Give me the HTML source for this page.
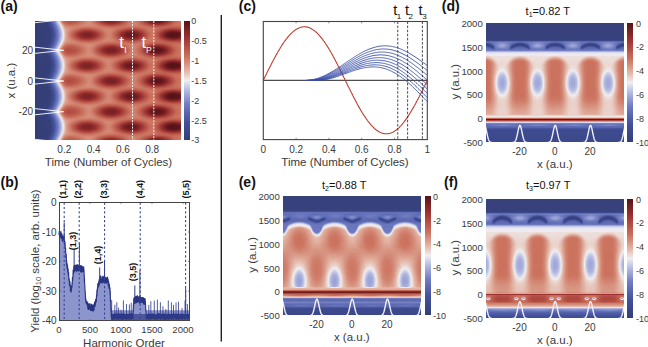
<!DOCTYPE html><html><head><meta charset="utf-8"><style>html,body{margin:0;padding:0;background:#fff}body{width:648px;height:347px;position:relative;overflow:hidden;font-family:"Liberation Sans",sans-serif}</style></head><body><div style="position:absolute;left:35px;top:21px;width:146px;height:119px;overflow:hidden"><div style="height:1px;background:linear-gradient(90deg,#343e76 0.5px,#36407b 11.5px,#45539e 15.5px,#7a85c7 19.5px,#c9cce7 22.5px,#eceaef 23.5px,#e0ab9a 25.5px,#cb7460 27.5px,#ba594c 30.5px,#b44f45 35.5px,#c06051 43.5px,#cf7d6a 49.5px,#d58d7a 54.5px,#cd7865 58.5px,#a03331 67.5px,#822527 72.5px,#7d2425 78.5px,#942e2d 83.5px,#ae453e 87.5px,#ce7a67 95.5px,#d1826f 99.5px,#c26454 105.5px,#9f3331 111.5px,#721f22 116.5px,#62171c 121.5px,#6a1b1f 126.5px,#8f2c2c 131.5px,#a93f39 134.5px,#c56857 140.5px,#cc7662 145.5px)"></div><div style="height:1px;background:linear-gradient(90deg,#343e76 0.5px,#354079 11.5px,#424f9a 15.5px,#707cc2 19.5px,#bac0e3 22.5px,#dcddeb 23.5px,#eddedb 24.5px,#e5baab 25.5px,#d0806d 27.5px,#c96e5a 28.5px,#b9564a 32.5px,#ba584c 39.5px,#cc7763 47.5px,#d58e7c 53.5px,#d18370 57.5px,#b04941 65.5px,#9c3130 69.5px,#872829 74.5px,#8a292a 79.5px,#a43835 84.5px,#cd7864 94.5px,#d18471 98.5px,#cd7965 102.5px,#ab423c 110.5px,#8d2a2b 114.5px,#701e21 119.5px,#6f1d21 124.5px,#892929 129.5px,#a83e39 133.5px,#c76b58 140.5px,#cd7763 145.5px)"></div><div style="height:1px;background:linear-gradient(90deg,#343e76 0.5px,#353f78 11.5px,#404d95 15.5px,#5e6bb3 18.5px,#7b86c7 20.5px,#c9cce7 23.5px,#ebeaef 24.5px,#ead0c9 25.5px,#e1ae9e 26.5px,#ce7c68 28.5px,#c86e5a 29.5px,#bd5c4e 33.5px,#c36554 41.5px,#cf7d6a 47.5px,#d6907d 53.5px,#d28774 57.5px,#b85449 65.5px,#a13432 71.5px,#962f2e 76.5px,#a63a36 82.5px,#ce7c68 94.5px,#d18471 99.5px,#c86d5a 105.5px,#972f2e 115.5px,#812527 120.5px,#852728 125.5px,#a73b37 131.5px,#c66b58 139.5px,#cd7864 145.5px)"></div><div style="height:1px;background:linear-gradient(90deg,#343e76 0.5px,#353f79 12.5px,#414f99 16.5px,#6f7bc2 20.5px,#b7bde2 23.5px,#d7d8ea 24.5px,#eee6e5 25.5px,#e7c4b8 26.5px,#dea695 27.5px,#ce7c68 29.5px,#c76c59 31.5px,#c36555 36.5px,#cc7561 43.5px,#d58d7b 51.5px,#d48a77 57.5px,#bc5b4e 66.5px,#a93f3a 73.5px,#aa403a 79.5px,#cf7e6b 94.5px,#d0816e 101.5px,#bf6050 109.5px,#a23532 117.5px,#972f2e 122.5px,#a63b37 128.5px,#c96e5b 139.5px,#cd7764 145.5px)"></div><div style="height:1px;background:linear-gradient(90deg,#343e76 0.5px,#353f77 12.5px,#404d95 16.5px,#5e6bb3 19.5px,#7b86c7 21.5px,#c6cae6 24.5px,#e6e5ee 25.5px,#ebd8d3 26.5px,#e4b8a8 27.5px,#d48b79 29.5px,#cd7966 31.5px,#ca705c 35.5px,#d48a77 51.5px,#d28673 59.5px,#bd5d4f 69.5px,#b44f45 76.5px,#c06152 84.5px,#ce7b68 93.5px,#ce7b68 104.5px,#ac433d 119.5px,#ae463f 126.5px,#c76c59 138.5px,#cb735f 145.5px)"></div><div style="height:1px;background:linear-gradient(90deg,#343e76 0.5px,#354079 13.5px,#42509a 17.5px,#717dc2 21.5px,#b7bde2 24.5px,#d6d7ea 25.5px,#efe9ea 26.5px,#e1ae9e 28.5px,#da9a88 29.5px,#d28673 31.5px,#cf7e6b 36.5px,#d0816e 48.5px,#d07f6c 63.5px,#c46755 71.5px,#c16353 79.5px,#cb7360 91.5px,#cc7662 102.5px,#cc7461 108.5px,#b85549 120.5px,#bf5f50 130.5px,#c76c59 145.5px)"></div><div style="height:1px;background:linear-gradient(90deg,#343e76 0.5px,#353f78 13.5px,#404e96 17.5px,#6c78bf 21.5px,#adb4de 24.5px,#e6e6ee 26.5px,#ecdad6 27.5px,#e6bdaf 28.5px,#dea696 29.5px,#d99886 30.5px,#d48b79 33.5px,#ce7c69 44.5px,#c96e5b 52.5px,#d0806d 65.5px,#ca705c 77.5px,#c96f5b 87.5px,#c26554 98.5px,#cc7561 110.5px,#c16353 124.5px,#bc5b4e 141.5px,#c06252 145.5px)"></div><div style="height:1px;background:linear-gradient(90deg,#343e76 0.5px,#36407a 14.5px,#44529d 18.5px,#7783c5 22.5px,#bdc2e4 25.5px,#dadbeb 26.5px,#eee6e6 27.5px,#e2b1a0 29.5px,#dca08f 30.5px,#d79482 32.5px,#ce7a67 41.5px,#c26454 47.5px,#bf5f50 54.5px,#cc7461 62.5px,#d18370 68.5px,#cc7662 82.5px,#b75348 94.5px,#bb5a4c 101.5px,#cd7764 112.5px,#c06151 127.5px,#af473f 137.5px,#b75448 145.5px)"></div><div style="height:1px;background:linear-gradient(90deg,#343e76 0.5px,#353f79 14.5px,#424f9a 18.5px,#707cc2 22.5px,#b5bbe1 25.5px,#eeecf0 27.5px,#e5b9aa 29.5px,#dea695 30.5px,#d89785 32.5px,#cd7864 39.5px,#b75348 47.5px,#b34d44 54.5px,#ca715d 64.5px,#d28774 70.5px,#d0806d 78.5px,#ae473f 91.5px,#a93f3a 97.5px,#ba594c 105.5px,#ce7a66 114.5px,#cc7662 119.5px,#b65147 128.5px,#a33533 135.5px,#a33633 141.5px,#ac433c 145.5px)"></div><div style="height:1px;background:linear-gradient(90deg,#343e76 0.5px,#353f78 14.5px,#414e98 18.5px,#6d79c0 22.5px,#cacde7 26.5px,#e7e6ee 27.5px,#ecdbd7 28.5px,#e6c0b3 29.5px,#e0aa9a 30.5px,#d89684 32.5px,#bf6051 41.5px,#a93e39 48.5px,#a63b37 54.5px,#b9564a 61.5px,#d28572 70.5px,#d38875 75.5px,#c46756 82.5px,#a23432 91.5px,#962f2e 96.5px,#a63a36 102.5px,#cd7864 114.5px,#cd7965 118.5px,#b45045 126.5px,#9d3230 131.5px,#862828 136.5px,#8a292a 141.5px,#9d3230 145.5px)"></div><div style="height:1px;background:linear-gradient(90deg,#343e76 0.5px,#353f78 14.5px,#404d96 18.5px,#6b77be 22.5px,#abb2dd 25.5px,#e1e1ec 27.5px,#ede0de 28.5px,#e7c4b9 29.5px,#e1ad9c 30.5px,#d89482 32.5px,#c56957 38.5px,#a33633 46.5px,#942e2d 52.5px,#a53835 58.5px,#ce7c69 69.5px,#d38977 73.5px,#cf7e6b 77.5px,#aa403a 86.5px,#922d2c 90.5px,#812527 95.5px,#8a292a 100.5px,#a73c38 105.5px,#c96e5b 113.5px,#cd7965 117.5px,#b75348 124.5px,#972f2e 129.5px,#752023 134.5px,#6f1d20 139.5px,#882829 145.5px)"></div><div style="height:1px;background:linear-gradient(90deg,#343e76 0.5px,#36407b 15.5px,#46539e 19.5px,#7a85c6 23.5px,#c0c5e4 26.5px,#dddeeb 27.5px,#eee4e3 28.5px,#e1ae9e 30.5px,#d79280 32.5px,#c56957 37.5px,#a23432 44.5px,#892929 49.5px,#8a292a 55.5px,#a43734 60.5px,#cf7d69 70.5px,#d38774 74.5px,#c36554 80.5px,#98302f 87.5px,#782124 92.5px,#721e21 97.5px,#852728 102.5px,#a53835 106.5px,#c66a58 113.5px,#cc7662 117.5px,#b65347 123.5px,#9c3130 127.5px,#6e1d20 132.5px,#5d151b 137.5px,#66191e 142.5px,#762123 145.5px)"></div><div style="height:1px;background:linear-gradient(90deg,#343e76 0.5px,#36407a 15.5px,#44529d 19.5px,#7883c5 23.5px,#bdc2e4 26.5px,#dadbeb 27.5px,#eee7e6 28.5px,#e1af9f 30.5px,#d6917e 32.5px,#c26453 37.5px,#a03331 43.5px,#822627 48.5px,#7e2426 54.5px,#942e2d 59.5px,#ae463e 63.5px,#cd7966 70.5px,#d28673 73.5px,#cf7d69 76.5px,#ae463f 83.5px,#972f2e 86.5px,#711e21 91.5px,#681a1e 97.5px,#7a2224 102.5px,#a53835 107.5px,#c86d5a 114.5px,#cb7460 117.5px,#b85649 122.5px,#9d3230 126.5px,#6a1b1f 131.5px,#571218 135.5px,#5b141a 142.5px,#6b1b1f 145.5px)"></div><div style="height:1px;background:linear-gradient(90deg,#343e76 0.5px,#35407a 15.5px,#44529d 19.5px,#7782c5 23.5px,#bcc1e3 26.5px,#d9daea 27.5px,#efe8e8 28.5px,#e2af9f 30.5px,#d6907e 32.5px,#c66a58 36.5px,#9b3130 43.5px,#7e2426 48.5px,#7c2325 55.5px,#972f2e 60.5px,#ca705c 69.5px,#d28572 73.5px,#ce7b68 76.5px,#ac433c 83.5px,#882829 87.5px,#6d1c20 91.5px,#65181d 97.5px,#742022 102.5px,#a23532 107.5px,#c76b59 114.5px,#cb725e 117.5px,#b75348 122.5px,#98302f 126.5px,#64181d 131.5px,#561218 134.5px,#5b141a 143.5px,#65191d 145.5px)"></div><div style="height:1px;background:linear-gradient(90deg,#343e76 0.5px,#35407a 15.5px,#44529d 19.5px,#7782c5 23.5px,#bcc1e4 26.5px,#d9daea 27.5px,#efe8e8 28.5px,#e2af9f 30.5px,#d6907e 32.5px,#c66a58 36.5px,#9b3130 43.5px,#7e2426 48.5px,#7d2325 55.5px,#972f2e 60.5px,#ca705c 69.5px,#d28572 73.5px,#ce7b68 76.5px,#ac433c 83.5px,#882829 87.5px,#6d1c20 91.5px,#65191d 97.5px,#752022 102.5px,#a33533 107.5px,#c76b59 114.5px,#cb725e 117.5px,#b75348 122.5px,#98302f 126.5px,#64181d 131.5px,#561218 134.5px,#5b141a 143.5px,#65191d 145.5px)"></div><div style="height:1px;background:linear-gradient(90deg,#343e76 0.5px,#36407a 15.5px,#45529d 19.5px,#7883c6 23.5px,#bec3e4 26.5px,#dbdbeb 27.5px,#eee6e6 28.5px,#e1af9f 30.5px,#d6917f 32.5px,#c26454 37.5px,#a13432 43.5px,#832627 48.5px,#7f2426 54.5px,#952e2d 59.5px,#ae463f 63.5px,#ce7a66 70.5px,#d28673 73.5px,#cf7d6a 76.5px,#ae473f 83.5px,#98302f 86.5px,#721f22 91.5px,#691b1f 97.5px,#7a2224 102.5px,#a53935 107.5px,#c86d5a 114.5px,#cb7460 117.5px,#b9564a 122.5px,#9e3231 126.5px,#6b1b1f 131.5px,#561218 136.5px,#5c151a 142.5px,#6c1c1f 145.5px)"></div><div style="height:1px;background:linear-gradient(90deg,#343e76 0.5px,#36407b 15.5px,#46549e 19.5px,#7a85c7 23.5px,#c1c5e5 26.5px,#dddeeb 27.5px,#eee4e3 28.5px,#e1ae9e 30.5px,#d79280 32.5px,#c66957 37.5px,#9c3130 45.5px,#882829 50.5px,#8b2a2a 55.5px,#a53835 60.5px,#cf7d6a 70.5px,#d38775 74.5px,#c36555 80.5px,#9a302f 87.5px,#792224 92.5px,#731f22 97.5px,#862728 102.5px,#a53935 106.5px,#c76b58 113.5px,#cc7663 117.5px,#b75348 123.5px,#9d3230 127.5px,#701e21 132.5px,#5f161b 137.5px,#681a1e 142.5px,#782124 145.5px)"></div><div style="height:1px;background:linear-gradient(90deg,#343e76 0.5px,#353f78 14.5px,#404e96 18.5px,#6b77be 22.5px,#abb2dd 25.5px,#e1e1ec 27.5px,#ede0dd 28.5px,#e7c4b9 29.5px,#e0ac9c 30.5px,#d89583 32.5px,#c66a58 38.5px,#a43734 46.5px,#962f2e 52.5px,#a63936 58.5px,#cc7763 68.5px,#d48a77 73.5px,#cf7e6b 77.5px,#ab413b 86.5px,#942e2d 90.5px,#832627 95.5px,#8c2a2a 100.5px,#a83d39 105.5px,#c96f5b 113.5px,#cd7966 117.5px,#b75448 124.5px,#99302f 129.5px,#772123 134.5px,#711e21 139.5px,#8a292a 145.5px)"></div><div style="height:1px;background:linear-gradient(90deg,#343e76 0.5px,#353f78 14.5px,#414e98 18.5px,#6e7ac0 22.5px,#cbcee7 26.5px,#e7e6ee 27.5px,#ecdbd6 28.5px,#e6bfb2 29.5px,#e0aa99 30.5px,#d89685 32.5px,#c06152 41.5px,#aa403a 48.5px,#a83c38 54.5px,#ba584b 61.5px,#d28573 70.5px,#d38875 75.5px,#c56856 82.5px,#a33533 91.5px,#99302f 96.5px,#a73c37 102.5px,#cd7864 114.5px,#cd7965 118.5px,#b55146 126.5px,#99302f 132.5px,#872829 137.5px,#912c2c 142.5px,#a03331 145.5px)"></div><div style="height:1px;background:linear-gradient(90deg,#343e76 0.5px,#353f79 14.5px,#42509a 18.5px,#717dc3 22.5px,#b5bbe2 25.5px,#efedf0 27.5px,#e4b8a9 29.5px,#dea695 30.5px,#d89785 32.5px,#cd7966 39.5px,#ba584b 46.5px,#b34e44 53.5px,#c36554 61.5px,#d28572 69.5px,#d18370 77.5px,#be5e4f 86.5px,#ab423c 94.5px,#ae473f 100.5px,#cd7865 113.5px,#cc7662 119.5px,#b75348 128.5px,#a33533 136.5px,#a63b37 142.5px,#ad443d 145.5px)"></div><div style="height:1px;background:linear-gradient(90deg,#343e76 0.5px,#36407a 14.5px,#45529d 18.5px,#7883c6 22.5px,#bec3e4 25.5px,#dcdceb 26.5px,#eee5e4 27.5px,#e2b09f 29.5px,#dc9f8e 30.5px,#d79482 32.5px,#ce7b68 41.5px,#c36655 47.5px,#c06152 54.5px,#cc7662 62.5px,#d18370 68.5px,#cb735f 83.5px,#b85549 94.5px,#be5e4f 102.5px,#cd7763 112.5px,#c06152 127.5px,#b04941 137.5px,#b85549 145.5px)"></div><div style="height:1px;background:linear-gradient(90deg,#343e76 0.5px,#353f78 13.5px,#404e97 17.5px,#6c78bf 21.5px,#aeb5de 24.5px,#e8e7ee 26.5px,#ebd9d4 27.5px,#e5bcad 28.5px,#dea594 29.5px,#d6907d 31.5px,#cd7865 46.5px,#ca715d 54.5px,#d0806d 65.5px,#c96e5b 76.5px,#ca705c 87.5px,#c36655 98.5px,#cc7561 110.5px,#c16252 123.5px,#bd5d4f 141.5px,#c16353 145.5px)"></div><div style="height:1px;background:linear-gradient(90deg,#343e76 0.5px,#354079 13.5px,#42509b 17.5px,#727ec3 21.5px,#b8bee3 24.5px,#d7d8ea 25.5px,#efe8e8 26.5px,#e1ad9c 28.5px,#d99887 29.5px,#d28572 31.5px,#cf7d69 36.5px,#d1826f 48.5px,#d0816e 62.5px,#c36554 71.5px,#c06252 79.5px,#cc7461 91.5px,#cc7663 107.5px,#b75348 120.5px,#bd5c4e 129.5px,#c86d5a 145.5px)"></div><div style="height:1px;background:linear-gradient(90deg,#343e76 0.5px,#353f78 12.5px,#404d95 16.5px,#6a76bd 20.5px,#abb2dd 23.5px,#e7e7ee 25.5px,#ebd6d1 26.5px,#e4b6a6 27.5px,#d48a77 29.5px,#cd7864 31.5px,#c96e5b 35.5px,#d48b78 51.5px,#d28673 59.5px,#bf5f50 68.5px,#b34e44 75.5px,#ba594c 82.5px,#ce7c68 93.5px,#ce7b68 104.5px,#ab413b 119.5px,#ab423c 125.5px,#c96e5b 139.5px,#cb7460 145.5px)"></div><div style="height:1px;background:linear-gradient(90deg,#343e76 0.5px,#354079 12.5px,#424f9a 16.5px,#707cc2 20.5px,#b8bee3 23.5px,#d9daea 24.5px,#eee3e2 25.5px,#e6c2b5 26.5px,#dda493 27.5px,#ce7a67 29.5px,#c76b58 31.5px,#c26454 36.5px,#cb7460 43.5px,#d58d7b 51.5px,#d58c7a 56.5px,#c66b58 63.5px,#aa403a 72.5px,#a73c38 78.5px,#bc5b4e 86.5px,#d0806d 95.5px,#d0816e 101.5px,#be5e50 109.5px,#a03331 117.5px,#952e2e 122.5px,#a53935 128.5px,#c86e5a 139.5px,#cd7764 145.5px)"></div><div style="height:1px;background:linear-gradient(90deg,#343e76 0.5px,#353f78 11.5px,#404d95 15.5px,#6a77bd 19.5px,#949dd2 21.5px,#cbcee7 23.5px,#edecef 24.5px,#e0ac9c 26.5px,#ce7a67 28.5px,#c86d5a 29.5px,#bc5b4d 33.5px,#c26454 41.5px,#cf7c69 47.5px,#d68f7d 53.5px,#d28674 57.5px,#b75348 65.5px,#9f3331 71.5px,#942e2d 76.5px,#a53835 82.5px,#ce7b68 94.5px,#d18471 99.5px,#c86d5a 105.5px,#9d3230 114.5px,#812527 119.5px,#802526 124.5px,#99302f 129.5px,#c36655 138.5px,#cd7864 145.5px)"></div><div style="height:1px;background:linear-gradient(90deg,#343e76 0.5px,#35407a 11.5px,#42509b 15.5px,#737ec3 19.5px,#bec3e4 22.5px,#e0e0ec 23.5px,#ecdad6 24.5px,#e4b6a6 25.5px,#cf7e6b 27.5px,#c86c59 28.5px,#b85549 32.5px,#ba584b 39.5px,#cc7662 47.5px,#d58e7b 53.5px,#d1826f 57.5px,#aa413b 66.5px,#932d2d 70.5px,#842728 75.5px,#8c2a2a 80.5px,#a83d38 85.5px,#cd7764 94.5px,#d18471 98.5px,#cd7865 102.5px,#b04941 109.5px,#932d2d 113.5px,#721e21 118.5px,#6b1c1f 123.5px,#7f2426 128.5px,#a73c38 133.5px,#c66a58 140.5px,#cc7763 145.5px)"></div><div style="height:1px;background:linear-gradient(90deg,#343e76 0.5px,#353f79 10.5px,#414e97 14.5px,#6d79bf 18.5px,#b3b9e1 21.5px,#d4d6e9 22.5px,#eee7e6 23.5px,#e7c2b6 24.5px,#d28472 26.5px,#c96f5b 27.5px,#b9564a 30.5px,#b34e44 35.5px,#bf5f50 43.5px,#cc7663 48.5px,#d48c79 53.5px,#d28472 56.5px,#b55046 63.5px,#9d3230 67.5px,#7f2426 72.5px,#7b2325 78.5px,#912c2c 83.5px,#ac433c 87.5px,#cd7966 95.5px,#d1826f 99.5px,#c16353 105.5px,#9b3130 111.5px,#6f1d20 116.5px,#5f161b 121.5px,#671a1e 126.5px,#8c2a2a 131.5px,#a73c38 134.5px,#c46856 140.5px,#cc7662 145.5px)"></div><div style="height:1px;background:linear-gradient(90deg,#343e76 0.5px,#36407b 10.5px,#44529d 14.5px,#7783c5 18.5px,#c5c9e6 21.5px,#e8e7ee 22.5px,#ead2cb 23.5px,#e1ae9e 24.5px,#cc7662 26.5px,#be5e4f 28.5px,#b24c43 32.5px,#b65247 40.5px,#cb7460 48.5px,#d48b78 53.5px,#d18370 56.5px,#b24b42 63.5px,#962f2e 67.5px,#792224 72.5px,#772123 79.5px,#922d2c 84.5px,#ae463f 88.5px,#cd7764 95.5px,#d0816e 99.5px,#bf6051 105.5px,#a03331 110.5px,#6e1d20 115.5px,#5b141a 120.5px,#60171b 126.5px,#7a2224 130.5px,#aa403b 135.5px,#c66a58 141.5px,#cc7561 145.5px)"></div><div style="height:1px;background:linear-gradient(90deg,#343e76 0.5px,#353f78 9.5px,#404d95 13.5px,#5e6bb3 16.5px,#7b86c7 18.5px,#acb3dd 20.5px,#eeecf0 22.5px,#dfa898 24.5px,#ca715d 26.5px,#b9564a 29.5px,#b14b42 34.5px,#b9574b 42.5px,#cd7966 49.5px,#d48a78 53.5px,#d1826f 56.5px,#b14a42 63.5px,#942e2d 67.5px,#782124 72.5px,#762023 79.5px,#902c2c 84.5px,#a83d38 87.5px,#cd7763 95.5px,#d0816e 99.5px,#bf5f50 105.5px,#9f3231 110.5px,#6c1c20 115.5px,#591419 120.5px,#5f161b 126.5px,#792124 130.5px,#aa3f3a 135.5px,#c66a58 141.5px,#cc7561 145.5px)"></div><div style="height:1px;background:linear-gradient(90deg,#343e76 0.5px,#35407a 10.5px,#42509b 14.5px,#737fc3 18.5px,#bfc3e4 21.5px,#e1e1ec 22.5px,#ebd9d4 23.5px,#e3b4a4 24.5px,#ce7a67 26.5px,#c66957 27.5px,#b45045 31.5px,#b55046 39.5px,#cc7461 48.5px,#d48b79 53.5px,#d18370 56.5px,#b34d43 63.5px,#98302f 67.5px,#7b2225 72.5px,#772123 78.5px,#8c2a2b 83.5px,#aa403a 87.5px,#cd7864 95.5px,#d0816e 99.5px,#c06151 105.5px,#a23432 110.5px,#701e21 115.5px,#5c151a 120.5px,#62171c 126.5px,#862829 131.5px,#ab423c 135.5px,#c76b58 141.5px,#cc7561 145.5px)"></div><div style="height:1px;background:linear-gradient(90deg,#343e76 0.5px,#353f78 10.5px,#404d95 14.5px,#5e6bb3 17.5px,#7c87c7 19.5px,#acb3de 21.5px,#eeedf0 23.5px,#dfa998 25.5px,#cb7460 27.5px,#bb594c 30.5px,#b44f45 35.5px,#c06151 43.5px,#cf7e6a 49.5px,#d58d7a 54.5px,#cd7865 58.5px,#99302f 68.5px,#802526 73.5px,#812527 79.5px,#a43734 85.5px,#cc7561 94.5px,#d18370 98.5px,#cc7663 102.5px,#ad443d 109.5px,#8b2a2a 113.5px,#691b1f 118.5px,#64181d 123.5px,#772123 128.5px,#a43634 133.5px,#c56957 140.5px,#cc7662 145.5px)"></div><div style="height:1px;background:linear-gradient(90deg,#343e76 0.5px,#353f79 11.5px,#414f98 15.5px,#6f7bc1 19.5px,#b6bce2 22.5px,#d7d9ea 23.5px,#eee3e2 24.5px,#e6c0b3 25.5px,#d28572 27.5px,#ca705d 28.5px,#ba584b 32.5px,#bc5a4d 39.5px,#cb735f 46.5px,#d58e7c 53.5px,#d18471 57.5px,#bc5b4d 63.5px,#a03331 69.5px,#8b2a2a 74.5px,#8f2b2b 79.5px,#a73b37 84.5px,#cd7965 94.5px,#d18471 99.5px,#c66957 105.5px,#9a302f 113.5px,#792124 118.5px,#721f22 123.5px,#862828 128.5px,#a53935 132.5px,#c46856 139.5px,#cd7763 145.5px)"></div><div style="height:1px;background:linear-gradient(90deg,#343e76 0.5px,#36407a 12.5px,#44529d 16.5px,#7783c5 20.5px,#c3c7e5 23.5px,#e5e4ed 24.5px,#ebd7d1 25.5px,#e3b4a4 26.5px,#d0816e 28.5px,#ca715d 29.5px,#bf5f50 33.5px,#c56856 41.5px,#d58f7c 52.5px,#d48c79 56.5px,#be5e50 64.5px,#a33533 72.5px,#9d3230 77.5px,#ac433d 83.5px,#cd7965 93.5px,#d18471 99.5px,#c96f5b 105.5px,#9e3231 115.5px,#882829 120.5px,#8c2a2a 125.5px,#a53936 130.5px,#c76c59 139.5px,#cd7864 145.5px)"></div><div style="height:1px;background:linear-gradient(90deg,#343e76 0.5px,#353f78 12.5px,#414e98 16.5px,#6e7ac0 20.5px,#b3b9e0 23.5px,#efebed 25.5px,#e0ab9a 27.5px,#d0806d 29.5px,#c96f5b 31.5px,#c56857 36.5px,#cd7864 43.5px,#d58e7c 52.5px,#d38875 58.5px,#bc5b4d 67.5px,#ac433d 74.5px,#af4840 80.5px,#cf7c69 93.5px,#d0806d 101.5px,#c46856 108.5px,#a43734 118.5px,#a23432 124.5px,#b75448 132.5px,#ca705c 140.5px,#cc7663 145.5px)"></div><div style="height:1px;background:linear-gradient(90deg,#343e76 0.5px,#36407a 13.5px,#44529d 17.5px,#7883c6 21.5px,#c1c6e5 24.5px,#e1e1ec 25.5px,#ecdeda 26.5px,#e6beb0 27.5px,#dda392 28.5px,#d6907d 29.5px,#cf7d6a 31.5px,#cc7461 36.5px,#d38775 50.5px,#d28471 60.5px,#c06152 69.5px,#b85549 76.5px,#c56856 85.5px,#ce7966 93.5px,#cd7966 105.5px,#af4840 120.5px,#b44f45 127.5px,#c76b59 138.5px,#ca715d 145.5px)"></div><div style="height:1px;background:linear-gradient(90deg,#343e76 0.5px,#353f79 13.5px,#414f99 17.5px,#6f7bc1 21.5px,#b4bae1 24.5px,#f0eef0 26.5px,#e3b3a3 28.5px,#d6907e 30.5px,#d1826f 34.5px,#d07f6c 47.5px,#cf7d6a 56.5px,#d0816e 63.5px,#c56957 72.5px,#c66a58 81.5px,#ca715d 90.5px,#ca715d 101.5px,#cc7662 108.5px,#bb5a4c 121.5px,#c56957 145.5px)"></div><div style="height:1px;background:linear-gradient(90deg,#343e76 0.5px,#353f78 13.5px,#404d95 17.5px,#6b77bd 21.5px,#aab1dd 24.5px,#e2e2ed 26.5px,#eddedb 27.5px,#e6c1b5 28.5px,#dfaa99 29.5px,#da9a89 30.5px,#d58e7c 33.5px,#ce7b68 43.5px,#c66b58 50.5px,#ca715d 58.5px,#d0816e 66.5px,#cc7561 78.5px,#c96f5b 86.5px,#bf5f50 96.5px,#cc7562 111.5px,#b85549 139.5px,#be5e4f 145.5px)"></div><div style="height:1px;background:linear-gradient(90deg,#343e76 0.5px,#35407a 14.5px,#43519c 18.5px,#7581c4 22.5px,#bac0e3 25.5px,#d7d9ea 26.5px,#efe9ea 27.5px,#e3b3a3 29.5px,#dda291 30.5px,#d89583 32.5px,#ce7b68 40.5px,#c36555 45.5px,#ba594c 52.5px,#c66957 60.5px,#d18471 68.5px,#ce7b68 80.5px,#b44f45 93.5px,#b65247 100.5px,#cd7865 113.5px,#c56857 124.5px,#ab423c 136.5px,#b04941 143.5px,#b44f45 145.5px)"></div><div style="height:1px;background:linear-gradient(90deg,#343e76 0.5px,#353f79 14.5px,#414f99 18.5px,#6f7bc1 22.5px,#cfd1e8 26.5px,#eceaef 27.5px,#e5bbad 29.5px,#dfa897 30.5px,#d89785 32.5px,#cc7460 39.5px,#b14b42 48.5px,#af4740 54.5px,#c66957 63.5px,#d28774 70.5px,#d28673 76.5px,#c16353 84.5px,#a83e39 92.5px,#a63a36 98.5px,#bb594c 106.5px,#ce7966 114.5px,#cc7662 119.5px,#b34d43 128.5px,#9e3231 134.5px,#982f2f 139.5px,#a83d38 145.5px)"></div><div style="height:1px;background:linear-gradient(90deg,#343e76 0.5px,#353f78 14.5px,#404e97 18.5px,#6d79bf 22.5px,#c8cce6 26.5px,#e5e4ed 27.5px,#ecddd9 28.5px,#e6c1b5 29.5px,#e0ab9a 30.5px,#d89684 32.5px,#c16353 40.5px,#a53936 48.5px,#a33633 54.5px,#b65247 61.5px,#d18471 70.5px,#d48a77 74.5px,#cc7662 79.5px,#a03331 90.5px,#8f2c2c 95.5px,#98302f 100.5px,#ae463e 105.5px,#cc7663 114.5px,#ce7b67 117.5px,#bb5a4c 124.5px,#9d3230 130.5px,#812527 135.5px,#802526 140.5px,#972f2e 145.5px)"></div><div style="height:1px;background:linear-gradient(90deg,#343e76 0.5px,#353f77 14.5px,#404d95 18.5px,#6a77bd 22.5px,#a9b1dc 25.5px,#e0e0ec 27.5px,#ede2e0 28.5px,#e1ad9d 30.5px,#d79482 32.5px,#c46655 38.5px,#9f3331 46.5px,#8f2c2c 51.5px,#982f2e 56.5px,#a93f3a 60.5px,#d0806d 70.5px,#d38876 74.5px,#c56957 80.5px,#9a312f 88.5px,#7f2426 93.5px,#7e2426 98.5px,#972f2e 103.5px,#c56857 112.5px,#cd7965 116.5px,#c36554 121.5px,#9c3130 128.5px,#741f22 133.5px,#681a1e 138.5px,#772123 143.5px,#822627 145.5px)"></div><div style="height:1px;background:linear-gradient(90deg,#343e76 0.5px,#36407a 15.5px,#45539e 19.5px,#7984c6 23.5px,#bfc4e4 26.5px,#dcddeb 27.5px,#eee5e4 28.5px,#e1ae9e 30.5px,#d79280 32.5px,#c46756 37.5px,#9e3231 44.5px,#852728 49.5px,#862829 55.5px,#a73b37 61.5px,#ce7c68 70.5px,#d38774 73.5px,#cd7865 77.5px,#a63936 85.5px,#782124 91.5px,#6e1d20 96.5px,#7b2225 101.5px,#a33533 106.5px,#c66957 113.5px,#cc7561 117.5px,#b55146 123.5px,#98302f 127.5px,#6a1b1f 132.5px,#5a1419 137.5px,#62181c 142.5px,#721f22 145.5px)"></div><div style="height:1px;background:linear-gradient(90deg,#343e76 0.5px,#35407a 15.5px,#44529d 19.5px,#7783c5 23.5px,#bdc2e4 26.5px,#dadbeb 27.5px,#efe7e7 28.5px,#e1af9f 30.5px,#d6907e 32.5px,#c16353 37.5px,#9e3231 43.5px,#812527 48.5px,#7d2325 54.5px,#922d2c 59.5px,#a73c38 62.5px,#cd7965 70.5px,#d28673 73.5px,#ce7c69 76.5px,#ad453e 83.5px,#952e2e 86.5px,#701d21 91.5px,#67191e 97.5px,#772123 102.5px,#a43734 107.5px,#c76c59 114.5px,#cb735f 117.5px,#b85449 122.5px,#9b3130 126.5px,#671a1e 131.5px,#561218 135.5px,#591319 142.5px,#681a1e 145.5px)"></div><div style="height:1px;background:linear-gradient(90deg,#343e76 0.5px,#35407a 15.5px,#44529d 19.5px,#7682c5 23.5px,#bcc1e3 26.5px,#d9daea 27.5px,#efe8e8 28.5px,#e2af9f 30.5px,#d6907d 32.5px,#c66a57 36.5px,#9b312f 43.5px,#7e2426 48.5px,#7c2325 55.5px,#962f2e 60.5px,#bc5b4d 66.5px,#d18370 72.5px,#d0816e 75.5px,#b85549 81.5px,#9c3130 85.5px,#711e21 90.5px,#64181d 95.5px,#6a1b1f 100.5px,#832627 104.5px,#a83d38 108.5px,#c76b59 114.5px,#cb725e 117.5px,#b65347 122.5px,#972f2e 126.5px,#64181d 131.5px,#561218 134.5px,#5a1419 143.5px,#64181d 145.5px)"></div><div style="height:1px;background:linear-gradient(90deg,#343e76 0.5px,#35407a 15.5px,#44529d 19.5px,#7782c5 23.5px,#bdc2e4 26.5px,#d9dbeb 27.5px,#efe7e7 28.5px,#e2af9f 30.5px,#d6907e 32.5px,#c16252 37.5px,#9c3130 43.5px,#7f2426 48.5px,#7d2425 55.5px,#98302f 60.5px,#ca715d 69.5px,#d28573 73.5px,#ce7c68 76.5px,#ac443d 83.5px,#89292a 87.5px,#6a1b1f 92.5px,#67191e 98.5px,#7d2325 103.5px,#a93f39 108.5px,#c76c59 114.5px,#cb735f 117.5px,#b75448 122.5px,#99302f 126.5px,#66191d 131.5px,#561218 135.5px,#581319 142.5px,#67191e 145.5px)"></div><div style="height:1px;background:linear-gradient(90deg,#343e76 0.5px,#36407a 15.5px,#45539d 19.5px,#7884c6 23.5px,#bec3e4 26.5px,#dbdceb 27.5px,#eee6e5 28.5px,#e1af9e 30.5px,#d6917f 32.5px,#c36655 37.5px,#9b3130 44.5px,#832627 49.5px,#842628 55.5px,#a53935 61.5px,#ce7b67 70.5px,#d28774 73.5px,#cf7e6a 76.5px,#b04940 83.5px,#912c2c 87.5px,#711e21 92.5px,#6d1c20 98.5px,#842728 103.5px,#a73b37 107.5px,#c86d5a 114.5px,#cc7461 117.5px,#b9574b 122.5px,#a13332 126.5px,#6e1d20 131.5px,#581319 136.5px,#5b141a 141.5px,#6f1d20 145.5px)"></div><div style="height:1px;background:linear-gradient(90deg,#343e76 0.5px,#343f77 14.5px,#404d95 18.5px,#6a76bd 22.5px,#a8b0dc 25.5px,#dedfec 27.5px,#eee3e1 28.5px,#e1ae9d 30.5px,#d79381 32.5px,#c26454 38.5px,#a03331 45.5px,#8c2a2a 50.5px,#8f2c2c 55.5px,#a73b37 60.5px,#cf7e6b 70.5px,#d38875 74.5px,#c46756 80.5px,#9e3231 87.5px,#7d2425 92.5px,#772123 97.5px,#8a292a 102.5px,#a73c38 106.5px,#c76c59 113.5px,#cd7763 117.5px,#b85549 123.5px,#972f2e 128.5px,#6f1d20 133.5px,#63181c 138.5px,#721e22 143.5px,#7d2325 145.5px)"></div><div style="height:1px;background:linear-gradient(90deg,#343e76 0.5px,#353f78 14.5px,#404e96 18.5px,#6c78bf 22.5px,#c6cae6 26.5px,#e3e3ed 27.5px,#eddfdc 28.5px,#e7c3b7 29.5px,#e0ac9b 30.5px,#d89583 32.5px,#bf5f50 40.5px,#a43834 47.5px,#9c3130 53.5px,#a83e39 58.5px,#cf7e6b 69.5px,#d48a77 74.5px,#cb7460 79.5px,#a03331 89.5px,#8a292a 94.5px,#8e2b2b 99.5px,#a73b37 104.5px,#ca705c 113.5px,#ce7a66 117.5px,#b9574a 124.5px,#972f2e 130.5px,#7a2224 135.5px,#792224 140.5px,#902c2c 145.5px)"></div><div style="height:1px;background:linear-gradient(90deg,#343e76 0.5px,#353f78 14.5px,#414f99 18.5px,#6e7bc1 22.5px,#cdcfe7 26.5px,#e9e8ee 27.5px,#ebd9d4 28.5px,#e6bdb0 29.5px,#dfa998 30.5px,#d89785 32.5px,#c36554 41.5px,#ac433c 49.5px,#ad443d 55.5px,#cc7662 66.5px,#d38875 71.5px,#d28673 76.5px,#bf5f50 84.5px,#a53835 92.5px,#a23432 98.5px,#b85549 106.5px,#cd7965 114.5px,#cd7966 118.5px,#b85549 126.5px,#9b312f 133.5px,#8f2c2c 138.5px,#9d3230 143.5px,#a43834 145.5px)"></div><div style="height:1px;background:linear-gradient(90deg,#343e76 0.5px,#354079 14.5px,#42509b 18.5px,#737fc3 22.5px,#b8bee2 25.5px,#f0ecee 27.5px,#e4b6a6 29.5px,#dda493 30.5px,#d89684 32.5px,#cf7d6a 39.5px,#c26554 44.5px,#b75348 51.5px,#be5e50 58.5px,#d28572 69.5px,#cf7e6a 79.5px,#b04941 93.5px,#b24c43 100.5px,#cd7865 113.5px,#cb725f 120.5px,#b04a41 131.5px,#a63b37 138.5px,#b04a41 145.5px)"></div><div style="height:1px;background:linear-gradient(90deg,#343e76 0.5px,#343f77 13.5px,#404d94 17.5px,#5d6ab2 20.5px,#7a85c7 22.5px,#c1c6e5 25.5px,#dfdfec 26.5px,#ede2e0 27.5px,#e7c5ba 28.5px,#e1ad9c 29.5px,#db9d8c 30.5px,#d6907e 33.5px,#ce7b68 42.5px,#c56957 48.5px,#c56957 56.5px,#d1826f 67.5px,#cb725e 84.5px,#bb5a4d 95.5px,#c46856 104.5px,#cc7662 112.5px,#bb594c 131.5px,#b44f45 139.5px,#bb5a4c 145.5px)"></div><div style="height:1px;background:linear-gradient(90deg,#343e76 0.5px,#353f78 13.5px,#414e98 17.5px,#6e7ac0 21.5px,#b1b7e0 24.5px,#eceaef 26.5px,#e4b7a7 28.5px,#d79482 30.5px,#d28673 34.5px,#cf7d69 46.5px,#cc7663 54.5px,#d0806d 64.5px,#c76b59 74.5px,#ca6f5c 89.5px,#c76c59 100.5px,#cc7561 109.5px,#be5e4f 122.5px,#c36554 144.5px,#c46655 145.5px)"></div><div style="height:1px;background:linear-gradient(90deg,#343e76 0.5px,#35407a 13.5px,#43519c 17.5px,#7580c4 21.5px,#bdc2e4 24.5px,#dcdceb 25.5px,#eee3e1 26.5px,#e7c4b8 27.5px,#dfa897 28.5px,#d79482 29.5px,#d0816e 31.5px,#cd7965 36.5px,#d28572 49.5px,#d18370 61.5px,#c16353 70.5px,#bc5b4d 77.5px,#cd7763 92.5px,#cd7864 106.5px,#b34e44 120.5px,#b9564a 128.5px,#c66a58 139.5px,#c96f5b 145.5px)"></div><div style="height:1px;background:linear-gradient(90deg,#343e76 0.5px,#353f78 12.5px,#404e96 16.5px,#6c78bf 20.5px,#afb5df 23.5px,#edebef 25.5px,#e2b1a0 27.5px,#d28572 29.5px,#cb735f 31.5px,#c76c59 36.5px,#ce7b68 43.5px,#d58d7a 52.5px,#d28573 59.5px,#bc5a4d 68.5px,#af4840 75.5px,#b75448 82.5px,#cf7c69 93.5px,#cf7d6a 103.5px,#b9574a 112.5px,#a73b37 119.5px,#a73c38 125.5px,#c96e5b 139.5px,#cc7561 145.5px)"></div><div style="height:1px;background:linear-gradient(90deg,#343e76 0.5px,#35407a 12.5px,#42509b 16.5px,#747fc4 20.5px,#bec3e4 23.5px,#dfdfec 24.5px,#ecddda 25.5px,#e5bbac 26.5px,#d28673 28.5px,#cc7662 29.5px,#c26454 32.5px,#c26453 38.5px,#cc7561 44.5px,#d58f7c 52.5px,#d38976 57.5px,#b9564a 66.5px,#a53835 73.5px,#a53935 79.5px,#cf7e6b 94.5px,#d18370 100.5px,#c46756 107.5px,#9e3231 116.5px,#8e2b2b 121.5px,#972f2e 126.5px,#ad443d 131.5px,#c86d5a 139.5px,#cd7864 145.5px)"></div><div style="height:1px;background:linear-gradient(90deg,#343e76 0.5px,#353f78 11.5px,#404e97 15.5px,#6c79bf 19.5px,#b1b8e0 22.5px,#efeaeb 24.5px,#dea695 26.5px,#cc7561 28.5px,#be5e50 31.5px,#ba584b 36.5px,#ca705c 45.5px,#d58d7b 52.5px,#d38a77 56.5px,#be5e4f 63.5px,#9f3331 70.5px,#8f2c2c 75.5px,#972f2e 80.5px,#a93f39 84.5px,#ce7a67 94.5px,#d18471 99.5px,#c76b58 105.5px,#972f2e 114.5px,#7b2225 119.5px,#7a2224 124.5px,#932d2d 129.5px,#b24b42 134.5px,#c86d5a 140.5px,#cd7764 145.5px)"></div><div style="height:1px;background:linear-gradient(90deg,#343e76 0.5px,#36407b 11.5px,#44529d 15.5px,#7782c5 19.5px,#c4c8e5 22.5px,#e7e6ee 23.5px,#ead3cc 24.5px,#e2b09f 25.5px,#cd7865 27.5px,#c06152 29.5px,#b65146 33.5px,#bc5b4d 41.5px,#cb7460 47.5px,#d58d7b 53.5px,#d0816e 57.5px,#a83d39 66.5px,#8a292a 71.5px,#802526 76.5px,#8c2a2b 81.5px,#a63a36 85.5px,#cc7662 94.5px,#d18370 98.5px,#cd7764 102.5px,#ae473f 109.5px,#99302f 112.5px,#721e21 117.5px,#67191e 122.5px,#742022 127.5px,#a53936 133.5px,#c66957 140.5px,#cc7663 145.5px)"></div><div style="height:1px;background:linear-gradient(90deg,#343e76 0.5px,#354079 10.5px,#414f99 14.5px,#6f7bc1 18.5px,#b8bee3 21.5px,#dadbeb 22.5px,#ede0dd 23.5px,#e5bbad 24.5px,#d07f6c 26.5px,#c76c59 27.5px,#b55146 31.5px,#b44f45 38.5px,#ca6f5c 47.5px,#d48b79 53.5px,#d18471 56.5px,#b44e44 63.5px,#9a312f 67.5px,#7d2325 72.5px,#792224 78.5px,#8e2b2b 83.5px,#ab413b 87.5px,#cd7865 95.5px,#d0816e 99.5px,#c06252 105.5px,#99302f 111.5px,#6c1c1f 116.5px,#5d151a 121.5px,#64181d 126.5px,#892929 131.5px,#a63a36 134.5px,#c46756 140.5px,#cc7562 145.5px)"></div><div style="height:2px;background:linear-gradient(90deg,#343e76 0.5px,#36407b 10.5px,#45539e 14.5px,#7984c6 18.5px,#c7cbe6 21.5px,#eae9ef 22.5px,#e9cfc7 23.5px,#e0ac9b 24.5px,#cb7460 26.5px,#b9574a 29.5px,#b14b42 34.5px,#ba574b 42.5px,#cd7966 49.5px,#d48b78 53.5px,#d1826f 56.5px,#b14b42 63.5px,#952e2e 67.5px,#782124 72.5px,#762023 79.5px,#912c2c 84.5px,#ae463e 88.5px,#cd7763 95.5px,#d0816e 99.5px,#bf6050 105.5px,#9f3331 110.5px,#6d1c20 115.5px,#5a1419 120.5px,#5f161b 126.5px,#792224 130.5px,#aa403a 135.5px,#c66a58 141.5px,#cc7561 145.5px)"></div><div style="height:1px;background:linear-gradient(90deg,#343e76 0.5px,#354079 10.5px,#414f99 14.5px,#6f7bc1 18.5px,#b8bee3 21.5px,#dadbeb 22.5px,#ede0dd 23.5px,#e5bbad 24.5px,#d07f6c 26.5px,#c76c59 27.5px,#b55146 31.5px,#b44f45 38.5px,#ca6f5c 47.5px,#d48b79 53.5px,#d18471 56.5px,#b44e44 63.5px,#9a312f 67.5px,#7d2325 72.5px,#792224 78.5px,#8e2b2b 83.5px,#ab413b 87.5px,#cd7865 95.5px,#d0816e 99.5px,#c06252 105.5px,#99302f 111.5px,#6c1c1f 116.5px,#5d151a 121.5px,#64181d 126.5px,#892929 131.5px,#a63a36 134.5px,#c46756 140.5px,#cc7562 145.5px)"></div><div style="height:1px;background:linear-gradient(90deg,#343e76 0.5px,#36407b 11.5px,#44529d 15.5px,#7782c5 19.5px,#c4c8e5 22.5px,#e7e6ee 23.5px,#ead3cc 24.5px,#e2b09f 25.5px,#cd7865 27.5px,#c06152 29.5px,#b65146 33.5px,#bc5b4d 41.5px,#cb7460 47.5px,#d58d7b 53.5px,#d0816e 57.5px,#a83d39 66.5px,#8a292a 71.5px,#802526 76.5px,#8c2a2b 81.5px,#a63a36 85.5px,#cc7662 94.5px,#d18370 98.5px,#cd7764 102.5px,#ae473f 109.5px,#99302f 112.5px,#721e21 117.5px,#67191e 122.5px,#742022 127.5px,#a53936 133.5px,#c66957 140.5px,#cc7663 145.5px)"></div><div style="height:1px;background:linear-gradient(90deg,#343e76 0.5px,#353f78 11.5px,#404e97 15.5px,#6c79bf 19.5px,#b1b8e0 22.5px,#efeaeb 24.5px,#dea695 26.5px,#cc7561 28.5px,#be5e50 31.5px,#ba584b 36.5px,#ca705c 45.5px,#d58d7b 52.5px,#d38a77 56.5px,#be5e4f 63.5px,#9f3331 70.5px,#8f2c2c 75.5px,#972f2e 80.5px,#a93f39 84.5px,#ce7a67 94.5px,#d18471 99.5px,#c76b58 105.5px,#972f2e 114.5px,#7b2225 119.5px,#7a2224 124.5px,#932d2d 129.5px,#b24b42 134.5px,#c86d5a 140.5px,#cd7764 145.5px)"></div><div style="height:1px;background:linear-gradient(90deg,#343e76 0.5px,#35407a 12.5px,#42509b 16.5px,#747fc4 20.5px,#bec3e4 23.5px,#dfdfec 24.5px,#ecddda 25.5px,#e5bbac 26.5px,#d28673 28.5px,#cc7662 29.5px,#c26454 32.5px,#c26453 38.5px,#cc7561 44.5px,#d58f7c 52.5px,#d38976 57.5px,#b9564a 66.5px,#a53835 73.5px,#a53935 79.5px,#cf7e6b 94.5px,#d18370 100.5px,#c46756 107.5px,#9e3231 116.5px,#8e2b2b 121.5px,#972f2e 126.5px,#ad443d 131.5px,#c86d5a 139.5px,#cd7864 145.5px)"></div><div style="height:1px;background:linear-gradient(90deg,#343e76 0.5px,#353f78 12.5px,#404e96 16.5px,#6c78bf 20.5px,#afb5df 23.5px,#edebef 25.5px,#e2b1a0 27.5px,#d28572 29.5px,#cb735f 31.5px,#c76c59 36.5px,#ce7b68 43.5px,#d58d7a 52.5px,#d28573 59.5px,#bc5a4d 68.5px,#af4840 75.5px,#b75448 82.5px,#cf7c69 93.5px,#cf7d6a 103.5px,#b9574a 112.5px,#a73b37 119.5px,#a73c38 125.5px,#c96e5b 139.5px,#cc7561 145.5px)"></div><div style="height:1px;background:linear-gradient(90deg,#343e76 0.5px,#35407a 13.5px,#43519c 17.5px,#7580c4 21.5px,#bdc2e4 24.5px,#dcdceb 25.5px,#eee3e1 26.5px,#e7c4b8 27.5px,#dfa897 28.5px,#d79482 29.5px,#d0816e 31.5px,#cd7965 36.5px,#d28572 49.5px,#d18370 61.5px,#c16353 70.5px,#bc5b4d 77.5px,#cd7763 92.5px,#cd7864 106.5px,#b34e44 120.5px,#b9564a 128.5px,#c66a58 139.5px,#c96f5b 145.5px)"></div><div style="height:1px;background:linear-gradient(90deg,#343e76 0.5px,#353f78 13.5px,#414e98 17.5px,#6e7ac0 21.5px,#b1b7e0 24.5px,#eceaef 26.5px,#e4b7a7 28.5px,#d79482 30.5px,#d28673 34.5px,#cf7d69 46.5px,#cc7663 54.5px,#d0806d 64.5px,#c76b59 74.5px,#ca6f5c 89.5px,#c76c59 100.5px,#cc7561 109.5px,#be5e4f 122.5px,#c36554 144.5px,#c46655 145.5px)"></div><div style="height:1px;background:linear-gradient(90deg,#343e76 0.5px,#343f77 13.5px,#404d94 17.5px,#5d6ab2 20.5px,#7a85c7 22.5px,#c1c6e5 25.5px,#dfdfec 26.5px,#ede2e0 27.5px,#e7c5ba 28.5px,#e1ad9c 29.5px,#db9d8c 30.5px,#d6907e 33.5px,#ce7b68 42.5px,#c56957 48.5px,#c56957 56.5px,#d1826f 67.5px,#cb725e 84.5px,#bb5a4d 95.5px,#c46856 104.5px,#cc7662 112.5px,#bb594c 131.5px,#b44f45 139.5px,#bb5a4c 145.5px)"></div><div style="height:1px;background:linear-gradient(90deg,#343e76 0.5px,#354079 14.5px,#42509b 18.5px,#737fc3 22.5px,#b8bee2 25.5px,#f0ecee 27.5px,#e4b6a6 29.5px,#dda493 30.5px,#d89684 32.5px,#cf7d6a 39.5px,#c26554 44.5px,#b75348 51.5px,#be5e50 58.5px,#d28572 69.5px,#cf7e6a 79.5px,#b04941 93.5px,#b24c43 100.5px,#cd7865 113.5px,#cb725f 120.5px,#b04a41 131.5px,#a63b37 138.5px,#b04a41 145.5px)"></div><div style="height:1px;background:linear-gradient(90deg,#343e76 0.5px,#353f78 14.5px,#414f99 18.5px,#6e7bc1 22.5px,#cdcfe7 26.5px,#e9e8ee 27.5px,#ebd9d4 28.5px,#e6bdb0 29.5px,#dfa998 30.5px,#d89785 32.5px,#c36554 41.5px,#ac433c 49.5px,#ad443d 55.5px,#cc7662 66.5px,#d38875 71.5px,#d28673 76.5px,#bf5f50 84.5px,#a53835 92.5px,#a23432 98.5px,#b85549 106.5px,#cd7965 114.5px,#cd7966 118.5px,#b85549 126.5px,#9b312f 133.5px,#8f2c2c 138.5px,#9d3230 143.5px,#a43834 145.5px)"></div><div style="height:1px;background:linear-gradient(90deg,#343e76 0.5px,#353f78 14.5px,#404e96 18.5px,#6c78bf 22.5px,#c6cae6 26.5px,#e3e3ed 27.5px,#eddfdc 28.5px,#e7c3b7 29.5px,#e0ac9b 30.5px,#d89583 32.5px,#bf5f50 40.5px,#a43834 47.5px,#9c3130 53.5px,#a83e39 58.5px,#cf7e6b 69.5px,#d48a77 74.5px,#cb7460 79.5px,#a03331 89.5px,#8a292a 94.5px,#8e2b2b 99.5px,#a73b37 104.5px,#ca705c 113.5px,#ce7a66 117.5px,#b9574a 124.5px,#972f2e 130.5px,#7a2224 135.5px,#792224 140.5px,#902c2c 145.5px)"></div><div style="height:1px;background:linear-gradient(90deg,#343e76 0.5px,#343f77 14.5px,#404d95 18.5px,#6a76bd 22.5px,#a8b0dc 25.5px,#dedfec 27.5px,#eee3e1 28.5px,#e1ae9d 30.5px,#d79381 32.5px,#c26454 38.5px,#a03331 45.5px,#8c2a2a 50.5px,#8f2c2c 55.5px,#a73b37 60.5px,#cf7e6b 70.5px,#d38875 74.5px,#c46756 80.5px,#9e3231 87.5px,#7d2425 92.5px,#772123 97.5px,#8a292a 102.5px,#a73c38 106.5px,#c76c59 113.5px,#cd7763 117.5px,#b85549 123.5px,#972f2e 128.5px,#6f1d20 133.5px,#63181c 138.5px,#721e22 143.5px,#7d2325 145.5px)"></div><div style="height:1px;background:linear-gradient(90deg,#343e76 0.5px,#36407a 15.5px,#45539d 19.5px,#7884c6 23.5px,#bec3e4 26.5px,#dbdceb 27.5px,#eee6e5 28.5px,#e1af9e 30.5px,#d6917f 32.5px,#c36655 37.5px,#9b3130 44.5px,#832627 49.5px,#842628 55.5px,#a53935 61.5px,#ce7b67 70.5px,#d28774 73.5px,#cf7e6a 76.5px,#b04940 83.5px,#912c2c 87.5px,#711e21 92.5px,#6d1c20 98.5px,#842728 103.5px,#a73b37 107.5px,#c86d5a 114.5px,#cc7461 117.5px,#b9574b 122.5px,#a13332 126.5px,#6e1d20 131.5px,#581319 136.5px,#5b141a 141.5px,#6f1d20 145.5px)"></div><div style="height:1px;background:linear-gradient(90deg,#343e76 0.5px,#35407a 15.5px,#44529d 19.5px,#7782c5 23.5px,#bdc2e4 26.5px,#d9dbeb 27.5px,#efe7e7 28.5px,#e2af9f 30.5px,#d6907e 32.5px,#c16252 37.5px,#9c3130 43.5px,#7f2426 48.5px,#7d2425 55.5px,#98302f 60.5px,#ca715d 69.5px,#d28573 73.5px,#ce7c68 76.5px,#ac443d 83.5px,#89292a 87.5px,#6a1b1f 92.5px,#67191e 98.5px,#7d2325 103.5px,#a93f39 108.5px,#c76c59 114.5px,#cb735f 117.5px,#b75448 122.5px,#99302f 126.5px,#66191d 131.5px,#561218 135.5px,#581319 142.5px,#67191e 145.5px)"></div><div style="height:1px;background:linear-gradient(90deg,#343e76 0.5px,#35407a 15.5px,#44529d 19.5px,#7682c5 23.5px,#bcc1e3 26.5px,#d9daea 27.5px,#efe8e8 28.5px,#e2af9f 30.5px,#d6907d 32.5px,#c66a57 36.5px,#9b312f 43.5px,#7e2426 48.5px,#7c2325 55.5px,#962f2e 60.5px,#bc5b4d 66.5px,#d18370 72.5px,#d0816e 75.5px,#b85549 81.5px,#9c3130 85.5px,#711e21 90.5px,#64181d 95.5px,#6a1b1f 100.5px,#832627 104.5px,#a83d38 108.5px,#c76b59 114.5px,#cb725e 117.5px,#b65347 122.5px,#972f2e 126.5px,#64181d 131.5px,#561218 134.5px,#5a1419 143.5px,#64181d 145.5px)"></div><div style="height:1px;background:linear-gradient(90deg,#343e76 0.5px,#35407a 15.5px,#44529d 19.5px,#7783c5 23.5px,#bdc2e4 26.5px,#dadbeb 27.5px,#efe7e7 28.5px,#e1af9f 30.5px,#d6907e 32.5px,#c16353 37.5px,#9e3231 43.5px,#812527 48.5px,#7d2325 54.5px,#922d2c 59.5px,#a73c38 62.5px,#cd7965 70.5px,#d28673 73.5px,#ce7c69 76.5px,#ad453e 83.5px,#952e2e 86.5px,#701d21 91.5px,#67191e 97.5px,#772123 102.5px,#a43734 107.5px,#c76c59 114.5px,#cb735f 117.5px,#b85449 122.5px,#9b3130 126.5px,#671a1e 131.5px,#561218 135.5px,#591319 142.5px,#681a1e 145.5px)"></div><div style="height:1px;background:linear-gradient(90deg,#343e76 0.5px,#36407a 15.5px,#45539e 19.5px,#7984c6 23.5px,#bfc4e4 26.5px,#dcddeb 27.5px,#eee5e4 28.5px,#e1ae9e 30.5px,#d79280 32.5px,#c46756 37.5px,#9e3231 44.5px,#852728 49.5px,#862829 55.5px,#a73b37 61.5px,#ce7c68 70.5px,#d38774 73.5px,#cd7865 77.5px,#a63936 85.5px,#782124 91.5px,#6e1d20 96.5px,#7b2225 101.5px,#a33533 106.5px,#c66957 113.5px,#cc7561 117.5px,#b55146 123.5px,#98302f 127.5px,#6a1b1f 132.5px,#5a1419 137.5px,#62181c 142.5px,#721f22 145.5px)"></div><div style="height:1px;background:linear-gradient(90deg,#343e76 0.5px,#353f77 14.5px,#404d95 18.5px,#6a77bd 22.5px,#a9b1dc 25.5px,#e0e0ec 27.5px,#ede2e0 28.5px,#e1ad9d 30.5px,#d79482 32.5px,#c46655 38.5px,#9f3331 46.5px,#8f2c2c 51.5px,#982f2e 56.5px,#a93f3a 60.5px,#d0806d 70.5px,#d38876 74.5px,#c56957 80.5px,#9a312f 88.5px,#7f2426 93.5px,#7e2426 98.5px,#972f2e 103.5px,#c56857 112.5px,#cd7965 116.5px,#c36554 121.5px,#9c3130 128.5px,#741f22 133.5px,#681a1e 138.5px,#772123 143.5px,#822627 145.5px)"></div><div style="height:1px;background:linear-gradient(90deg,#343e76 0.5px,#353f78 14.5px,#404e97 18.5px,#6d79bf 22.5px,#c8cce6 26.5px,#e5e4ed 27.5px,#ecddd9 28.5px,#e6c1b5 29.5px,#e0ab9a 30.5px,#d89684 32.5px,#c16353 40.5px,#a53936 48.5px,#a33633 54.5px,#b65247 61.5px,#d18471 70.5px,#d48a77 74.5px,#cc7662 79.5px,#a03331 90.5px,#8f2c2c 95.5px,#98302f 100.5px,#ae463e 105.5px,#cc7663 114.5px,#ce7b67 117.5px,#bb5a4c 124.5px,#9d3230 130.5px,#812527 135.5px,#802526 140.5px,#972f2e 145.5px)"></div><div style="height:1px;background:linear-gradient(90deg,#343e76 0.5px,#353f79 14.5px,#414f99 18.5px,#6f7bc1 22.5px,#cfd1e8 26.5px,#eceaef 27.5px,#e5bbad 29.5px,#dfa897 30.5px,#d89785 32.5px,#cc7460 39.5px,#b14b42 48.5px,#af4740 54.5px,#c66957 63.5px,#d28774 70.5px,#d28673 76.5px,#c16353 84.5px,#a83e39 92.5px,#a63a36 98.5px,#bb594c 106.5px,#ce7966 114.5px,#cc7662 119.5px,#b34d43 128.5px,#9e3231 134.5px,#982f2f 139.5px,#a83d38 145.5px)"></div><div style="height:1px;background:linear-gradient(90deg,#343e76 0.5px,#35407a 14.5px,#43519c 18.5px,#7581c4 22.5px,#bac0e3 25.5px,#d7d9ea 26.5px,#efe9ea 27.5px,#e3b3a3 29.5px,#dda291 30.5px,#d89583 32.5px,#ce7b68 40.5px,#c36555 45.5px,#ba594c 52.5px,#c66957 60.5px,#d18471 68.5px,#ce7b68 80.5px,#b44f45 93.5px,#b65247 100.5px,#cd7865 113.5px,#c56857 124.5px,#ab423c 136.5px,#b04941 143.5px,#b44f45 145.5px)"></div><div style="height:1px;background:linear-gradient(90deg,#343e76 0.5px,#353f78 13.5px,#404d95 17.5px,#6b77bd 21.5px,#aab1dd 24.5px,#e2e2ed 26.5px,#eddedb 27.5px,#e6c1b5 28.5px,#dfaa99 29.5px,#da9a89 30.5px,#d58e7c 33.5px,#ce7b68 43.5px,#c66b58 50.5px,#ca715d 58.5px,#d0816e 66.5px,#cc7561 78.5px,#c96f5b 86.5px,#bf5f50 96.5px,#cc7562 111.5px,#b85549 139.5px,#be5e4f 145.5px)"></div><div style="height:1px;background:linear-gradient(90deg,#343e76 0.5px,#353f79 13.5px,#414f99 17.5px,#6f7bc1 21.5px,#b4bae1 24.5px,#f0eef0 26.5px,#e3b3a3 28.5px,#d6907e 30.5px,#d1826f 34.5px,#d07f6c 47.5px,#cf7d6a 56.5px,#d0816e 63.5px,#c56957 72.5px,#c66a58 81.5px,#ca715d 90.5px,#ca715d 101.5px,#cc7662 108.5px,#bb5a4c 121.5px,#c56957 145.5px)"></div><div style="height:1px;background:linear-gradient(90deg,#343e76 0.5px,#36407a 13.5px,#44529d 17.5px,#7883c6 21.5px,#c1c6e5 24.5px,#e1e1ec 25.5px,#ecdeda 26.5px,#e6beb0 27.5px,#dda392 28.5px,#d6907d 29.5px,#cf7d6a 31.5px,#cc7461 36.5px,#d38775 50.5px,#d28471 60.5px,#c06152 69.5px,#b85549 76.5px,#c56856 85.5px,#ce7966 93.5px,#cd7966 105.5px,#af4840 120.5px,#b44f45 127.5px,#c76b59 138.5px,#ca715d 145.5px)"></div><div style="height:1px;background:linear-gradient(90deg,#343e76 0.5px,#353f78 12.5px,#414e98 16.5px,#6e7ac0 20.5px,#b3b9e0 23.5px,#efebed 25.5px,#e0ab9a 27.5px,#d0806d 29.5px,#c96f5b 31.5px,#c56857 36.5px,#cd7864 43.5px,#d58e7c 52.5px,#d38875 58.5px,#bc5b4d 67.5px,#ac433d 74.5px,#af4840 80.5px,#cf7c69 93.5px,#d0806d 101.5px,#c46856 108.5px,#a43734 118.5px,#a23432 124.5px,#b75448 132.5px,#ca705c 140.5px,#cc7663 145.5px)"></div><div style="height:1px;background:linear-gradient(90deg,#343e76 0.5px,#36407a 12.5px,#44529d 16.5px,#7783c5 20.5px,#c3c7e5 23.5px,#e5e4ed 24.5px,#ebd7d1 25.5px,#e3b4a4 26.5px,#d0816e 28.5px,#ca715d 29.5px,#bf5f50 33.5px,#c56856 41.5px,#d58f7c 52.5px,#d48c79 56.5px,#be5e50 64.5px,#a33533 72.5px,#9d3230 77.5px,#ac433d 83.5px,#cd7965 93.5px,#d18471 99.5px,#c96f5b 105.5px,#9e3231 115.5px,#882829 120.5px,#8c2a2a 125.5px,#a53936 130.5px,#c76c59 139.5px,#cd7864 145.5px)"></div><div style="height:1px;background:linear-gradient(90deg,#343e76 0.5px,#353f79 11.5px,#414f98 15.5px,#6f7bc1 19.5px,#b6bce2 22.5px,#d7d9ea 23.5px,#eee3e2 24.5px,#e6c0b3 25.5px,#d28572 27.5px,#ca705d 28.5px,#ba584b 32.5px,#bc5a4d 39.5px,#cb735f 46.5px,#d58e7c 53.5px,#d18471 57.5px,#bc5b4d 63.5px,#a03331 69.5px,#8b2a2a 74.5px,#8f2b2b 79.5px,#a73b37 84.5px,#cd7965 94.5px,#d18471 99.5px,#c66957 105.5px,#9a302f 113.5px,#792124 118.5px,#721f22 123.5px,#862828 128.5px,#a53935 132.5px,#c46856 139.5px,#cd7763 145.5px)"></div><div style="height:1px;background:linear-gradient(90deg,#343e76 0.5px,#353f78 10.5px,#404d95 14.5px,#5e6bb3 17.5px,#7c87c7 19.5px,#acb3de 21.5px,#eeedf0 23.5px,#dfa998 25.5px,#cb7460 27.5px,#bb594c 30.5px,#b44f45 35.5px,#c06151 43.5px,#cf7e6a 49.5px,#d58d7a 54.5px,#cd7865 58.5px,#99302f 68.5px,#802526 73.5px,#812527 79.5px,#a43734 85.5px,#cc7561 94.5px,#d18370 98.5px,#cc7663 102.5px,#ad443d 109.5px,#8b2a2a 113.5px,#691b1f 118.5px,#64181d 123.5px,#772123 128.5px,#a43634 133.5px,#c56957 140.5px,#cc7662 145.5px)"></div><div style="height:1px;background:linear-gradient(90deg,#343e76 0.5px,#35407a 10.5px,#42509b 14.5px,#737fc3 18.5px,#bfc3e4 21.5px,#e1e1ec 22.5px,#ebd9d4 23.5px,#e3b4a4 24.5px,#ce7a67 26.5px,#c66957 27.5px,#b45045 31.5px,#b55046 39.5px,#cc7461 48.5px,#d48b79 53.5px,#d18370 56.5px,#b34d43 63.5px,#98302f 67.5px,#7b2225 72.5px,#772123 78.5px,#8c2a2b 83.5px,#aa403a 87.5px,#cd7864 95.5px,#d0816e 99.5px,#c06151 105.5px,#a23432 110.5px,#701e21 115.5px,#5c151a 120.5px,#62171c 126.5px,#862829 131.5px,#ab423c 135.5px,#c76b58 141.5px,#cc7561 145.5px)"></div><div style="height:1px;background:linear-gradient(90deg,#343e76 0.5px,#353f78 9.5px,#404d95 13.5px,#5e6bb3 16.5px,#7b86c7 18.5px,#acb3dd 20.5px,#eeecf0 22.5px,#dfa898 24.5px,#ca715d 26.5px,#b9564a 29.5px,#b14b42 34.5px,#b9574b 42.5px,#cd7966 49.5px,#d48a78 53.5px,#d1826f 56.5px,#b14a42 63.5px,#942e2d 67.5px,#782124 72.5px,#762023 79.5px,#902c2c 84.5px,#a83d38 87.5px,#cd7763 95.5px,#d0816e 99.5px,#bf5f50 105.5px,#9f3231 110.5px,#6c1c20 115.5px,#591419 120.5px,#5f161b 126.5px,#792124 130.5px,#aa3f3a 135.5px,#c66a58 141.5px,#cc7561 145.5px)"></div><div style="height:1px;background:linear-gradient(90deg,#343e76 0.5px,#36407b 10.5px,#44529d 14.5px,#7783c5 18.5px,#c5c9e6 21.5px,#e8e7ee 22.5px,#ead2cb 23.5px,#e1ae9e 24.5px,#cc7662 26.5px,#be5e4f 28.5px,#b24c43 32.5px,#b65247 40.5px,#cb7460 48.5px,#d48b78 53.5px,#d18370 56.5px,#b24b42 63.5px,#962f2e 67.5px,#792224 72.5px,#772123 79.5px,#922d2c 84.5px,#ae463f 88.5px,#cd7764 95.5px,#d0816e 99.5px,#bf6051 105.5px,#a03331 110.5px,#6e1d20 115.5px,#5b141a 120.5px,#60171b 126.5px,#7a2224 130.5px,#aa403b 135.5px,#c66a58 141.5px,#cc7561 145.5px)"></div><div style="height:1px;background:linear-gradient(90deg,#343e76 0.5px,#353f79 10.5px,#414e97 14.5px,#6d79bf 18.5px,#b3b9e1 21.5px,#d4d6e9 22.5px,#eee7e6 23.5px,#e7c2b6 24.5px,#d28472 26.5px,#c96f5b 27.5px,#b9564a 30.5px,#b34e44 35.5px,#bf5f50 43.5px,#cc7663 48.5px,#d48c79 53.5px,#d28472 56.5px,#b55046 63.5px,#9d3230 67.5px,#7f2426 72.5px,#7b2325 78.5px,#912c2c 83.5px,#ac433c 87.5px,#cd7966 95.5px,#d1826f 99.5px,#c16353 105.5px,#9b3130 111.5px,#6f1d20 116.5px,#5f161b 121.5px,#671a1e 126.5px,#8c2a2a 131.5px,#a73c38 134.5px,#c46856 140.5px,#cc7662 145.5px)"></div><div style="height:1px;background:linear-gradient(90deg,#343e76 0.5px,#35407a 11.5px,#42509b 15.5px,#737ec3 19.5px,#bec3e4 22.5px,#e0e0ec 23.5px,#ecdad6 24.5px,#e4b6a6 25.5px,#cf7e6b 27.5px,#c86c59 28.5px,#b85549 32.5px,#ba584b 39.5px,#cc7662 47.5px,#d58e7b 53.5px,#d1826f 57.5px,#aa413b 66.5px,#932d2d 70.5px,#842728 75.5px,#8c2a2a 80.5px,#a83d38 85.5px,#cd7764 94.5px,#d18471 98.5px,#cd7865 102.5px,#b04941 109.5px,#932d2d 113.5px,#721e21 118.5px,#6b1c1f 123.5px,#7f2426 128.5px,#a73c38 133.5px,#c66a58 140.5px,#cc7763 145.5px)"></div><div style="height:1px;background:linear-gradient(90deg,#343e76 0.5px,#353f78 11.5px,#404d95 15.5px,#6a77bd 19.5px,#949dd2 21.5px,#cbcee7 23.5px,#edecef 24.5px,#e0ac9c 26.5px,#ce7a67 28.5px,#c86d5a 29.5px,#bc5b4d 33.5px,#c26454 41.5px,#cf7c69 47.5px,#d68f7d 53.5px,#d28674 57.5px,#b75348 65.5px,#9f3331 71.5px,#942e2d 76.5px,#a53835 82.5px,#ce7b68 94.5px,#d18471 99.5px,#c86d5a 105.5px,#9d3230 114.5px,#812527 119.5px,#802526 124.5px,#99302f 129.5px,#c36655 138.5px,#cd7864 145.5px)"></div><div style="height:1px;background:linear-gradient(90deg,#343e76 0.5px,#354079 12.5px,#424f9a 16.5px,#707cc2 20.5px,#b8bee3 23.5px,#d9daea 24.5px,#eee3e2 25.5px,#e6c2b5 26.5px,#dda493 27.5px,#ce7a67 29.5px,#c76b58 31.5px,#c26454 36.5px,#cb7460 43.5px,#d58d7b 51.5px,#d58c7a 56.5px,#c66b58 63.5px,#aa403a 72.5px,#a73c38 78.5px,#bc5b4e 86.5px,#d0806d 95.5px,#d0816e 101.5px,#be5e50 109.5px,#a03331 117.5px,#952e2e 122.5px,#a53935 128.5px,#c86e5a 139.5px,#cd7764 145.5px)"></div><div style="height:1px;background:linear-gradient(90deg,#343e76 0.5px,#353f78 12.5px,#404d95 16.5px,#6a76bd 20.5px,#abb2dd 23.5px,#e7e7ee 25.5px,#ebd6d1 26.5px,#e4b6a6 27.5px,#d48a77 29.5px,#cd7864 31.5px,#c96e5b 35.5px,#d48b78 51.5px,#d28673 59.5px,#bf5f50 68.5px,#b34e44 75.5px,#ba594c 82.5px,#ce7c68 93.5px,#ce7b68 104.5px,#ab413b 119.5px,#ab423c 125.5px,#c96e5b 139.5px,#cb7460 145.5px)"></div><div style="height:1px;background:linear-gradient(90deg,#343e76 0.5px,#354079 13.5px,#42509b 17.5px,#727ec3 21.5px,#b8bee3 24.5px,#d7d8ea 25.5px,#efe8e8 26.5px,#e1ad9c 28.5px,#d99887 29.5px,#d28572 31.5px,#cf7d69 36.5px,#d1826f 48.5px,#d0816e 62.5px,#c36554 71.5px,#c06252 79.5px,#cc7461 91.5px,#cc7663 107.5px,#b75348 120.5px,#bd5c4e 129.5px,#c86d5a 145.5px)"></div><div style="height:1px;background:linear-gradient(90deg,#343e76 0.5px,#353f78 13.5px,#404e97 17.5px,#6c78bf 21.5px,#aeb5de 24.5px,#e8e7ee 26.5px,#ebd9d4 27.5px,#e5bcad 28.5px,#dea594 29.5px,#d6907d 31.5px,#cd7865 46.5px,#ca715d 54.5px,#d0806d 65.5px,#c96e5b 76.5px,#ca705c 87.5px,#c36655 98.5px,#cc7561 110.5px,#c16252 123.5px,#bd5d4f 141.5px,#c16353 145.5px)"></div><div style="height:1px;background:linear-gradient(90deg,#343e76 0.5px,#36407a 14.5px,#45529d 18.5px,#7883c6 22.5px,#bec3e4 25.5px,#dcdceb 26.5px,#eee5e4 27.5px,#e2b09f 29.5px,#dc9f8e 30.5px,#d79482 32.5px,#ce7b68 41.5px,#c36655 47.5px,#c06152 54.5px,#cc7662 62.5px,#d18370 68.5px,#cb735f 83.5px,#b85549 94.5px,#be5e4f 102.5px,#cd7763 112.5px,#c06152 127.5px,#b04941 137.5px,#b85549 145.5px)"></div><div style="height:1px;background:linear-gradient(90deg,#343e76 0.5px,#353f79 14.5px,#42509a 18.5px,#717dc3 22.5px,#b5bbe2 25.5px,#efedf0 27.5px,#e4b8a9 29.5px,#dea695 30.5px,#d89785 32.5px,#cd7966 39.5px,#ba584b 46.5px,#b34e44 53.5px,#c36554 61.5px,#d28572 69.5px,#d18370 77.5px,#be5e4f 86.5px,#ab423c 94.5px,#ae473f 100.5px,#cd7865 113.5px,#cc7662 119.5px,#b75348 128.5px,#a33533 136.5px,#a63b37 142.5px,#ad443d 145.5px)"></div><div style="height:1px;background:linear-gradient(90deg,#343e76 0.5px,#353f78 14.5px,#414e98 18.5px,#6e7ac0 22.5px,#cbcee7 26.5px,#e7e6ee 27.5px,#ecdbd6 28.5px,#e6bfb2 29.5px,#e0aa99 30.5px,#d89685 32.5px,#c06152 41.5px,#aa403a 48.5px,#a83c38 54.5px,#ba584b 61.5px,#d28573 70.5px,#d38875 75.5px,#c56856 82.5px,#a33533 91.5px,#99302f 96.5px,#a73c37 102.5px,#cd7864 114.5px,#cd7965 118.5px,#b55146 126.5px,#99302f 132.5px,#872829 137.5px,#912c2c 142.5px,#a03331 145.5px)"></div><div style="height:1px;background:linear-gradient(90deg,#343e76 0.5px,#353f78 14.5px,#404e96 18.5px,#6b77be 22.5px,#abb2dd 25.5px,#e1e1ec 27.5px,#ede0dd 28.5px,#e7c4b9 29.5px,#e0ac9c 30.5px,#d89583 32.5px,#c66a58 38.5px,#a43734 46.5px,#962f2e 52.5px,#a63936 58.5px,#cc7763 68.5px,#d48a77 73.5px,#cf7e6b 77.5px,#ab413b 86.5px,#942e2d 90.5px,#832627 95.5px,#8c2a2a 100.5px,#a83d39 105.5px,#c96f5b 113.5px,#cd7966 117.5px,#b75448 124.5px,#99302f 129.5px,#772123 134.5px,#711e21 139.5px,#8a292a 145.5px)"></div><div style="height:1px;background:linear-gradient(90deg,#343e76 0.5px,#36407b 15.5px,#46549e 19.5px,#7a85c7 23.5px,#c1c5e5 26.5px,#dddeeb 27.5px,#eee4e3 28.5px,#e1ae9e 30.5px,#d79280 32.5px,#c66957 37.5px,#9c3130 45.5px,#882829 50.5px,#8b2a2a 55.5px,#a53835 60.5px,#cf7d6a 70.5px,#d38775 74.5px,#c36555 80.5px,#9a302f 87.5px,#792224 92.5px,#731f22 97.5px,#862728 102.5px,#a53935 106.5px,#c76b58 113.5px,#cc7663 117.5px,#b75348 123.5px,#9d3230 127.5px,#701e21 132.5px,#5f161b 137.5px,#681a1e 142.5px,#782124 145.5px)"></div><div style="height:1px;background:linear-gradient(90deg,#343e76 0.5px,#36407a 15.5px,#45529d 19.5px,#7883c6 23.5px,#bec3e4 26.5px,#dbdbeb 27.5px,#eee6e6 28.5px,#e1af9f 30.5px,#d6917f 32.5px,#c26454 37.5px,#a13432 43.5px,#832627 48.5px,#7f2426 54.5px,#952e2d 59.5px,#ae463f 63.5px,#ce7a66 70.5px,#d28673 73.5px,#cf7d6a 76.5px,#ae473f 83.5px,#98302f 86.5px,#721f22 91.5px,#691b1f 97.5px,#7a2224 102.5px,#a53935 107.5px,#c86d5a 114.5px,#cb7460 117.5px,#b9564a 122.5px,#9e3231 126.5px,#6b1b1f 131.5px,#561218 136.5px,#5c151a 142.5px,#6c1c1f 145.5px)"></div><div style="height:1px;background:linear-gradient(90deg,#343e76 0.5px,#35407a 15.5px,#44529d 19.5px,#7782c5 23.5px,#bcc1e4 26.5px,#d9daea 27.5px,#efe8e8 28.5px,#e2af9f 30.5px,#d6907e 32.5px,#c66a58 36.5px,#9b3130 43.5px,#7e2426 48.5px,#7d2325 55.5px,#972f2e 60.5px,#ca705c 69.5px,#d28572 73.5px,#ce7b68 76.5px,#ac433c 83.5px,#882829 87.5px,#6d1c20 91.5px,#65191d 97.5px,#752022 102.5px,#a33533 107.5px,#c76b59 114.5px,#cb725e 117.5px,#b75348 122.5px,#98302f 126.5px,#64181d 131.5px,#561218 134.5px,#5b141a 143.5px,#65191d 145.5px)"></div><div style="height:1px;background:linear-gradient(90deg,#343e76 0.5px,#35407a 15.5px,#44529d 19.5px,#7782c5 23.5px,#bcc1e3 26.5px,#d9daea 27.5px,#efe8e8 28.5px,#e2af9f 30.5px,#d6907e 32.5px,#c66a58 36.5px,#9b3130 43.5px,#7e2426 48.5px,#7c2325 55.5px,#972f2e 60.5px,#ca705c 69.5px,#d28572 73.5px,#ce7b68 76.5px,#ac433c 83.5px,#882829 87.5px,#6d1c20 91.5px,#65181d 97.5px,#742022 102.5px,#a23532 107.5px,#c76b59 114.5px,#cb725e 117.5px,#b75348 122.5px,#98302f 126.5px,#64181d 131.5px,#561218 134.5px,#5b141a 143.5px,#65191d 145.5px)"></div><div style="height:1px;background:linear-gradient(90deg,#343e76 0.5px,#36407a 15.5px,#44529d 19.5px,#7883c5 23.5px,#bdc2e4 26.5px,#dadbeb 27.5px,#eee7e6 28.5px,#e1af9f 30.5px,#d6917e 32.5px,#c26453 37.5px,#a03331 43.5px,#822627 48.5px,#7e2426 54.5px,#942e2d 59.5px,#ae463e 63.5px,#cd7966 70.5px,#d28673 73.5px,#cf7d69 76.5px,#ae463f 83.5px,#972f2e 86.5px,#711e21 91.5px,#681a1e 97.5px,#7a2224 102.5px,#a53835 107.5px,#c86d5a 114.5px,#cb7460 117.5px,#b85649 122.5px,#9d3230 126.5px,#6a1b1f 131.5px,#571218 135.5px,#5b141a 142.5px,#6b1b1f 145.5px)"></div><div style="height:1px;background:linear-gradient(90deg,#343e76 0.5px,#36407b 15.5px,#46539e 19.5px,#7a85c6 23.5px,#c0c5e4 26.5px,#dddeeb 27.5px,#eee4e3 28.5px,#e1ae9e 30.5px,#d79280 32.5px,#c56957 37.5px,#a23432 44.5px,#892929 49.5px,#8a292a 55.5px,#a43734 60.5px,#cf7d69 70.5px,#d38774 74.5px,#c36554 80.5px,#98302f 87.5px,#782124 92.5px,#721e21 97.5px,#852728 102.5px,#a53835 106.5px,#c66a58 113.5px,#cc7662 117.5px,#b65347 123.5px,#9c3130 127.5px,#6e1d20 132.5px,#5d151b 137.5px,#66191e 142.5px,#762123 145.5px)"></div><div style="height:1px;background:linear-gradient(90deg,#343e76 0.5px,#353f78 14.5px,#404d96 18.5px,#6b77be 22.5px,#abb2dd 25.5px,#e1e1ec 27.5px,#ede0de 28.5px,#e7c4b9 29.5px,#e1ad9c 30.5px,#d89482 32.5px,#c56957 38.5px,#a33633 46.5px,#942e2d 52.5px,#a53835 58.5px,#ce7c69 69.5px,#d38977 73.5px,#cf7e6b 77.5px,#aa403a 86.5px,#922d2c 90.5px,#812527 95.5px,#8a292a 100.5px,#a73c38 105.5px,#c96e5b 113.5px,#cd7965 117.5px,#b75348 124.5px,#972f2e 129.5px,#752023 134.5px,#6f1d20 139.5px,#882829 145.5px)"></div><div style="height:1px;background:linear-gradient(90deg,#343e76 0.5px,#353f78 14.5px,#414e98 18.5px,#6d79c0 22.5px,#cacde7 26.5px,#e7e6ee 27.5px,#ecdbd7 28.5px,#e6c0b3 29.5px,#e0aa9a 30.5px,#d89684 32.5px,#bf6051 41.5px,#a93e39 48.5px,#a63b37 54.5px,#b9564a 61.5px,#d28572 70.5px,#d38875 75.5px,#c46756 82.5px,#a23432 91.5px,#962f2e 96.5px,#a63a36 102.5px,#cd7864 114.5px,#cd7965 118.5px,#b45045 126.5px,#9d3230 131.5px,#862828 136.5px,#8a292a 141.5px,#9d3230 145.5px)"></div><div style="height:1px;background:linear-gradient(90deg,#343e76 0.5px,#353f79 14.5px,#424f9a 18.5px,#707cc2 22.5px,#b5bbe1 25.5px,#eeecf0 27.5px,#e5b9aa 29.5px,#dea695 30.5px,#d89785 32.5px,#cd7864 39.5px,#b75348 47.5px,#b34d44 54.5px,#ca715d 64.5px,#d28774 70.5px,#d0806d 78.5px,#ae473f 91.5px,#a93f3a 97.5px,#ba594c 105.5px,#ce7a66 114.5px,#cc7662 119.5px,#b65147 128.5px,#a33533 135.5px,#a33633 141.5px,#ac433c 145.5px)"></div><div style="height:1px;background:linear-gradient(90deg,#343e76 0.5px,#36407a 14.5px,#44529d 18.5px,#7783c5 22.5px,#bdc2e4 25.5px,#dadbeb 26.5px,#eee6e6 27.5px,#e2b1a0 29.5px,#dca08f 30.5px,#d79482 32.5px,#ce7a67 41.5px,#c26454 47.5px,#bf5f50 54.5px,#cc7461 62.5px,#d18370 68.5px,#cc7662 82.5px,#b75348 94.5px,#bb5a4c 101.5px,#cd7764 112.5px,#c06151 127.5px,#af473f 137.5px,#b75448 145.5px)"></div><div style="height:1px;background:linear-gradient(90deg,#343e76 0.5px,#353f78 13.5px,#404e96 17.5px,#6c78bf 21.5px,#adb4de 24.5px,#e6e6ee 26.5px,#ecdad6 27.5px,#e6bdaf 28.5px,#dea696 29.5px,#d99886 30.5px,#d48b79 33.5px,#ce7c69 44.5px,#c96e5b 52.5px,#d0806d 65.5px,#ca705c 77.5px,#c96f5b 87.5px,#c26554 98.5px,#cc7561 110.5px,#c16353 124.5px,#bc5b4e 141.5px,#c06252 145.5px)"></div><div style="height:1px;background:linear-gradient(90deg,#343e76 0.5px,#354079 13.5px,#42509a 17.5px,#717dc2 21.5px,#b7bde2 24.5px,#d6d7ea 25.5px,#efe9ea 26.5px,#e1ae9e 28.5px,#da9a88 29.5px,#d28673 31.5px,#cf7e6b 36.5px,#d0816e 48.5px,#d07f6c 63.5px,#c46755 71.5px,#c16353 79.5px,#cb7360 91.5px,#cc7662 102.5px,#cc7461 108.5px,#b85549 120.5px,#bf5f50 130.5px,#c76c59 145.5px)"></div><div style="height:1px;background:linear-gradient(90deg,#343e76 0.5px,#353f77 12.5px,#404d95 16.5px,#5e6bb3 19.5px,#7b86c7 21.5px,#c6cae6 24.5px,#e6e5ee 25.5px,#ebd8d3 26.5px,#e4b8a8 27.5px,#d48b79 29.5px,#cd7966 31.5px,#ca705c 35.5px,#d48a77 51.5px,#d28673 59.5px,#bd5d4f 69.5px,#b44f45 76.5px,#c06152 84.5px,#ce7b68 93.5px,#ce7b68 104.5px,#ac433d 119.5px,#ae463f 126.5px,#c76c59 138.5px,#cb735f 145.5px)"></div><div style="height:1px;background:linear-gradient(90deg,#343e76 0.5px,#353f79 12.5px,#414f99 16.5px,#6f7bc1 20.5px,#b7bde2 23.5px,#d7d8ea 24.5px,#eee6e5 25.5px,#e7c4b8 26.5px,#dea695 27.5px,#ce7c69 29.5px,#c76c59 31.5px,#c36555 36.5px,#cc7561 43.5px,#d58d7b 51.5px,#d48a78 57.5px,#bc5c4e 66.5px,#a93f3a 73.5px,#aa403a 79.5px,#ce7c68 93.5px,#d1826f 100.5px,#c96f5b 106.5px,#a23532 117.5px,#982f2e 122.5px,#a63b37 128.5px,#c96e5b 139.5px,#cd7764 145.5px)"></div><div style="height:1px;background:linear-gradient(90deg,#343e76 0.5px,#353f77 11.5px,#3f4d94 15.5px,#5d6ab2 18.5px,#7a85c7 20.5px,#c8cbe6 23.5px,#e9e8ee 24.5px,#ead2cb 25.5px,#e2b09f 26.5px,#cf7d69 28.5px,#c96e5b 29.5px,#bd5c4e 33.5px,#c36655 41.5px,#cd7965 46.5px,#d6907d 53.5px,#d1826f 58.5px,#bc5c4e 64.5px,#a23432 71.5px,#972f2e 76.5px,#a63a36 82.5px,#ce7c69 94.5px,#d18471 99.5px,#c86d5a 105.5px,#98302f 115.5px,#822527 120.5px,#862728 125.5px,#a73c37 131.5px,#c76b58 139.5px,#cd7864 145.5px)"></div><div style="height:1px;background:linear-gradient(90deg,#343e76 0.5px,#353f78 11.5px,#414f98 15.5px,#6e7ac0 19.5px,#b4bae1 22.5px,#d5d7ea 23.5px,#eee6e5 24.5px,#e7c2b6 25.5px,#dca190 26.5px,#ca715d 28.5px,#ba584b 32.5px,#bb5a4d 39.5px,#cb735f 46.5px,#d58f7c 53.5px,#d18471 57.5px,#bc5b4d 63.5px,#9f3331 69.5px,#8a292a 74.5px,#8e2b2b 79.5px,#a63b37 84.5px,#cd7966 94.5px,#d18471 99.5px,#c66957 105.5px,#9a302f 113.5px,#782123 118.5px,#711e21 123.5px,#862728 128.5px,#a53935 132.5px,#c46856 139.5px,#cd7764 145.5px)"></div></div><div style="position:absolute;left:184px;top:21px;width:6px;height:119px;background:linear-gradient(180deg,#561218 0%,#a23432 15%,#ca705c 30%,#e4b6a6 42%,#f0eef0 50%,#b6bce2 58%,#707cc2 70%,#42509b 85%,#343e76 100%)"></div><div style="position:absolute;left:486px;top:23px;width:138px;height:119px;overflow:hidden"><div style="height:16px;background:#37427d"></div><div style="height:1px;background:linear-gradient(90deg,#37427e 0.5px,#37427e 137.5px)"></div><div style="height:1px;background:linear-gradient(90deg,#3b4789 0.5px,#3b4789 137.5px)"></div><div style="height:1px;background:linear-gradient(90deg,#5865ae 0.5px,#626fb6 19.5px,#5966ae 36.5px,#636fb7 54.5px,#5865ae 71.5px,#636fb7 89.5px,#5966af 107.5px,#626fb6 125.5px,#5966ae 137.5px)"></div><div style="height:1px;background:linear-gradient(90deg,#5865ae 0.5px,#7e89c9 14.5px,#7a85c7 19.5px,#5562ab 34.5px,#7e88c8 49.5px,#7b86c7 54.5px,#5562ab 69.5px,#7f8ac9 85.5px,#7984c6 90.5px,#5562ab 104.5px,#808bc9 121.5px,#727ec3 127.5px,#5966af 137.5px)"></div><div style="height:1px;background:linear-gradient(90deg,#3e4b91 0.5px,#43519c 2.5px,#6370b7 6.5px,#7d88c8 12.5px,#8a94ce 16.5px,#747fc4 21.5px,#5a67af 27.5px,#414f99 30.5px,#3d498e 34.5px,#424f9a 37.5px,#6672ba 42.5px,#7b86c7 47.5px,#8a94ce 51.5px,#7c87c7 55.5px,#5c69b1 62.5px,#42509b 65.5px,#3d498d 69.5px,#47559f 73.5px,#6571b9 77.5px,#7f8ac9 83.5px,#8a93ce 87.5px,#5e6bb3 97.5px,#404e96 101.5px,#3d4a8e 105.5px,#44529d 108.5px,#6470b7 112.5px,#7e89c8 118.5px,#8a94ce 122.5px,#606db4 132.5px,#414f98 136.5px,#3f4c93 137.5px)"></div><div style="height:1px;background:linear-gradient(90deg,#36417c 0.5px,#3c488a 3.5px,#4957a1 5.5px,#6b77bd 8.5px,#98a1d4 15.5px,#929bd2 18.5px,#6774bb 24.5px,#42509b 27.5px,#384380 30.5px,#37417d 36.5px,#3e4b91 39.5px,#45539d 40.5px,#6975bc 43.5px,#98a0d4 50.5px,#949dd2 53.5px,#616eb6 60.5px,#3f4c92 63.5px,#37417d 66.5px,#37427f 72.5px,#414f99 75.5px,#6773ba 78.5px,#979fd4 85.5px,#959ed3 88.5px,#6471b8 95.5px,#404d96 98.5px,#37427e 101.5px,#37427e 107.5px,#404d96 110.5px,#6471b8 113.5px,#959ed3 120.5px,#979fd4 123.5px,#6773ba 130.5px,#414f99 133.5px,#37427f 136.5px,#36417c 137.5px)"></div><div style="height:1px;background:linear-gradient(90deg,#394584 0.5px,#37417d 3.5px,#3b4789 5.5px,#414f99 6.5px,#6975bc 8.5px,#9da5d7 14.5px,#9fa7d8 17.5px,#7783c5 22.5px,#616eb5 24.5px,#4b58a2 25.5px,#394584 27.5px,#37417d 29.5px,#3a4687 34.5px,#37427e 39.5px,#3f4c94 41.5px,#6471b8 43.5px,#949dd3 48.5px,#a1a9d9 51.5px,#959ed3 54.5px,#6672b9 59.5px,#404d95 61.5px,#37427f 63.5px,#3a4686 70.5px,#37427d 74.5px,#3d4a8f 76.5px,#4856a0 77.5px,#5f6cb4 78.5px,#7682c5 80.5px,#9fa7d7 85.5px,#9da5d7 88.5px,#6a76bd 94.5px,#42509a 96.5px,#384381 98.5px,#384381 101.5px,#3a4686 105.5px,#37417d 109.5px,#3c488b 111.5px,#42509a 112.5px,#6a76bd 114.5px,#9da5d7 120.5px,#9fa7d7 123.5px,#6d79bf 129.5px,#5f6cb4 130.5px,#4856a0 131.5px,#394483 133.5px,#37417d 135.5px,#394482 137.5px)"></div><div style="height:1px;background:linear-gradient(90deg,#45539e 0.5px,#384380 5.5px,#3a4585 6.5px,#424f9a 7.5px,#5f6cb4 8.5px,#6f7bc1 9.5px,#98a0d4 14.5px,#9aa2d5 17.5px,#7580c4 22.5px,#6976bc 23.5px,#3d498d 25.5px,#384381 26.5px,#3b4788 28.5px,#4855a0 32.5px,#47559f 35.5px,#384381 40.5px,#394483 41.5px,#3f4c92 42.5px,#5764ad 43.5px,#6c78bf 44.5px,#969fd3 49.5px,#9ba3d5 52.5px,#7883c6 57.5px,#6d79c0 58.5px,#5a67b0 59.5px,#404d95 60.5px,#394583 61.5px,#3a4686 63.5px,#47549f 67.5px,#44529d 71.5px,#394482 75.5px,#384381 76.5px,#3c488b 77.5px,#6874bb 79.5px,#959dd3 84.5px,#9ba4d6 87.5px,#838ecb 91.5px,#707cc2 93.5px,#626eb6 94.5px,#44529d 95.5px,#3a4686 96.5px,#384380 97.5px,#4856a0 103.5px,#414f99 107.5px,#384380 111.5px,#3a4686 112.5px,#44529d 113.5px,#626eb6 114.5px,#7b86c7 116.5px,#98a1d4 120.5px,#99a2d5 123.5px,#747fc4 128.5px,#6874bb 129.5px,#3c488b 131.5px,#384381 132.5px,#3b4789 134.5px,#43519c 137.5px)"></div><div style="height:1px;background:linear-gradient(90deg,#5b68b0 0.5px,#4e5ca6 3.5px,#3b488a 6.5px,#3e4b91 7.5px,#6a77bd 9.5px,#8892cd 14.5px,#8a94ce 17.5px,#6e7bc1 22.5px,#626fb6 23.5px,#45539d 24.5px,#3c488a 25.5px,#3d498d 26.5px,#5260a9 29.5px,#5d69b2 33.5px,#5764ac 37.5px,#3c488b 41.5px,#3c498c 42.5px,#4b59a3 43.5px,#6673ba 44.5px,#838dcb 48.5px,#8b94ce 52.5px,#707cc2 57.5px,#6874bb 58.5px,#3d4a8e 60.5px,#3c488b 61.5px,#5663ac 65.5px,#5c69b1 70.5px,#5360a9 73.5px,#3d4a8e 76.5px,#3b4789 77.5px,#42509b 78.5px,#606db4 79.5px,#7580c4 81.5px,#8b95cf 86.5px,#7f8ac9 90.5px,#6b78be 93.5px,#5865ae 94.5px,#3f4c93 95.5px,#3b4789 96.5px,#43519c 98.5px,#5966ae 101.5px,#5966ae 107.5px,#43519c 110.5px,#3b4789 112.5px,#3f4c93 113.5px,#5865ae 114.5px,#6b78be 115.5px,#8993cd 120.5px,#8a93ce 123.5px,#6e7ac0 128.5px,#606db4 129.5px,#42509b 130.5px,#3b4789 131.5px,#414f99 133.5px,#5865ad 136.5px,#5a67b0 137.5px)"></div><div style="height:1px;background:linear-gradient(90deg,#636fb7 0.5px,#5b68b1 4.5px,#44529d 7.5px,#6774ba 9.5px,#7a85c6 16.5px,#6a77bd 22.5px,#5f6cb4 23.5px,#4a58a2 24.5px,#44529d 25.5px,#5e6bb3 28.5px,#626eb6 37.5px,#5664ac 40.5px,#43519c 42.5px,#4e5ca5 43.5px,#6370b7 44.5px,#717dc2 47.5px,#7984c6 52.5px,#6571b8 58.5px,#44519c 60.5px,#606db4 64.5px,#5e6bb3 74.5px,#44529d 77.5px,#4957a1 78.5px,#6a76bd 80.5px,#7985c6 87.5px,#6874bb 93.5px,#45539e 95.5px,#47559f 96.5px,#5f6cb4 99.5px,#5f6cb4 109.5px,#47559f 112.5px,#45539e 113.5px,#6874bb 115.5px,#7a85c6 122.5px,#6a76bd 128.5px,#4957a1 130.5px,#44529d 131.5px,#5e6bb3 134.5px,#636fb7 137.5px)"></div><div style="height:1px;background:linear-gradient(90deg,#6774bb 0.5px,#6471b8 5.5px,#5b68b0 7.5px,#6c78be 10.5px,#6e7ac0 20.5px,#6471b8 23.5px,#5c69b1 24.5px,#6774bb 30.5px,#6572b9 40.5px,#5d6ab2 43.5px,#6b77be 45.5px,#6e7ac0 55.5px,#6774bb 58.5px,#5c69b1 60.5px,#6773ba 64.5px,#636fb7 76.5px,#5c69b1 78.5px,#6c78bf 81.5px,#6d79c0 91.5px,#6975bc 93.5px,#5b68b0 95.5px,#6774bb 100.5px,#6470b8 111.5px,#5b68b0 113.5px,#6c78bf 116.5px,#6d7ac0 126.5px,#6370b7 129.5px,#5c69b1 130.5px,#6774bb 135.5px,#6774bb 137.5px)"></div><div style="height:1px;background:linear-gradient(90deg,#7480c4 0.5px,#707cc2 8.5px,#7a85c6 13.5px,#7682c5 22.5px,#717dc2 25.5px,#707cc2 42.5px,#7b86c7 52.5px,#7480c4 58.5px,#727ec3 61.5px,#727dc3 79.5px,#7b86c7 87.5px,#7681c5 93.5px,#707cc2 95.5px,#737fc4 111.5px,#707cc2 114.5px,#7a85c7 120.5px,#7682c5 128.5px,#717dc2 131.5px,#7480c4 137.5px)"></div><div style="height:1px;background:linear-gradient(90deg,#aab1dc 0.5px,#aab1dc 137.5px)"></div><div style="height:1px;background:#d7d8ea"></div><div style="height:1px;background:#e8e7ee"></div><div style="height:1px;background:#edebef"></div><div style="height:1px;background:linear-gradient(90deg,#eee6e5 0.5px,#efebec 12.5px,#efe8e7 30.5px,#efe8e8 37.5px,#efeaeb 63.5px,#eee6e6 71.5px,#efebec 84.5px,#eee7e7 101.5px,#efe8e9 108.5px,#efe9e9 135.5px,#eee6e6 137.5px)"></div><div style="height:1px;background:linear-gradient(90deg,#e9ccc2 0.5px,#ede1df 6.5px,#ede0de 26.5px,#e8c9bf 33.5px,#ead1ca 37.5px,#ede1df 41.5px,#eddfdc 62.5px,#e8c9bf 68.5px,#ead0c8 72.5px,#ede2df 77.5px,#ede0dd 97.5px,#e8c9c0 103.5px,#e9cfc7 107.5px,#ede1df 112.5px,#ede0de 132.5px,#e9cdc4 137.5px)"></div><div style="height:1px;background:linear-gradient(90deg,#e3b3a2 0.5px,#e7c4b8 3.5px,#ecdad6 6.5px,#ede0dd 11.5px,#ecdcd9 25.5px,#e3b4a4 31.5px,#e2b1a1 35.5px,#e6c1b5 38.5px,#ecddda 42.5px,#ecddda 60.5px,#e4b5a5 66.5px,#e2b1a0 70.5px,#e6bfb2 73.5px,#ecdcd8 77.5px,#ede0dd 92.5px,#ecdbd6 96.5px,#e4b6a6 101.5px,#e2b0a0 105.5px,#e5bdaf 108.5px,#ecdbd6 112.5px,#ede0dd 118.5px,#ecdcd8 131.5px,#e3b4a4 137.5px)"></div><div style="height:1px;background:linear-gradient(90deg,#db9d8b 0.5px,#e1ae9d 3.5px,#ebd7d1 7.5px,#eddfdc 10.5px,#eddeda 23.5px,#ead3cc 25.5px,#dfaa99 29.5px,#d99a88 33.5px,#dda493 37.5px,#e3b4a4 39.5px,#ebd5ce 42.5px,#eddfdc 45.5px,#ecdbd8 59.5px,#e6c0b4 62.5px,#e0ac9b 64.5px,#da9a88 68.5px,#dda291 72.5px,#e5bcae 75.5px,#ecd9d5 78.5px,#eddfdc 83.5px,#ecddd9 94.5px,#e9cfc7 96.5px,#e1af9e 99.5px,#da9a89 103.5px,#dca190 107.5px,#e4b8a9 110.5px,#ebd8d2 113.5px,#eddfdc 116.5px,#ecddda 129.5px,#ead2cb 131.5px,#e2b1a1 134.5px,#db9e8d 137.5px)"></div><div style="height:1px;background:linear-gradient(90deg,#d38876 0.5px,#d99987 3.5px,#e5bdaf 6.5px,#ebd5cf 8.5px,#ecdeda 10.5px,#ecddd9 22.5px,#ead0c9 24.5px,#dfa998 27.5px,#d58e7c 30.5px,#d28673 34.5px,#d89685 38.5px,#e4b8a9 41.5px,#ead2cb 43.5px,#ecddda 45.5px,#ecddda 57.5px,#ead3cd 59.5px,#dca190 63.5px,#d48b78 66.5px,#d28774 70.5px,#d79482 73.5px,#e3b4a4 76.5px,#e9cfc7 78.5px,#ecdcd9 80.5px,#ecdbd7 93.5px,#e9ccc3 95.5px,#dda493 98.5px,#d48c7a 101.5px,#d28674 105.5px,#d79280 108.5px,#e2b0a0 111.5px,#ebd6d0 114.5px,#eddedb 117.5px,#ecdcd9 128.5px,#e9cfc7 130.5px,#dfa897 133.5px,#d58e7b 136.5px,#d48a77 137.5px)"></div><div style="height:1px;background:linear-gradient(90deg,#cd7966 0.5px,#d28774 3.5px,#e0ac9b 6.5px,#ebd5ce 9.5px,#ecddda 12.5px,#ecdcd8 21.5px,#ead0c8 23.5px,#d89785 27.5px,#cf7d6a 30.5px,#cd7865 35.5px,#d28472 38.5px,#dea796 41.5px,#ead2cb 44.5px,#ecdcd9 46.5px,#ecdad5 57.5px,#e8c7bd 59.5px,#da9a89 62.5px,#cf7f6c 65.5px,#cd7865 70.5px,#d1826f 73.5px,#dda392 76.5px,#e9cfc7 79.5px,#ecdcd8 81.5px,#ecdbd7 92.5px,#e9cbc2 94.5px,#db9e8d 97.5px,#d0806d 100.5px,#cd7764 104.5px,#d0806d 108.5px,#db9e8d 111.5px,#ebd5cf 115.5px,#ecddda 118.5px,#ecdcd8 127.5px,#e9cfc7 129.5px,#d89583 133.5px,#cf7d6a 136.5px,#ce7a67 137.5px)"></div><div style="height:1px;background:linear-gradient(90deg,#cb725e 0.5px,#ce7a67 3.5px,#db9c8b 6.5px,#e9ccc3 9.5px,#ecdad6 11.5px,#ecdbd7 20.5px,#ead1ca 22.5px,#d38875 27.5px,#cb7460 30.5px,#cc7461 37.5px,#d48a78 40.5px,#ead3cc 45.5px,#ecdbd8 47.5px,#ecdad5 56.5px,#e8c9bf 58.5px,#d48b79 62.5px,#cc7561 65.5px,#cb7460 72.5px,#d28774 75.5px,#e3b3a3 78.5px,#ead0c9 80.5px,#ecdbd7 82.5px,#ecdad6 91.5px,#e9cdc4 93.5px,#d68f7d 97.5px,#cc7662 100.5px,#cb735f 107.5px,#d18370 110.5px,#e1ae9e 113.5px,#e9cdc4 115.5px,#ecdad6 117.5px,#ecdbd7 126.5px,#ead0c9 128.5px,#d79381 132.5px,#cd7763 135.5px,#cb725e 137.5px)"></div><div style="height:1px;background:linear-gradient(90deg,#ca705c 0.5px,#ce7b68 4.5px,#dca190 7.5px,#e9cfc7 10.5px,#ecdad6 12.5px,#ebd9d4 20.5px,#e8cac0 22.5px,#d48a78 26.5px,#cb7460 29.5px,#cb725e 37.5px,#d0816e 40.5px,#e1ad9c 43.5px,#e9ccc3 45.5px,#ecd9d5 47.5px,#ecdad5 55.5px,#e9cdc5 57.5px,#d58e7c 61.5px,#cc7561 64.5px,#ca715d 72.5px,#cf7e6b 75.5px,#dfa897 78.5px,#ead3cc 81.5px,#ecdbd7 84.5px,#ebd7d2 91.5px,#e7c4b8 93.5px,#d28573 97.5px,#cb735f 100.5px,#cb735f 108.5px,#d28573 111.5px,#ead0c9 116.5px,#ecdad6 118.5px,#ebd8d3 126.5px,#e8c8be 128.5px,#d38976 132.5px,#cb7360 135.5px,#ca705c 137.5px)"></div><div style="height:1px;background:linear-gradient(90deg,#ca705c 0.5px,#cd7966 4.5px,#d99988 7.5px,#e8c9bf 10.5px,#ebd8d3 12.5px,#ecd9d4 19.5px,#e9cfc7 21.5px,#d79280 25.5px,#cc7763 28.5px,#ca705c 35.5px,#cd7864 39.5px,#d89583 42.5px,#ead0c9 46.5px,#ecdad6 49.5px,#ebd7d2 55.5px,#e8c6bc 57.5px,#d38976 61.5px,#cb7460 64.5px,#cb735f 73.5px,#d28572 76.5px,#e2b0a0 79.5px,#e9cec5 81.5px,#ebd9d4 83.5px,#ebd8d3 90.5px,#e8cac1 92.5px,#d58d7a 96.5px,#cc7561 99.5px,#ca715d 107.5px,#ce7a66 110.5px,#da9b8a 113.5px,#e8cac1 116.5px,#ebd8d3 118.5px,#ebd9d4 125.5px,#e9cec5 127.5px,#d6917f 131.5px,#cc7663 134.5px,#ca705c 137.5px)"></div><div style="height:1px;background:linear-gradient(90deg,#ca705c 0.5px,#cd7966 4.5px,#d89785 7.5px,#e9cfc7 11.5px,#ecdad6 14.5px,#ebd8d2 19.5px,#e8cac1 21.5px,#d6907e 25.5px,#cc7763 28.5px,#ca705c 35.5px,#cd7864 39.5px,#d79280 42.5px,#e9ccc4 46.5px,#ebd8d3 48.5px,#ebd8d4 54.5px,#e9cdc5 56.5px,#d79482 60.5px,#cd7864 63.5px,#ca705c 69.5px,#cc7662 74.5px,#d58f7c 77.5px,#e8c9bf 81.5px,#ebd7d2 83.5px,#ecd9d4 89.5px,#ead0c9 91.5px,#d48b79 96.5px,#cc7561 99.5px,#ca715d 107.5px,#ce7a66 110.5px,#d99886 113.5px,#ead0c9 117.5px,#ecdad6 120.5px,#ebd7d2 125.5px,#e8c9bf 127.5px,#d58f7c 131.5px,#cc7662 134.5px,#ca705c 137.5px)"></div><div style="height:1px;background:linear-gradient(90deg,#ca705c 0.5px,#cd7966 4.5px,#d89684 7.5px,#e9cdc4 11.5px,#ebd8d3 13.5px,#ecd9d5 18.5px,#ead1ca 20.5px,#d28572 26.5px,#cb735f 29.5px,#cb7460 38.5px,#d28774 41.5px,#e5bcae 45.5px,#ead2cc 47.5px,#ecdbd7 51.5px,#ead3cc 55.5px,#e1af9f 58.5px,#cf7e6b 62.5px,#ca715d 66.5px,#cc7662 74.5px,#d58e7c 77.5px,#ead0c9 82.5px,#ecdbd6 85.5px,#ebd9d4 89.5px,#e9cec5 91.5px,#d48b78 96.5px,#cc7561 99.5px,#cb725e 108.5px,#d0816e 111.5px,#e3b3a3 115.5px,#e9cec5 117.5px,#ecdad6 120.5px,#ebd6d1 125.5px,#e7c6bb 127.5px,#d58e7c 131.5px,#cc7662 134.5px,#ca705c 137.5px)"></div><div style="height:1px;background:linear-gradient(90deg,#ca705c 0.5px,#cd7966 4.5px,#d89684 7.5px,#e9cbc2 11.5px,#ecdbd7 14.5px,#ecdad6 18.5px,#ead0c8 20.5px,#d28572 26.5px,#cb735f 29.5px,#cb7460 38.5px,#d28774 41.5px,#ead2ca 47.5px,#ecdcd8 50.5px,#ebd8d3 54.5px,#e8c9bf 56.5px,#d38875 61.5px,#cb7460 64.5px,#cb735f 73.5px,#d18471 76.5px,#e9cfc7 82.5px,#ecdcd8 85.5px,#ebd9d4 89.5px,#e9ccc4 91.5px,#d48b78 96.5px,#cc7561 99.5px,#cb725e 108.5px,#d0816e 111.5px,#e3b3a3 115.5px,#e9ccc4 117.5px,#ecdbd7 120.5px,#ecdad5 124.5px,#e9cfc7 126.5px,#d18471 132.5px,#cb735f 135.5px,#ca705c 137.5px)"></div><div style="height:1px;background:linear-gradient(90deg,#ca705c 0.5px,#cd7965 4.5px,#d89684 7.5px,#e9ccc3 11.5px,#ecddda 14.5px,#ecdcd8 18.5px,#e7c6bb 21.5px,#d28572 26.5px,#cb735f 29.5px,#cb7460 38.5px,#d28774 41.5px,#ead2cb 47.5px,#eddfdc 50.5px,#ecd9d4 54.5px,#e8cac0 56.5px,#d38875 61.5px,#cb7460 64.5px,#cb735f 73.5px,#d18471 76.5px,#e9d0c8 82.5px,#eddedb 85.5px,#ecdad6 89.5px,#e9cdc4 91.5px,#d48b78 96.5px,#cc7561 99.5px,#cb725e 108.5px,#d0816e 111.5px,#e3b3a3 115.5px,#ebd5cf 118.5px,#eddfdc 121.5px,#ecdcd8 124.5px,#e7c5ba 127.5px,#d18471 132.5px,#cb735f 135.5px,#ca705c 137.5px)"></div><div style="height:1px;background:linear-gradient(90deg,#ca705c 0.5px,#cd7966 4.5px,#d89785 7.5px,#e9cdc5 11.5px,#ede1df 14.5px,#eee3e1 17.5px,#ead2cb 20.5px,#d28572 26.5px,#cb735f 29.5px,#cb7460 38.5px,#d28774 41.5px,#ead4ce 47.5px,#eee3e1 50.5px,#ede0de 53.5px,#e9cbc2 56.5px,#d38875 61.5px,#cb7460 64.5px,#cb735f 73.5px,#d18471 76.5px,#e5b8a9 80.5px,#ead1ca 82.5px,#ede2e1 85.5px,#ede1df 88.5px,#e9cec6 91.5px,#d48b79 96.5px,#cc7561 99.5px,#cb725e 108.5px,#d0816e 111.5px,#e3b4a4 115.5px,#ebd7d2 118.5px,#eee4e2 121.5px,#eddfdc 124.5px,#e8c6bc 127.5px,#d58f7d 131.5px,#cc7662 134.5px,#ca705c 137.5px)"></div><div style="height:1px;background:linear-gradient(90deg,#ca705c 0.5px,#cd7966 4.5px,#d99785 7.5px,#ecdad6 12.5px,#efeaea 15.5px,#eee4e3 18.5px,#e8cac0 21.5px,#d6917e 25.5px,#cc7663 28.5px,#ca705c 35.5px,#cd7764 39.5px,#d79381 42.5px,#ebd7d2 47.5px,#efe9ea 50.5px,#eee6e5 53.5px,#e9cec5 56.5px,#d89483 60.5px,#cd7864 63.5px,#ca705c 69.5px,#cc7662 74.5px,#d68f7d 77.5px,#ebd4ce 82.5px,#efe8e8 85.5px,#efe7e7 88.5px,#ead1ca 91.5px,#d99987 95.5px,#ce7a66 98.5px,#ca705c 103.5px,#cc7561 109.5px,#d48c79 112.5px,#e7c5b9 116.5px,#ede2e0 119.5px,#efeaeb 122.5px,#ecddda 125.5px,#e5baab 128.5px,#d18471 132.5px,#cb735f 135.5px,#ca705c 137.5px)"></div><div style="height:1px;background:linear-gradient(90deg,#ca705c 0.5px,#cd7966 4.5px,#d99886 7.5px,#e7c6bb 10.5px,#efe8e8 13.5px,#f0eef0 14.5px,#eeecef 17.5px,#eee4e2 19.5px,#e6beb1 22.5px,#d28573 26.5px,#cb735f 29.5px,#cb7460 38.5px,#d38875 41.5px,#e6c1b5 45.5px,#eee5e4 48.5px,#f0ecee 49.5px,#edebef 52.5px,#f0edef 53.5px,#ead1ca 56.5px,#dda493 59.5px,#d07f6c 62.5px,#cb725e 65.5px,#cb735f 73.5px,#d28472 76.5px,#e5bcaf 80.5px,#eee3e1 83.5px,#eeecf0 85.5px,#efedf0 88.5px,#ebd5cf 91.5px,#d99a88 95.5px,#ce7a66 98.5px,#ca705c 102.5px,#cc7561 109.5px,#d48c7a 112.5px,#e4b7a8 115.5px,#ede0dd 118.5px,#efedf0 120.5px,#efebeb 124.5px,#e9ccc3 127.5px,#d6907e 131.5px,#cc7662 134.5px,#ca705c 137.5px)"></div><div style="height:1px;background:linear-gradient(90deg,#ca705c 0.5px,#cd7966 4.5px,#d99988 7.5px,#e8cac0 10.5px,#eee5e4 12.5px,#efedf0 13.5px,#e1e1ec 16.5px,#efeaeb 19.5px,#e6c1b5 22.5px,#d79280 25.5px,#cc7763 28.5px,#ca705c 35.5px,#cd7864 39.5px,#d89583 42.5px,#e7c5b9 45.5px,#f0ecee 48.5px,#e1e1ec 51.5px,#f0edef 54.5px,#e7c6bb 57.5px,#dea594 59.5px,#d07f6c 62.5px,#cb725e 65.5px,#cb735f 73.5px,#d28572 76.5px,#e1af9e 79.5px,#efe9ea 83.5px,#e4e4ed 85.5px,#e6e6ee 88.5px,#eeecef 89.5px,#ecdad5 91.5px,#da9b89 95.5px,#ce7a67 98.5px,#ca705c 102.5px,#cc7561 109.5px,#d58d7b 112.5px,#e5baac 115.5px,#eee6e6 118.5px,#eeecef 119.5px,#e1e1ec 122.5px,#ebeaef 124.5px,#efe9ea 125.5px,#e1af9e 129.5px,#d28572 132.5px,#cb735f 135.5px,#ca705c 137.5px)"></div><div style="height:1px;background:linear-gradient(90deg,#ca705c 0.5px,#ce7a66 4.5px,#da9b89 7.5px,#e9cec6 10.5px,#f0ecee 12.5px,#d7d9ea 15.5px,#d9daeb 17.5px,#ebeaef 19.5px,#eee5e5 20.5px,#dda391 24.5px,#cf7d6a 27.5px,#ca705c 31.5px,#cb7460 38.5px,#d38976 41.5px,#e4b6a6 44.5px,#efe8e8 47.5px,#e9e8ee 48.5px,#d6d7ea 51.5px,#dedeec 53.5px,#efeaea 55.5px,#dfa796 59.5px,#d0806d 62.5px,#cb725e 65.5px,#cb735f 73.5px,#d28673 76.5px,#e2b1a1 79.5px,#eee4e3 82.5px,#edebef 83.5px,#d6d8ea 86.5px,#dcddeb 88.5px,#f0eeef 90.5px,#da9c8b 95.5px,#ce7a67 98.5px,#ca705c 102.5px,#cc7561 109.5px,#d58e7c 112.5px,#e6beb0 115.5px,#f0eeef 118.5px,#d7d8ea 121.5px,#dadbeb 123.5px,#edebef 125.5px,#eee4e3 126.5px,#dca190 130.5px,#cf7c69 133.5px,#ca705c 137.5px)"></div><div style="height:1px;background:linear-gradient(90deg,#ca705c 0.5px,#ce7a67 4.5px,#da9c8b 7.5px,#e6bfb2 9.5px,#eee5e4 11.5px,#e9e8ee 12.5px,#cccfe7 15.5px,#ced1e8 17.5px,#f0edee 20.5px,#e4b5a5 23.5px,#d38875 26.5px,#cb735f 29.5px,#cb7460 38.5px,#d48a77 41.5px,#e5b9aa 44.5px,#eddfdd 46.5px,#eeecf0 47.5px,#cdd0e8 50.5px,#cdcfe7 52.5px,#edebef 55.5px,#ede1df 56.5px,#dfaa99 59.5px,#d0806d 62.5px,#cb725e 65.5px,#cb735f 73.5px,#d28674 76.5px,#e3b4a4 79.5px,#efebec 82.5px,#cfd1e8 85.5px,#cbcee7 87.5px,#dbdceb 89.5px,#e8e7ee 90.5px,#eee6e6 91.5px,#e1af9e 94.5px,#d18370 97.5px,#cb725e 100.5px,#cb725e 108.5px,#d18370 111.5px,#e1af9e 114.5px,#eee6e6 117.5px,#e8e7ee 118.5px,#d1d3e8 120.5px,#cbcee7 122.5px,#d7d9ea 124.5px,#efebec 126.5px,#e3b4a4 129.5px,#d28674 132.5px,#cb735f 135.5px,#ca705c 137.5px)"></div><div style="height:1px;background:linear-gradient(90deg,#ca705c 0.5px,#ce7a67 4.5px,#db9e8d 7.5px,#e7c3b8 9.5px,#efebed 11.5px,#c7cbe6 14.5px,#bfc4e4 16.5px,#cccfe7 18.5px,#e9e8ee 20.5px,#ede2e0 21.5px,#e5b9aa 23.5px,#d38976 26.5px,#cb7360 29.5px,#cb7460 38.5px,#d48b79 41.5px,#e6bdaf 44.5px,#eee6e5 46.5px,#e6e5ee 47.5px,#cacde7 49.5px,#bfc4e4 51.5px,#c9cce7 53.5px,#e4e4ed 55.5px,#efe8e8 56.5px,#e0ac9b 59.5px,#d0816e 62.5px,#cb725e 65.5px,#cb735f 73.5px,#d38775 76.5px,#e4b7a7 79.5px,#ede0de 81.5px,#ebeaef 82.5px,#c4c8e5 85.5px,#c0c5e4 87.5px,#d1d3e8 89.5px,#f0edef 91.5px,#e2b1a1 94.5px,#d18471 97.5px,#cb725e 100.5px,#cb725e 108.5px,#d18471 111.5px,#e2b1a1 114.5px,#f0edef 117.5px,#c6cae6 120.5px,#c0c4e4 122.5px,#cdd0e8 124.5px,#ebeaef 126.5px,#ede0de 127.5px,#e4b7a7 129.5px,#d38775 132.5px,#cb735f 135.5px,#ca705c 137.5px)"></div><div style="height:1px;background:linear-gradient(90deg,#ca705c 0.5px,#ce7b67 4.5px,#dca08f 7.5px,#e2b2a2 8.5px,#ecdeda 10.5px,#eceaef 11.5px,#c8cce6 13.5px,#b7bce2 15.5px,#b9bfe3 17.5px,#d0d2e8 19.5px,#e2e2ed 20.5px,#efe8e8 21.5px,#e5bcae 23.5px,#d38977 26.5px,#cb7360 29.5px,#cc7460 38.5px,#d48c7a 41.5px,#e0ac9c 43.5px,#f0ecee 46.5px,#c0c5e4 49.5px,#b5bbe2 51.5px,#bfc4e4 53.5px,#f0eef0 56.5px,#e1ae9e 59.5px,#d1826f 62.5px,#cb725e 65.5px,#cb735f 73.5px,#d38876 76.5px,#e5baab 79.5px,#eee6e6 81.5px,#e4e3ed 82.5px,#c3c7e5 84.5px,#b6bce2 86.5px,#bcc1e3 88.5px,#d7d8ea 90.5px,#eae8ee 91.5px,#ede0dd 92.5px,#e3b4a4 94.5px,#d28572 97.5px,#cb725f 100.5px,#cb725f 108.5px,#d28572 111.5px,#e3b4a4 114.5px,#ede0dd 116.5px,#eae8ee 117.5px,#c7cbe6 119.5px,#b6bce2 121.5px,#babfe3 123.5px,#d2d4e9 125.5px,#e4e3ed 126.5px,#eee6e6 127.5px,#e5baab 129.5px,#d38876 132.5px,#cb735f 135.5px,#ca705c 137.5px)"></div><div style="height:1px;background:linear-gradient(90deg,#ca705c 0.5px,#ce7b68 4.5px,#dda291 7.5px,#e3b4a4 8.5px,#eee3e1 10.5px,#e5e4ed 11.5px,#c0c4e4 13.5px,#afb6df 15.5px,#b1b8e0 17.5px,#c7cbe6 19.5px,#f0eef0 21.5px,#e0ab9a 24.5px,#d07f6c 27.5px,#ca715d 30.5px,#cc7460 38.5px,#d58d7b 41.5px,#e1af9e 43.5px,#ecdcd8 45.5px,#ebeaef 46.5px,#c4c8e5 48.5px,#b1b7e0 50.5px,#b0b7df 52.5px,#c3c7e5 54.5px,#e9e8ee 56.5px,#eddedb 57.5px,#e2b1a0 59.5px,#d1826f 62.5px,#cb725e 65.5px,#cb735f 73.5px,#d38977 76.5px,#dfa998 78.5px,#ebd5cf 80.5px,#f0eced 81.5px,#bbc0e3 84.5px,#afb5df 86.5px,#b4bae1 88.5px,#ced1e8 90.5px,#e2e2ed 91.5px,#eee5e4 92.5px,#e4b6a7 94.5px,#d28673 97.5px,#cb725f 100.5px,#cb725f 108.5px,#d28673 111.5px,#e4b6a7 114.5px,#eee5e4 116.5px,#e2e2ed 117.5px,#bec3e4 119.5px,#afb6df 121.5px,#b2b8e0 123.5px,#c9cde7 125.5px,#f0eced 127.5px,#e6beb0 129.5px,#d99886 131.5px,#cd7764 134.5px,#ca705c 137.5px)"></div><div style="height:1px;background:linear-gradient(90deg,#ca705c 0.5px,#ce7c68 4.5px,#dda492 7.5px,#e4b7a7 8.5px,#efe8e8 10.5px,#dedfec 11.5px,#b8bee3 13.5px,#aab1dc 15.5px,#acb3dd 17.5px,#c0c5e4 19.5px,#eae9ef 21.5px,#ecdcd8 22.5px,#e1ad9c 24.5px,#d0806d 27.5px,#cb715d 30.5px,#cc7461 38.5px,#d58e7c 41.5px,#e2b1a1 43.5px,#ede1df 45.5px,#e5e5ed 46.5px,#bdc2e4 48.5px,#abb2dd 50.5px,#b0b7df 53.5px,#cdd0e8 55.5px,#e3e3ed 56.5px,#eee3e2 57.5px,#e3b3a3 59.5px,#d18370 62.5px,#cb725e 65.5px,#cb7360 73.5px,#d48a78 76.5px,#e0ab9a 78.5px,#ecebef 81.5px,#c2c6e5 83.5px,#acb3de 85.5px,#aeb5de 88.5px,#c7cbe6 90.5px,#efeaeb 92.5px,#e5b9ab 94.5px,#d28674 97.5px,#cb735f 100.5px,#cb735f 108.5px,#d28674 111.5px,#e5b9ab 114.5px,#efeaeb 116.5px,#b7bde2 119.5px,#aab1dc 121.5px,#acb3de 123.5px,#c2c6e5 125.5px,#ecebef 127.5px,#e0ab9a 130.5px,#d07f6c 133.5px,#ca715d 136.5px,#ca705c 137.5px)"></div><div style="height:1px;background:linear-gradient(90deg,#ca705c 0.5px,#ce7c69 4.5px,#d79482 6.5px,#e5baab 8.5px,#f0edee 10.5px,#c3c7e5 12.5px,#aab1dd 14.5px,#a7afdb 17.5px,#babfe3 19.5px,#e5e4ed 21.5px,#ede0dd 22.5px,#e1af9e 24.5px,#d0806d 27.5px,#cb715d 30.5px,#cc7461 38.5px,#d1826f 40.5px,#e3b3a3 43.5px,#eee5e4 45.5px,#e0e0ec 46.5px,#b6bce2 48.5px,#a6aedb 50.5px,#abb2dd 53.5px,#c7cbe6 55.5px,#dddeeb 56.5px,#efe8e8 57.5px,#e4b5a5 59.5px,#d18371 62.5px,#cb725e 65.5px,#cb7360 73.5px,#d48b78 76.5px,#e1ad9c 78.5px,#ecddda 80.5px,#e7e6ee 81.5px,#bbc1e3 83.5px,#a8afdb 85.5px,#a9b0dc 88.5px,#c1c5e5 90.5px,#efedf0 92.5px,#e5bcae 94.5px,#d89583 96.5px,#cf7d69 98.5px,#ca715d 101.5px,#cb735f 108.5px,#d38774 111.5px,#dea796 113.5px,#e5bcae 114.5px,#efedf0 116.5px,#c1c5e5 118.5px,#a9b0dc 120.5px,#a8afdb 123.5px,#bbc1e3 125.5px,#e7e6ee 127.5px,#ecddda 128.5px,#e1ad9c 130.5px,#d07f6c 133.5px,#ca715d 136.5px,#ca705c 137.5px)"></div><div style="height:1px;background:linear-gradient(90deg,#ca705c 0.5px,#cc7662 3.5px,#d28674 5.5px,#dea696 7.5px,#e5bcae 8.5px,#edecef 10.5px,#bec3e4 12.5px,#a7aedb 14.5px,#a4acda 17.5px,#b5bbe2 19.5px,#e0e0ec 21.5px,#eee3e2 22.5px,#e2b0a0 24.5px,#d0816e 27.5px,#cb715e 30.5px,#cc7561 38.5px,#d18370 40.5px,#e3b5a5 43.5px,#efe9e9 45.5px,#c4c8e5 47.5px,#a9b0dc 49.5px,#a3abd9 52.5px,#b1b8e0 54.5px,#d9daea 56.5px,#efebec 57.5px,#e4b7a7 59.5px,#d18471 62.5px,#cb725e 65.5px,#cb7460 73.5px,#d48c79 76.5px,#e1ae9e 78.5px,#ede1df 80.5px,#e3e3ed 81.5px,#b6bce2 83.5px,#a5acda 85.5px,#a6addb 88.5px,#bcc1e3 90.5px,#ebe9ef 92.5px,#ebd9d4 93.5px,#e6bfb1 94.5px,#d89684 96.5px,#cf7d6a 98.5px,#ca715d 101.5px,#cb735f 108.5px,#d38875 111.5px,#dfa898 113.5px,#e6bfb1 114.5px,#ebd9d4 115.5px,#ebe9ef 116.5px,#bcc1e3 118.5px,#a6addb 120.5px,#a5acda 123.5px,#b6bce2 125.5px,#e3e3ed 127.5px,#ede1df 128.5px,#e1ae9e 130.5px,#d48c79 132.5px,#cb7460 135.5px,#ca705c 137.5px)"></div><div style="height:1px;background:linear-gradient(90deg,#ca705c 0.5px,#cc7662 3.5px,#d28774 5.5px,#dfa897 7.5px,#e6beb0 8.5px,#ebd9d4 9.5px,#eae9ef 10.5px,#babfe3 12.5px,#a4acda 14.5px,#a2aad9 17.5px,#b2b8e0 19.5px,#ddddeb 21.5px,#eee6e6 22.5px,#e2b2a2 24.5px,#d58d7b 26.5px,#cd7965 28.5px,#ca705c 32.5px,#cc7561 38.5px,#d18370 40.5px,#e4b6a6 43.5px,#efeced 45.5px,#c0c5e4 47.5px,#a6addb 49.5px,#a1a9d8 52.5px,#aeb5de 54.5px,#d5d7ea 56.5px,#f0eef0 57.5px,#e5b9a9 59.5px,#d79280 61.5px,#ce7b67 63.5px,#ca705c 67.5px,#cb7460 73.5px,#d0806d 75.5px,#da9c8b 77.5px,#e2b09f 78.5px,#eee3e2 80.5px,#dfe0ec 81.5px,#b3bae1 83.5px,#a2aad9 85.5px,#a4abda 88.5px,#b8bee3 90.5px,#e8e7ee 92.5px,#ecdbd7 93.5px,#e6c0b4 94.5px,#d89785 96.5px,#cf7d6a 98.5px,#ca715d 101.5px,#cb735f 108.5px,#d38875 111.5px,#dfaa99 113.5px,#e6c0b4 114.5px,#ecdbd7 115.5px,#e8e7ee 116.5px,#b8bee3 118.5px,#a4abda 120.5px,#a2aad9 123.5px,#b3bae1 125.5px,#dfe0ec 127.5px,#eee3e2 128.5px,#e2b09f 130.5px,#d48c7a 132.5px,#cd7865 134.5px,#ca705c 137.5px)"></div><div style="height:1px;background:linear-gradient(90deg,#ca705c 0.5px,#cc7662 3.5px,#d38774 5.5px,#dfa897 7.5px,#e6bfb2 8.5px,#ecdad6 9.5px,#e8e7ee 10.5px,#b8bde2 12.5px,#a3aad9 14.5px,#a1a9d8 17.5px,#b0b7df 19.5px,#dbdbeb 21.5px,#efe8e8 22.5px,#e3b3a2 24.5px,#d58e7c 26.5px,#cd7965 28.5px,#ca705c 32.5px,#cc7561 38.5px,#d18371 40.5px,#dda291 42.5px,#e4b7a7 43.5px,#f0eeef 45.5px,#bec3e4 47.5px,#a5acda 49.5px,#a0a8d8 52.5px,#acb3de 54.5px,#bcc1e3 55.5px,#eeecef 57.5px,#e5baab 59.5px,#d79380 61.5px,#ce7b68 63.5px,#ca705c 67.5px,#cb7460 73.5px,#d0806d 75.5px,#db9d8b 77.5px,#e2b1a0 78.5px,#eee5e5 80.5px,#dddeeb 81.5px,#b1b8e0 83.5px,#a1a9d8 85.5px,#a2aad9 88.5px,#b6bce2 90.5px,#e5e5ed 92.5px,#ecddda 93.5px,#e7c2b5 94.5px,#d99786 96.5px,#cf7d6a 98.5px,#ca715d 101.5px,#cb735f 108.5px,#d38876 111.5px,#e0aa9a 113.5px,#e7c2b5 114.5px,#ecddda 115.5px,#e5e5ed 116.5px,#b6bce2 118.5px,#a2aad9 120.5px,#a1a9d8 123.5px,#b1b8e0 125.5px,#dddeeb 127.5px,#eee5e5 128.5px,#e2b1a0 130.5px,#d58c7a 132.5px,#cd7865 134.5px,#ca705c 137.5px)"></div><div style="height:2px;background:linear-gradient(90deg,#ca705c 0.5px,#cc7662 3.5px,#d38775 5.5px,#dfa998 7.5px,#e6c0b3 8.5px,#ecdbd7 9.5px,#e7e6ee 10.5px,#b6bce2 12.5px,#a2aad9 14.5px,#a0a8d8 17.5px,#afb6df 19.5px,#d9daeb 21.5px,#efe9e9 22.5px,#e3b3a3 24.5px,#d58e7c 26.5px,#cd7965 28.5px,#ca705c 32.5px,#cc7561 38.5px,#d18471 40.5px,#dda392 42.5px,#e4b8a8 43.5px,#efeef0 45.5px,#bcc1e4 47.5px,#a4abda 49.5px,#a0a8d8 52.5px,#acb2dd 54.5px,#bac0e3 55.5px,#edebef 57.5px,#e5baac 59.5px,#d79381 61.5px,#ce7b68 63.5px,#ca705c 67.5px,#cb7460 73.5px,#d0806d 75.5px,#db9d8c 77.5px,#e2b1a1 78.5px,#eee6e6 80.5px,#dcddeb 81.5px,#b0b7df 83.5px,#a1a8d8 85.5px,#a2a9d9 88.5px,#b5bbe1 90.5px,#e4e4ed 92.5px,#eddedb 93.5px,#e7c2b6 94.5px,#e0ab9a 95.5px,#d38976 97.5px,#cb735f 100.5px,#cb735f 108.5px,#d38976 111.5px,#e0ab9a 113.5px,#e7c2b6 114.5px,#eddedb 115.5px,#e4e4ed 116.5px,#b5bbe1 118.5px,#a2a9d9 120.5px,#a1a8d8 123.5px,#b0b7df 125.5px,#dcddeb 127.5px,#eee6e6 128.5px,#e2b1a1 130.5px,#d58d7a 132.5px,#cd7865 134.5px,#ca705c 137.5px)"></div><div style="height:1px;background:linear-gradient(90deg,#ca705c 0.5px,#cc7662 3.5px,#d38774 5.5px,#dfa897 7.5px,#e6bfb2 8.5px,#ecdad6 9.5px,#e8e7ee 10.5px,#b8bde2 12.5px,#a3aad9 14.5px,#a1a9d8 17.5px,#b0b7df 19.5px,#dbdbeb 21.5px,#efe8e8 22.5px,#e3b3a2 24.5px,#d58e7c 26.5px,#cd7965 28.5px,#ca705c 32.5px,#cc7561 38.5px,#d18371 40.5px,#dda291 42.5px,#e4b7a7 43.5px,#f0eeef 45.5px,#bec3e4 47.5px,#a5acda 49.5px,#a0a8d8 52.5px,#acb3de 54.5px,#bcc1e3 55.5px,#eeecef 57.5px,#e5baab 59.5px,#d79380 61.5px,#ce7b68 63.5px,#ca705c 67.5px,#cb7460 73.5px,#d0806d 75.5px,#db9d8b 77.5px,#e2b1a0 78.5px,#eee5e5 80.5px,#dddeeb 81.5px,#b1b8e0 83.5px,#a1a9d8 85.5px,#a2aad9 88.5px,#b6bce2 90.5px,#e5e5ed 92.5px,#ecddda 93.5px,#e7c2b5 94.5px,#d99786 96.5px,#cf7d6a 98.5px,#ca715d 101.5px,#cb735f 108.5px,#d38876 111.5px,#e0aa9a 113.5px,#e7c2b5 114.5px,#ecddda 115.5px,#e5e5ed 116.5px,#b6bce2 118.5px,#a2aad9 120.5px,#a1a9d8 123.5px,#b1b8e0 125.5px,#dddeeb 127.5px,#eee5e5 128.5px,#e2b1a0 130.5px,#d58c7a 132.5px,#cd7865 134.5px,#ca705c 137.5px)"></div><div style="height:1px;background:linear-gradient(90deg,#ca705c 0.5px,#cc7662 3.5px,#d28774 5.5px,#dfa897 7.5px,#e6beb0 8.5px,#ebd9d4 9.5px,#eae9ef 10.5px,#babfe3 12.5px,#a4acda 14.5px,#a2aad9 17.5px,#b2b8e0 19.5px,#ddddeb 21.5px,#eee6e6 22.5px,#e2b2a2 24.5px,#d58d7b 26.5px,#cd7965 28.5px,#ca705c 32.5px,#cc7561 38.5px,#d18370 40.5px,#e4b6a6 43.5px,#efeced 45.5px,#c0c5e4 47.5px,#a6addb 49.5px,#a1a9d8 52.5px,#aeb5de 54.5px,#d5d7ea 56.5px,#f0eef0 57.5px,#e5b9a9 59.5px,#d79280 61.5px,#ce7b67 63.5px,#ca705c 67.5px,#cb7460 73.5px,#d0806d 75.5px,#da9c8b 77.5px,#e2b09f 78.5px,#eee3e2 80.5px,#dfe0ec 81.5px,#b3bae1 83.5px,#a2aad9 85.5px,#a4abda 88.5px,#b8bee3 90.5px,#e8e7ee 92.5px,#ecdbd7 93.5px,#e6c0b4 94.5px,#d89785 96.5px,#cf7d6a 98.5px,#ca715d 101.5px,#cb735f 108.5px,#d38875 111.5px,#dfaa99 113.5px,#e6c0b4 114.5px,#ecdbd7 115.5px,#e8e7ee 116.5px,#b8bee3 118.5px,#a4abda 120.5px,#a2aad9 123.5px,#b3bae1 125.5px,#dfe0ec 127.5px,#eee3e2 128.5px,#e2b09f 130.5px,#d48c7a 132.5px,#cd7865 134.5px,#ca705c 137.5px)"></div><div style="height:1px;background:linear-gradient(90deg,#ca705c 0.5px,#cc7662 3.5px,#d28674 5.5px,#dea696 7.5px,#e5bcae 8.5px,#edecef 10.5px,#bec3e4 12.5px,#a7aedb 14.5px,#a4acda 17.5px,#b5bbe2 19.5px,#e0e0ec 21.5px,#eee3e2 22.5px,#e2b0a0 24.5px,#d0816e 27.5px,#cb715e 30.5px,#cc7561 38.5px,#d18370 40.5px,#e3b5a5 43.5px,#efe9e9 45.5px,#c4c8e5 47.5px,#a9b0dc 49.5px,#a3abd9 52.5px,#b1b8e0 54.5px,#d9daea 56.5px,#efebec 57.5px,#e4b7a7 59.5px,#d18471 62.5px,#cb725e 65.5px,#cb7460 73.5px,#d48c79 76.5px,#e1ae9e 78.5px,#ede1df 80.5px,#e3e3ed 81.5px,#b6bce2 83.5px,#a5acda 85.5px,#a6addb 88.5px,#bcc1e3 90.5px,#ebe9ef 92.5px,#ebd9d4 93.5px,#e6bfb1 94.5px,#d89684 96.5px,#cf7d6a 98.5px,#ca715d 101.5px,#cb735f 108.5px,#d38875 111.5px,#dfa898 113.5px,#e6bfb1 114.5px,#ebd9d4 115.5px,#ebe9ef 116.5px,#bcc1e3 118.5px,#a6addb 120.5px,#a5acda 123.5px,#b6bce2 125.5px,#e3e3ed 127.5px,#ede1df 128.5px,#e1ae9e 130.5px,#d48c79 132.5px,#cb7460 135.5px,#ca705c 137.5px)"></div><div style="height:1px;background:linear-gradient(90deg,#ca705c 0.5px,#ce7c69 4.5px,#d79482 6.5px,#e5baab 8.5px,#f0edee 10.5px,#c3c7e5 12.5px,#aab1dd 14.5px,#a7afdb 17.5px,#babfe3 19.5px,#e5e4ed 21.5px,#ede0dd 22.5px,#e1af9e 24.5px,#d0806d 27.5px,#cb715d 30.5px,#cc7461 38.5px,#d1826f 40.5px,#e3b3a3 43.5px,#eee5e4 45.5px,#e0e0ec 46.5px,#b6bce2 48.5px,#a6aedb 50.5px,#abb2dd 53.5px,#c7cbe6 55.5px,#dddeeb 56.5px,#efe8e8 57.5px,#e4b5a5 59.5px,#d18371 62.5px,#cb725e 65.5px,#cb7360 73.5px,#d48b78 76.5px,#e1ad9c 78.5px,#ecddda 80.5px,#e7e6ee 81.5px,#bbc1e3 83.5px,#a8afdb 85.5px,#a9b0dc 88.5px,#c1c5e5 90.5px,#efedf0 92.5px,#e5bcae 94.5px,#d89583 96.5px,#cf7d69 98.5px,#ca715d 101.5px,#cb735f 108.5px,#d38774 111.5px,#dea796 113.5px,#e5bcae 114.5px,#efedf0 116.5px,#c1c5e5 118.5px,#a9b0dc 120.5px,#a8afdb 123.5px,#bbc1e3 125.5px,#e7e6ee 127.5px,#ecddda 128.5px,#e1ad9c 130.5px,#d07f6c 133.5px,#ca715d 136.5px,#ca705c 137.5px)"></div><div style="height:1px;background:linear-gradient(90deg,#ca705c 0.5px,#ce7c68 4.5px,#dda492 7.5px,#e4b7a7 8.5px,#efe8e8 10.5px,#dedfec 11.5px,#b8bee3 13.5px,#aab1dc 15.5px,#acb3dd 17.5px,#c0c5e4 19.5px,#eae9ef 21.5px,#ecdcd8 22.5px,#e1ad9c 24.5px,#d0806d 27.5px,#cb715d 30.5px,#cc7461 38.5px,#d58e7c 41.5px,#e2b1a1 43.5px,#ede1df 45.5px,#e5e5ed 46.5px,#bdc2e4 48.5px,#abb2dd 50.5px,#b0b7df 53.5px,#cdd0e8 55.5px,#e3e3ed 56.5px,#eee3e2 57.5px,#e3b3a3 59.5px,#d18370 62.5px,#cb725e 65.5px,#cb7360 73.5px,#d48a78 76.5px,#e0ab9a 78.5px,#ecebef 81.5px,#c2c6e5 83.5px,#acb3de 85.5px,#aeb5de 88.5px,#c7cbe6 90.5px,#efeaeb 92.5px,#e5b9ab 94.5px,#d28674 97.5px,#cb735f 100.5px,#cb735f 108.5px,#d28674 111.5px,#e5b9ab 114.5px,#efeaeb 116.5px,#b7bde2 119.5px,#aab1dc 121.5px,#acb3de 123.5px,#c2c6e5 125.5px,#ecebef 127.5px,#e0ab9a 130.5px,#d07f6c 133.5px,#ca715d 136.5px,#ca705c 137.5px)"></div><div style="height:1px;background:linear-gradient(90deg,#ca705c 0.5px,#ce7b68 4.5px,#dda291 7.5px,#e3b4a4 8.5px,#eee3e1 10.5px,#e5e4ed 11.5px,#c0c4e4 13.5px,#afb6df 15.5px,#b1b8e0 17.5px,#c7cbe6 19.5px,#f0eef0 21.5px,#e0ab9a 24.5px,#d07f6c 27.5px,#ca715d 30.5px,#cc7460 38.5px,#d58d7b 41.5px,#e1af9e 43.5px,#ecdcd8 45.5px,#ebeaef 46.5px,#c4c8e5 48.5px,#b1b7e0 50.5px,#b0b7df 52.5px,#c3c7e5 54.5px,#e9e8ee 56.5px,#eddedb 57.5px,#e2b1a0 59.5px,#d1826f 62.5px,#cb725e 65.5px,#cb735f 73.5px,#d38977 76.5px,#dfa998 78.5px,#ebd5cf 80.5px,#f0eced 81.5px,#bbc0e3 84.5px,#afb5df 86.5px,#b4bae1 88.5px,#ced1e8 90.5px,#e2e2ed 91.5px,#eee5e4 92.5px,#e4b6a7 94.5px,#d28673 97.5px,#cb725f 100.5px,#cb725f 108.5px,#d28673 111.5px,#e4b6a7 114.5px,#eee5e4 116.5px,#e2e2ed 117.5px,#bec3e4 119.5px,#afb6df 121.5px,#b2b8e0 123.5px,#c9cde7 125.5px,#f0eced 127.5px,#e6beb0 129.5px,#d99886 131.5px,#cd7764 134.5px,#ca705c 137.5px)"></div><div style="height:1px;background:linear-gradient(90deg,#ca705c 0.5px,#ce7b67 4.5px,#dca08f 7.5px,#e2b2a2 8.5px,#ecdeda 10.5px,#eceaef 11.5px,#c8cce6 13.5px,#b7bce2 15.5px,#b9bfe3 17.5px,#d0d2e8 19.5px,#e2e2ed 20.5px,#efe8e8 21.5px,#e5bcae 23.5px,#d38977 26.5px,#cb7360 29.5px,#cc7460 38.5px,#d48c7a 41.5px,#e0ac9c 43.5px,#f0ecee 46.5px,#c0c5e4 49.5px,#b5bbe2 51.5px,#bfc4e4 53.5px,#f0eef0 56.5px,#e1ae9e 59.5px,#d1826f 62.5px,#cb725e 65.5px,#cb735f 73.5px,#d38876 76.5px,#e5baab 79.5px,#eee6e6 81.5px,#e4e3ed 82.5px,#c3c7e5 84.5px,#b6bce2 86.5px,#bcc1e3 88.5px,#d7d8ea 90.5px,#eae8ee 91.5px,#ede0dd 92.5px,#e3b4a4 94.5px,#d28572 97.5px,#cb725f 100.5px,#cb725f 108.5px,#d28572 111.5px,#e3b4a4 114.5px,#ede0dd 116.5px,#eae8ee 117.5px,#c7cbe6 119.5px,#b6bce2 121.5px,#babfe3 123.5px,#d2d4e9 125.5px,#e4e3ed 126.5px,#eee6e6 127.5px,#e5baab 129.5px,#d38876 132.5px,#cb735f 135.5px,#ca705c 137.5px)"></div><div style="height:1px;background:linear-gradient(90deg,#ca705c 0.5px,#ce7a67 4.5px,#db9e8d 7.5px,#e7c3b8 9.5px,#efebed 11.5px,#c7cbe6 14.5px,#bfc4e4 16.5px,#cccfe7 18.5px,#e9e8ee 20.5px,#ede2e0 21.5px,#e5b9aa 23.5px,#d38976 26.5px,#cb7360 29.5px,#cb7460 38.5px,#d48b79 41.5px,#e6bdaf 44.5px,#eee6e5 46.5px,#e6e5ee 47.5px,#cacde7 49.5px,#bfc4e4 51.5px,#c9cce7 53.5px,#e4e4ed 55.5px,#efe8e8 56.5px,#e0ac9b 59.5px,#d0816e 62.5px,#cb725e 65.5px,#cb735f 73.5px,#d38775 76.5px,#e4b7a7 79.5px,#ede0de 81.5px,#ebeaef 82.5px,#c4c8e5 85.5px,#c0c5e4 87.5px,#d1d3e8 89.5px,#f0edef 91.5px,#e2b1a1 94.5px,#d18471 97.5px,#cb725e 100.5px,#cb725e 108.5px,#d18471 111.5px,#e2b1a1 114.5px,#f0edef 117.5px,#c6cae6 120.5px,#c0c4e4 122.5px,#cdd0e8 124.5px,#ebeaef 126.5px,#ede0de 127.5px,#e4b7a7 129.5px,#d38775 132.5px,#cb735f 135.5px,#ca705c 137.5px)"></div><div style="height:1px;background:linear-gradient(90deg,#ca705c 0.5px,#ce7a67 4.5px,#da9c8b 7.5px,#e6bfb2 9.5px,#eee5e4 11.5px,#e9e8ee 12.5px,#cccfe7 15.5px,#ced1e8 17.5px,#f0edee 20.5px,#e4b5a5 23.5px,#d38875 26.5px,#cb735f 29.5px,#cb7460 38.5px,#d48a77 41.5px,#e5b9aa 44.5px,#eddfdd 46.5px,#eeecf0 47.5px,#cdd0e8 50.5px,#cdcfe7 52.5px,#edebef 55.5px,#ede1df 56.5px,#dfaa99 59.5px,#d0806d 62.5px,#cb725e 65.5px,#cb735f 73.5px,#d28674 76.5px,#e3b4a4 79.5px,#efebec 82.5px,#cfd1e8 85.5px,#cbcee7 87.5px,#dbdceb 89.5px,#e8e7ee 90.5px,#eee6e6 91.5px,#e1af9e 94.5px,#d18370 97.5px,#cb725e 100.5px,#cb725e 108.5px,#d18370 111.5px,#e1af9e 114.5px,#eee6e6 117.5px,#e8e7ee 118.5px,#d1d3e8 120.5px,#cbcee7 122.5px,#d7d9ea 124.5px,#efebec 126.5px,#e3b4a4 129.5px,#d28674 132.5px,#cb735f 135.5px,#ca705c 137.5px)"></div><div style="height:1px;background:linear-gradient(90deg,#ca705c 0.5px,#ce7a66 4.5px,#da9b89 7.5px,#e9cec5 10.5px,#f0ecee 12.5px,#d7d9ea 15.5px,#d9daeb 17.5px,#ebeaef 19.5px,#eee5e5 20.5px,#dda291 24.5px,#cf7d6a 27.5px,#ca705c 31.5px,#cb7460 38.5px,#d38976 41.5px,#e4b6a6 44.5px,#efe8e8 47.5px,#e9e8ee 48.5px,#d6d7ea 51.5px,#dedfec 53.5px,#efeaea 55.5px,#dfa796 59.5px,#d0806d 62.5px,#cb725e 65.5px,#cb735f 73.5px,#d28673 76.5px,#e2b1a1 79.5px,#eee4e3 82.5px,#edebef 83.5px,#d6d8ea 86.5px,#dcddeb 88.5px,#f0eeef 90.5px,#da9c8b 95.5px,#ce7a67 98.5px,#ca705c 102.5px,#cc7561 109.5px,#d58e7c 112.5px,#e6bdb0 115.5px,#f0eeef 118.5px,#d7d8ea 121.5px,#dadbeb 123.5px,#edebef 125.5px,#eee4e3 126.5px,#dca190 130.5px,#cf7c69 133.5px,#ca705c 137.5px)"></div><div style="height:1px;background:linear-gradient(90deg,#ca705c 0.5px,#cd7966 4.5px,#d99988 7.5px,#e8c9bf 10.5px,#eee5e4 12.5px,#efedf0 13.5px,#e1e1ec 16.5px,#efeaeb 19.5px,#e6c1b4 22.5px,#d79280 25.5px,#cc7763 28.5px,#ca705c 35.5px,#cd7864 39.5px,#d89583 42.5px,#e7c4b9 45.5px,#f0ecee 48.5px,#e1e1ec 51.5px,#f0edef 54.5px,#e7c6bb 57.5px,#dea594 59.5px,#d07f6c 62.5px,#cb725e 65.5px,#cb735f 73.5px,#d28572 76.5px,#e1af9e 79.5px,#efe9ea 83.5px,#e5e4ed 85.5px,#e6e6ee 88.5px,#eeecf0 89.5px,#ecdad5 91.5px,#da9b89 95.5px,#ce7a67 98.5px,#ca705c 102.5px,#cc7561 109.5px,#d58d7b 112.5px,#e5baab 115.5px,#eee6e5 118.5px,#eeecf0 119.5px,#e1e1ec 122.5px,#ebeaef 124.5px,#efe9ea 125.5px,#dc9f8e 130.5px,#ce7c69 133.5px,#ca705c 137.5px)"></div><div style="height:1px;background:linear-gradient(90deg,#ca705c 0.5px,#cd7966 4.5px,#d99886 7.5px,#e7c5ba 10.5px,#efe7e7 13.5px,#f0eeef 14.5px,#efebec 18.5px,#e9cdc4 21.5px,#d6917f 25.5px,#cc7763 28.5px,#ca705c 35.5px,#cd7864 39.5px,#d79482 42.5px,#ecdbd7 47.5px,#f0eced 49.5px,#f0ecee 53.5px,#ead1c9 56.5px,#d89583 60.5px,#cd7865 63.5px,#ca705c 69.5px,#cc7663 74.5px,#d6907e 77.5px,#ebd8d3 82.5px,#efeaeb 84.5px,#f0eef0 88.5px,#ebd4ce 91.5px,#d99988 95.5px,#ce7a66 98.5px,#ca705c 103.5px,#cc7561 109.5px,#d48c7a 112.5px,#e4b7a7 115.5px,#eddfdd 118.5px,#f0eef0 120.5px,#efeaeb 124.5px,#e9cbc2 127.5px,#d6907e 131.5px,#cc7663 134.5px,#ca705d 137.5px)"></div><div style="height:1px;background:linear-gradient(90deg,#ca715d 0.5px,#ce7a66 4.5px,#d99785 7.5px,#ebd9d4 12.5px,#efe9e9 15.5px,#eee3e2 18.5px,#e8c9bf 21.5px,#d6917e 25.5px,#cd7764 28.5px,#ca715d 35.5px,#cd7865 39.5px,#d79381 42.5px,#ebd6d1 47.5px,#efe8e8 50.5px,#eee5e4 53.5px,#e9cdc4 56.5px,#d89483 60.5px,#cd7965 63.5px,#ca715d 69.5px,#cc7763 74.5px,#d68f7d 77.5px,#ead3cd 82.5px,#efe7e7 85.5px,#eee6e6 88.5px,#ead0c8 91.5px,#d99887 95.5px,#ce7a67 98.5px,#ca715d 103.5px,#cc7662 109.5px,#d48c79 112.5px,#e7c4b8 116.5px,#ede1df 119.5px,#efe9ea 122.5px,#ecdcd8 125.5px,#e5b9aa 128.5px,#d28472 132.5px,#cb7360 135.5px,#ca715d 137.5px)"></div><div style="height:1px;background:linear-gradient(90deg,#cb725e 0.5px,#ce7b67 4.5px,#d89785 7.5px,#ebd5cf 12.5px,#ede2e0 15.5px,#ecddda 18.5px,#e7c6bb 21.5px,#d28673 26.5px,#cc7561 29.5px,#cc7562 38.5px,#d38875 41.5px,#ead2cb 47.5px,#ede1df 50.5px,#eddfdc 53.5px,#e8cac0 56.5px,#d38976 61.5px,#cc7662 64.5px,#cc7561 73.5px,#d28572 76.5px,#e4b7a8 80.5px,#ebd7d2 83.5px,#ede2e0 86.5px,#ecdcd8 89.5px,#e6c1b5 92.5px,#d48c7a 96.5px,#cc7763 99.5px,#cb7460 108.5px,#d1826f 111.5px,#e3b3a3 115.5px,#ebd5cf 118.5px,#ede2e0 121.5px,#ecddda 124.5px,#e7c5ba 127.5px,#d68f7d 131.5px,#cd7864 134.5px,#cb725e 137.5px)"></div><div style="height:1px;background:linear-gradient(90deg,#cb7460 0.5px,#cf7c69 4.5px,#d99785 7.5px,#e8c9c0 11.5px,#ecdad6 14.5px,#ebd9d4 18.5px,#e7c4b9 21.5px,#d28774 26.5px,#cc7763 29.5px,#cd7763 38.5px,#d38976 41.5px,#e9cfc8 47.5px,#ecdcd8 50.5px,#ecdad5 53.5px,#e8c7bd 56.5px,#d48a77 61.5px,#cd7764 64.5px,#cc7663 73.5px,#d28673 76.5px,#e9cdc4 82.5px,#ecdbd7 85.5px,#ebd7d2 89.5px,#e6bfb2 92.5px,#d58d7a 96.5px,#cd7865 99.5px,#cc7662 108.5px,#d18371 111.5px,#e3b2a2 115.5px,#ead2cb 118.5px,#ecdcd9 121.5px,#ebd9d4 124.5px,#e7c3b7 127.5px,#d28673 132.5px,#cc7663 135.5px,#cc7460 137.5px)"></div><div style="height:1px;background:linear-gradient(90deg,#cc7663 0.5px,#cf7e6b 4.5px,#d99886 7.5px,#e8c8bd 11.5px,#ebd7d2 14.5px,#ebd6d0 18.5px,#e7c3b7 21.5px,#d38876 26.5px,#cd7965 29.5px,#cd7966 38.5px,#d48a78 41.5px,#e9cdc5 47.5px,#ebd8d3 50.5px,#ead3cd 54.5px,#e5bbac 57.5px,#d48b79 61.5px,#ce7966 64.5px,#cd7865 73.5px,#d38875 76.5px,#e9cbc2 82.5px,#ebd8d3 85.5px,#ebd4ce 89.5px,#e6beb1 92.5px,#d28572 97.5px,#cc7763 101.5px,#ce7a67 109.5px,#d58e7c 112.5px,#e8c9bf 117.5px,#ebd7d2 120.5px,#ebd5d0 124.5px,#e7c2b6 127.5px,#d38875 132.5px,#cd7865 135.5px,#cc7663 137.5px)"></div><div style="height:1px;background:linear-gradient(90deg,#cd7965 0.5px,#d0806d 4.5px,#d99988 7.5px,#e9cec5 12.5px,#ebd6d0 16.5px,#ead0c9 19.5px,#e4b7a7 22.5px,#d48a78 26.5px,#ce7a66 30.5px,#ce7c68 38.5px,#d48c7a 41.5px,#e9ccc3 47.5px,#ebd6d0 51.5px,#e9cdc4 55.5px,#d58d7b 61.5px,#ce7c69 64.5px,#ce7b68 73.5px,#d38a77 76.5px,#e8cac0 82.5px,#ebd5cf 85.5px,#ead2cc 89.5px,#e6beb0 92.5px,#d38775 97.5px,#cd7966 101.5px,#cf7d6a 109.5px,#d6907e 112.5px,#e8c8bd 117.5px,#ebd5cf 120.5px,#ead3cd 124.5px,#e6c1b5 127.5px,#d38a77 132.5px,#ce7a66 136.5px,#cd7965 137.5px)"></div><div style="height:1px;background:linear-gradient(90deg,#ce7c68 0.5px,#d18370 4.5px,#dea695 8.5px,#e9cdc4 12.5px,#ead4ce 16.5px,#e9cfc7 19.5px,#e4b7a7 22.5px,#d58d7a 26.5px,#cf7d69 30.5px,#cf7f6b 38.5px,#d58e7c 41.5px,#e9cbc2 47.5px,#ead4ce 51.5px,#e9ccc3 55.5px,#d68f7d 61.5px,#d07f6c 64.5px,#cf7e6b 73.5px,#d48c79 76.5px,#e8c9c0 82.5px,#ead4cd 85.5px,#ead1ca 89.5px,#e6beb1 92.5px,#d48a77 97.5px,#cf7c69 101.5px,#d0806d 109.5px,#d79280 112.5px,#e8c7bd 117.5px,#ead3cd 120.5px,#e9cfc7 125.5px,#e4b6a6 128.5px,#d48c79 132.5px,#cf7d69 136.5px,#ce7c69 137.5px)"></div><div style="height:1px;background:linear-gradient(90deg,#d07f6c 0.5px,#d28673 4.5px,#dfa897 8.5px,#e9cdc4 12.5px,#ead3cd 16.5px,#e8cac0 20.5px,#d68f7d 26.5px,#d0806d 30.5px,#d1826f 38.5px,#d6917f 41.5px,#e9cbc2 47.5px,#ead3cd 51.5px,#e9ccc3 55.5px,#d48a78 62.5px,#d07f6c 66.5px,#d18471 74.5px,#d89785 77.5px,#e8c9bf 82.5px,#ead3cc 85.5px,#e9cdc5 90.5px,#dfa998 94.5px,#d28774 98.5px,#d07f6c 104.5px,#d28774 110.5px,#dfa998 114.5px,#e9cdc5 118.5px,#ead3cc 123.5px,#e8c9bf 126.5px,#d58f7c 132.5px,#d0806d 136.5px,#d07f6c 137.5px)"></div><div style="height:1px;background:linear-gradient(90deg,#d18370 0.5px,#d38977 4.5px,#dfa999 8.5px,#e9cdc4 12.5px,#ead2cb 17.5px,#e8cac1 20.5px,#d79280 26.5px,#d18371 30.5px,#d38876 39.5px,#dea695 43.5px,#e9cbc2 47.5px,#ead3cc 51.5px,#e9ccc3 55.5px,#d58e7b 62.5px,#d18370 67.5px,#d38775 74.5px,#dda392 78.5px,#e8c9c0 82.5px,#ead3cc 86.5px,#e9cdc5 90.5px,#e0aa9a 94.5px,#d48a77 98.5px,#d18370 105.5px,#d48a77 110.5px,#e0aa9a 114.5px,#e9cdc5 118.5px,#ead2cb 123.5px,#e8c9c0 126.5px,#d6917f 132.5px,#d18370 136.5px,#d18370 137.5px)"></div><div style="height:1px;background:linear-gradient(90deg,#d28674 0.5px,#d79280 5.5px,#e9cdc4 12.5px,#ead2cb 17.5px,#e8cac1 20.5px,#d89583 26.5px,#d38775 30.5px,#d48c79 39.5px,#dfa897 43.5px,#e9ccc2 47.5px,#ead2cc 51.5px,#e9ccc3 55.5px,#d6917f 62.5px,#d28674 67.5px,#d48b78 74.5px,#dea594 78.5px,#e8cac0 82.5px,#ead2cc 86.5px,#e9cdc5 90.5px,#dda291 95.5px,#d48a77 99.5px,#d48a77 109.5px,#dda291 113.5px,#e9cdc5 118.5px,#ead2cb 123.5px,#e8cac0 126.5px,#d89483 132.5px,#d38774 136.5px,#d28774 137.5px)"></div><div style="height:1px;background:linear-gradient(90deg,#d48a78 0.5px,#d89583 5.5px,#e9cdc5 12.5px,#ead2cb 17.5px,#e9cbc2 20.5px,#d99887 26.5px,#d48b79 30.5px,#d68f7d 39.5px,#e0aa9a 43.5px,#e9ccc3 47.5px,#ead2cb 52.5px,#e9cdc4 55.5px,#d79482 62.5px,#d48a78 67.5px,#d58e7c 74.5px,#dfa897 78.5px,#e8cbc1 82.5px,#ead3cc 86.5px,#e9cec5 90.5px,#d89684 97.5px,#d48a78 102.5px,#d6917f 110.5px,#e1ae9e 114.5px,#e9cec5 118.5px,#ead2cb 123.5px,#e8cbc1 126.5px,#d99886 132.5px,#d48b79 136.5px,#d48a78 137.5px)"></div><div style="height:1px;background:linear-gradient(90deg,#d58e7c 0.5px,#d99987 5.5px,#e5b8a9 9.5px,#e9cec6 12.5px,#ead2ca 18.5px,#e7c6bb 21.5px,#da9c8a 26.5px,#d68f7d 30.5px,#d79381 39.5px,#e1ad9c 43.5px,#e9cdc4 47.5px,#ead3cc 52.5px,#e9cdc5 55.5px,#d99886 62.5px,#d58e7c 68.5px,#d89684 75.5px,#e3b3a3 79.5px,#e9cbc2 82.5px,#ead3cc 86.5px,#e9cec6 90.5px,#d99988 97.5px,#d58e7c 102.5px,#d89483 110.5px,#e2b0a0 114.5px,#e9cec6 118.5px,#ead1ca 124.5px,#e7c5ba 127.5px,#da9b89 132.5px,#d58e7c 137.5px)"></div><div style="height:1px;background:linear-gradient(90deg,#d79280 0.5px,#da9c8a 5.5px,#e5baac 9.5px,#e9cfc6 12.5px,#ead2cb 18.5px,#e8c7bc 21.5px,#db9f8d 26.5px,#d79280 31.5px,#d89785 39.5px,#e1af9e 43.5px,#e9cdc5 47.5px,#ead3cc 52.5px,#e8c9bf 56.5px,#dca18f 61.5px,#d79381 65.5px,#d89684 74.5px,#e0ac9c 78.5px,#e9ccc3 82.5px,#ead3cc 87.5px,#e8cbc1 91.5px,#dda391 96.5px,#d79382 100.5px,#d89583 109.5px,#e0aa99 113.5px,#e9cfc7 118.5px,#ead2cb 124.5px,#e7c6bb 127.5px,#dea594 131.5px,#d79482 135.5px,#d79280 137.5px)"></div><div style="height:1px;background:linear-gradient(90deg,#d89684 0.5px,#dc9f8e 5.5px,#e5bcae 9.5px,#e9cfc7 12.5px,#ead2cc 18.5px,#e8c8be 21.5px,#dda291 26.5px,#d89684 31.5px,#da9a89 39.5px,#e2b1a1 43.5px,#e9cec6 47.5px,#ead3cc 53.5px,#e8cac0 56.5px,#dda493 61.5px,#d89685 66.5px,#d99a88 74.5px,#e1af9e 78.5px,#e9cdc4 82.5px,#ead3cd 87.5px,#e9cbc2 91.5px,#dea594 96.5px,#d99785 100.5px,#d99987 109.5px,#e0ac9c 113.5px,#e9d0c8 118.5px,#ead2cb 124.5px,#e8c7bd 127.5px,#dfa797 131.5px,#d99886 135.5px,#d89684 137.5px)"></div><div style="height:1px;background:linear-gradient(90deg,#da9a88 0.5px,#dda291 5.5px,#e6beb1 9.5px,#ead0c8 12.5px,#ead3cc 18.5px,#e8c9bf 21.5px,#dea594 26.5px,#da9a88 31.5px,#db9e8c 39.5px,#e3b3a3 43.5px,#e9cfc7 47.5px,#ead3cd 53.5px,#e8cbc1 56.5px,#dea696 61.5px,#da9a88 66.5px,#dca08f 75.5px,#e5b9aa 79.5px,#e9cec5 82.5px,#ead4cd 87.5px,#e9ccc3 91.5px,#dfa897 96.5px,#da9a89 101.5px,#db9f8e 110.5px,#e4b6a6 114.5px,#e9ccc3 117.5px,#ead4cd 121.5px,#e9cec5 126.5px,#dda493 132.5px,#da9a88 137.5px)"></div><div style="height:1px;background:linear-gradient(90deg,#db9d8c 0.5px,#dea594 5.5px,#e6c0b3 9.5px,#ead1c9 12.5px,#ead3cd 18.5px,#e8cac0 21.5px,#dfa897 26.5px,#db9d8c 32.5px,#dda493 40.5px,#e6bdb0 44.5px,#e9d0c8 47.5px,#ead4cd 53.5px,#e9ccc3 56.5px,#dfa998 61.5px,#db9d8c 66.5px,#dda392 75.5px,#e5bbac 79.5px,#e9cec6 82.5px,#ead4cd 88.5px,#e9cdc5 91.5px,#e0ab9a 96.5px,#db9e8c 101.5px,#dda291 110.5px,#e4b8a9 114.5px,#e9cdc5 117.5px,#ead4ce 122.5px,#e9cec6 126.5px,#dea796 132.5px,#db9d8c 137.5px)"></div><div style="height:1px;background:linear-gradient(90deg,#dca08f 0.5px,#dfa897 5.5px,#e6c1b5 9.5px,#ead1ca 12.5px,#ead2cb 19.5px,#e7c5b9 22.5px,#e0aa99 26.5px,#dca08f 32.5px,#dea796 40.5px,#e6bfb2 44.5px,#ead0c9 47.5px,#ead4ce 53.5px,#e9cdc4 56.5px,#e0ac9b 61.5px,#dca08f 66.5px,#dea695 75.5px,#e5bdaf 79.5px,#e9cfc7 82.5px,#ead4ce 88.5px,#e8c9bf 92.5px,#e1ad9d 96.5px,#dca18f 101.5px,#dea594 110.5px,#e5baab 114.5px,#ead1ca 118.5px,#ead2cb 125.5px,#e7c4b9 128.5px,#dfaa99 132.5px,#dca08f 137.5px)"></div><div style="height:1px;background:linear-gradient(90deg,#dda392 0.5px,#e0aa99 5.5px,#e5bbad 8.5px,#ead2ca 12.5px,#ead3cc 19.5px,#e7c6bb 22.5px,#e0ac9c 26.5px,#dda392 32.5px,#dfa998 40.5px,#e6c0b4 44.5px,#ead1c9 47.5px,#ead3cd 54.5px,#e8c8bd 57.5px,#e1ae9d 61.5px,#dda392 67.5px,#dfa897 75.5px,#e6beb1 79.5px,#ead3cc 83.5px,#ead2cb 90.5px,#e5bcae 94.5px,#dfa796 98.5px,#dea594 109.5px,#e3b5a5 113.5px,#e9cfc6 117.5px,#ebd5cf 122.5px,#ead0c8 126.5px,#e0ac9b 132.5px,#dda392 137.5px)"></div><div style="height:1px;background:linear-gradient(90deg,#dea594 0.5px,#e2b0a0 6.5px,#ead2cb 12.5px,#ead3cc 19.5px,#e6c0b3 23.5px,#e0aa9a 27.5px,#dea695 37.5px,#e3b4a4 42.5px,#ead1ca 47.5px,#ead4cd 54.5px,#e7c2b6 58.5px,#e1af9f 61.5px,#dea594 67.5px,#e0aa99 75.5px,#e6bfb2 79.5px,#ead3cc 83.5px,#ead2cb 90.5px,#e6bdaf 94.5px,#dfa998 98.5px,#dea796 109.5px,#e4b6a6 113.5px,#e9cfc7 117.5px,#ebd5cf 123.5px,#e9ccc3 127.5px,#e1ae9d 132.5px,#dea594 137.5px)"></div><div style="height:1px;background:linear-gradient(90deg,#e0ad9c 0.5px,#e4b6a6 6.5px,#ead2cb 12.5px,#ead3cc 19.5px,#e7c3b8 23.5px,#e2b1a1 27.5px,#e1af9f 39.5px,#e6bfb2 43.5px,#ead2ca 47.5px,#ead3cd 54.5px,#e7c5ba 58.5px,#e2b2a1 62.5px,#e1ad9d 73.5px,#e4b8a8 77.5px,#ead1c9 82.5px,#ead4cd 89.5px,#e8c7bc 93.5px,#e3b3a2 97.5px,#e1ad9c 107.5px,#e4b6a6 112.5px,#ead2cc 118.5px,#ead3cc 125.5px,#e7c3b7 129.5px,#e2b1a0 133.5px,#e1ad9c 137.5px)"></div><div style="height:1px;background:linear-gradient(90deg,#ead1c9 0.5px,#ebd8d3 20.5px,#ead1c9 36.5px,#ebd8d3 55.5px,#ead1c9 71.5px,#ebd8d3 90.5px,#ead1c9 106.5px,#ebd8d3 125.5px,#ead1c9 137.5px)"></div><div style="height:1px;background:#eee7e7"></div><div style="height:1px;background:#e9cbc2"></div><div style="height:1px;background:#c36655"></div><div style="height:1px;background:#60171b"></div><div style="height:1px;background:#af4840"></div><div style="height:1px;background:#da9c8a"></div><div style="height:1px;background:#d9daeb"></div><div style="height:1px;background:linear-gradient(90deg,#7580c4 0.5px,#7580c4 137.5px)"></div><div style="height:1px;background:linear-gradient(90deg,#626eb6 0.5px,#707cc2 18.5px,#626fb6 36.5px,#707cc2 53.5px,#626fb6 71.5px,#707cc2 88.5px,#626eb6 106.5px,#707cc2 124.5px,#626fb6 137.5px)"></div><div style="height:1px;background:linear-gradient(90deg,#5f6cb3 0.5px,#7b86c7 16.5px,#5e6bb3 33.5px,#707cc2 45.5px,#7b86c7 52.5px,#5e6bb3 68.5px,#6f7bc1 80.5px,#7b86c7 87.5px,#5e6bb3 103.5px,#6c79bf 114.5px,#7b86c7 122.5px,#5f6cb4 137.5px)"></div><div style="height:1px;background:linear-gradient(90deg,#5b68b0 0.5px,#616eb5 21.5px,#5d6ab2 40.5px,#606db4 58.5px,#5e6ab2 76.5px,#606cb4 94.5px,#5d6ab2 111.5px,#606db4 129.5px,#5b68b0 137.5px)"></div><div style="height:1px;background:linear-gradient(90deg,#5765ad 0.5px,#5765ad 137.5px)"></div><div style="height:1px;background:#47559f"></div><div style="height:1px;background:#404d95"></div><div style="height:1px;background:#3d4a8f"></div><div style="height:4px;background:#3d4a8e"></div><div style="height:1px;background:#3d498e"></div><div style="height:5px;background:#3d498d"></div><div style="height:1px;background:#3c498c"></div></div><div style="position:absolute;left:627.2px;top:23px;width:6px;height:119px;background:linear-gradient(180deg,#561218 0%,#a23432 15%,#ca705c 30%,#e4b6a6 42%,#f0eef0 50%,#b6bce2 58%,#707cc2 70%,#42509b 85%,#343e76 100%)"></div><div style="position:absolute;left:283px;top:196px;width:138px;height:119px;overflow:hidden"><div style="height:13px;background:#37427d"></div><div style="height:1px;background:#37427e"></div><div style="height:1px;background:linear-gradient(90deg,#394482 0.5px,#394482 137.5px)"></div><div style="height:1px;background:linear-gradient(90deg,#414f99 0.5px,#414f99 137.5px)"></div><div style="height:1px;background:linear-gradient(90deg,#626eb6 0.5px,#6471b8 23.5px,#636fb7 61.5px,#6370b7 95.5px,#6370b7 131.5px,#626eb6 137.5px)"></div><div style="height:1px;background:linear-gradient(90deg,#616eb5 0.5px,#6975bc 19.5px,#616eb5 36.5px,#6874bb 55.5px,#616db5 73.5px,#6875bc 90.5px,#616eb5 107.5px,#6975bc 125.5px,#616eb5 137.5px)"></div><div style="height:1px;background:linear-gradient(90deg,#626fb6 0.5px,#636fb7 8.5px,#6d79bf 17.5px,#606cb4 29.5px,#606db5 37.5px,#6874bb 46.5px,#6b77be 54.5px,#5f6cb4 64.5px,#616db5 72.5px,#6774bb 81.5px,#6b78be 89.5px,#606db4 100.5px,#5f6cb4 109.5px,#6d79bf 123.5px,#606cb4 135.5px,#626eb6 137.5px)"></div><div style="height:1px;background:linear-gradient(90deg,#6b77be 0.5px,#616eb5 6.5px,#727dc3 17.5px,#616db5 27.5px,#6e7ac0 34.5px,#616db5 41.5px,#727ec3 52.5px,#616eb5 63.5px,#6e7ac0 69.5px,#616db5 76.5px,#727ec3 87.5px,#616db5 98.5px,#6d79c0 105.5px,#606db5 111.5px,#717dc3 123.5px,#616db5 133.5px,#6976bc 137.5px)"></div><div style="height:1px;background:linear-gradient(90deg,#7783c5 0.5px,#5e6bb3 5.5px,#727dc3 17.5px,#5d6ab2 26.5px,#747fc4 31.5px,#828cca 33.5px,#7b86c7 35.5px,#626fb6 39.5px,#5e6bb3 42.5px,#727ec3 51.5px,#5f6cb4 62.5px,#707cc2 66.5px,#818bca 68.5px,#7d88c8 70.5px,#6370b7 74.5px,#5d6ab2 77.5px,#727ec3 86.5px,#5e6bb3 97.5px,#6f7bc1 101.5px,#828cca 104.5px,#616eb5 110.5px,#606cb4 113.5px,#727ec3 122.5px,#5e6ab2 132.5px,#737fc3 137.5px)"></div><div style="height:1px;background:linear-gradient(90deg,#7a85c7 0.5px,#4f5da6 5.5px,#4c5aa4 6.5px,#606db5 8.5px,#6c78bf 17.5px,#636fb7 23.5px,#4f5da6 25.5px,#4c5aa4 26.5px,#808bc9 32.5px,#8590cc 34.5px,#4c59a3 41.5px,#6370b7 44.5px,#6c78be 53.5px,#5f6bb3 59.5px,#4c59a3 61.5px,#858fcc 68.5px,#818cca 70.5px,#4d5aa4 76.5px,#4e5ca6 77.5px,#626fb6 79.5px,#6c78bf 88.5px,#616eb5 94.5px,#4d5aa4 96.5px,#5764ad 98.5px,#838ecb 103.5px,#838ecb 105.5px,#4e5ca5 111.5px,#4d5aa4 112.5px,#616eb5 114.5px,#6c78bf 123.5px,#626fb6 129.5px,#4e5ca6 131.5px,#4d5aa4 132.5px,#7581c4 137.5px)"></div><div style="height:1px;background:linear-gradient(90deg,#6a76bd 0.5px,#404e96 4.5px,#3d4a8e 5.5px,#3f4c92 6.5px,#5d69b2 8.5px,#6572b9 18.5px,#5f6cb4 23.5px,#5663ac 24.5px,#424f9a 25.5px,#3d498d 26.5px,#43519c 28.5px,#6774bb 31.5px,#737fc3 33.5px,#6672b9 36.5px,#414f99 39.5px,#3e4a90 40.5px,#3d4a8f 41.5px,#45539e 42.5px,#5966af 43.5px,#6470b8 47.5px,#606db5 58.5px,#5b68b0 59.5px,#4855a0 60.5px,#3e4a90 61.5px,#3d4a8f 62.5px,#414f98 63.5px,#6c79bf 67.5px,#737fc4 69.5px,#5e6bb3 72.5px,#44529d 74.5px,#3d498d 76.5px,#414f98 77.5px,#5462ab 78.5px,#616eb5 80.5px,#6370b7 91.5px,#5d6ab2 94.5px,#3f4c93 96.5px,#3d498d 97.5px,#4856a0 99.5px,#6a77bd 102.5px,#7480c4 104.5px,#626eb6 107.5px,#404d95 110.5px,#3d498d 111.5px,#3f4c93 112.5px,#5d6ab2 114.5px,#6572b9 124.5px,#5f6bb3 129.5px,#5462ab 130.5px,#414f98 131.5px,#3d498d 132.5px,#44529d 134.5px,#6773ba 137.5px)"></div><div style="height:1px;background:linear-gradient(90deg,#4f5da6 0.5px,#3e4b91 2.5px,#394584 4.5px,#3b4788 5.5px,#404e96 6.5px,#515ea8 7.5px,#5c69b1 8.5px,#5e6bb3 22.5px,#5865ae 24.5px,#3d498e 26.5px,#3a4585 27.5px,#3c498c 29.5px,#4b58a2 31.5px,#5e6ab2 33.5px,#5462ab 35.5px,#404d94 37.5px,#3a4585 39.5px,#3a4686 40.5px,#3e4b91 41.5px,#5a67af 43.5px,#5f6cb4 55.5px,#5b67b0 59.5px,#3f4c92 61.5px,#3a4687 62.5px,#3b488a 64.5px,#47549f 66.5px,#5c69b1 68.5px,#5e6bb3 69.5px,#414e98 72.5px,#3a4686 74.5px,#3a4585 75.5px,#3c498c 76.5px,#45539d 77.5px,#5764ad 78.5px,#5f6bb3 81.5px,#5c69b1 94.5px,#5360a9 95.5px,#414e98 96.5px,#3b4789 97.5px,#3b4788 99.5px,#42509b 101.5px,#5a67b0 103.5px,#5f6cb4 104.5px,#505da7 106.5px,#42509b 107.5px,#3b4788 109.5px,#3b4789 111.5px,#414e98 112.5px,#5360a9 113.5px,#5e6bb3 115.5px,#5d6ab2 129.5px,#5764ad 130.5px,#45539d 131.5px,#3c498c 132.5px,#3a4585 133.5px,#3d498d 135.5px,#4a58a2 137.5px)"></div><div style="height:1px;background:linear-gradient(90deg,#3c488a 0.5px,#3a4686 2.5px,#45539e 5.5px,#5a67af 7.5px,#5c69b1 24.5px,#414f99 27.5px,#3a4685 30.5px,#414f98 33.5px,#3d4a8e 35.5px,#3a4686 37.5px,#42509b 40.5px,#5865ad 42.5px,#5f6bb3 50.5px,#5966ae 60.5px,#43519c 62.5px,#3a4686 65.5px,#3d498e 67.5px,#414f99 69.5px,#3a4685 72.5px,#414e98 75.5px,#5c68b1 78.5px,#5a67b0 95.5px,#404d95 98.5px,#3a4686 100.5px,#3c488b 102.5px,#42509b 104.5px,#3a4686 107.5px,#3c498c 109.5px,#46549f 111.5px,#5a67b0 113.5px,#5c68b1 130.5px,#414e98 133.5px,#3a4685 136.5px,#3b4788 137.5px)"></div><div style="height:1px;background:linear-gradient(90deg,#3c488b 0.5px,#42509b 2.5px,#5a67af 5.5px,#6773ba 17.5px,#5865ae 27.5px,#3d498d 31.5px,#3a4686 34.5px,#414f98 37.5px,#5966ae 40.5px,#6773ba 52.5px,#5966af 62.5px,#3e4b90 66.5px,#3a4686 69.5px,#404d95 72.5px,#5764ad 75.5px,#6673ba 85.5px,#5b67b0 97.5px,#3f4c93 101.5px,#3a4687 103.5px,#3c488b 106.5px,#43519c 108.5px,#5b67b0 111.5px,#6673ba 123.5px,#5764ad 133.5px,#3d4a8e 137.5px)"></div><div style="height:1px;background:linear-gradient(90deg,#4d5ba4 0.5px,#5f6cb3 3.5px,#6975bc 9.5px,#6f7bc1 10.5px,#949dd2 13.5px,#9ea6d7 16.5px,#9099d1 19.5px,#6b77be 22.5px,#5865ae 30.5px,#404e96 33.5px,#4856a0 35.5px,#5e6bb3 38.5px,#6d79bf 45.5px,#929bd1 48.5px,#9ea6d7 51.5px,#929bd2 54.5px,#6e7ac0 57.5px,#626eb6 62.5px,#5a67af 65.5px,#414f98 68.5px,#404d96 69.5px,#5d6ab2 73.5px,#6a76bd 80.5px,#97a0d4 84.5px,#9ea6d7 87.5px,#8c95cf 90.5px,#707cc2 92.5px,#626fb6 96.5px,#5c68b1 100.5px,#42509a 103.5px,#3f4c94 104.5px,#42509a 105.5px,#5c68b1 108.5px,#6976bc 115.5px,#707cc2 116.5px,#959ed3 119.5px,#9ea6d7 122.5px,#8f98d0 125.5px,#6a76bd 128.5px,#5865ad 136.5px,#515ea8 137.5px)"></div><div style="height:1px;background:linear-gradient(90deg,#616eb5 0.5px,#6a76bd 6.5px,#707cc2 7.5px,#abb2dd 10.5px,#ced0e8 13.5px,#d6d7ea 16.5px,#cacde7 19.5px,#a2aad9 22.5px,#6c78bf 25.5px,#5b68b0 34.5px,#6571b9 39.5px,#6d79bf 42.5px,#b5bbe1 46.5px,#d1d4e9 49.5px,#d5d6e9 52.5px,#c3c7e5 55.5px,#969fd3 58.5px,#6d79c0 60.5px,#6471b8 65.5px,#5966af 69.5px,#6571b9 74.5px,#6c78be 77.5px,#7884c6 78.5px,#b1b7e0 81.5px,#d0d2e8 84.5px,#d5d7ea 87.5px,#c6cae6 90.5px,#9ba4d6 93.5px,#727ec3 95.5px,#6572b9 98.5px,#5c69b1 103.5px,#5865ad 104.5px,#6571b9 109.5px,#6a76bd 112.5px,#727ec3 113.5px,#acb3de 116.5px,#ced1e8 119.5px,#d5d7ea 122.5px,#c9cce7 125.5px,#a0a8d8 128.5px,#7884c6 130.5px,#6c78be 131.5px,#626fb6 137.5px)"></div><div style="height:1px;background:linear-gradient(90deg,#6773ba 0.5px,#6976bc 4.5px,#737ec3 5.5px,#bec3e4 8.5px,#dcdceb 10.5px,#ebeaef 14.5px,#e5e5ed 20.5px,#d6d8ea 22.5px,#b3b9e0 24.5px,#6c79bf 27.5px,#6672b9 34.5px,#6874bb 39.5px,#6e7ac0 40.5px,#b7bde2 43.5px,#d9daea 45.5px,#e9e8ee 48.5px,#e9e8ee 54.5px,#dadbeb 57.5px,#b9bfe3 59.5px,#6e7bc1 62.5px,#6773ba 65.5px,#6c78be 75.5px,#7e89c8 76.5px,#c6cae6 79.5px,#dfdfec 81.5px,#ebeaef 85.5px,#e3e3ed 91.5px,#d1d4e9 93.5px,#aab1dc 95.5px,#7581c4 97.5px,#6a76bd 98.5px,#6774bb 109.5px,#6a76bd 110.5px,#7581c4 111.5px,#c0c4e4 114.5px,#dcddeb 116.5px,#ebeaef 120.5px,#e5e4ed 126.5px,#d5d7ea 128.5px,#b1b7e0 130.5px,#7e89c8 132.5px,#6c78be 133.5px,#6773ba 137.5px)"></div><div style="height:1px;background:linear-gradient(90deg,#6874bb 0.5px,#6976bc 3.5px,#7883c6 4.5px,#c3c7e5 6.5px,#d8d9ea 7.5px,#eae9ee 9.5px,#f0eced 12.5px,#efe7e7 17.5px,#efedf0 21.5px,#dfdfec 24.5px,#cfd2e8 25.5px,#b4bae1 26.5px,#8c95cf 27.5px,#6c78bf 28.5px,#6875bc 38.5px,#6f7bc1 39.5px,#babfe3 41.5px,#d3d5e9 42.5px,#e8e7ee 44.5px,#f0edee 47.5px,#eee7e7 52.5px,#edebef 57.5px,#e2e2ed 59.5px,#d5d7e9 60.5px,#bdc2e4 61.5px,#717dc2 63.5px,#6874bb 65.5px,#6b78be 74.5px,#8892cd 75.5px,#b0b7df 76.5px,#cdd0e8 77.5px,#e6e6ee 79.5px,#f0edef 82.5px,#eee7e6 87.5px,#edecef 92.5px,#e4e4ed 94.5px,#dadbeb 95.5px,#c6cae6 96.5px,#a5adda 97.5px,#7c87c7 98.5px,#6a76bd 99.5px,#6a76bd 109.5px,#7c87c7 110.5px,#a5adda 111.5px,#c6cae6 112.5px,#dadbeb 113.5px,#eae9ef 115.5px,#efeced 118.5px,#efe7e7 123.5px,#eeedf0 127.5px,#dedeec 130.5px,#cdd0e8 131.5px,#b0b7df 132.5px,#8892cd 133.5px,#6b78be 134.5px,#6874bb 137.5px)"></div><div style="height:1px;background:linear-gradient(90deg,#6875bb 0.5px,#6d79bf 3.5px,#969fd4 4.5px,#cccfe7 5.5px,#e4e4ed 6.5px,#f0eef0 8.5px,#e8c7bd 15.5px,#e9cdc4 18.5px,#f0ecee 23.5px,#e9e8ee 25.5px,#dcddeb 26.5px,#b2b8e0 27.5px,#7985c6 28.5px,#6a76bd 29.5px,#6b77be 38.5px,#858fcc 39.5px,#bdc2e4 40.5px,#e0e0ec 41.5px,#efedf0 43.5px,#ede0dd 46.5px,#e8c8be 50.5px,#e9cbc2 53.5px,#efebec 58.5px,#ebe9ef 60.5px,#e2e2ed 61.5px,#c3c7e5 62.5px,#8b94ce 63.5px,#6c78be 64.5px,#6975bc 73.5px,#7480c4 74.5px,#acb3de 75.5px,#dadbeb 76.5px,#e8e7ee 77.5px,#f0edee 79.5px,#e8c9bf 85.5px,#e8cac0 88.5px,#f0eef0 94.5px,#e6e5ed 96.5px,#d0d3e8 97.5px,#6e7ac0 99.5px,#6875bb 103.5px,#6875bb 108.5px,#6e7ac0 109.5px,#d0d3e8 111.5px,#e6e5ed 112.5px,#f0eef0 114.5px,#e8cac0 120.5px,#e8c9bf 123.5px,#f0edee 129.5px,#e8e7ee 131.5px,#dadbeb 132.5px,#acb3de 133.5px,#7480c4 134.5px,#6975bc 135.5px,#6875bb 137.5px)"></div><div style="height:1px;background:linear-gradient(90deg,#6975bc 0.5px,#6976bc 2.5px,#7480c4 3.5px,#b4bae1 4.5px,#e4e4ed 5.5px,#f0eef0 6.5px,#ead2cb 9.5px,#e1af9e 12.5px,#db9e8d 15.5px,#dda493 18.5px,#e3b3a3 20.5px,#eee3e2 24.5px,#ecebef 26.5px,#d3d5e9 27.5px,#939cd2 28.5px,#6d79bf 29.5px,#6975bc 37.5px,#6f7bc1 38.5px,#dbdceb 40.5px,#eeecf0 41.5px,#ede2e0 43.5px,#e2b2a1 47.5px,#db9f8d 50.5px,#dda291 53.5px,#e5bbad 56.5px,#efe9e9 60.5px,#efedf0 61.5px,#dfdfec 62.5px,#a8afdc 63.5px,#6f7bc2 64.5px,#6975bc 66.5px,#6c78bf 73.5px,#8c95cf 74.5px,#cdd0e8 75.5px,#ebeaef 76.5px,#efeced 77.5px,#e9cdc4 80.5px,#e3b4a4 82.5px,#dca08e 85.5px,#dca190 88.5px,#e4b8a8 91.5px,#eee7e7 95.5px,#f0edef 96.5px,#e6e6ee 97.5px,#bac0e3 98.5px,#7782c5 99.5px,#6a76bc 100.5px,#6a76bc 108.5px,#7782c5 109.5px,#bac0e3 110.5px,#e6e6ee 111.5px,#f0edef 112.5px,#ead1ca 115.5px,#e4b8a8 117.5px,#dca190 120.5px,#dca08e 123.5px,#e3b4a4 126.5px,#eee4e3 130.5px,#efeced 131.5px,#ebeaef 132.5px,#cdd0e8 133.5px,#8c95cf 134.5px,#6c78bf 135.5px,#6975bc 137.5px)"></div><div style="height:1px;background:linear-gradient(90deg,#6976bc 0.5px,#6c78bf 2.5px,#8b95ce 3.5px,#d2d4e9 4.5px,#efebec 5.5px,#e1ae9e 9.5px,#d89583 13.5px,#d6917f 17.5px,#dfa897 22.5px,#e4b5a5 23.5px,#eee4e3 26.5px,#e7e6ee 27.5px,#b1b8e0 28.5px,#737fc3 29.5px,#6a76bd 30.5px,#6a76bd 37.5px,#7984c6 38.5px,#bfc4e4 39.5px,#ecebef 40.5px,#ead3cd 42.5px,#e3b2a2 44.5px,#da9a89 47.5px,#d6917e 52.5px,#dea695 57.5px,#e2b1a1 58.5px,#efedf0 62.5px,#c5c9e6 63.5px,#7c87c7 64.5px,#6a77bd 65.5px,#6a76bc 72.5px,#707cc2 73.5px,#aab1dd 74.5px,#e3e3ed 75.5px,#eee6e5 76.5px,#e4b7a7 79.5px,#dca190 81.5px,#d6907e 86.5px,#db9d8c 91.5px,#e1ad9d 93.5px,#efe9ea 97.5px,#d7d9ea 98.5px,#929bd2 99.5px,#6d79c0 100.5px,#6d79c0 108.5px,#929bd2 109.5px,#d7d9ea 110.5px,#efe9ea 111.5px,#e1ad9d 115.5px,#d89483 119.5px,#d6917f 123.5px,#dfa998 128.5px,#e4b7a7 129.5px,#eee6e5 132.5px,#e3e3ed 133.5px,#aab1dd 134.5px,#707cc2 135.5px,#6976bc 137.5px)"></div><div style="height:1px;background:linear-gradient(90deg,#6a76bd 0.5px,#6a77bd 1.5px,#737fc3 2.5px,#adb4de 3.5px,#e9e8ee 4.5px,#e6c0b3 6.5px,#e2b0a0 7.5px,#d89583 11.5px,#d48a78 16.5px,#d99785 21.5px,#e4b7a7 25.5px,#ede2e0 27.5px,#d1d3e8 28.5px,#8690cc 29.5px,#6c78bf 30.5px,#6e7ac0 37.5px,#969ed3 38.5px,#dcddeb 39.5px,#ecdbd7 40.5px,#e3b4a3 42.5px,#d89684 46.5px,#d48a78 51.5px,#d89684 56.5px,#e3b2a2 60.5px,#ebd8d3 62.5px,#e1e1ec 63.5px,#9da5d7 64.5px,#6f7bc1 65.5px,#6a76bd 71.5px,#6b77be 72.5px,#7f89c9 73.5px,#cacde7 74.5px,#eee6e5 75.5px,#e5b9a9 77.5px,#db9d8b 80.5px,#d48b79 85.5px,#d6917f 90.5px,#dea695 94.5px,#e1af9f 95.5px,#e6beb1 96.5px,#ead3cc 97.5px,#edebef 98.5px,#b4bbe1 99.5px,#7682c5 100.5px,#6a77bd 101.5px,#6a77bd 107.5px,#7682c5 108.5px,#b4bbe1 109.5px,#edebef 110.5px,#ead3cc 111.5px,#e6beb1 112.5px,#e1af9f 113.5px,#d89483 117.5px,#d48a78 122.5px,#d99886 127.5px,#e0ac9c 130.5px,#e5b9a9 131.5px,#eee6e5 133.5px,#cacde7 134.5px,#7f89c9 135.5px,#6b77be 136.5px,#6a76bd 137.5px)"></div><div style="height:1px;background:linear-gradient(90deg,#6b77bd 0.5px,#6d79bf 1.5px,#8892cd 2.5px,#d1d3e8 3.5px,#eddfdc 4.5px,#e5bcad 5.5px,#dea695 7.5px,#d38976 13.5px,#d38875 18.5px,#dda392 24.5px,#e3b3a3 26.5px,#e7c6bb 27.5px,#eceaef 28.5px,#adb4de 29.5px,#7681c5 30.5px,#6b77be 31.5px,#6c78be 36.5px,#7c87c7 37.5px,#bcc1e3 38.5px,#efebec 39.5px,#e6c1b4 40.5px,#e2b1a0 41.5px,#d58d7b 47.5px,#d28673 52.5px,#da9b8a 58.5px,#e2b09f 61.5px,#e6bfb1 62.5px,#efe7e7 63.5px,#c3c7e5 64.5px,#7e89c9 65.5px,#6c78be 66.5px,#6b77be 71.5px,#737fc3 72.5px,#a5adda 73.5px,#e7e6ee 74.5px,#e8cac1 75.5px,#e3b4a4 76.5px,#d79381 81.5px,#d28573 86.5px,#d6907d 91.5px,#e1ad9d 96.5px,#e5baab 97.5px,#ecdad5 98.5px,#d7d9ea 99.5px,#9099d1 100.5px,#6e7ac0 101.5px,#6e7ac0 107.5px,#9099d1 108.5px,#d7d9ea 109.5px,#ecdad5 110.5px,#e5baab 111.5px,#dea695 113.5px,#d38976 119.5px,#d38875 124.5px,#dda493 130.5px,#e3b4a4 132.5px,#e8cac1 133.5px,#e7e6ee 134.5px,#a5adda 135.5px,#737fc3 136.5px,#6b77be 137.5px)"></div><div style="height:1px;background:linear-gradient(90deg,#6c79bf 0.5px,#7c87c8 1.5px,#b4bae1 2.5px,#edebef 3.5px,#e8c8bd 4.5px,#e2b1a1 5.5px,#d38775 12.5px,#d0816e 17.5px,#d79381 22.5px,#e0ac9b 26.5px,#e5b9a9 27.5px,#eddfdc 28.5px,#d5d7ea 29.5px,#959ed3 30.5px,#707cc2 31.5px,#6c78bf 35.5px,#7581c4 36.5px,#a2a9d9 37.5px,#e0e0ec 38.5px,#ebd6d0 39.5px,#e4b5a5 40.5px,#d79280 45.5px,#d0816e 50.5px,#d38876 55.5px,#e0aa99 61.5px,#e3b4a4 62.5px,#ead2ca 63.5px,#e4e4ed 64.5px,#a8afdb 65.5px,#7883c6 66.5px,#6c78bf 67.5px,#6f7bc1 71.5px,#8e97d0 72.5px,#cfd2e8 73.5px,#eee3e1 74.5px,#e5bbac 75.5px,#e1ad9c 76.5px,#d28673 83.5px,#d1826f 88.5px,#da9b8a 94.5px,#e2af9f 97.5px,#e7c2b6 98.5px,#f0edef 99.5px,#bac0e3 100.5px,#7f89c9 101.5px,#6c79bf 102.5px,#6c79bf 106.5px,#7f89c9 107.5px,#bac0e3 108.5px,#f0edef 109.5px,#e7c2b6 110.5px,#e2af9f 111.5px,#d38774 118.5px,#d1826f 123.5px,#d79482 128.5px,#e1ad9c 132.5px,#e5bbac 133.5px,#eee3e1 134.5px,#cfd2e8 135.5px,#8e97d0 136.5px,#6f7bc1 137.5px)"></div><div style="height:1px;background:linear-gradient(90deg,#7f8ac9 0.5px,#aab1dc 1.5px,#dfdfec 2.5px,#ecddda 3.5px,#e5b9aa 4.5px,#dea695 6.5px,#d18370 12.5px,#cf7d6a 17.5px,#d68f7d 22.5px,#e2b1a1 27.5px,#e8c9bf 28.5px,#f0edef 29.5px,#c5c9e6 30.5px,#909ad1 31.5px,#7581c4 32.5px,#6f7bc1 34.5px,#7984c6 35.5px,#9ba3d6 36.5px,#d1d3e8 37.5px,#eee7e6 38.5px,#e6bfb2 39.5px,#e1af9e 40.5px,#d28472 47.5px,#cf7d6a 52.5px,#d58d7b 57.5px,#e1ae9d 62.5px,#e6bdb0 63.5px,#eee4e3 64.5px,#d6d7ea 65.5px,#a0a8d8 66.5px,#7a85c7 67.5px,#6f7bc1 68.5px,#747fc4 70.5px,#8b95ce 71.5px,#bfc3e4 72.5px,#edecef 73.5px,#e3b3a3 75.5px,#d28673 82.5px,#cf7d6a 87.5px,#d48c79 92.5px,#e0ab9b 97.5px,#e4b7a7 98.5px,#ecd9d5 99.5px,#e3e2ed 100.5px,#7f8ac9 102.5px,#707cc2 103.5px,#707cc2 105.5px,#7f8ac9 106.5px,#e3e2ed 108.5px,#ecd9d5 109.5px,#e4b7a7 110.5px,#db9e8d 113.5px,#d0806d 119.5px,#d07f6c 124.5px,#da9c8b 130.5px,#e3b3a3 133.5px,#edecef 135.5px,#bfc4e4 136.5px,#8e98d0 137.5px)"></div><div style="height:1px;background:linear-gradient(90deg,#bcc1e3 0.5px,#dcddeb 1.5px,#eee7e7 2.5px,#e7c6bb 3.5px,#e2b1a1 4.5px,#d18471 11.5px,#cd7966 16.5px,#d28673 21.5px,#e1ad9c 27.5px,#e5b9aa 28.5px,#ebd9d4 29.5px,#eae9ef 30.5px,#a7aedb 32.5px,#939cd2 33.5px,#959ed3 34.5px,#adb4de 35.5px,#efedf0 37.5px,#e4b5a5 39.5px,#d28572 46.5px,#cd7966 51.5px,#d28572 56.5px,#e3b4a4 63.5px,#f0ecee 65.5px,#d5d7e9 66.5px,#b0b6df 67.5px,#979fd4 68.5px,#929bd1 69.5px,#a4acda 70.5px,#e7e7ee 72.5px,#ecdcd8 73.5px,#e5bbad 74.5px,#e1ae9d 75.5px,#d1826f 82.5px,#cd7966 87.5px,#d38875 92.5px,#e2b0a0 98.5px,#e6c1b5 99.5px,#eee4e3 100.5px,#dfdfec 101.5px,#b9bfe3 102.5px,#9ca4d6 103.5px,#9099d1 104.5px,#9ca4d6 105.5px,#b9bfe3 106.5px,#dfdfec 107.5px,#eee4e3 108.5px,#e6c1b5 109.5px,#e2b0a0 110.5px,#d07f6c 118.5px,#ce7a67 123.5px,#d48c7a 128.5px,#e1ae9d 133.5px,#e5bbad 134.5px,#ecdcd8 135.5px,#e8e7ee 136.5px,#cccfe7 137.5px)"></div><div style="height:1px;background:linear-gradient(90deg,#e8e7ee 0.5px,#efe9e9 1.5px,#e4b7a8 3.5px,#d0806d 11.5px,#cc7663 16.5px,#d18370 21.5px,#e2b1a1 28.5px,#e6c0b3 29.5px,#ecddda 30.5px,#edecef 31.5px,#d3d5e9 33.5px,#d5d7e9 34.5px,#f0eef0 36.5px,#ecd9d4 37.5px,#e5bdaf 38.5px,#e2b09f 39.5px,#cf7d6a 47.5px,#cc7763 52.5px,#d28674 57.5px,#e1af9e 63.5px,#e5bbad 64.5px,#f0ecee 66.5px,#d6d7ea 68.5px,#d3d5e9 69.5px,#eceaef 71.5px,#ede0dd 72.5px,#e7c2b6 73.5px,#e2b2a2 74.5px,#cf7f6b 82.5px,#cc7663 87.5px,#d28572 92.5px,#e4b5a5 99.5px,#eee7e6 101.5px,#e7e6ee 102.5px,#d2d4e9 104.5px,#e7e6ee 106.5px,#eee7e6 107.5px,#e4b5a5 109.5px,#d0806d 117.5px,#cc7663 122.5px,#d18370 127.5px,#e2b2a2 134.5px,#e7c2b6 135.5px,#ede0dd 136.5px,#eeecf0 137.5px)"></div><div style="height:1px;background:linear-gradient(90deg,#ede1df 0.5px,#e5bcae 2.5px,#e0ab9a 4.5px,#cf7e6a 11.5px,#cc7460 16.5px,#d0806d 21.5px,#e3b4a4 29.5px,#e7c3b7 30.5px,#ecdad6 31.5px,#efe8e8 32.5px,#f0edee 34.5px,#eee6e6 35.5px,#ebd7d2 36.5px,#e6c0b4 37.5px,#e3b3a3 38.5px,#ce7b67 47.5px,#cc7662 53.5px,#d38a77 58.5px,#e3b3a2 64.5px,#e6bfb2 65.5px,#eee5e4 67.5px,#f0ecee 68.5px,#efe9e9 70.5px,#ecdcd9 71.5px,#e7c6bb 72.5px,#e4b6a6 73.5px,#ce7c69 82.5px,#cc7561 88.5px,#d38875 93.5px,#e5bbac 100.5px,#ede1df 102.5px,#efebec 103.5px,#efebec 105.5px,#ede1df 106.5px,#e5bbac 108.5px,#d38875 115.5px,#cc7561 120.5px,#ce7c69 126.5px,#e4b6a6 135.5px,#ecdad6 137.5px)"></div><div style="height:1px;background:linear-gradient(90deg,#e7c4b8 0.5px,#dfa998 4.5px,#ce7b68 11.5px,#cb735f 17.5px,#d18370 22.5px,#e4b7a7 30.5px,#ebd5cf 33.5px,#ead4ce 34.5px,#e4b6a6 37.5px,#cd7965 47.5px,#cb7460 53.5px,#d38774 58.5px,#e4b5a5 65.5px,#ead4cd 68.5px,#ebd6d0 69.5px,#e4b8a9 72.5px,#ce7a66 82.5px,#cb7360 88.5px,#d28572 93.5px,#e5bbad 101.5px,#ead1ca 103.5px,#ebd6d1 104.5px,#ead1ca 105.5px,#e3b4a4 108.5px,#ce7b68 117.5px,#cb735f 123.5px,#d18371 128.5px,#e6bfb3 137.5px)"></div><div style="height:1px;background:linear-gradient(90deg,#e5baab 0.5px,#d99987 6.5px,#cc7662 12.5px,#cb735f 18.5px,#d38774 23.5px,#e3b4a4 30.5px,#e6c1b4 33.5px,#e1ae9e 38.5px,#cd7763 47.5px,#cb725f 53.5px,#d28572 58.5px,#e4b7a7 66.5px,#e6c1b5 69.5px,#db9d8c 76.5px,#cd7864 82.5px,#cb725e 88.5px,#d18370 93.5px,#e4b6a6 101.5px,#e6c2b5 104.5px,#dc9f8e 111.5px,#cd7966 117.5px,#cb725e 123.5px,#d0816e 128.5px,#e3b4a4 136.5px,#e4b8a8 137.5px)"></div><div style="height:1px;background:linear-gradient(90deg,#e4b7a7 0.5px,#db9e8d 5.5px,#cd7865 11.5px,#ca715d 17.5px,#d07f6c 22.5px,#e3b2a2 30.5px,#e5bbac 34.5px,#dca08f 40.5px,#cd7966 46.5px,#ca715d 52.5px,#cf7e6a 57.5px,#e2b1a0 65.5px,#e5bbad 69.5px,#dda291 75.5px,#cc7763 82.5px,#ca715d 88.5px,#d1826f 93.5px,#e3b4a3 101.5px,#e5bcad 104.5px,#dda493 110.5px,#cd7864 117.5px,#ca715d 123.5px,#d0806d 128.5px,#e3b2a2 136.5px,#e4b5a5 137.5px)"></div><div style="height:1px;background:linear-gradient(90deg,#e3b5a5 0.5px,#db9c8b 5.5px,#cd7764 11.5px,#ca705c 17.5px,#cf7e6b 22.5px,#e2b0a0 30.5px,#e4b8a9 34.5px,#db9f8d 40.5px,#cd7865 46.5px,#ca705c 52.5px,#cf7d69 57.5px,#e3b3a2 66.5px,#e4b7a7 70.5px,#dca18f 75.5px,#cc7662 82.5px,#cb725e 89.5px,#d28774 94.5px,#e2b2a1 101.5px,#e4b7a8 105.5px,#da9c8a 111.5px,#cd7763 117.5px,#ca715d 123.5px,#cf7f6c 128.5px,#e2b0a0 136.5px,#e3b3a3 137.5px)"></div><div style="height:1px;background:linear-gradient(90deg,#e3b2a2 0.5px,#da9b89 5.5px,#cc7763 11.5px,#ca715d 18.5px,#d18370 23.5px,#e1ae9d 30.5px,#e4b5a5 34.5px,#dda392 39.5px,#cd7864 46.5px,#ca705c 52.5px,#ce7c69 57.5px,#e2b0a0 66.5px,#e3b4a4 70.5px,#db9f8e 75.5px,#cc7562 82.5px,#cb715e 89.5px,#d28673 94.5px,#e2af9f 101.5px,#e4b5a5 105.5px,#dca190 110.5px,#cc7663 117.5px,#ca715d 124.5px,#d18471 129.5px,#e1ae9e 136.5px,#e2b1a1 137.5px)"></div><div style="height:1px;background:linear-gradient(90deg,#e2b0a0 0.5px,#d79381 6.5px,#cb7460 12.5px,#cb725f 19.5px,#d38976 24.5px,#e0ac9b 30.5px,#e3b3a3 34.5px,#da9c8a 40.5px,#cc7461 47.5px,#cb725e 54.5px,#d38774 59.5px,#e1ae9e 66.5px,#e2b2a2 70.5px,#d99785 76.5px,#cc7562 82.5px,#cb715e 89.5px,#d28572 94.5px,#e1ad9d 101.5px,#e3b2a2 105.5px,#d99987 111.5px,#cc7663 117.5px,#ca715d 124.5px,#d18370 129.5px,#e0ac9c 136.5px,#e1af9f 137.5px)"></div><div style="height:1px;background:linear-gradient(90deg,#e1ad9d 0.5px,#d79280 6.5px,#cb7460 12.5px,#cb735f 19.5px,#d68f7d 25.5px,#e1ad9c 31.5px,#e1af9e 35.5px,#d79482 41.5px,#cc7561 47.5px,#cb725e 54.5px,#d28774 59.5px,#e0ac9b 66.5px,#e1af9f 70.5px,#d89684 76.5px,#cc7562 82.5px,#cb725e 89.5px,#d28572 94.5px,#e0ab9a 101.5px,#e2b09f 105.5px,#d99886 111.5px,#cc7663 117.5px,#ca715d 124.5px,#d18370 129.5px,#e0aa99 136.5px,#e0ac9c 137.5px)"></div><div style="height:1px;background:linear-gradient(90deg,#e0ab9a 0.5px,#d79280 6.5px,#cc7461 12.5px,#cb735f 19.5px,#d58f7d 25.5px,#e0aa99 31.5px,#e0ac9b 35.5px,#d79482 41.5px,#cc7561 47.5px,#cb735f 54.5px,#d58d7b 60.5px,#dfa999 66.5px,#e0ac9c 70.5px,#d89584 76.5px,#cc7662 82.5px,#cb725e 89.5px,#d48b79 95.5px,#dfa898 101.5px,#e1ad9c 105.5px,#d99785 111.5px,#cc7460 118.5px,#cb7360 125.5px,#d68f7d 131.5px,#e0aa99 137.5px)"></div><div style="height:1px;background:linear-gradient(90deg,#dfa897 0.5px,#d69280 6.5px,#cc7562 12.5px,#cc7460 19.5px,#dfa796 31.5px,#dea796 36.5px,#d38875 43.5px,#cb725e 49.5px,#cc7662 55.5px,#dea796 66.5px,#dfa897 71.5px,#d48a77 78.5px,#cb735f 84.5px,#cc7561 90.5px,#dea695 101.5px,#dfa897 106.5px,#d6917f 112.5px,#cc7561 118.5px,#cc7461 125.5px,#dea594 136.5px,#dfa796 137.5px)"></div><div style="height:1px;background:linear-gradient(90deg,#dea594 0.5px,#d6927f 6.5px,#cc7561 13.5px,#cc7662 19.5px,#dda291 30.5px,#dea695 35.5px,#d58e7c 42.5px,#cc7561 48.5px,#cc7561 54.5px,#dda493 66.5px,#dea594 71.5px,#d48a78 78.5px,#cb7460 84.5px,#cc7663 90.5px,#dda392 101.5px,#dea594 106.5px,#d48c79 113.5px,#cc7461 119.5px,#cc7662 125.5px,#dda392 136.5px,#dda493 137.5px)"></div><div style="height:1px;background:linear-gradient(90deg,#dda291 0.5px,#d58d7b 7.5px,#cc7561 14.5px,#ce7a67 20.5px,#dca08f 30.5px,#dca190 36.5px,#d48a77 43.5px,#cc7562 49.5px,#cd7966 55.5px,#dc9f8e 65.5px,#dca291 71.5px,#d48b79 78.5px,#cc7662 84.5px,#cd7865 90.5px,#dca18f 101.5px,#dca18f 107.5px,#d18370 115.5px,#cc7460 121.5px,#cf7e6b 127.5px,#dca08f 136.5px,#dca290 137.5px)"></div><div style="height:1px;background:linear-gradient(90deg,#db9f8e 0.5px,#d58e7c 7.5px,#cd7764 14.5px,#cf7c69 20.5px,#db9d8c 30.5px,#db9d8c 37.5px,#cc7663 50.5px,#cf7f6b 56.5px,#db9d8c 65.5px,#db9e8c 72.5px,#d18471 80.5px,#cc7663 86.5px,#d0816e 92.5px,#db9d8b 100.5px,#db9e8d 107.5px,#d28572 115.5px,#cc7663 121.5px,#d0806d 127.5px,#da9c8b 135.5px,#db9f8d 137.5px)"></div><div style="height:1px;background:linear-gradient(90deg,#da9c8a 0.5px,#d68f7d 7.5px,#cd7966 15.5px,#d1826f 21.5px,#da9a88 29.5px,#d99a88 38.5px,#cd7966 50.5px,#d0816e 56.5px,#da9b89 65.5px,#d99987 74.5px,#ce7a66 85.5px,#d0806d 91.5px,#da9a89 100.5px,#d99987 109.5px,#cd7966 121.5px,#d18370 127.5px,#da9a88 135.5px,#da9c8a 137.5px)"></div><div style="height:1px;background:linear-gradient(90deg,#d99987 0.5px,#d58e7b 8.5px,#cf7d69 15.5px,#d38976 22.5px,#d99887 30.5px,#d79482 41.5px,#cf7d69 50.5px,#d38875 57.5px,#d99886 65.5px,#d79280 77.5px,#cf7c69 86.5px,#d48a78 93.5px,#d99887 101.5px,#d79381 112.5px,#cf7d69 121.5px,#d38977 128.5px,#d99887 136.5px,#d99987 137.5px)"></div><div style="height:1px;background:linear-gradient(90deg,#d89584 0.5px,#d6907e 8.5px,#d0806d 16.5px,#d89684 29.5px,#d6917e 43.5px,#d0806d 51.5px,#d89684 64.5px,#d6917f 78.5px,#d0806d 86.5px,#d89684 99.5px,#d79280 113.5px,#d0806d 122.5px,#d89684 134.5px,#d89684 137.5px)"></div><div style="height:1px;background:linear-gradient(90deg,#d79280 0.5px,#d6907e 9.5px,#d28573 17.5px,#d89583 27.5px,#d6917f 44.5px,#d28572 52.5px,#d89583 63.5px,#d6917f 79.5px,#d28572 87.5px,#d89583 98.5px,#d6907e 115.5px,#d28673 123.5px,#d89583 133.5px,#d79380 137.5px)"></div><div style="height:1px;background:linear-gradient(90deg,#d68f7d 0.5px,#d79381 9.5px,#d48b78 17.5px,#d79482 27.5px,#d6917f 37.5px,#d79280 45.5px,#d48b79 53.5px,#d89583 62.5px,#d6907e 72.5px,#d79381 80.5px,#d48b78 88.5px,#d89583 97.5px,#d6907e 107.5px,#d79381 115.5px,#d48b78 123.5px,#d89583 132.5px,#d6907d 137.5px)"></div><div style="height:1px;background:linear-gradient(90deg,#d48c7a 0.5px,#d89785 9.5px,#d6917f 18.5px,#d89583 26.5px,#d48c7a 35.5px,#d89684 45.5px,#d6907e 53.5px,#d89684 61.5px,#d48c79 70.5px,#d89685 80.5px,#d6917f 89.5px,#d89583 97.5px,#d48c7a 106.5px,#d89785 115.5px,#d6917f 124.5px,#d89583 132.5px,#d58d7a 137.5px)"></div><div style="height:1px;background:linear-gradient(90deg,#d38977 0.5px,#d99a88 10.5px,#d99887 20.5px,#d79381 27.5px,#d38976 34.5px,#da9a88 45.5px,#d99886 55.5px,#d79482 62.5px,#d38876 69.5px,#d99988 81.5px,#d99987 91.5px,#d79280 98.5px,#d38976 105.5px,#d99a88 116.5px,#d99887 126.5px,#d79381 133.5px,#d48a77 137.5px)"></div><div style="height:1px;background:linear-gradient(90deg,#d28774 0.5px,#db9e8c 10.5px,#da9b89 24.5px,#d28673 33.5px,#d79381 40.5px,#db9e8c 46.5px,#d99988 60.5px,#d28673 68.5px,#d79280 75.5px,#db9e8c 81.5px,#da9a88 95.5px,#d28673 103.5px,#d58e7b 109.5px,#db9e8c 116.5px,#da9b89 130.5px,#d38775 137.5px)"></div><div style="height:1px;background:linear-gradient(90deg,#d28471 0.5px,#dca190 10.5px,#db9f8e 23.5px,#d18371 32.5px,#d48b78 38.5px,#dca190 45.5px,#db9d8c 59.5px,#d18471 67.5px,#d48a77 73.5px,#dca290 81.5px,#db9e8d 94.5px,#d18370 103.5px,#d48c7a 109.5px,#dca190 116.5px,#db9f8d 129.5px,#d28572 137.5px)"></div><div style="height:1px;background:linear-gradient(90deg,#d1826f 0.5px,#dea695 11.5px,#dda493 22.5px,#d0816e 32.5px,#d38976 38.5px,#dea695 46.5px,#dda291 58.5px,#d0816e 67.5px,#d38875 73.5px,#dea695 81.5px,#dda392 93.5px,#d1826f 102.5px,#d28774 108.5px,#dea594 116.5px,#dda493 128.5px,#d18370 137.5px)"></div><div style="height:1px;background:linear-gradient(90deg,#d0806d 0.5px,#db9d8b 7.5px,#e0ac9c 13.5px,#dea796 22.5px,#d0816d 31.5px,#d0816e 36.5px,#dfaa99 46.5px,#e0aa99 56.5px,#d07f6c 67.5px,#d18370 72.5px,#dfa998 81.5px,#e0ab9a 91.5px,#d58e7b 98.5px,#cf7f6b 103.5px,#d28572 108.5px,#dfa998 116.5px,#e0ab9a 126.5px,#d89483 132.5px,#d0816e 137.5px)"></div><div style="height:1px;background:linear-gradient(90deg,#cf7e6b 0.5px,#d99886 6.5px,#e2b0a0 12.5px,#e2af9f 20.5px,#d89583 26.5px,#cf7f6c 31.5px,#d07f6c 36.5px,#e1ad9d 46.5px,#e2b1a1 54.5px,#dda291 59.5px,#d07f6c 66.5px,#cf7e6b 71.5px,#dca08f 78.5px,#e2b1a0 83.5px,#e1ae9e 91.5px,#cf7e6b 102.5px,#d0806d 107.5px,#e1ae9e 117.5px,#e2b1a0 125.5px,#dca08f 130.5px,#d0816e 136.5px,#cf7f6c 137.5px)"></div><div style="height:1px;background:linear-gradient(90deg,#cf7c69 0.5px,#d6917f 5.5px,#e2b2a2 11.5px,#e4b8a8 17.5px,#dea796 23.5px,#d0806d 30.5px,#ce7c68 35.5px,#d68f7d 40.5px,#e2b1a1 46.5px,#e4b8a9 52.5px,#dfa998 58.5px,#d0816e 65.5px,#ce7b68 70.5px,#d58d7b 75.5px,#e3b3a3 82.5px,#e4b8a8 88.5px,#dea594 94.5px,#cf7f6b 101.5px,#cf7c69 106.5px,#d79280 111.5px,#e3b2a2 117.5px,#e4b8a8 123.5px,#dea796 129.5px,#d07f6c 136.5px,#cf7d6a 137.5px)"></div><div style="height:1px;background:linear-gradient(90deg,#ce7b68 0.5px,#d6907e 5.5px,#e4b5a5 11.5px,#e6bfb1 16.5px,#e1af9e 22.5px,#cf7e6b 30.5px,#ce7a67 35.5px,#d58e7c 40.5px,#e4b8a8 47.5px,#e6beb1 52.5px,#e0ab9a 58.5px,#d07f6c 65.5px,#ce7a67 70.5px,#d58c7a 75.5px,#e4b7a7 82.5px,#e6beb1 87.5px,#e0ac9c 93.5px,#d0806d 100.5px,#ce7a66 105.5px,#d48b78 110.5px,#e4b6a6 117.5px,#e6bfb1 122.5px,#e1ae9e 128.5px,#cf7e6b 136.5px,#ce7c68 137.5px)"></div><div style="height:1px;background:linear-gradient(90deg,#ce7a66 0.5px,#d6907e 5.5px,#e6bdb0 12.5px,#e7c4b9 16.5px,#e5bbad 20.5px,#d0816e 29.5px,#cd7865 34.5px,#d38775 39.5px,#e5bcae 47.5px,#e7c4b8 52.5px,#e3b2a2 57.5px,#cf7e6b 65.5px,#cd7965 70.5px,#d48c79 75.5px,#e5bbac 82.5px,#e7c4b9 87.5px,#e3b4a4 92.5px,#d07f6c 100.5px,#cd7965 105.5px,#d48a77 110.5px,#e5b9aa 117.5px,#e7c4b9 121.5px,#e5bbac 126.5px,#d0816d 135.5px,#ce7b67 137.5px)"></div><div style="height:1px;background:linear-gradient(90deg,#cd7965 0.5px,#d38876 4.5px,#e7c2b5 12.5px,#e8cac1 16.5px,#e6bfb2 20.5px,#d0806d 29.5px,#cd7864 34.5px,#d28674 39.5px,#e6c0b4 47.5px,#e8cac1 51.5px,#e6c1b4 55.5px,#d0816e 64.5px,#cd7764 69.5px,#d28572 74.5px,#e7c3b8 83.5px,#e8cac1 87.5px,#e6bdaf 91.5px,#cf7e6b 100.5px,#cd7864 105.5px,#d38976 110.5px,#e7c2b6 118.5px,#e8cac1 122.5px,#e6bfb2 126.5px,#d0806c 135.5px,#ce7a66 137.5px)"></div><div style="height:1px;background:linear-gradient(90deg,#cd7865 0.5px,#d38875 4.5px,#e7c6bb 12.5px,#ead1c9 16.5px,#e7c3b8 20.5px,#d28472 28.5px,#cd7763 33.5px,#d0806d 38.5px,#e8cac0 48.5px,#ead0c8 52.5px,#e6bfb2 56.5px,#d0816e 64.5px,#cd7763 69.5px,#d18471 74.5px,#e8c8be 83.5px,#ead0c9 87.5px,#e6c1b4 91.5px,#d1826f 99.5px,#cd7763 104.5px,#d1826f 109.5px,#e8c7bc 118.5px,#ead0c9 122.5px,#e7c3b7 126.5px,#d18471 134.5px,#cd7965 137.5px)"></div><div style="height:1px;background:linear-gradient(90deg,#cd7864 0.5px,#d38775 4.5px,#e8cbc2 12.5px,#ebd7d1 15.5px,#ead2cc 18.5px,#e1af9e 23.5px,#cf7f6b 29.5px,#cc7663 34.5px,#d0806c 38.5px,#e2b1a0 44.5px,#e9cfc7 48.5px,#ebd7d2 51.5px,#e9cfc7 54.5px,#d28673 63.5px,#cd7764 67.5px,#ce7a67 72.5px,#d79280 76.5px,#e9cdc5 83.5px,#ebd7d2 86.5px,#ead1c9 89.5px,#dda291 95.5px,#cf7d6a 100.5px,#cd7864 106.5px,#d38875 110.5px,#e9cbc2 118.5px,#ebd7d1 121.5px,#ead2cb 124.5px,#e1ae9d 129.5px,#d18370 134.5px,#cd7865 137.5px)"></div><div style="height:1px;background:linear-gradient(90deg,#cd7764 0.5px,#d38774 4.5px,#ebd6d1 13.5px,#eddfdc 16.5px,#ead3cd 19.5px,#d18471 28.5px,#cc7763 32.5px,#ce7b68 37.5px,#d89583 41.5px,#ebd5cf 48.5px,#eddfdc 51.5px,#ebd5cf 54.5px,#d28673 63.5px,#cd7763 67.5px,#cf7e6a 73.5px,#dea695 78.5px,#ebd9d4 84.5px,#eddfdc 87.5px,#ead1c9 90.5px,#d38875 98.5px,#cd7764 102.5px,#cf7c69 108.5px,#d99987 112.5px,#ebd7d2 119.5px,#eddfdc 122.5px,#ead3cc 125.5px,#d48a77 133.5px,#cd7864 137.5px)"></div><div style="height:1px;background:linear-gradient(90deg,#cd7763 0.5px,#d38774 4.5px,#e7c3b7 10.5px,#eee3e2 14.5px,#eee6e5 17.5px,#e8c8be 21.5px,#d79482 26.5px,#ce7a67 30.5px,#cd7864 36.5px,#d58d7a 40.5px,#e6c0b3 45.5px,#ede2e0 49.5px,#eee7e6 52.5px,#ead4ce 55.5px,#d89785 61.5px,#ce7b68 65.5px,#cd7764 71.5px,#d48a78 75.5px,#e5bcaf 80.5px,#ede0de 84.5px,#efe7e7 87.5px,#ebd7d1 90.5px,#d6907e 97.5px,#cd7965 101.5px,#cd7965 107.5px,#d6907e 111.5px,#eddedb 119.5px,#efe8e8 122.5px,#ecd9d4 125.5px,#d79381 132.5px,#ce7a66 136.5px,#cd7864 137.5px)"></div><div style="height:1px;background:linear-gradient(90deg,#cd7763 0.5px,#d38775 4.5px,#e5bbad 9.5px,#eee6e5 13.5px,#f0edee 14.5px,#efedf0 17.5px,#ede1df 19.5px,#db9f8e 25.5px,#cf7e6b 29.5px,#cc7662 34.5px,#d07f6c 38.5px,#dca190 42.5px,#efebec 49.5px,#efeced 53.5px,#e7c5b9 57.5px,#d58e7c 62.5px,#cd7865 66.5px,#ce7a66 72.5px,#d79482 76.5px,#e6c0b3 80.5px,#efe9e9 84.5px,#eceaef 86.5px,#f0edef 88.5px,#e8c8be 92.5px,#da9b89 96.5px,#ce7c69 100.5px,#cd7763 106.5px,#d38875 110.5px,#e5bcae 115.5px,#eee6e6 119.5px,#f0edef 120.5px,#efedf0 123.5px,#ebd6d1 126.5px,#dfa998 130.5px,#d18370 134.5px,#cd7864 137.5px)"></div><div style="height:1px;background:linear-gradient(90deg,#cd7763 0.5px,#d38875 4.5px,#e6bfb1 9.5px,#efedf0 13.5px,#e0e0ec 16.5px,#efeaea 19.5px,#e0ac9c 24.5px,#d18471 28.5px,#cc7663 32.5px,#ce7b67 37.5px,#d99886 41.5px,#e8c8be 45.5px,#f0eced 48.5px,#e0e0ec 51.5px,#f0edee 54.5px,#dda493 60.5px,#d0806d 64.5px,#cc7662 69.5px,#cf7e6a 73.5px,#dc9f8e 77.5px,#e7c4b8 80.5px,#efe9e9 83.5px,#e4e4ed 85.5px,#e1e1ec 87.5px,#eeecf0 89.5px,#e9cdc4 92.5px,#dfa797 95.5px,#d0816e 99.5px,#cc7662 103.5px,#cf7c69 108.5px,#da9c8b 112.5px,#e6c0b3 115.5px,#eee5e4 118.5px,#eeecf0 119.5px,#e0e0ec 122.5px,#ebeaef 124.5px,#efe9e9 125.5px,#e0ab9a 130.5px,#d18370 134.5px,#cd7864 137.5px)"></div><div style="height:1px;background:linear-gradient(90deg,#cd7763 0.5px,#d38876 4.5px,#e3b4a4 8.5px,#f0ecee 12.5px,#d5d7e9 15.5px,#d7d9ea 17.5px,#ebeaef 19.5px,#eee6e5 20.5px,#e1ae9e 24.5px,#d28572 28.5px,#cc7663 32.5px,#ce7b68 37.5px,#d58f7c 40.5px,#e6beb1 44.5px,#efe8e9 47.5px,#e8e8ee 48.5px,#d6d8ea 50.5px,#d6d7ea 52.5px,#efeaea 55.5px,#e3b2a2 59.5px,#d38774 63.5px,#cc7763 67.5px,#ce7a67 72.5px,#d48c7a 75.5px,#e5baab 79.5px,#eee4e3 82.5px,#ecebef 83.5px,#d4d6e9 86.5px,#dadbeb 88.5px,#f0eef0 90.5px,#e4b6a6 94.5px,#d38977 98.5px,#cd7763 102.5px,#cf7d69 108.5px,#d79381 111.5px,#e4b6a6 114.5px,#f0eef0 118.5px,#d5d6e9 121.5px,#d8d9ea 123.5px,#ecebef 125.5px,#ebd6d1 127.5px,#e1ad9d 130.5px,#d18471 134.5px,#cd7864 137.5px)"></div><div style="height:1px;background:linear-gradient(90deg,#cd7764 0.5px,#d38977 4.5px,#e4b7a8 8.5px,#eee6e5 11.5px,#e8e7ee 12.5px,#cfd2e8 14.5px,#c7cbe6 16.5px,#d4d6e9 18.5px,#f0eef0 20.5px,#e2b1a1 24.5px,#d28573 28.5px,#cc7763 32.5px,#ce7b68 37.5px,#d6907e 40.5px,#e3b3a3 43.5px,#edebef 47.5px,#cacde7 50.5px,#c9cde7 52.5px,#eceaef 55.5px,#eee3e1 56.5px,#e4b5a5 59.5px,#d38875 63.5px,#cd7763 67.5px,#ce7a67 72.5px,#d58d7b 75.5px,#e6beb0 79.5px,#f0ecee 82.5px,#cccfe7 85.5px,#c8cce6 87.5px,#d9daea 89.5px,#e7e6ee 90.5px,#efe7e7 91.5px,#e5b9aa 94.5px,#d48a78 98.5px,#cd7764 102.5px,#ce7966 107.5px,#d48a78 110.5px,#e5b9aa 114.5px,#efe7e7 117.5px,#e7e6ee 118.5px,#ced1e8 120.5px,#c7cbe6 122.5px,#d5d7ea 124.5px,#f0ecee 126.5px,#e2b09f 130.5px,#d28572 134.5px,#cd7865 137.5px)"></div><div style="height:1px;background:linear-gradient(90deg,#cd7864 0.5px,#d18370 3.5px,#e1ad9c 7.5px,#ecdcd8 10.5px,#f0edef 11.5px,#c3c8e5 14.5px,#bbc1e3 16.5px,#c9cce7 18.5px,#e8e7ee 20.5px,#eee5e4 21.5px,#e3b3a3 24.5px,#d28774 28.5px,#cd7763 32.5px,#ce7c69 37.5px,#d6917f 40.5px,#e4b6a6 43.5px,#efe8e8 46.5px,#e4e4ed 47.5px,#c7cae6 49.5px,#bbc0e3 51.5px,#c5c9e6 53.5px,#efeaea 56.5px,#e4b8a8 59.5px,#d38976 63.5px,#cd7764 67.5px,#ce7b68 72.5px,#d58e7c 75.5px,#e3b2a2 78.5px,#eee3e1 81.5px,#e9e8ee 82.5px,#c0c5e4 85.5px,#bcc1e4 87.5px,#ced1e8 89.5px,#efedf0 91.5px,#e1ae9e 95.5px,#d18471 99.5px,#cc7763 103.5px,#cf7e6b 108.5px,#d89684 111.5px,#e5bdaf 114.5px,#efedf0 117.5px,#c3c7e5 120.5px,#bbc1e3 122.5px,#cacde7 124.5px,#e9e8ee 126.5px,#eee3e1 127.5px,#e3b2a2 130.5px,#d28673 134.5px,#cd7965 137.5px)"></div><div style="height:1px;background:linear-gradient(90deg,#cd7865 0.5px,#d18471 3.5px,#e2af9f 7.5px,#ede2e0 10.5px,#e9e8ee 11.5px,#b9bee3 14.5px,#b1b8e0 16.5px,#bec3e4 18.5px,#efebec 21.5px,#e4b6a6 24.5px,#d38875 28.5px,#cd7864 32.5px,#cf7d6a 37.5px,#d79381 40.5px,#e5baab 43.5px,#efedf0 46.5px,#bcc1e3 49.5px,#b1b8e0 51.5px,#bbc0e3 53.5px,#edebef 56.5px,#e5bbad 59.5px,#d48a78 63.5px,#cd7864 67.5px,#ce7c68 72.5px,#d6907e 75.5px,#e4b5a5 78.5px,#efe9ea 81.5px,#cfd1e8 83.5px,#b5bbe2 85.5px,#b2b9e0 87.5px,#c4c8e5 89.5px,#e7e6ee 91.5px,#eee4e2 92.5px,#e2b1a0 95.5px,#d28572 99.5px,#cd7764 103.5px,#cf7f6c 108.5px,#d99886 111.5px,#e6c0b3 114.5px,#eee4e2 116.5px,#e7e6ee 117.5px,#b8bee2 120.5px,#b2b8e0 122.5px,#bfc4e4 124.5px,#e1e1ec 126.5px,#efe9ea 127.5px,#e4b5a5 130.5px,#d38774 134.5px,#cd7966 137.5px)"></div><div style="height:1px;background:linear-gradient(90deg,#cd7966 0.5px,#d28673 3.5px,#e2b2a2 7.5px,#efe7e7 10.5px,#e2e2ed 11.5px,#bcc1e3 13.5px,#abb2dd 15.5px,#adb4de 17.5px,#c4c8e5 19.5px,#ecebef 21.5px,#e5b9ab 24.5px,#d38977 28.5px,#cd7865 32.5px,#cf7e6b 37.5px,#d89583 40.5px,#e5bdaf 43.5px,#ede1df 45.5px,#e8e7ee 46.5px,#c0c5e5 48.5px,#acb3de 50.5px,#acb3dd 52.5px,#bfc4e4 54.5px,#e6e5ee 56.5px,#eee3e2 57.5px,#e1af9f 60.5px,#d18471 64.5px,#cd7864 68.5px,#cf7d6a 72.5px,#d79280 75.5px,#e4b8a8 78.5px,#eeedf0 81.5px,#b6bce2 84.5px,#aab1dd 86.5px,#b0b6df 88.5px,#cbcee7 90.5px,#efe9ea 92.5px,#e3b3a3 95.5px,#d28674 99.5px,#cd7864 103.5px,#d0806d 108.5px,#d99988 111.5px,#e3b3a3 113.5px,#efe9ea 116.5px,#cbcee7 118.5px,#b0b6df 120.5px,#aab1dd 122.5px,#b6bce2 124.5px,#eeedf0 127.5px,#e4b8a8 130.5px,#d38976 134.5px,#ce7a67 137.5px)"></div><div style="height:1px;background:linear-gradient(90deg,#ce7a67 0.5px,#d38774 3.5px,#e3b4a4 7.5px,#f0edee 10.5px,#b4bae1 13.5px,#a5acda 15.5px,#a7aedb 17.5px,#bcc1e3 19.5px,#e6e5ee 21.5px,#ede2e1 22.5px,#e5bdaf 24.5px,#d89583 27.5px,#cf7e6b 30.5px,#ce7a66 35.5px,#d28572 38.5px,#e2b0a0 42.5px,#eee6e6 45.5px,#e1e1ec 46.5px,#b8bee3 48.5px,#a6addb 50.5px,#a6adda 52.5px,#b7bde2 54.5px,#dfe0ec 56.5px,#efe9e9 57.5px,#e2b2a1 60.5px,#d28673 64.5px,#cd7965 68.5px,#cf7e6b 72.5px,#d79482 75.5px,#e5bbad 78.5px,#ede0de 80.5px,#e8e7ee 81.5px,#bec3e4 83.5px,#a7afdb 85.5px,#a5acda 87.5px,#b3b9e1 89.5px,#efedf0 92.5px,#e4b6a6 95.5px,#d38875 99.5px,#cd7965 103.5px,#d0816e 108.5px,#da9c8a 111.5px,#e4b6a6 113.5px,#efedf0 116.5px,#b3b9e1 119.5px,#a5acda 121.5px,#a7afdb 123.5px,#bec3e4 125.5px,#e8e7ee 127.5px,#ede0de 128.5px,#e5bbad 130.5px,#d79482 133.5px,#cf7e6b 136.5px,#ce7b68 137.5px)"></div><div style="height:1px;background:linear-gradient(90deg,#ce7c68 0.5px,#d38976 3.5px,#e4b7a7 7.5px,#ecebef 10.5px,#bfc3e4 12.5px,#a5adda 14.5px,#a2aad9 17.5px,#b5bbe2 19.5px,#e0e1ec 21.5px,#eee7e6 22.5px,#e6c0b3 24.5px,#dda391 26.5px,#d28573 29.5px,#ce7a66 33.5px,#d0816e 37.5px,#d99987 40.5px,#e3b3a2 42.5px,#efebec 45.5px,#b2b9e0 48.5px,#a1a9d9 50.5px,#a7aedb 53.5px,#c3c7e5 55.5px,#f0edef 57.5px,#e3b4a4 60.5px,#d38775 64.5px,#ce7a66 68.5px,#d0806c 72.5px,#d89684 75.5px,#e6beb0 78.5px,#eee4e3 80.5px,#e3e3ed 81.5px,#b7bde2 83.5px,#a3aad9 85.5px,#a4acda 88.5px,#bdc2e4 90.5px,#eae9ef 92.5px,#eddedb 93.5px,#e5b9aa 95.5px,#d79381 98.5px,#cf7e6b 101.5px,#ce7c68 106.5px,#d48a77 109.5px,#e0aa9a 112.5px,#e8cbc1 114.5px,#eddedb 115.5px,#eae9ef 116.5px,#bdc2e4 118.5px,#a4acda 120.5px,#a3aad9 123.5px,#b7bde2 125.5px,#e3e3ed 127.5px,#eee4e3 128.5px,#e6beb0 130.5px,#d89684 133.5px,#d0806c 136.5px,#cf7d69 137.5px)"></div><div style="height:1px;background:linear-gradient(90deg,#cf7d6a 0.5px,#d48b78 3.5px,#e0ab9b 6.5px,#e9ccc2 8.5px,#eddfdd 9.5px,#e8e7ee 10.5px,#b9bfe3 12.5px,#a1a9d9 14.5px,#9fa7d7 17.5px,#b1b7e0 19.5px,#efeaeb 22.5px,#e3b2a2 25.5px,#d38775 29.5px,#ce7b68 33.5px,#d18370 37.5px,#da9b8a 40.5px,#e4b5a5 42.5px,#efedf0 45.5px,#c0c4e4 47.5px,#a4abda 49.5px,#9ea6d7 52.5px,#adb4de 54.5px,#d5d6e9 56.5px,#edebef 57.5px,#e4b6a6 60.5px,#d38977 64.5px,#ce7b68 68.5px,#d0816e 72.5px,#d99886 75.5px,#e2b1a0 77.5px,#ead3cd 79.5px,#efe8e8 80.5px,#dedfec 81.5px,#b2b9e0 83.5px,#9fa7d8 85.5px,#a1a9d8 88.5px,#b7bde2 90.5px,#e6e5ed 92.5px,#ede2e0 93.5px,#e5bbad 95.5px,#d89583 98.5px,#d0806d 101.5px,#cf7d6a 106.5px,#d48c79 109.5px,#e1ad9c 112.5px,#e9cdc5 114.5px,#ede2e0 115.5px,#e6e5ed 116.5px,#b7bde2 118.5px,#a1a9d8 120.5px,#9fa7d8 123.5px,#b2b9e0 125.5px,#dedfec 127.5px,#efe8e8 128.5px,#e6c1b4 130.5px,#dda492 132.5px,#d28774 135.5px,#cf7e6b 137.5px)"></div><div style="height:1px;background:linear-gradient(90deg,#d07f6c 0.5px,#d58d7b 3.5px,#e1ad9d 6.5px,#e9cec6 8.5px,#ede2e0 9.5px,#e5e4ed 10.5px,#b5bbe2 12.5px,#9fa7d7 14.5px,#9ca5d6 17.5px,#aeb4de 19.5px,#f0edef 22.5px,#e3b4a4 25.5px,#d38977 29.5px,#cf7d69 33.5px,#d28572 37.5px,#db9d8c 40.5px,#e4b7a7 42.5px,#eceaef 45.5px,#bcc1e3 47.5px,#a1a9d8 49.5px,#9ca4d6 52.5px,#aab1dc 54.5px,#d1d3e8 56.5px,#eae8ee 57.5px,#eddedb 58.5px,#e5b9aa 60.5px,#d79482 63.5px,#d0816e 66.5px,#d0806d 71.5px,#d6907e 74.5px,#e3b3a3 77.5px,#efebec 80.5px,#afb6df 83.5px,#9da5d7 85.5px,#9ea6d7 88.5px,#b4bae1 90.5px,#e2e2ed 92.5px,#eee4e3 93.5px,#e6beb0 95.5px,#d89785 98.5px,#d1826f 101.5px,#d07f6c 106.5px,#d58e7b 109.5px,#e1af9e 112.5px,#ead0c8 114.5px,#eee4e3 115.5px,#e2e2ed 116.5px,#b4bae1 118.5px,#9ea6d7 120.5px,#9da5d7 123.5px,#afb6df 125.5px,#efebec 128.5px,#e3b3a3 131.5px,#d38976 135.5px,#d0806d 137.5px)"></div><div style="height:1px;background:linear-gradient(90deg,#d0816e 0.5px,#d68f7d 3.5px,#e2af9f 6.5px,#ead0c8 8.5px,#eee4e3 9.5px,#e2e2ed 10.5px,#b3b9e1 12.5px,#9da5d7 14.5px,#9ba4d6 17.5px,#acb2dd 19.5px,#d6d7ea 21.5px,#eeedf0 22.5px,#e4b6a6 25.5px,#d48c79 29.5px,#cf7f6c 33.5px,#d38774 37.5px,#dca08e 40.5px,#e5b9aa 42.5px,#eddedb 44.5px,#eae9ee 45.5px,#b9bee3 47.5px,#9fa7d8 49.5px,#9aa3d5 52.5px,#a8afdb 54.5px,#b7bde2 55.5px,#e7e6ee 57.5px,#ede0dd 58.5px,#e5bbac 60.5px,#d89684 63.5px,#d18370 66.5px,#d1826f 71.5px,#d79381 74.5px,#e3b5a5 77.5px,#f0edef 80.5px,#adb4de 83.5px,#9ca4d6 85.5px,#9da5d6 88.5px,#b2b8e0 90.5px,#e0e0ec 92.5px,#eee6e6 93.5px,#e6c0b3 95.5px,#dda493 97.5px,#d38977 100.5px,#cf7f6b 104.5px,#d38977 108.5px,#e2b1a0 112.5px,#ead2cb 114.5px,#eee6e6 115.5px,#e0e0ec 116.5px,#b2b8e0 118.5px,#9da5d6 120.5px,#9ca4d6 123.5px,#adb4de 125.5px,#f0edef 128.5px,#e3b5a5 131.5px,#d48b79 135.5px,#d1826f 137.5px)"></div><div style="height:1px;background:linear-gradient(90deg,#d18371 0.5px,#d79280 3.5px,#e2b1a1 6.5px,#ead1ca 8.5px,#eee6e5 9.5px,#e1e1ec 10.5px,#b2b8e0 12.5px,#9da5d6 14.5px,#9ba3d5 17.5px,#abb2dd 19.5px,#d4d6e9 21.5px,#edecef 22.5px,#e4b8a9 25.5px,#d58e7c 29.5px,#d0816e 33.5px,#d38977 37.5px,#dca291 40.5px,#e5bbad 42.5px,#eddfdc 44.5px,#e8e7ee 45.5px,#b7bde2 47.5px,#9ea6d7 49.5px,#9aa2d5 52.5px,#a7aedb 54.5px,#b5bbe2 55.5px,#e6e5ee 57.5px,#ede1df 58.5px,#e5bdaf 60.5px,#d99987 63.5px,#d18370 67.5px,#d28471 71.5px,#d89583 74.5px,#e4b6a6 77.5px,#f0eef0 80.5px,#bec3e4 82.5px,#a1a8d8 84.5px,#99a2d5 87.5px,#a3abda 89.5px,#c5c9e6 91.5px,#dedfec 92.5px,#efe8e8 93.5px,#e3b2a2 96.5px,#d48c79 100.5px,#d0816e 104.5px,#d48c79 108.5px,#e3b2a2 112.5px,#efe8e8 115.5px,#dedfec 116.5px,#b0b7df 118.5px,#9ca4d6 120.5px,#9ba3d6 123.5px,#acb3dd 125.5px,#d7d8ea 127.5px,#f0eef0 128.5px,#e4b6a6 131.5px,#d58d7b 135.5px,#d28572 137.5px)"></div><div style="height:1px;background:linear-gradient(90deg,#d28673 0.5px,#d79482 3.5px,#e3b3a3 6.5px,#eee6e6 9.5px,#e1e1ec 10.5px,#b2b8e0 12.5px,#9da5d6 14.5px,#9ba3d5 17.5px,#abb2dd 19.5px,#d4d6e9 21.5px,#edebef 22.5px,#e5baab 25.5px,#d99887 28.5px,#d28572 32.5px,#d38875 36.5px,#dda493 40.5px,#e5bdaf 42.5px,#ede0dd 44.5px,#e8e7ee 45.5px,#b7bde2 47.5px,#9ea6d7 49.5px,#9aa2d5 52.5px,#a7aedb 54.5px,#b5bbe2 55.5px,#e6e5ed 57.5px,#ede2e0 58.5px,#e6beb1 60.5px,#da9b89 63.5px,#d28573 67.5px,#d28774 71.5px,#dca190 75.5px,#e4b8a9 77.5px,#efedf0 80.5px,#bec3e4 82.5px,#a1a8d8 84.5px,#99a2d5 87.5px,#a3abda 89.5px,#c5c9e6 91.5px,#dedfec 92.5px,#efe8e8 93.5px,#e3b4a4 96.5px,#d58e7c 100.5px,#d18471 104.5px,#d58e7c 108.5px,#e3b4a4 112.5px,#efe8e8 115.5px,#dedfec 116.5px,#b0b7df 118.5px,#9ca4d6 120.5px,#9ba3d6 123.5px,#acb3dd 125.5px,#d7d8ea 127.5px,#efedf0 128.5px,#e4b8a9 131.5px,#d6907e 135.5px,#d38775 137.5px)"></div><div style="height:1px;background:linear-gradient(90deg,#d38976 0.5px,#dc9f8e 4.5px,#e3b4a4 6.5px,#eee6e5 9.5px,#e1e1ec 10.5px,#b3b9e1 12.5px,#9da5d7 14.5px,#9ba4d6 17.5px,#acb2dd 19.5px,#d5d7ea 21.5px,#edecef 22.5px,#e5bbad 25.5px,#da9b89 28.5px,#d38875 32.5px,#d48b78 36.5px,#dea695 40.5px,#e6beb1 42.5px,#ede0dd 44.5px,#e9e8ee 45.5px,#b9bee3 47.5px,#9fa7d8 49.5px,#9aa3d5 52.5px,#a8afdb 54.5px,#b7bce2 55.5px,#e6e6ee 57.5px,#ede2e0 58.5px,#e3b2a2 61.5px,#d68f7d 65.5px,#d28774 69.5px,#d79381 73.5px,#e5baab 77.5px,#f0eef0 80.5px,#adb4de 83.5px,#9ca4d6 85.5px,#9da5d6 88.5px,#b1b8e0 90.5px,#dfdfec 92.5px,#efe8e8 93.5px,#e4b6a5 96.5px,#d6917f 100.5px,#d28674 104.5px,#d6917f 108.5px,#e4b6a5 112.5px,#efe8e8 115.5px,#dfdfec 116.5px,#b1b8e0 118.5px,#9da5d6 120.5px,#9ca4d6 123.5px,#adb4de 125.5px,#f0eef0 128.5px,#e5baab 131.5px,#d79381 135.5px,#d48a78 137.5px)"></div><div style="height:1px;background:linear-gradient(90deg,#d48c7a 0.5px,#dca290 4.5px,#e4b6a6 6.5px,#eee5e4 9.5px,#e3e3ed 10.5px,#b5bbe2 12.5px,#9fa7d7 14.5px,#9ca5d6 17.5px,#aeb4de 19.5px,#efedf0 22.5px,#e5bcaf 25.5px,#db9d8c 28.5px,#d48b78 32.5px,#d58e7c 36.5px,#dfa897 40.5px,#e6bfb2 42.5px,#eddfdd 44.5px,#eae9ef 45.5px,#bbc1e3 47.5px,#a1a9d8 49.5px,#9ca4d6 52.5px,#aab1dc 54.5px,#d0d2e8 56.5px,#e8e7ee 57.5px,#ede1df 58.5px,#e3b4a3 61.5px,#d79280 65.5px,#d48a77 69.5px,#d89684 73.5px,#e1af9f 76.5px,#e8c9c0 78.5px,#f0edef 80.5px,#afb6df 83.5px,#9da5d7 85.5px,#9ea6d7 88.5px,#b4bae1 90.5px,#e1e1ec 92.5px,#efe7e7 93.5px,#e4b7a7 96.5px,#d79482 100.5px,#d48a77 104.5px,#d79482 108.5px,#e4b7a7 112.5px,#efe7e7 115.5px,#e1e1ec 116.5px,#b4bae1 118.5px,#9ea6d7 120.5px,#9da5d7 123.5px,#afb6df 125.5px,#f0edef 128.5px,#e5bbad 131.5px,#db9d8b 134.5px,#d58d7b 137.5px)"></div><div style="height:1px;background:linear-gradient(90deg,#d68f7d 0.5px,#dda493 4.5px,#e4b7a8 6.5px,#eee4e2 9.5px,#e6e5ee 10.5px,#b9bfe3 12.5px,#a1a9d9 14.5px,#9fa7d7 17.5px,#b1b7e0 19.5px,#f0edef 22.5px,#e6beb0 25.5px,#dca08f 28.5px,#d58e7c 32.5px,#d6917f 36.5px,#e0aa9a 40.5px,#e6c0b3 42.5px,#ecebef 45.5px,#aeb5de 48.5px,#9ea6d7 50.5px,#a3aad9 53.5px,#bdc2e4 55.5px,#eae9ef 57.5px,#e9d0c8 59.5px,#e4b5a5 61.5px,#d89684 65.5px,#d58d7b 69.5px,#d99987 73.5px,#e2b1a1 76.5px,#ecd9d4 79.5px,#efebec 80.5px,#b2b9e0 83.5px,#9fa7d8 85.5px,#a1a9d8 88.5px,#b7bde2 90.5px,#e4e3ed 92.5px,#eee5e5 93.5px,#e5b8a9 96.5px,#d99785 100.5px,#d58d7b 104.5px,#d99785 108.5px,#e5b8a9 112.5px,#eee5e5 115.5px,#e4e3ed 116.5px,#b7bde2 118.5px,#a1a9d8 120.5px,#9fa7d8 123.5px,#b2b9e0 125.5px,#efebec 128.5px,#e5bcae 131.5px,#dc9f8e 134.5px,#d6917e 137.5px)"></div><div style="height:1px;background:linear-gradient(90deg,#d79381 0.5px,#dea796 4.5px,#e5b9a9 6.5px,#ede2e0 9.5px,#e9e8ee 10.5px,#aeb5df 13.5px,#a0a8d8 15.5px,#a2aad9 17.5px,#b5bbe2 19.5px,#dfdfec 21.5px,#efebec 22.5px,#e6bfb1 25.5px,#dda392 28.5px,#d79280 32.5px,#d99887 37.5px,#e4b5a5 41.5px,#ecddd9 44.5px,#efeef0 45.5px,#b2b9e0 48.5px,#a1a9d9 50.5px,#a7aedb 53.5px,#c2c7e5 55.5px,#edecef 57.5px,#e4b6a6 61.5px,#d99987 65.5px,#d6927f 70.5px,#dda291 74.5px,#e6bdb0 77.5px,#efe9e9 80.5px,#e1e1ec 81.5px,#b7bce2 83.5px,#a3aad9 85.5px,#a4acda 88.5px,#bcc1e3 90.5px,#e7e6ee 92.5px,#eee3e2 93.5px,#e5baab 96.5px,#da9a89 100.5px,#d6917f 105.5px,#dca08f 109.5px,#e5baab 112.5px,#eee3e2 115.5px,#e7e6ee 116.5px,#bcc1e3 118.5px,#a4acda 120.5px,#a3aad9 123.5px,#b7bce2 125.5px,#e1e1ec 127.5px,#efe9e9 128.5px,#e6bdb0 131.5px,#dda291 134.5px,#d79482 137.5px)"></div><div style="height:1px;background:linear-gradient(90deg,#d89785 0.5px,#dfa998 4.5px,#e7c5ba 7.5px,#edecef 10.5px,#b4bae1 13.5px,#a5acda 15.5px,#a7aedb 17.5px,#bbc1e3 19.5px,#e3e3ed 21.5px,#efe8e8 22.5px,#e6bfb2 25.5px,#dea695 28.5px,#d89482 33.5px,#dca190 38.5px,#e4b7a7 41.5px,#ecdbd7 44.5px,#efebec 45.5px,#b8bee2 48.5px,#a6addb 50.5px,#a6adda 52.5px,#b6bce2 54.5px,#f0edef 57.5px,#e7c3b7 60.5px,#dfa897 63.5px,#d89583 68.5px,#dc9f8e 73.5px,#e3b4a4 76.5px,#ebd7d1 79.5px,#eee6e5 80.5px,#e5e5ed 81.5px,#bdc2e4 83.5px,#a7afdb 85.5px,#a5acda 87.5px,#b3b9e0 89.5px,#ebeaef 92.5px,#e5bbad 96.5px,#db9e8c 100.5px,#d89583 105.5px,#dfaa99 110.5px,#e7c6bb 113.5px,#ebeaef 116.5px,#b3b9e0 119.5px,#a5acda 121.5px,#a7afdb 123.5px,#bdc2e4 125.5px,#e5e5ed 127.5px,#eee6e5 128.5px,#e6beb1 131.5px,#dea594 134.5px,#d99886 137.5px)"></div><div style="height:1px;background:linear-gradient(90deg,#e0ac9b 0.5px,#e4b8a9 5.5px,#ebd5cf 10.5px,#eeedf0 13.5px,#e4e4ed 16.5px,#f0eced 19.5px,#e7c4b9 24.5px,#e2b0a0 29.5px,#e0ac9c 36.5px,#e5bbad 41.5px,#ead3cc 45.5px,#f0edef 48.5px,#e4e4ed 51.5px,#f0eef0 54.5px,#e7c6bb 59.5px,#e2b1a0 64.5px,#e0ac9b 71.5px,#e5baab 76.5px,#ebd9d4 81.5px,#efebec 83.5px,#e5e4ed 87.5px,#eeecef 89.5px,#e7c2b6 95.5px,#e1af9f 100.5px,#e1ad9d 107.5px,#e6bdb0 112.5px,#ebd6d1 116.5px,#eeecef 119.5px,#e4e4ed 122.5px,#efebec 125.5px,#e7c4b8 130.5px,#e2b09f 135.5px,#e0ac9c 137.5px)"></div><div style="height:1px;background:#e3b4a4"></div><div style="height:1px;background:#e0aa9a"></div><div style="height:1px;background:#c66a58"></div><div style="height:1px;background:#89292a"></div><div style="height:1px;background:#711e21"></div><div style="height:1px;background:linear-gradient(90deg,#b14b42 0.5px,#b14b42 137.5px)"></div><div style="height:1px;background:linear-gradient(90deg,#c96f5b 0.5px,#c06152 18.5px,#c96f5b 36.5px,#c06152 53.5px,#c96f5b 71.5px,#c06252 89.5px,#c96f5b 106.5px,#c06152 124.5px,#c96f5b 137.5px)"></div><div style="height:1px;background:linear-gradient(90deg,#d58e7b 0.5px,#c86e5a 14.5px,#cc7662 22.5px,#d58e7c 32.5px,#d28774 39.5px,#c96e5b 49.5px,#cc7561 57.5px,#d58e7c 67.5px,#d38875 74.5px,#c96e5b 84.5px,#cb7460 92.5px,#d58e7c 103.5px,#d18370 111.5px,#c96e5b 119.5px,#cb735f 127.5px,#d58d7b 137.5px)"></div><div style="height:1px;background:linear-gradient(90deg,#e5bcae 0.5px,#dea796 16.5px,#e5bdaf 34.5px,#dea796 51.5px,#e5bdaf 70.5px,#dea796 86.5px,#e4b8a9 99.5px,#e5bcae 106.5px,#dea796 121.5px,#e4b8a8 134.5px,#e5bcae 137.5px)"></div><div style="height:1px;background:linear-gradient(90deg,#c9cce6 0.5px,#cccfe7 24.5px,#cdd0e8 46.5px,#cccfe7 78.5px,#cdcfe7 115.5px,#c9cce7 137.5px)"></div><div style="height:1px;background:#6d79bf"></div><div style="height:1px;background:#5e6ab2"></div><div style="height:1px;background:#5e6bb3"></div><div style="height:1px;background:#6774bb"></div><div style="height:1px;background:#7782c5"></div><div style="height:1px;background:linear-gradient(90deg,#6672b9 0.5px,#6672b9 137.5px)"></div><div style="height:1px;background:linear-gradient(90deg,#5b68b0 0.5px,#616eb6 21.5px,#5d69b1 39.5px,#616eb5 57.5px,#5d6ab2 75.5px,#616eb5 92.5px,#5d6ab2 110.5px,#616db5 128.5px,#5b68b0 137.5px)"></div><div style="height:1px;background:linear-gradient(90deg,#5966af 0.5px,#6b77be 17.5px,#5966af 35.5px,#6b77be 52.5px,#5966ae 70.5px,#6b77be 88.5px,#5966ae 105.5px,#6b77be 123.5px,#5966af 137.5px)"></div><div style="height:1px;background:linear-gradient(90deg,#5865ae 0.5px,#5f6bb3 21.5px,#5a67af 39.5px,#5e6bb3 57.5px,#5a67b0 75.5px,#5e6bb3 92.5px,#5a67af 110.5px,#5e6bb3 128.5px,#5865ae 137.5px)"></div><div style="height:1px;background:linear-gradient(90deg,#4b59a3 0.5px,#4b59a3 137.5px)"></div><div style="height:1px;background:#3d4a8f"></div><div style="height:1px;background:#3d4a8e"></div><div style="height:1px;background:#3d498d"></div><div style="height:2px;background:#3c498c"></div><div style="height:1px;background:#3c488b"></div><div style="height:1px;background:#3c488a"></div></div><div style="position:absolute;left:424.5px;top:196px;width:6px;height:119px;background:linear-gradient(180deg,#561218 0%,#a23432 15%,#ca705c 30%,#e4b6a6 42%,#f0eef0 50%,#b6bce2 58%,#707cc2 70%,#42509b 85%,#343e76 100%)"></div><div style="position:absolute;left:486px;top:199px;width:138px;height:119px;overflow:hidden"><div style="height:11px;background:#37427d"></div><div style="height:1px;background:#37427e"></div><div style="height:1px;background:linear-gradient(90deg,#37427f 0.5px,#37427f 137.5px)"></div><div style="height:1px;background:linear-gradient(90deg,#3c498c 0.5px,#3c498c 137.5px)"></div><div style="height:1px;background:linear-gradient(90deg,#6471b8 0.5px,#606cb4 23.5px,#626fb6 39.5px,#616db5 61.5px,#616eb5 76.5px,#626fb6 98.5px,#5f6bb3 118.5px,#6471b8 137.5px)"></div><div style="height:1px;background:linear-gradient(90deg,#7d88c8 0.5px,#6c78bf 9.5px,#6471b8 17.5px,#7a85c6 30.5px,#7c87c7 36.5px,#6a77bd 46.5px,#6572b9 53.5px,#7984c6 65.5px,#7c87c8 71.5px,#6c78be 80.5px,#6571b8 88.5px,#7883c6 100.5px,#7d88c8 106.5px,#6c78bf 115.5px,#6471b8 123.5px,#7a85c7 136.5px,#7c87c7 137.5px)"></div><div style="height:1px;background:linear-gradient(90deg,#808bc9 0.5px,#6875bb 7.5px,#5865ae 12.5px,#4a58a2 16.5px,#6774bb 24.5px,#7b86c7 30.5px,#838dcb 34.5px,#6773ba 43.5px,#4a58a2 51.5px,#6975bc 60.5px,#838ecb 69.5px,#5b68b0 82.5px,#4b58a2 86.5px,#5764ad 90.5px,#6c78bf 97.5px,#838ecb 104.5px,#5d6ab2 117.5px,#4b58a3 121.5px,#5663ac 125.5px,#6976bc 131.5px,#7f89c9 137.5px)"></div><div style="height:1px;background:linear-gradient(90deg,#8d97cf 0.5px,#6b77bd 6.5px,#5562ab 10.5px,#414f99 12.5px,#3b488a 15.5px,#3d4a8f 18.5px,#45539e 20.5px,#616eb5 23.5px,#7782c5 28.5px,#9099d1 32.5px,#8f99d0 35.5px,#6b78be 41.5px,#5865ae 45.5px,#43519c 47.5px,#3c488a 50.5px,#3d498e 53.5px,#42509b 55.5px,#6471b8 59.5px,#7c87c8 64.5px,#929bd1 68.5px,#8c96cf 71.5px,#6c79bf 76.5px,#5b68b0 80.5px,#404e96 83.5px,#3b4789 86.5px,#3e4b91 89.5px,#4a57a2 91.5px,#6370b7 94.5px,#7a85c6 99.5px,#919ad1 103.5px,#8e97d0 106.5px,#6a76bd 112.5px,#5462ab 116.5px,#414f99 118.5px,#3b488a 121.5px,#3e4a90 124.5px,#46549f 126.5px,#616eb6 129.5px,#7783c5 134.5px,#8b95cf 137.5px)"></div><div style="height:1px;background:linear-gradient(90deg,#99a2d5 0.5px,#6c78bf 6.5px,#505da6 9.5px,#414f99 10.5px,#37427d 13.5px,#36417c 18.5px,#3f4c93 21.5px,#626fb6 24.5px,#9ca5d6 32.5px,#9ca4d6 35.5px,#606db5 43.5px,#44529d 45.5px,#37427f 48.5px,#36407b 53.5px,#3d4a8f 56.5px,#43519c 57.5px,#6874bb 60.5px,#848fcb 64.5px,#9fa7d7 68.5px,#98a0d4 71.5px,#6370b7 78.5px,#3f4c94 81.5px,#36417c 84.5px,#37417d 89.5px,#414e98 92.5px,#6572b9 95.5px,#828cca 99.5px,#9ea6d7 103.5px,#9aa2d5 106.5px,#6b78be 112.5px,#4e5ba5 115.5px,#414e98 116.5px,#37417d 119.5px,#36417c 124.5px,#3f4c94 127.5px,#6370b7 130.5px,#97a0d4 137.5px)"></div><div style="height:1px;background:linear-gradient(90deg,#99a2d5 0.5px,#6a76bd 6.5px,#4b59a3 8.5px,#394584 10.5px,#35407a 12.5px,#37427f 17.5px,#36407a 20.5px,#3c488a 22.5px,#424f9a 23.5px,#6572b9 25.5px,#9ca5d6 32.5px,#9ca4d6 35.5px,#636fb7 42.5px,#404e96 44.5px,#37427e 46.5px,#37427d 53.5px,#37417d 56.5px,#404d95 58.5px,#616eb5 60.5px,#959ed3 66.5px,#9fa7d8 69.5px,#919ad1 72.5px,#6673ba 77.5px,#43519b 79.5px,#384380 81.5px,#36407a 83.5px,#37427e 88.5px,#36417c 91.5px,#3e4b90 93.5px,#4957a1 94.5px,#6975bc 96.5px,#99a2d5 102.5px,#9ea6d7 105.5px,#828cca 109.5px,#6975bc 112.5px,#3e4b90 115.5px,#36417c 117.5px,#36417c 124.5px,#36407b 126.5px,#3c488b 128.5px,#43519b 129.5px,#6673ba 131.5px,#97a0d4 137.5px)"></div><div style="height:1px;background:linear-gradient(90deg,#8d96cf 0.5px,#6d79bf 5.5px,#636fb7 6.5px,#4b59a3 7.5px,#3d498d 8.5px,#38437f 9.5px,#384380 11.5px,#404d95 15.5px,#3e4b90 18.5px,#37427d 21.5px,#36417c 22.5px,#3a4585 23.5px,#404e97 24.5px,#5966ae 25.5px,#6975bc 26.5px,#8f99d0 32.5px,#8f98d0 35.5px,#6773ba 41.5px,#3f4c92 43.5px,#394482 44.5px,#36417c 45.5px,#404d95 50.5px,#3f4c92 53.5px,#36417c 57.5px,#384381 58.5px,#3e4b91 59.5px,#6672b9 61.5px,#8e98d0 67.5px,#9099d1 70.5px,#6a76bd 76.5px,#5b68b0 77.5px,#414f99 78.5px,#3a4686 79.5px,#37417d 80.5px,#394483 82.5px,#404e96 86.5px,#3d4a8e 89.5px,#36417c 92.5px,#37427e 93.5px,#3c488b 94.5px,#4956a1 95.5px,#616eb5 96.5px,#7985c6 99.5px,#919ad1 103.5px,#8d97cf 106.5px,#6c78bf 111.5px,#616eb5 112.5px,#4956a1 113.5px,#3c488b 114.5px,#37427e 115.5px,#384381 117.5px,#404d96 121.5px,#3e4b90 124.5px,#37417d 127.5px,#37417d 128.5px,#3a4686 129.5px,#414f99 130.5px,#5b68b0 131.5px,#6a76bd 132.5px,#8b95ce 137.5px)"></div><div style="height:1px;background:linear-gradient(90deg,#7a85c7 0.5px,#6773ba 5.5px,#5663ac 6.5px,#3e4b91 7.5px,#37427f 8.5px,#384380 9.5px,#4c5aa3 13.5px,#525fa8 17.5px,#414f99 20.5px,#37427e 23.5px,#3a4585 24.5px,#46549f 25.5px,#616eb5 26.5px,#6d79c0 28.5px,#7e88c8 33.5px,#6975bc 40.5px,#5d6ab2 41.5px,#414f99 42.5px,#384482 43.5px,#37427e 44.5px,#4a58a2 48.5px,#5260a9 52.5px,#43519c 55.5px,#37427e 58.5px,#384381 59.5px,#404e96 60.5px,#5b68b0 61.5px,#6875bc 62.5px,#7e88c8 69.5px,#6b77bd 75.5px,#626fb7 76.5px,#4a57a2 77.5px,#3a4687 78.5px,#37427e 79.5px,#4e5ca5 84.5px,#515ea7 88.5px,#404d95 91.5px,#384380 93.5px,#37427f 94.5px,#3d4a8e 95.5px,#5360aa 96.5px,#6673ba 97.5px,#7e89c8 104.5px,#6673ba 111.5px,#5360aa 112.5px,#3d4a8e 113.5px,#37427f 114.5px,#384380 115.5px,#4d5aa4 119.5px,#515fa8 123.5px,#414f98 126.5px,#37427e 129.5px,#3a4687 130.5px,#4a57a2 131.5px,#626fb7 132.5px,#7984c6 137.5px)"></div><div style="height:1px;background:linear-gradient(90deg,#6c78bf 0.5px,#616eb5 5.5px,#3b4789 7.5px,#3a4686 8.5px,#515ea8 11.5px,#5d6ab2 15.5px,#5562ab 20.5px,#3c488b 23.5px,#394584 24.5px,#3f4d94 25.5px,#5865ae 26.5px,#6571b9 27.5px,#6d79bf 35.5px,#6470b8 40.5px,#5360aa 41.5px,#3e4a8f 42.5px,#394584 43.5px,#42509b 45.5px,#5663ac 47.5px,#5d6ab2 52.5px,#5664ac 55.5px,#3d4a8f 58.5px,#394584 59.5px,#3d498d 60.5px,#505ea7 61.5px,#6370b7 62.5px,#6d79bf 70.5px,#6572b9 75.5px,#5b67b0 76.5px,#404e97 77.5px,#394584 78.5px,#3b488a 79.5px,#5461aa 82.5px,#5d6ab2 87.5px,#525fa8 91.5px,#3a4686 94.5px,#3b4787 95.5px,#47559f 96.5px,#606db4 97.5px,#6b77be 101.5px,#6773ba 110.5px,#606db4 111.5px,#47559f 112.5px,#3b4787 113.5px,#3a4686 114.5px,#525fa8 117.5px,#5d6ab2 121.5px,#5461aa 126.5px,#3b488a 129.5px,#394584 130.5px,#404e97 131.5px,#5b67b0 132.5px,#6572b9 133.5px,#6c78bf 137.5px)"></div><div style="height:1px;background:linear-gradient(90deg,#6773ba 0.5px,#6470b8 4.5px,#5e6bb3 5.5px,#4856a0 6.5px,#3f4c93 7.5px,#414f99 8.5px,#5865ae 10.5px,#616db5 15.5px,#5b68b0 21.5px,#3f4c94 24.5px,#414e97 25.5px,#5562ab 26.5px,#626eb6 27.5px,#6471b8 39.5px,#616db5 40.5px,#404d95 42.5px,#404d96 43.5px,#5663ac 45.5px,#606db5 49.5px,#5c69b1 56.5px,#4c5aa4 58.5px,#404e97 59.5px,#3f4c94 60.5px,#606db4 62.5px,#6672b9 72.5px,#626fb6 75.5px,#5764ad 76.5px,#414f99 77.5px,#3f4c93 78.5px,#5b68b0 81.5px,#606db5 89.5px,#5966af 92.5px,#42509a 94.5px,#3f4c92 95.5px,#46549e 96.5px,#5c69b1 97.5px,#6571b8 99.5px,#6470b7 110.5px,#5c69b1 111.5px,#46549e 112.5px,#3f4c92 113.5px,#42509a 114.5px,#5966af 116.5px,#616db5 122.5px,#5b68b0 127.5px,#3f4c93 130.5px,#414f99 131.5px,#5764ad 132.5px,#626fb6 133.5px,#6673ba 137.5px)"></div><div style="height:1px;background:linear-gradient(90deg,#6672b9 0.5px,#606db5 5.5px,#5260a9 6.5px,#4e5ca5 7.5px,#626fb6 10.5px,#616db5 22.5px,#4e5ca5 25.5px,#6370b7 27.5px,#626fb6 40.5px,#4e5ba5 42.5px,#616eb6 45.5px,#626eb6 57.5px,#4e5ba5 60.5px,#626eb6 62.5px,#6370b7 75.5px,#4f5ca6 77.5px,#636fb7 81.5px,#5f6cb4 93.5px,#4f5ca6 95.5px,#515fa8 96.5px,#5f6cb4 97.5px,#6672b9 102.5px,#6471b8 110.5px,#5f6cb4 111.5px,#515fa8 112.5px,#4f5ca6 113.5px,#626fb6 116.5px,#606db5 128.5px,#4f5ca6 131.5px,#6370b7 133.5px,#6672b9 137.5px)"></div><div style="height:1px;background:linear-gradient(90deg,#6e7ac0 0.5px,#6b77be 5.5px,#6572b9 7.5px,#6d79bf 13.5px,#6874bb 24.5px,#6774bb 26.5px,#6e7ac0 32.5px,#6c78bf 40.5px,#6571b8 42.5px,#6d79bf 47.5px,#6975bc 59.5px,#6672b9 61.5px,#6d7ac0 64.5px,#6c79bf 75.5px,#6471b8 77.5px,#6d79bf 83.5px,#6a76bd 94.5px,#6571b8 96.5px,#6d7ac0 100.5px,#6a76bd 111.5px,#6672b9 113.5px,#6d79bf 119.5px,#6b77be 129.5px,#6471b8 131.5px,#6d7ac0 135.5px,#6e7ac0 137.5px)"></div><div style="height:1px;background:linear-gradient(90deg,#99a2d5 0.5px,#99a1d5 27.5px,#99a2d5 99.5px,#99a2d5 134.5px,#99a2d5 137.5px)"></div><div style="height:1px;background:linear-gradient(90deg,#c4c8e5 0.5px,#c4c8e5 137.5px)"></div><div style="height:1px;background:#dfdfec"></div><div style="height:1px;background:#e9e8ee"></div><div style="height:1px;background:#ebeaef"></div><div style="height:1px;background:#eeecf0"></div><div style="height:1px;background:linear-gradient(90deg,#efe9e9 0.5px,#efe9e9 137.5px)"></div><div style="height:1px;background:linear-gradient(90deg,#ede1df 0.5px,#ecdeda 12.5px,#ecd9d5 17.5px,#ede1df 25.5px,#eddedb 47.5px,#ecd9d4 52.5px,#ede1df 61.5px,#eddfdc 82.5px,#ecdad5 88.5px,#ede1df 96.5px,#eddfdd 117.5px,#ecd9d5 123.5px,#ede1df 131.5px,#ede1df 137.5px)"></div><div style="height:1px;background:linear-gradient(90deg,#ede0dd 0.5px,#ecddd9 9.5px,#e7c6bb 15.5px,#e9cdc5 19.5px,#eddedb 23.5px,#ecddda 44.5px,#e8c7bc 50.5px,#e9ccc3 54.5px,#eddfdc 59.5px,#eddedb 79.5px,#e7c6bb 86.5px,#e9cfc7 90.5px,#eddedc 94.5px,#ecdcd9 115.5px,#e7c6bb 121.5px,#e9cec5 125.5px,#eddedb 129.5px,#ede0dd 137.5px)"></div><div style="height:1px;background:linear-gradient(90deg,#eddfdc 0.5px,#ecddd9 7.5px,#e7c2b6 11.5px,#e2b1a1 14.5px,#e3b3a3 18.5px,#e9cec6 22.5px,#eddedb 25.5px,#ecdeda 42.5px,#e9cdc4 45.5px,#e4b6a6 48.5px,#e2b09f 52.5px,#e5bcae 55.5px,#ecdad5 59.5px,#eddfdc 64.5px,#ecdcd8 78.5px,#e3b3a3 84.5px,#e2b1a1 88.5px,#e6c1b5 91.5px,#ecddd9 95.5px,#ecddd9 113.5px,#e3b4a4 119.5px,#e2b0a0 123.5px,#e6bfb2 126.5px,#ecdcd8 130.5px,#eddfdc 137.5px)"></div><div style="height:1px;background:linear-gradient(90deg,#eddedb 0.5px,#ecdbd7 6.5px,#e6c0b4 9.5px,#e0ac9b 11.5px,#da9a88 15.5px,#dca291 19.5px,#e5baac 22.5px,#ebd8d3 25.5px,#eddedb 29.5px,#ecdcd8 41.5px,#e9cfc7 43.5px,#e1af9e 46.5px,#da9a89 50.5px,#dca08f 54.5px,#e4b7a7 57.5px,#ebd6d1 60.5px,#eddedb 63.5px,#ecddd9 76.5px,#ead2cb 78.5px,#dfa998 82.5px,#d99988 86.5px,#dda493 90.5px,#e6bfb2 93.5px,#ecdad6 96.5px,#eddedb 109.5px,#ecdad6 112.5px,#e6bfb2 115.5px,#dda493 118.5px,#d99988 122.5px,#dfa998 126.5px,#ebd9d4 131.5px,#eddedb 136.5px,#eddedb 137.5px)"></div><div style="height:1px;background:linear-gradient(90deg,#ecddda 0.5px,#ecd9d5 5.5px,#e8c8bd 7.5px,#dca190 10.5px,#d48b78 13.5px,#d28774 17.5px,#d79381 20.5px,#e3b3a3 23.5px,#ebd7d1 26.5px,#ecddd9 30.5px,#ecdbd6 40.5px,#e9cbc2 42.5px,#dda493 45.5px,#d48c7a 48.5px,#d28673 52.5px,#d6917f 55.5px,#e1af9f 58.5px,#ead4ce 61.5px,#ecddd9 64.5px,#ecdbd7 75.5px,#e9cfc7 77.5px,#dfa897 80.5px,#d58e7b 83.5px,#d28673 87.5px,#d89685 91.5px,#e4b8a9 94.5px,#ead2cb 96.5px,#ecdcd8 98.5px,#ecdcd8 110.5px,#ead2cb 112.5px,#dca08f 116.5px,#d48a78 119.5px,#d28774 123.5px,#d79482 126.5px,#e3b4a4 129.5px,#e9cfc7 131.5px,#ecdbd7 133.5px,#ecddda 137.5px)"></div><div style="height:1px;background:linear-gradient(90deg,#ecdcd8 0.5px,#ebd8d4 4.5px,#e8c7bc 6.5px,#da9b89 9.5px,#d07f6c 12.5px,#cd7864 17.5px,#d1826f 20.5px,#dca190 23.5px,#e9cdc4 26.5px,#ecdad6 28.5px,#ecdad5 39.5px,#e8cbc1 41.5px,#d79280 45.5px,#ce7c69 48.5px,#cd7965 53.5px,#d38774 56.5px,#e0ac9b 59.5px,#ead4cd 62.5px,#ecdcd8 65.5px,#ecdad6 74.5px,#e9cec6 76.5px,#d89584 80.5px,#cf7d6a 83.5px,#cd7865 88.5px,#d28572 91.5px,#dfa796 94.5px,#ead1ca 97.5px,#ecdbd7 99.5px,#ecdbd7 109.5px,#ead1ca 111.5px,#d99988 115.5px,#cf7e6b 118.5px,#cd7865 123.5px,#d1826f 126.5px,#dda392 129.5px,#e9cec6 132.5px,#ecdad6 134.5px,#ecdcd8 137.5px)"></div><div style="height:1px;background:linear-gradient(90deg,#ecdad6 0.5px,#ebd8d3 3.5px,#e8c9bf 5.5px,#d48c79 9.5px,#cc7561 12.5px,#cb7360 19.5px,#d28673 22.5px,#e9cec6 27.5px,#ecd9d5 29.5px,#ebd9d4 38.5px,#e9ccc3 40.5px,#d6907d 44.5px,#cc7662 47.5px,#cb735f 54.5px,#d18370 57.5px,#e1ad9c 60.5px,#e9cbc2 62.5px,#ebd9d4 64.5px,#ecd9d5 73.5px,#e9cfc7 75.5px,#d28774 80.5px,#cb7460 83.5px,#cc7461 90.5px,#d48a78 93.5px,#ead2cb 98.5px,#ecdad6 101.5px,#ebd8d3 109.5px,#e8c7bd 111.5px,#d48a78 115.5px,#cc7461 118.5px,#cb7460 125.5px,#d28774 128.5px,#e9cfc7 133.5px,#ecd9d5 135.5px,#ecdad6 137.5px)"></div><div style="height:1px;background:linear-gradient(90deg,#ecd9d4 0.5px,#ead4ce 3.5px,#e6bfb1 5.5px,#d1826f 9.5px,#cb725e 12.5px,#cb735f 20.5px,#d38875 23.5px,#ead1c9 28.5px,#ebd9d4 31.5px,#ebd5d0 38.5px,#e7c3b7 40.5px,#d28673 44.5px,#cb735f 47.5px,#cb725f 55.5px,#d28472 58.5px,#e9cec6 63.5px,#ebd8d3 65.5px,#ebd7d1 73.5px,#e8c7bd 75.5px,#d38977 79.5px,#cb7360 82.5px,#cb725e 90.5px,#d0816e 93.5px,#e5bdaf 97.5px,#ead3cd 99.5px,#ecd9d4 103.5px,#ebd7d2 108.5px,#e8cbc2 110.5px,#d58d7b 114.5px,#cc7461 117.5px,#ca715d 125.5px,#cf7e6b 128.5px,#dfa897 131.5px,#ead1ca 134.5px,#ebd9d4 137.5px)"></div><div style="height:1px;background:linear-gradient(90deg,#ebd8d2 0.5px,#e9cfc8 3.5px,#d38977 8.5px,#cc7460 11.5px,#cb735f 20.5px,#d18471 23.5px,#e6beb0 27.5px,#ead3cc 29.5px,#ebd8d3 34.5px,#ead2ca 38.5px,#e5bbac 40.5px,#d58d7a 43.5px,#cc7561 46.5px,#ca715d 54.5px,#ce7966 57.5px,#d99988 60.5px,#e8c8bd 63.5px,#ebd6d0 65.5px,#ebd6d1 72.5px,#e9ccc3 74.5px,#d28572 79.5px,#cb735f 82.5px,#cb7460 91.5px,#d38875 94.5px,#e9cfc7 99.5px,#ebd8d2 102.5px,#ebd5ce 108.5px,#e7c4b8 110.5px,#d38875 114.5px,#cb7460 117.5px,#cb735f 126.5px,#d28572 129.5px,#e9ccc3 134.5px,#ebd6d1 136.5px,#ebd7d2 137.5px)"></div><div style="height:1px;background:linear-gradient(90deg,#ebd6d1 0.5px,#ead2cb 2.5px,#e6bfb2 4.5px,#d38875 8.5px,#cb7460 11.5px,#cb735f 20.5px,#d18370 23.5px,#e4b8a8 27.5px,#e9cfc7 29.5px,#ebd6d1 32.5px,#ead3cd 37.5px,#e7c3b8 39.5px,#d48b79 43.5px,#cc7561 46.5px,#ca715d 54.5px,#cd7966 57.5px,#d89684 60.5px,#e9cdc4 64.5px,#ebd6d1 67.5px,#ead4ce 72.5px,#e8c7bc 74.5px,#d58f7c 78.5px,#cc7663 81.5px,#ca705c 89.5px,#cf7e6b 93.5px,#dca08f 96.5px,#e8cac1 99.5px,#ebd5cf 101.5px,#ebd5cf 107.5px,#e8cac1 109.5px,#d28774 114.5px,#cb7460 117.5px,#cb735f 126.5px,#d18471 129.5px,#e5b9aa 133.5px,#ead0c8 135.5px,#ebd6d0 137.5px)"></div><div style="height:1px;background:linear-gradient(90deg,#ebd5cf 0.5px,#e9cfc8 2.5px,#dca08f 6.5px,#cf7e6b 9.5px,#ca715d 13.5px,#cc7662 21.5px,#d58d7a 24.5px,#e9ccc3 29.5px,#ebd5d0 32.5px,#ead1ca 37.5px,#e6bfb2 39.5px,#d48b78 43.5px,#cc7561 46.5px,#cb725e 55.5px,#d0806d 58.5px,#e2b0a0 62.5px,#e8c9c0 64.5px,#ead4ce 66.5px,#ead2cb 72.5px,#e7c3b7 74.5px,#d18471 79.5px,#cb735f 82.5px,#cb7460 91.5px,#d28674 94.5px,#e9cfc7 100.5px,#ebd6d0 104.5px,#e9cfc7 108.5px,#d28674 114.5px,#cb7460 117.5px,#cb735f 126.5px,#d18471 129.5px,#e9cdc4 135.5px,#ebd5ce 137.5px)"></div><div style="height:1px;background:linear-gradient(90deg,#ead4ce 0.5px,#e9cdc5 2.5px,#d38775 8.5px,#cb7460 11.5px,#cb735f 20.5px,#d1826f 23.5px,#e8cac0 29.5px,#ebd5cf 32.5px,#ead3cc 36.5px,#e8c8be 38.5px,#d0816e 44.5px,#cb725e 47.5px,#cc7561 56.5px,#d38977 59.5px,#e8c7bd 64.5px,#ead3cc 66.5px,#ead4cd 71.5px,#e8cbc1 73.5px,#d18370 79.5px,#cb735f 82.5px,#cb7460 91.5px,#d28673 94.5px,#e9cdc4 100.5px,#ebd5cf 103.5px,#ead2cb 107.5px,#e7c4b9 109.5px,#d28673 114.5px,#cb7460 117.5px,#cb735f 126.5px,#d18370 129.5px,#e8cbc1 135.5px,#ead3cd 137.5px)"></div><div style="height:1px;background:linear-gradient(90deg,#ead4cd 0.5px,#e7c4b9 3.5px,#d38774 8.5px,#cb7460 11.5px,#cb735f 20.5px,#d1826f 23.5px,#e8c9bf 29.5px,#ebd5ce 32.5px,#ead2cc 36.5px,#e8c7bd 38.5px,#d0816e 44.5px,#cb725e 47.5px,#cc7561 56.5px,#d38977 59.5px,#e7c6bb 64.5px,#ead4ce 67.5px,#ead3cd 71.5px,#e8cac0 73.5px,#d18370 79.5px,#cb735f 82.5px,#cb7460 91.5px,#d28673 94.5px,#e9ccc3 100.5px,#ebd5cf 103.5px,#ead1ca 107.5px,#e7c3b8 109.5px,#d28673 114.5px,#cb7460 117.5px,#cb735f 126.5px,#d18370 129.5px,#e8cac0 135.5px,#ead3cc 137.5px)"></div><div style="height:1px;background:linear-gradient(90deg,#ead4ce 0.5px,#e7c4b9 3.5px,#d38774 8.5px,#cb7460 11.5px,#cb735f 20.5px,#d1826f 23.5px,#e8c9bf 29.5px,#ebd5cf 32.5px,#ead3cc 36.5px,#e8c7bd 38.5px,#d0806d 44.5px,#cb725e 47.5px,#cc7461 56.5px,#d38976 59.5px,#e7c6bb 64.5px,#ebd5cf 67.5px,#ead3cd 71.5px,#e6c0b3 74.5px,#d18370 79.5px,#cb735f 82.5px,#cb7460 91.5px,#d28673 94.5px,#e9ccc3 100.5px,#ebd6d0 103.5px,#ead1ca 107.5px,#e7c3b8 109.5px,#d28673 114.5px,#cb7460 117.5px,#cb735f 126.5px,#d18370 129.5px,#e8cac0 135.5px,#ead3cd 137.5px)"></div><div style="height:1px;background:linear-gradient(90deg,#ebd6d0 0.5px,#e7c5ba 3.5px,#d38774 8.5px,#cb7460 11.5px,#cb735f 20.5px,#d1826f 23.5px,#e8c9c0 29.5px,#ebd7d1 32.5px,#ead4cd 36.5px,#e8c8bd 38.5px,#d0806d 44.5px,#cb725e 47.5px,#cc7461 56.5px,#d38977 59.5px,#e8c7bc 64.5px,#ebd6d1 67.5px,#ebd5cf 71.5px,#e6c1b4 74.5px,#d18370 79.5px,#cb735f 82.5px,#cb7460 91.5px,#d28673 94.5px,#e9cdc4 100.5px,#ebd7d2 103.5px,#ead2cb 107.5px,#e7c4b8 109.5px,#d28673 114.5px,#cb7460 117.5px,#cb735f 126.5px,#d18370 129.5px,#e8cac1 135.5px,#ebd4ce 137.5px)"></div><div style="height:1px;background:linear-gradient(90deg,#ebd8d3 0.5px,#e7c6bb 3.5px,#d38774 8.5px,#cb7460 11.5px,#cb735f 20.5px,#d1826f 23.5px,#e8cbc2 29.5px,#ecdad5 32.5px,#ebd6d0 36.5px,#e6beb1 39.5px,#d0816e 44.5px,#cb725e 47.5px,#cc7461 56.5px,#d38977 59.5px,#e8c8be 64.5px,#ebd9d4 67.5px,#ebd7d2 71.5px,#e7c2b5 74.5px,#d18370 79.5px,#cb735f 82.5px,#cb7460 91.5px,#d28673 94.5px,#e9cec6 100.5px,#ecdad6 103.5px,#ebd8d3 106.5px,#e7c5ba 109.5px,#d28673 114.5px,#cb7460 117.5px,#cb735f 126.5px,#d18370 129.5px,#e9ccc3 135.5px,#ebd7d1 137.5px)"></div><div style="height:1px;background:linear-gradient(90deg,#ecdcd8 0.5px,#e8c8be 3.5px,#d38775 8.5px,#cb7460 11.5px,#cb735f 20.5px,#d18370 23.5px,#e9cdc4 29.5px,#eddedb 32.5px,#ecddda 35.5px,#e9cbc2 38.5px,#d48b78 43.5px,#cc7561 46.5px,#cb725e 55.5px,#d0806d 58.5px,#e2b1a1 62.5px,#ead3cc 65.5px,#eddfdc 68.5px,#ecdbd7 71.5px,#e7c3b8 74.5px,#d18371 79.5px,#cb735f 82.5px,#cb7460 91.5px,#d28674 94.5px,#ead0c9 100.5px,#eddfdc 103.5px,#ecdcd8 106.5px,#e8c7bc 109.5px,#d28674 114.5px,#cb7460 117.5px,#cb735f 126.5px,#d18371 129.5px,#e9cec6 135.5px,#ecdad6 137.5px)"></div><div style="height:1px;background:linear-gradient(90deg,#ede1df 0.5px,#e8cbc1 3.5px,#d38875 8.5px,#cb7460 11.5px,#cb735f 20.5px,#d18370 23.5px,#e4b6a6 27.5px,#ebd9d4 30.5px,#eee5e5 33.5px,#eddedb 36.5px,#e7c2b6 39.5px,#d48b79 43.5px,#cc7561 46.5px,#cb725e 55.5px,#d0806d 58.5px,#e3b2a2 62.5px,#ebd6d1 65.5px,#eee5e4 68.5px,#ede0dd 71.5px,#e7c6bb 74.5px,#d58f7d 78.5px,#cc7662 81.5px,#ca705c 89.5px,#cf7e6b 93.5px,#e1ae9e 97.5px,#ead4cd 100.5px,#eee4e3 103.5px,#ede1df 106.5px,#e8c9c0 109.5px,#d28774 114.5px,#cb7460 117.5px,#cb735f 126.5px,#d18471 129.5px,#e4b8a8 133.5px,#ecd9d5 136.5px,#eddfdc 137.5px)"></div><div style="height:1px;background:linear-gradient(90deg,#efe7e7 0.5px,#e9cec6 3.5px,#d89583 7.5px,#cd7865 10.5px,#ca705c 15.5px,#cc7662 21.5px,#d58e7c 24.5px,#ead4cd 29.5px,#efeaeb 32.5px,#efe9ea 35.5px,#ead2ca 38.5px,#d99987 42.5px,#ce7a66 45.5px,#ca705c 50.5px,#cc7561 56.5px,#d48b78 59.5px,#e7c3b8 63.5px,#eee3e1 66.5px,#f0edef 69.5px,#eddedb 72.5px,#e0ac9b 76.5px,#d28471 79.5px,#cb735f 82.5px,#cb7460 91.5px,#d38775 94.5px,#e6bfb2 98.5px,#ede1df 101.5px,#f0edef 104.5px,#ede1df 107.5px,#e6bfb2 110.5px,#d38775 114.5px,#cb7460 117.5px,#cb735f 126.5px,#d28471 129.5px,#e5baac 133.5px,#eddedb 136.5px,#eee5e4 137.5px)"></div><div style="height:1px;background:linear-gradient(90deg,#efedf0 0.5px,#eddedb 2.5px,#d89684 7.5px,#cd7865 10.5px,#ca705c 15.5px,#cc7662 21.5px,#d68f7d 24.5px,#e5bbad 27.5px,#eee3e2 30.5px,#f0eced 31.5px,#e9e8ee 34.5px,#efeaeb 36.5px,#e8c8be 39.5px,#da9a88 42.5px,#ce7a67 45.5px,#ca705c 49.5px,#cc7561 56.5px,#d48b79 59.5px,#e4b6a6 62.5px,#ede0de 65.5px,#edecef 67.5px,#ebeaef 70.5px,#f0edee 71.5px,#e9ccc4 74.5px,#db9e8d 77.5px,#ce7c69 80.5px,#ca705c 84.5px,#cb7460 91.5px,#d38875 94.5px,#e7c2b6 98.5px,#efe7e7 101.5px,#efedf0 102.5px,#eae9ef 105.5px,#efedf0 106.5px,#ead1c9 109.5px,#dda392 112.5px,#cf7e6b 115.5px,#ca705c 119.5px,#cb735f 126.5px,#d28572 129.5px,#e5bdaf 133.5px,#eee4e3 136.5px,#f0eced 137.5px)"></div><div style="height:1px;background:linear-gradient(90deg,#e7e6ee 0.5px,#efedf0 1.5px,#ebd6d1 3.5px,#dea695 6.5px,#d0806d 9.5px,#cb725e 12.5px,#cb735f 20.5px,#d28472 23.5px,#e1ae9d 26.5px,#efeaeb 30.5px,#dfdfec 33.5px,#eceaef 36.5px,#efe8e7 37.5px,#da9b8a 42.5px,#ce7a67 45.5px,#ca705c 49.5px,#cc7561 56.5px,#d48c7a 59.5px,#e5b9aa 62.5px,#eee6e6 65.5px,#edebef 66.5px,#dedfec 69.5px,#efebec 72.5px,#dca08f 77.5px,#cf7c69 80.5px,#ca705c 84.5px,#cb7460 91.5px,#d38976 94.5px,#e3b4a4 97.5px,#eee3e1 100.5px,#f0eef0 101.5px,#dedfec 104.5px,#f0eef0 107.5px,#e7c5ba 110.5px,#dda493 112.5px,#cf7f6c 115.5px,#cb725e 118.5px,#cb735f 126.5px,#d28573 129.5px,#e2af9f 132.5px,#efebec 136.5px,#eae9ef 137.5px)"></div><div style="height:1px;background:linear-gradient(90deg,#dddeeb 0.5px,#efeaeb 2.5px,#dfa897 6.5px,#d0806d 9.5px,#cb725e 12.5px,#cb735f 20.5px,#d28572 23.5px,#e2b0a0 26.5px,#eee3e2 29.5px,#edebef 30.5px,#d4d6e9 33.5px,#dadbeb 35.5px,#efeef0 37.5px,#db9d8b 42.5px,#ce7b67 45.5px,#ca705c 49.5px,#cc7561 56.5px,#d58d7b 59.5px,#e5bcae 62.5px,#f0edef 65.5px,#d5d7e9 68.5px,#d8d9ea 70.5px,#ebeaef 72.5px,#eee5e4 73.5px,#dca190 77.5px,#cf7d6a 80.5px,#ca705c 84.5px,#cb7460 91.5px,#d38a77 94.5px,#e4b6a7 97.5px,#efe9e9 100.5px,#dddeeb 102.5px,#d4d6e9 104.5px,#dddeeb 106.5px,#efe9e9 108.5px,#dea695 112.5px,#d07f6c 115.5px,#cb725e 118.5px,#cb735f 126.5px,#d28673 129.5px,#e2b2a1 132.5px,#eee5e4 135.5px,#ebeaef 136.5px,#e1e1ec 137.5px)"></div><div style="height:1px;background:linear-gradient(90deg,#d4d6e9 0.5px,#ecebef 2.5px,#ede1df 3.5px,#dfaa99 6.5px,#d0816e 9.5px,#cb725e 12.5px,#cb735f 20.5px,#d28673 23.5px,#e3b2a2 26.5px,#efe9ea 29.5px,#ced1e8 32.5px,#cacee7 34.5px,#dadbeb 36.5px,#e8e7ee 37.5px,#eee6e6 38.5px,#e1af9e 41.5px,#d18471 44.5px,#cb725e 47.5px,#cb725e 55.5px,#d18370 58.5px,#e1ad9d 61.5px,#eee4e3 64.5px,#e9e8ee 65.5px,#d1d3e8 67.5px,#cacde7 69.5px,#d7d8ea 71.5px,#efebec 73.5px,#e3b4a4 76.5px,#d28774 79.5px,#cb735f 82.5px,#cb7460 91.5px,#d48a78 94.5px,#e5baab 97.5px,#eddfdd 99.5px,#eeecf0 100.5px,#cccfe7 103.5px,#cccfe7 105.5px,#eeecf0 108.5px,#e9cdc5 110.5px,#dfa897 112.5px,#d0806d 115.5px,#cb725e 118.5px,#cb735f 126.5px,#d28774 129.5px,#e3b4a4 132.5px,#efebec 135.5px,#d8d9ea 137.5px)"></div><div style="height:1px;background:linear-gradient(90deg,#cacde7 0.5px,#e5e4ed 2.5px,#eee7e7 3.5px,#e0ac9b 6.5px,#d0816e 9.5px,#cb725e 12.5px,#cb735f 20.5px,#d28774 23.5px,#e4b5a5 26.5px,#eeecef 29.5px,#c5c9e6 32.5px,#c0c5e5 34.5px,#d1d3e9 36.5px,#f0ecee 38.5px,#e2b1a1 41.5px,#d28471 44.5px,#cb725f 47.5px,#cb725e 55.5px,#d18370 58.5px,#e2af9f 61.5px,#efebeb 64.5px,#c7cbe6 67.5px,#c0c4e4 69.5px,#cdd0e8 71.5px,#ecebef 73.5px,#eddfdd 74.5px,#e4b7a7 76.5px,#d38875 79.5px,#cb735f 82.5px,#cc7460 91.5px,#d48b79 94.5px,#e5bdaf 97.5px,#eee5e4 99.5px,#e7e6ee 100.5px,#cacde7 102.5px,#bfc4e4 104.5px,#cacde7 106.5px,#e7e6ee 108.5px,#eee5e4 109.5px,#e0aa9a 112.5px,#d0806d 115.5px,#cb725e 118.5px,#cb735f 126.5px,#d38875 129.5px,#e4b7a7 132.5px,#eddfdd 134.5px,#ecebef 135.5px,#cfd1e8 137.5px)"></div><div style="height:1px;background:linear-gradient(90deg,#c1c6e5 0.5px,#dedeec 2.5px,#f0edee 3.5px,#e1ae9e 6.5px,#d1826f 9.5px,#cb725e 12.5px,#cb735f 20.5px,#d38775 23.5px,#e4b7a8 26.5px,#eee3e1 28.5px,#e7e6ee 29.5px,#c6cae6 31.5px,#b7bde2 33.5px,#bdc2e4 35.5px,#d8d9ea 37.5px,#ebeaef 38.5px,#eddedb 39.5px,#e3b4a3 41.5px,#d28572 44.5px,#cb725f 47.5px,#cb725e 55.5px,#d18471 58.5px,#e2b2a1 61.5px,#edecef 64.5px,#cacde7 66.5px,#b8bde2 68.5px,#bbc0e3 70.5px,#d3d5e9 72.5px,#e5e5ed 73.5px,#eee5e4 74.5px,#e5baab 76.5px,#d38976 79.5px,#cb735f 82.5px,#cc7460 91.5px,#d58c7a 94.5px,#e0ac9c 96.5px,#efebec 99.5px,#c1c5e5 102.5px,#b6bce2 104.5px,#c1c5e5 106.5px,#efebec 109.5px,#e0ac9c 112.5px,#d0816e 115.5px,#cb725e 118.5px,#cb735f 126.5px,#d38976 129.5px,#e5baab 132.5px,#eee5e4 134.5px,#e5e5ed 135.5px,#c6cae6 137.5px)"></div><div style="height:1px;background:linear-gradient(90deg,#b9bfe3 0.5px,#d6d8ea 2.5px,#ebeaef 3.5px,#ecddd9 4.5px,#e2b0a0 6.5px,#d18270 9.5px,#cb725e 12.5px,#cb735f 20.5px,#d38876 23.5px,#e5baac 26.5px,#efe8e8 28.5px,#e1e1ec 29.5px,#bec3e4 31.5px,#b0b7df 33.5px,#b5bbe2 35.5px,#d1d3e8 37.5px,#e5e4ed 38.5px,#eee3e2 39.5px,#e4b6a6 41.5px,#d28673 44.5px,#cb735f 47.5px,#cb725e 55.5px,#d28572 58.5px,#e3b4a4 61.5px,#ede1df 63.5px,#e7e6ee 64.5px,#c2c6e5 66.5px,#b1b7e0 68.5px,#b3bae1 70.5px,#cbcee7 72.5px,#efeaeb 74.5px,#e5bdaf 76.5px,#d38977 79.5px,#cb7360 82.5px,#cb725e 90.5px,#d0816e 93.5px,#e1ae9e 96.5px,#eeecef 99.5px,#c6cae6 101.5px,#b2b8e0 103.5px,#b2b8e0 105.5px,#c6cae6 107.5px,#eeecef 109.5px,#e1ae9e 112.5px,#d0816e 115.5px,#cb725e 118.5px,#cb7360 126.5px,#d38977 129.5px,#e5bdaf 132.5px,#efeaeb 134.5px,#bec3e4 137.5px)"></div><div style="height:1px;background:linear-gradient(90deg,#b3b9e1 0.5px,#d0d2e8 2.5px,#e6e5ee 3.5px,#ede1df 4.5px,#e3b2a2 6.5px,#d18370 9.5px,#cb725e 12.5px,#cb735f 20.5px,#d38976 23.5px,#dfa998 25.5px,#ebd5cf 27.5px,#f0edee 28.5px,#b7bde2 31.5px,#abb2dd 33.5px,#b0b6df 35.5px,#cacde7 37.5px,#dfdfec 38.5px,#efe8e8 39.5px,#e5b9a9 41.5px,#d28674 44.5px,#cb735f 47.5px,#cb725f 55.5px,#d28573 58.5px,#e4b6a6 61.5px,#eee6e5 63.5px,#e1e1ec 64.5px,#bbc0e3 66.5px,#abb2dd 68.5px,#aeb5de 70.5px,#c4c8e5 72.5px,#efedf0 74.5px,#e0ab9a 77.5px,#d07f6c 80.5px,#ca715d 83.5px,#cc7461 91.5px,#d58e7c 94.5px,#e2b0a0 96.5px,#eddfdc 98.5px,#e8e7ee 99.5px,#bfc4e4 101.5px,#acb3de 103.5px,#acb3de 105.5px,#bfc4e4 107.5px,#e8e7ee 109.5px,#eddfdc 110.5px,#e2b0a0 112.5px,#d1826f 115.5px,#cb725e 118.5px,#cb7360 126.5px,#d48a78 129.5px,#e0ab9a 131.5px,#efedf0 134.5px,#c4c8e5 136.5px,#b7bde2 137.5px)"></div><div style="height:1px;background:linear-gradient(90deg,#aeb5de 0.5px,#b8bde2 1.5px,#e1e1ec 3.5px,#eee5e4 4.5px,#e3b4a4 6.5px,#d18471 9.5px,#cb725e 12.5px,#cb735f 20.5px,#d48a77 23.5px,#e0ab9a 25.5px,#edebef 28.5px,#c0c5e4 30.5px,#aab1dc 32.5px,#abb2dd 35.5px,#c4c8e5 37.5px,#f0ecee 39.5px,#e5bbad 41.5px,#d89583 43.5px,#cf7d6a 45.5px,#ca715d 48.5px,#cb725f 55.5px,#d28673 58.5px,#e5b9aa 61.5px,#efeaeb 63.5px,#b5bbe2 66.5px,#a7aedb 68.5px,#a9b0dc 70.5px,#bec3e4 72.5px,#eae9ef 74.5px,#ecdbd7 75.5px,#e0ac9c 77.5px,#d0806c 80.5px,#ca715d 83.5px,#cc7561 91.5px,#d68f7d 94.5px,#e3b2a2 96.5px,#eee3e1 98.5px,#e3e3ed 99.5px,#b9bfe3 101.5px,#a8afdc 103.5px,#aeb5de 106.5px,#cccfe7 108.5px,#e3e3ed 109.5px,#eee3e1 110.5px,#e3b2a2 112.5px,#d18370 115.5px,#cb725e 118.5px,#cb7460 126.5px,#d48b79 129.5px,#e0ac9c 131.5px,#ecdbd7 133.5px,#eae9ef 134.5px,#bec3e4 136.5px,#b2b8e0 137.5px)"></div><div style="height:1px;background:linear-gradient(90deg,#aab1dd 0.5px,#b3bae1 1.5px,#dcddeb 3.5px,#efe9e9 4.5px,#e4b6a6 6.5px,#d18471 9.5px,#cb725e 12.5px,#cb7360 20.5px,#d48a78 23.5px,#e0ac9b 25.5px,#ecdcd8 27.5px,#e9e8ee 28.5px,#bbc0e3 30.5px,#a6aedb 32.5px,#a8afdb 35.5px,#bfc4e4 37.5px,#eeecef 39.5px,#e6bdb0 41.5px,#d89684 43.5px,#cf7d6a 45.5px,#ca715d 48.5px,#cb725f 55.5px,#d28774 58.5px,#dea695 60.5px,#e5bbad 61.5px,#f0eeef 63.5px,#c1c5e5 65.5px,#a8afdc 67.5px,#a6addb 70.5px,#b9bfe3 72.5px,#e6e5ee 74.5px,#eddedb 75.5px,#e1ae9e 77.5px,#d0806d 80.5px,#ca715d 83.5px,#cc7561 91.5px,#d18370 93.5px,#e3b4a4 96.5px,#eee6e5 98.5px,#dfdfec 99.5px,#b5bbe1 101.5px,#a5acda 103.5px,#aab1dd 106.5px,#b5bbe1 107.5px,#dfdfec 109.5px,#eee6e5 110.5px,#e3b4a4 112.5px,#d18370 115.5px,#cb725e 118.5px,#cb7460 126.5px,#d48c79 129.5px,#e1ae9e 131.5px,#eddedb 133.5px,#e6e5ee 134.5px,#b9bfe3 136.5px,#aeb5de 137.5px)"></div><div style="height:1px;background:linear-gradient(90deg,#a8afdb 0.5px,#b0b7df 1.5px,#d8daea 3.5px,#efeced 4.5px,#e4b8a8 6.5px,#d28572 9.5px,#cb725e 12.5px,#cb7360 20.5px,#d48b78 23.5px,#e1ad9d 25.5px,#eddedb 27.5px,#e5e5ed 28.5px,#b7bde2 30.5px,#a4acda 32.5px,#a5acda 35.5px,#bbc0e3 37.5px,#ebe9ef 39.5px,#ecd9d5 40.5px,#e6bfb2 41.5px,#d99785 43.5px,#cf7e6a 45.5px,#ca715d 48.5px,#cb735f 55.5px,#d38774 58.5px,#dfa797 60.5px,#e5bdaf 61.5px,#edecef 63.5px,#bdc2e4 65.5px,#a6adda 67.5px,#a4abda 70.5px,#b6bce2 72.5px,#e3e2ed 74.5px,#ede1df 75.5px,#e2af9f 77.5px,#d0806d 80.5px,#cb715d 83.5px,#cc7561 91.5px,#d18371 93.5px,#e4b5a5 96.5px,#efe9e9 98.5px,#c3c7e5 100.5px,#a8afdb 102.5px,#a2aad9 105.5px,#b1b8e0 107.5px,#dbdceb 109.5px,#efe9e9 110.5px,#e4b5a5 112.5px,#d18371 115.5px,#cb725e 118.5px,#cb7460 126.5px,#d0806d 128.5px,#e2af9f 131.5px,#ede1df 133.5px,#e3e2ed 134.5px,#b6bce2 136.5px,#abb2dd 137.5px)"></div><div style="height:1px;background:linear-gradient(90deg,#a6adda 0.5px,#bec3e4 2.5px,#f0eef0 4.5px,#e5b9aa 6.5px,#d79381 8.5px,#ce7b68 10.5px,#ca705c 14.5px,#cb7360 20.5px,#d0806d 22.5px,#e1ae9e 25.5px,#ede1de 27.5px,#e3e2ed 28.5px,#b5bbe1 30.5px,#a2aad9 32.5px,#a3abd9 35.5px,#b8bee2 37.5px,#e8e7ee 39.5px,#ecdbd7 40.5px,#e6c1b4 41.5px,#d99886 43.5px,#cf7e6b 45.5px,#ca715d 48.5px,#cb735f 55.5px,#d38775 58.5px,#dfa898 60.5px,#e6beb1 61.5px,#ebd9d4 62.5px,#ebe9ef 63.5px,#babfe3 65.5px,#a4abda 67.5px,#a2aad9 70.5px,#b3b9e1 72.5px,#e0e0ec 74.5px,#eee3e2 75.5px,#e2b0a0 77.5px,#d0816e 80.5px,#cb715d 83.5px,#cc7561 91.5px,#d18471 93.5px,#e4b7a7 96.5px,#efebec 98.5px,#c0c5e4 100.5px,#a6adda 102.5px,#a1a9d8 105.5px,#afb6df 107.5px,#d8d9ea 109.5px,#efebec 110.5px,#e4b7a7 112.5px,#d18471 115.5px,#cb725e 118.5px,#cb7460 126.5px,#d0816e 128.5px,#e2b0a0 131.5px,#eee3e2 133.5px,#e0e0ec 134.5px,#b3b9e1 136.5px,#a9b0dc 137.5px)"></div><div style="height:1px;background:linear-gradient(90deg,#a4acda 0.5px,#bcc1e3 2.5px,#efedf0 4.5px,#e5baab 6.5px,#d79381 8.5px,#ce7b68 10.5px,#ca705c 14.5px,#cb7360 20.5px,#d0806d 22.5px,#da9c8a 24.5px,#e1af9f 25.5px,#ede2e0 27.5px,#e1e1ec 28.5px,#b3b9e1 30.5px,#a1a9d9 32.5px,#a2aad9 35.5px,#b6bce2 37.5px,#e6e6ee 39.5px,#ecddd9 40.5px,#e0ab9a 42.5px,#d38976 44.5px,#cb735f 47.5px,#cb735f 55.5px,#d38875 58.5px,#dfa998 60.5px,#e6bfb2 61.5px,#ecdad5 62.5px,#e9e8ee 63.5px,#b8bee2 65.5px,#a3aad9 67.5px,#a1a9d8 70.5px,#b2b8e0 72.5px,#dedfec 74.5px,#eee5e4 75.5px,#e2b1a1 77.5px,#d0816e 80.5px,#cb715d 83.5px,#cc7561 91.5px,#d18471 93.5px,#e4b8a8 96.5px,#f0edee 98.5px,#bec3e4 100.5px,#a4acda 102.5px,#a0a8d8 105.5px,#aeb4de 107.5px,#d6d8ea 109.5px,#f0edee 110.5px,#e4b8a8 112.5px,#d18471 115.5px,#cb725e 118.5px,#cb7460 126.5px,#d0816e 128.5px,#e2b1a1 131.5px,#eee5e4 133.5px,#dedfec 134.5px,#b2b8e0 136.5px,#a7afdb 137.5px)"></div><div style="height:2px;background:linear-gradient(90deg,#a4abda 0.5px,#bbc0e3 2.5px,#eeecef 4.5px,#e5bbac 6.5px,#d79381 8.5px,#ce7b68 10.5px,#ca705c 14.5px,#cb7360 20.5px,#d0806d 22.5px,#da9c8a 24.5px,#e2af9f 25.5px,#eee3e1 27.5px,#e0e0ec 28.5px,#b2b9e0 30.5px,#a1a9d8 32.5px,#a2a9d9 35.5px,#b5bbe2 37.5px,#e5e5ed 39.5px,#ecddda 40.5px,#e0ab9b 42.5px,#d38977 44.5px,#cb735f 47.5px,#cb735f 55.5px,#d38875 58.5px,#dfa998 60.5px,#e6c0b3 61.5px,#ecdbd6 62.5px,#e8e7ee 63.5px,#b7bde2 65.5px,#a2aad9 67.5px,#a1a8d8 70.5px,#b1b7e0 72.5px,#dddeeb 74.5px,#eee5e5 75.5px,#e2b1a1 77.5px,#d0816e 80.5px,#cb715d 83.5px,#cc7561 91.5px,#d18471 93.5px,#e4b8a9 96.5px,#f0eeef 98.5px,#bdc2e4 100.5px,#a4abda 102.5px,#a0a8d8 105.5px,#adb4de 107.5px,#d5d7ea 109.5px,#f0eeef 110.5px,#e4b8a9 112.5px,#d18471 115.5px,#cb725e 118.5px,#cb7460 126.5px,#d0816e 128.5px,#e2b1a1 131.5px,#eee5e5 133.5px,#dddeeb 134.5px,#b1b7e0 136.5px,#a7aedb 137.5px)"></div><div style="height:1px;background:linear-gradient(90deg,#a4acda 0.5px,#bcc1e3 2.5px,#efedf0 4.5px,#e5baab 6.5px,#d79381 8.5px,#ce7b68 10.5px,#ca705c 14.5px,#cb7360 20.5px,#d0806d 22.5px,#da9c8a 24.5px,#e1af9f 25.5px,#ede2e0 27.5px,#e1e1ec 28.5px,#b3b9e1 30.5px,#a1a9d9 32.5px,#a2aad9 35.5px,#b6bce2 37.5px,#e6e6ee 39.5px,#ecddd9 40.5px,#e0ab9a 42.5px,#d38976 44.5px,#cb735f 47.5px,#cb735f 55.5px,#d38875 58.5px,#dfa998 60.5px,#e6bfb2 61.5px,#ecdad5 62.5px,#e9e8ee 63.5px,#b8bee2 65.5px,#a3aad9 67.5px,#a1a9d8 70.5px,#b2b8e0 72.5px,#dedfec 74.5px,#eee5e4 75.5px,#e2b1a1 77.5px,#d0816e 80.5px,#cb715d 83.5px,#cc7561 91.5px,#d18471 93.5px,#e4b8a8 96.5px,#f0edee 98.5px,#bec3e4 100.5px,#a4acda 102.5px,#a0a8d8 105.5px,#aeb4de 107.5px,#d6d8ea 109.5px,#f0edee 110.5px,#e4b8a8 112.5px,#d18471 115.5px,#cb725e 118.5px,#cb7460 126.5px,#d0816e 128.5px,#e2b1a1 131.5px,#eee5e4 133.5px,#dedfec 134.5px,#b2b8e0 136.5px,#a7afdb 137.5px)"></div><div style="height:1px;background:linear-gradient(90deg,#a6adda 0.5px,#bec3e4 2.5px,#f0eef0 4.5px,#e5b9aa 6.5px,#d79381 8.5px,#ce7b68 10.5px,#ca705c 14.5px,#cb7360 20.5px,#d0806d 22.5px,#e1ae9e 25.5px,#ede1de 27.5px,#e3e2ed 28.5px,#b5bbe1 30.5px,#a2aad9 32.5px,#a3abd9 35.5px,#b8bee2 37.5px,#e8e7ee 39.5px,#ecdbd7 40.5px,#e6c1b4 41.5px,#d99886 43.5px,#cf7e6b 45.5px,#ca715d 48.5px,#cb735f 55.5px,#d38775 58.5px,#dfa898 60.5px,#e6beb1 61.5px,#ebd9d4 62.5px,#ebe9ef 63.5px,#babfe3 65.5px,#a4abda 67.5px,#a2aad9 70.5px,#b3b9e1 72.5px,#e0e0ec 74.5px,#eee3e2 75.5px,#e2b0a0 77.5px,#d0816e 80.5px,#cb715d 83.5px,#cc7561 91.5px,#d18471 93.5px,#e4b7a7 96.5px,#efebec 98.5px,#c0c5e4 100.5px,#a6adda 102.5px,#a1a9d8 105.5px,#afb6df 107.5px,#d8d9ea 109.5px,#efebec 110.5px,#e4b7a7 112.5px,#d18471 115.5px,#cb725e 118.5px,#cb7460 126.5px,#d0816e 128.5px,#e2b0a0 131.5px,#eee3e2 133.5px,#e0e0ec 134.5px,#b3b9e1 136.5px,#a9b0dc 137.5px)"></div><div style="height:1px;background:linear-gradient(90deg,#a8afdb 0.5px,#b0b7df 1.5px,#d8daea 3.5px,#efeced 4.5px,#e4b8a8 6.5px,#d28572 9.5px,#cb725e 12.5px,#cb7360 20.5px,#d48b78 23.5px,#e1ad9d 25.5px,#eddedb 27.5px,#e5e5ed 28.5px,#b7bde2 30.5px,#a4acda 32.5px,#a5acda 35.5px,#bbc0e3 37.5px,#ebe9ef 39.5px,#ecd9d5 40.5px,#e6bfb2 41.5px,#d99785 43.5px,#cf7e6a 45.5px,#ca715d 48.5px,#cb735f 55.5px,#d38774 58.5px,#dfa797 60.5px,#e5bdaf 61.5px,#edecef 63.5px,#bdc2e4 65.5px,#a6adda 67.5px,#a4abda 70.5px,#b6bce2 72.5px,#e3e2ed 74.5px,#ede1df 75.5px,#e2af9f 77.5px,#d0806d 80.5px,#cb715d 83.5px,#cc7561 91.5px,#d18371 93.5px,#e4b5a5 96.5px,#efe9e9 98.5px,#c3c7e5 100.5px,#a8afdb 102.5px,#a2aad9 105.5px,#b1b8e0 107.5px,#dbdceb 109.5px,#efe9e9 110.5px,#e4b5a5 112.5px,#d18371 115.5px,#cb725e 118.5px,#cb7460 126.5px,#d0806d 128.5px,#e2af9f 131.5px,#ede1df 133.5px,#e3e2ed 134.5px,#b6bce2 136.5px,#abb2dd 137.5px)"></div><div style="height:1px;background:linear-gradient(90deg,#aab1dd 0.5px,#b3bae1 1.5px,#dcddeb 3.5px,#efe9e9 4.5px,#e4b6a6 6.5px,#d18471 9.5px,#cb725e 12.5px,#cb7360 20.5px,#d48a78 23.5px,#e0ac9b 25.5px,#ecdcd8 27.5px,#e9e8ee 28.5px,#bbc0e3 30.5px,#a6aedb 32.5px,#a8afdb 35.5px,#bfc4e4 37.5px,#eeecef 39.5px,#e6bdb0 41.5px,#d89684 43.5px,#cf7d6a 45.5px,#ca715d 48.5px,#cb725f 55.5px,#d28774 58.5px,#dea695 60.5px,#e5bbad 61.5px,#f0eeef 63.5px,#c1c5e5 65.5px,#a8afdc 67.5px,#a6addb 70.5px,#b9bfe3 72.5px,#e6e5ee 74.5px,#eddedb 75.5px,#e1ae9e 77.5px,#d0806d 80.5px,#ca715d 83.5px,#cc7561 91.5px,#d18370 93.5px,#e3b4a4 96.5px,#eee6e5 98.5px,#dfdfec 99.5px,#b5bbe1 101.5px,#a5acda 103.5px,#aab1dd 106.5px,#b5bbe1 107.5px,#dfdfec 109.5px,#eee6e5 110.5px,#e3b4a4 112.5px,#d18370 115.5px,#cb725e 118.5px,#cb7460 126.5px,#d48c79 129.5px,#e1ae9e 131.5px,#eddedb 133.5px,#e6e5ee 134.5px,#b9bfe3 136.5px,#aeb5de 137.5px)"></div><div style="height:1px;background:linear-gradient(90deg,#aeb5de 0.5px,#b8bde2 1.5px,#e1e1ec 3.5px,#eee5e4 4.5px,#e3b4a4 6.5px,#d18471 9.5px,#cb725e 12.5px,#cb735f 20.5px,#d48a77 23.5px,#e0ab9a 25.5px,#edebef 28.5px,#c0c5e4 30.5px,#aab1dc 32.5px,#abb2dd 35.5px,#c4c8e5 37.5px,#f0ecee 39.5px,#e5bbad 41.5px,#d89583 43.5px,#cf7d6a 45.5px,#ca715d 48.5px,#cb725f 55.5px,#d28673 58.5px,#e5b9aa 61.5px,#efeaeb 63.5px,#b5bbe2 66.5px,#a7aedb 68.5px,#a9b0dc 70.5px,#bec3e4 72.5px,#eae9ef 74.5px,#ecdbd7 75.5px,#e0ac9c 77.5px,#d0806c 80.5px,#ca715d 83.5px,#cc7561 91.5px,#d68f7d 94.5px,#e3b2a2 96.5px,#eee3e1 98.5px,#e3e3ed 99.5px,#b9bfe3 101.5px,#a8afdc 103.5px,#aeb5de 106.5px,#cccfe7 108.5px,#e3e3ed 109.5px,#eee3e1 110.5px,#e3b2a2 112.5px,#d18370 115.5px,#cb725e 118.5px,#cb7460 126.5px,#d48b79 129.5px,#e0ac9c 131.5px,#ecdbd7 133.5px,#eae9ef 134.5px,#bec3e4 136.5px,#b2b8e0 137.5px)"></div><div style="height:1px;background:linear-gradient(90deg,#b3b9e1 0.5px,#d0d2e8 2.5px,#e6e5ee 3.5px,#ede1df 4.5px,#e3b2a2 6.5px,#d18370 9.5px,#cb725e 12.5px,#cb735f 20.5px,#d38976 23.5px,#dfa998 25.5px,#ebd5cf 27.5px,#f0edee 28.5px,#b7bde2 31.5px,#abb2dd 33.5px,#b0b6df 35.5px,#cacde7 37.5px,#dfdfec 38.5px,#efe8e8 39.5px,#e5b9a9 41.5px,#d28674 44.5px,#cb735f 47.5px,#cb725f 55.5px,#d28573 58.5px,#e4b6a6 61.5px,#eee6e5 63.5px,#e1e1ec 64.5px,#bbc0e3 66.5px,#abb2dd 68.5px,#aeb5de 70.5px,#c4c8e5 72.5px,#efedf0 74.5px,#e0ab9a 77.5px,#d07f6c 80.5px,#ca715d 83.5px,#cc7461 91.5px,#d58e7c 94.5px,#e2b0a0 96.5px,#eddfdc 98.5px,#e8e7ee 99.5px,#bfc4e4 101.5px,#acb3de 103.5px,#acb3de 105.5px,#bfc4e4 107.5px,#e8e7ee 109.5px,#eddfdc 110.5px,#e2b0a0 112.5px,#d1826f 115.5px,#cb725e 118.5px,#cb7360 126.5px,#d48a78 129.5px,#e0ab9a 131.5px,#efedf0 134.5px,#c4c8e5 136.5px,#b7bde2 137.5px)"></div><div style="height:1px;background:linear-gradient(90deg,#b9bfe3 0.5px,#d6d8ea 2.5px,#ebeaef 3.5px,#ecddd9 4.5px,#e2b0a0 6.5px,#d18270 9.5px,#cb725e 12.5px,#cb735f 20.5px,#d38876 23.5px,#e5baac 26.5px,#efe8e8 28.5px,#e1e1ec 29.5px,#bec3e4 31.5px,#b0b7df 33.5px,#b5bbe2 35.5px,#d1d3e8 37.5px,#e5e4ed 38.5px,#eee3e2 39.5px,#e4b6a6 41.5px,#d28673 44.5px,#cb735f 47.5px,#cb725e 55.5px,#d28572 58.5px,#e3b4a4 61.5px,#ede1df 63.5px,#e7e6ee 64.5px,#c2c6e5 66.5px,#b1b7e0 68.5px,#b3bae1 70.5px,#cbcee7 72.5px,#efeaeb 74.5px,#e5bdaf 76.5px,#d99886 78.5px,#cd7864 81.5px,#ca705c 87.5px,#cc7461 91.5px,#d58d7b 94.5px,#e1ae9e 96.5px,#eeecef 99.5px,#c6cae6 101.5px,#b2b8e0 103.5px,#b2b8e0 105.5px,#c6cae6 107.5px,#eeecef 109.5px,#e1ae9e 112.5px,#d0816e 115.5px,#cb725e 118.5px,#cb7360 126.5px,#d38977 129.5px,#dfa998 131.5px,#ead4cd 133.5px,#efeaeb 134.5px,#bec3e4 137.5px)"></div><div style="height:1px;background:linear-gradient(90deg,#c1c6e5 0.5px,#dedeec 2.5px,#f0edee 3.5px,#e1ae9e 6.5px,#d1826f 9.5px,#cb725e 12.5px,#cb735f 20.5px,#d38775 23.5px,#e4b7a8 26.5px,#eee3e1 28.5px,#e7e6ee 29.5px,#c6cae6 31.5px,#b7bde2 33.5px,#bdc2e4 35.5px,#d8d9ea 37.5px,#ebeaef 38.5px,#eddedb 39.5px,#e3b4a3 41.5px,#d28572 44.5px,#cb735f 47.5px,#cb725f 55.5px,#d18471 58.5px,#e2b2a2 61.5px,#edecef 64.5px,#cacde7 66.5px,#b8bde2 68.5px,#bbc0e3 70.5px,#d3d5e9 72.5px,#e5e5ed 73.5px,#eee5e4 74.5px,#e5baab 76.5px,#d38976 79.5px,#cb7360 82.5px,#cc7461 91.5px,#d58c7a 94.5px,#e0ac9c 96.5px,#efebec 99.5px,#c1c6e5 102.5px,#b6bce2 104.5px,#c1c6e5 106.5px,#efebec 109.5px,#e0ac9c 112.5px,#d0816e 115.5px,#cb725e 118.5px,#cb7360 126.5px,#d38976 129.5px,#e5baab 132.5px,#eee5e4 134.5px,#e5e5ed 135.5px,#c6cae6 137.5px)"></div><div style="height:1px;background:linear-gradient(90deg,#cacde7 0.5px,#e5e5ed 2.5px,#eee7e7 3.5px,#e0ac9c 6.5px,#d1826f 9.5px,#cb735f 12.5px,#cb7460 20.5px,#d38775 23.5px,#e4b5a5 26.5px,#eeecf0 29.5px,#c5c9e6 32.5px,#c0c5e5 34.5px,#d1d3e9 36.5px,#f0ecee 38.5px,#e2b1a1 41.5px,#d28572 44.5px,#cb7360 47.5px,#cb735f 55.5px,#d18471 58.5px,#e2b09f 61.5px,#efebeb 64.5px,#c7cbe6 67.5px,#c0c4e4 69.5px,#cdd0e8 71.5px,#ecebef 73.5px,#eddfdd 74.5px,#e4b7a7 76.5px,#d38876 79.5px,#cc7460 82.5px,#cc7561 91.5px,#d48c7a 94.5px,#e6bdaf 97.5px,#eee5e4 99.5px,#e7e6ee 100.5px,#cacde7 102.5px,#bfc4e4 104.5px,#cacde7 106.5px,#e7e6ee 108.5px,#eee5e4 109.5px,#e0ab9a 112.5px,#d0816e 115.5px,#cb735f 118.5px,#cc7460 126.5px,#d38876 129.5px,#e4b7a7 132.5px,#eddfdd 134.5px,#ecebef 135.5px,#cfd2e8 137.5px)"></div><div style="height:1px;background:linear-gradient(90deg,#d4d6e9 0.5px,#edebef 2.5px,#e9cfc7 4.5px,#e0ab9a 6.5px,#d18370 9.5px,#cc7460 12.5px,#cc7561 20.5px,#d38775 23.5px,#e3b3a3 26.5px,#efe9ea 29.5px,#d8d9ea 31.5px,#cacde7 33.5px,#d0d2e8 35.5px,#e8e7ee 37.5px,#eee6e6 38.5px,#e2b09f 41.5px,#d28573 44.5px,#cc7561 47.5px,#cc7461 55.5px,#d28472 58.5px,#e1ae9d 61.5px,#eee4e3 64.5px,#e9e8ee 65.5px,#d1d3e8 67.5px,#cacde7 69.5px,#d7d8ea 71.5px,#efebec 73.5px,#e3b4a4 76.5px,#d38976 79.5px,#cc7562 82.5px,#cc7663 91.5px,#d48c7a 94.5px,#e5baab 97.5px,#eeecf0 100.5px,#cccfe7 103.5px,#cccfe7 105.5px,#eeecf0 108.5px,#dfa998 112.5px,#d1826f 115.5px,#cb7460 118.5px,#cc7562 126.5px,#d38976 129.5px,#e3b4a4 132.5px,#efebec 135.5px,#d8d9ea 137.5px)"></div><div style="height:1px;background:linear-gradient(90deg,#dedeec 0.5px,#efeaeb 2.5px,#dfa999 6.5px,#d18471 9.5px,#cc7662 12.5px,#cd7763 20.5px,#d38876 23.5px,#e2b1a1 26.5px,#eee3e2 29.5px,#edebef 30.5px,#d4d6e9 33.5px,#dadbeb 35.5px,#f0eef0 37.5px,#db9f8e 42.5px,#cf7e6b 45.5px,#cc7461 49.5px,#cd7965 56.5px,#d6907e 59.5px,#e5bdaf 62.5px,#f0edef 65.5px,#d5d7ea 68.5px,#d8d9ea 70.5px,#eceaef 72.5px,#eee4e3 73.5px,#e3b3a2 76.5px,#d38977 79.5px,#cd7764 82.5px,#cd7864 91.5px,#d58c7a 94.5px,#e4b7a8 97.5px,#efe9e9 100.5px,#dddeec 102.5px,#d4d6e9 104.5px,#dddeec 106.5px,#efe9e9 108.5px,#dfa897 112.5px,#d18370 115.5px,#cc7662 118.5px,#cd7764 126.5px,#d38977 129.5px,#e3b3a2 132.5px,#eee4e3 135.5px,#eceaef 136.5px,#e2e2ed 137.5px)"></div><div style="height:1px;background:linear-gradient(90deg,#e7e6ee 0.5px,#efedf0 1.5px,#e8c7bd 4.5px,#dfa898 6.5px,#d28572 9.5px,#cd7764 13.5px,#cf7c69 21.5px,#d79482 24.5px,#e6bfb2 27.5px,#efe9ea 30.5px,#e3e3ed 32.5px,#e0e0ec 34.5px,#ecebef 36.5px,#efe7e7 37.5px,#db9e8d 42.5px,#d0806d 45.5px,#cc7763 50.5px,#ce7b68 56.5px,#d6917e 59.5px,#e5baac 62.5px,#eee6e5 65.5px,#edecef 66.5px,#dfdfec 69.5px,#efeaeb 72.5px,#dda392 77.5px,#d1826f 80.5px,#cd7763 84.5px,#ce7a67 91.5px,#d58d7b 94.5px,#e4b5a5 97.5px,#ede2e0 100.5px,#f0eef0 101.5px,#dfdfec 104.5px,#f0eef0 107.5px,#e7c6bb 110.5px,#dea796 112.5px,#d28471 115.5px,#cd7764 119.5px,#cf7d69 127.5px,#d89583 130.5px,#e6c1b4 133.5px,#efeaeb 136.5px,#ebe9ef 137.5px)"></div><div style="height:1px;background:linear-gradient(90deg,#f0eef0 0.5px,#ead2ca 3.5px,#dfa897 6.5px,#d28774 9.5px,#ce7a66 13.5px,#cf7f6b 21.5px,#d89583 24.5px,#e5bdaf 27.5px,#eee2e1 30.5px,#efebec 31.5px,#eae9ee 34.5px,#efe9ea 36.5px,#e8c8be 39.5px,#db9e8d 42.5px,#d1826f 45.5px,#cd7966 50.5px,#cf7d6a 56.5px,#d6927f 59.5px,#e4b8a9 62.5px,#eddfdd 65.5px,#eeecf0 67.5px,#ecebef 70.5px,#f0eced 71.5px,#e9ccc4 74.5px,#dda291 77.5px,#d18471 80.5px,#ce7a66 84.5px,#cf7d69 91.5px,#d58e7c 94.5px,#e3b4a4 97.5px,#ecdcd8 100.5px,#f0eef0 102.5px,#ebeaef 105.5px,#f0eef0 106.5px,#ead0c9 109.5px,#dea695 112.5px,#d28673 115.5px,#ce7a66 119.5px,#d07f6c 127.5px,#d89684 130.5px,#e6beb1 133.5px,#eee3e2 136.5px,#efebec 137.5px)"></div><div style="height:1px;background:linear-gradient(90deg,#eee6e5 0.5px,#e9cec5 3.5px,#da9b8a 7.5px,#d18370 10.5px,#cf7c69 17.5px,#d28673 22.5px,#dca190 25.5px,#ecdcd8 30.5px,#efebec 33.5px,#ede2e0 36.5px,#e7c5ba 39.5px,#d79482 43.5px,#d0806d 46.5px,#cf7e6b 55.5px,#d48a78 58.5px,#e4b6a6 62.5px,#ecdad5 65.5px,#efebec 68.5px,#eee4e3 71.5px,#e8c9bf 74.5px,#d89785 78.5px,#d0816e 81.5px,#cf7d6a 90.5px,#d38875 93.5px,#e3b3a2 97.5px,#ebd7d1 100.5px,#efeaeb 103.5px,#eee6e5 106.5px,#e9ccc4 109.5px,#da9a89 113.5px,#d18370 116.5px,#cf7c69 124.5px,#d28673 128.5px,#e1af9e 132.5px,#ecddd9 136.5px,#eee3e2 137.5px)"></div><div style="height:1px;background:linear-gradient(90deg,#eddfdc 0.5px,#e8cac0 3.5px,#da9c8b 7.5px,#d28673 10.5px,#d07f6c 18.5px,#d38875 22.5px,#e1ad9c 26.5px,#ebd7d1 30.5px,#eee3e2 33.5px,#ecdcd8 36.5px,#e7c2b6 39.5px,#d89583 43.5px,#d18370 46.5px,#d18370 56.5px,#d79482 59.5px,#e6c1b5 63.5px,#ecdbd7 66.5px,#eee3e2 69.5px,#ebd7d2 72.5px,#d68f7d 79.5px,#d0806d 83.5px,#d1826f 91.5px,#d6927f 94.5px,#e6beb0 98.5px,#ecd9d5 101.5px,#eee3e2 104.5px,#ecd9d5 107.5px,#e6beb0 110.5px,#d6927f 114.5px,#d0806d 118.5px,#d18471 127.5px,#d99886 130.5px,#ebd7d2 136.5px,#ecddd9 137.5px)"></div><div style="height:1px;background:linear-gradient(90deg,#ebd9d4 0.5px,#e8c7bd 3.5px,#d79482 8.5px,#d18371 12.5px,#d28674 21.5px,#d99887 24.5px,#ead2cb 30.5px,#ecdcd9 33.5px,#ebd6d1 36.5px,#e6c0b4 39.5px,#d58f7d 44.5px,#d18370 48.5px,#d28673 56.5px,#d89684 59.5px,#ead0c9 65.5px,#ecdcd8 68.5px,#ebd8d2 71.5px,#e7c3b8 74.5px,#d6917f 79.5px,#d18370 83.5px,#d38875 92.5px,#dea695 96.5px,#e9cec6 100.5px,#ecdbd8 103.5px,#ebd9d4 106.5px,#e7c6bb 109.5px,#d79381 114.5px,#d18370 118.5px,#d28774 127.5px,#d99988 130.5px,#ead3cc 136.5px,#ebd7d2 137.5px)"></div><div style="height:1px;background:linear-gradient(90deg,#ead4cd 0.5px,#e7c5b9 3.5px,#d89684 8.5px,#d28673 12.5px,#d38977 21.5px,#dda392 25.5px,#e9cec6 30.5px,#ebd6d1 34.5px,#e9cdc5 37.5px,#d6917f 44.5px,#d28572 49.5px,#d48b79 57.5px,#dfaa99 61.5px,#e9cdc4 65.5px,#ebd7d1 69.5px,#e9cfc7 72.5px,#d79381 79.5px,#d28673 83.5px,#d48a78 92.5px,#dea796 96.5px,#e8cbc2 100.5px,#ebd7d1 104.5px,#e8cbc2 108.5px,#d89583 114.5px,#d28673 118.5px,#d38977 127.5px,#dda493 131.5px,#e9cfc7 136.5px,#ead2cc 137.5px)"></div><div style="height:1px;background:linear-gradient(90deg,#e9d0c8 0.5px,#e7c3b7 3.5px,#d6917f 9.5px,#d38875 15.5px,#d68f7d 22.5px,#e4b5a5 27.5px,#e9cbc2 30.5px,#ead2cb 34.5px,#e7c5b9 38.5px,#d79381 44.5px,#d38875 49.5px,#d58e7c 57.5px,#dfaa99 61.5px,#e8cac0 65.5px,#ead2cb 69.5px,#e8c7bc 73.5px,#d89583 79.5px,#d38976 83.5px,#d58d7a 92.5px,#dea796 96.5px,#e8c8be 100.5px,#ead2cb 104.5px,#e8c8be 108.5px,#d6917f 115.5px,#d38875 121.5px,#d68f7d 128.5px,#e4b6a6 133.5px,#e9ccc3 136.5px,#e9cfc7 137.5px)"></div><div style="height:1px;background:linear-gradient(90deg,#e9ccc4 0.5px,#e6c1b4 3.5px,#d79381 9.5px,#d48a78 15.5px,#d6917f 22.5px,#e4b5a5 27.5px,#e8c9bf 30.5px,#e9cdc4 35.5px,#e7c3b7 38.5px,#d89583 44.5px,#d48b78 49.5px,#d6907e 57.5px,#e3b3a2 62.5px,#e8c7bd 65.5px,#e9cec6 69.5px,#e7c5b9 73.5px,#d89685 79.5px,#d48b78 84.5px,#d68f7d 92.5px,#dfa797 96.5px,#e7c6bb 100.5px,#e9cec6 104.5px,#e7c6bb 108.5px,#d79381 115.5px,#d48a78 121.5px,#d6927f 128.5px,#e4b6a6 133.5px,#e8c9bf 136.5px,#e9ccc2 137.5px)"></div><div style="height:1px;background:linear-gradient(90deg,#e8cac0 0.5px,#e6c0b3 3.5px,#d89583 9.5px,#d58d7a 15.5px,#d79381 22.5px,#e5bcae 28.5px,#e8c9bf 31.5px,#e8c9bf 36.5px,#e5bbac 39.5px,#d89685 44.5px,#d58d7a 50.5px,#d79280 57.5px,#e3b2a2 62.5px,#e8c9bf 66.5px,#e8c9c0 71.5px,#e5bdaf 74.5px,#d79381 80.5px,#d58d7a 88.5px,#d89583 93.5px,#e8c8be 101.5px,#e8cac0 106.5px,#e6bfb2 109.5px,#d89583 115.5px,#d58d7a 122.5px,#d79381 128.5px,#e8c7bc 136.5px,#e8c9bf 137.5px)"></div><div style="height:1px;background:linear-gradient(90deg,#e8c8be 0.5px,#e6bfb1 3.5px,#d89785 9.5px,#d58f7c 16.5px,#d89583 22.5px,#e7c5ba 30.5px,#e8c7bc 36.5px,#e3b3a3 40.5px,#d79482 45.5px,#d6907e 55.5px,#db9d8b 59.5px,#e7c4b9 65.5px,#e8c9be 70.5px,#e5bcae 74.5px,#d89583 80.5px,#d58f7d 89.5px,#da9b89 94.5px,#e7c3b7 100.5px,#e8c9bf 105.5px,#e6beb1 109.5px,#d89684 115.5px,#d58f7c 122.5px,#d89583 128.5px,#e7c5ba 136.5px,#e8c7bd 137.5px)"></div><div style="height:1px;background:linear-gradient(90deg,#e7c6bc 0.5px,#e6beb0 3.5px,#d99886 9.5px,#d6907e 16.5px,#d89684 22.5px,#e7c4b8 30.5px,#e7c5ba 36.5px,#e3b3a3 40.5px,#d89584 45.5px,#d6917f 55.5px,#db9e8c 59.5px,#e7c3b7 65.5px,#e7c6bb 71.5px,#e5bbad 74.5px,#d89685 80.5px,#d6917e 89.5px,#da9c8b 94.5px,#e7c2b6 100.5px,#e7c6bc 106.5px,#e6bdb0 109.5px,#d99786 115.5px,#d6907e 123.5px,#da9b89 129.5px,#e7c4b9 136.5px,#e7c6bb 137.5px)"></div><div style="height:1px;background:linear-gradient(90deg,#e7c5ba 0.5px,#e6bdaf 3.5px,#d99987 9.5px,#d6927f 17.5px,#da9b89 23.5px,#e7c3b7 30.5px,#e7c4b9 36.5px,#e3b3a3 40.5px,#d89685 45.5px,#d79381 55.5px,#dea594 60.5px,#e7c2b6 65.5px,#e7c5ba 71.5px,#e5bbad 74.5px,#d99786 80.5px,#d79280 89.5px,#db9d8c 94.5px,#e6c1b5 100.5px,#e7c5ba 106.5px,#e5bdaf 109.5px,#d99987 115.5px,#d6927f 123.5px,#da9b8a 129.5px,#e7c3b7 136.5px,#e7c5b9 137.5px)"></div><div style="height:1px;background:linear-gradient(90deg,#e7c4b9 0.5px,#e5bdaf 3.5px,#d99a88 9.5px,#d79280 17.5px,#da9c8a 23.5px,#e7c2b6 30.5px,#e7c4b8 36.5px,#e3b3a2 40.5px,#d99785 45.5px,#d79381 55.5px,#dea594 60.5px,#e6c1b5 65.5px,#e7c4b9 71.5px,#e3b5a4 75.5px,#d89584 81.5px,#d89684 92.5px,#e4b6a6 98.5px,#e7c3b7 101.5px,#e7c3b7 107.5px,#d89684 116.5px,#d89584 127.5px,#e3b5a4 133.5px,#e7c4b8 137.5px)"></div><div style="height:1px;background:linear-gradient(90deg,#e7c4b8 0.5px,#e5bdaf 3.5px,#d89785 10.5px,#d89684 21.5px,#e3b4a4 27.5px,#e7c3b8 31.5px,#e6c1b5 37.5px,#d99886 45.5px,#d89583 56.5px,#e0ac9b 61.5px,#e7c3b7 66.5px,#e7c2b6 72.5px,#d99987 80.5px,#d79482 90.5px,#dda392 95.5px,#e7c3b7 101.5px,#e7c3b7 107.5px,#d89785 116.5px,#d89684 127.5px,#e3b4a4 133.5px,#e7c3b8 137.5px)"></div><div style="height:1px;background:linear-gradient(90deg,#e7c2b6 0.5px,#e4b6a6 4.5px,#d99785 10.5px,#d89684 21.5px,#e3b3a3 27.5px,#e6c2b5 31.5px,#e6bfb3 37.5px,#d99886 45.5px,#d89684 56.5px,#e0ab9a 61.5px,#e6c1b5 66.5px,#e6c0b3 72.5px,#d89685 81.5px,#d89785 92.5px,#e6c1b4 101.5px,#e6beb1 108.5px,#d89785 116.5px,#d89685 127.5px,#e3b4a3 133.5px,#e6c2b5 137.5px)"></div><div style="height:1px;background:linear-gradient(90deg,#e3b4a4 0.5px,#dea594 5.5px,#d58e7c 10.5px,#d58d7b 21.5px,#e3b2a2 30.5px,#e2b09f 38.5px,#d58d7a 46.5px,#d58e7c 57.5px,#e2b2a2 65.5px,#e2b0a0 73.5px,#d58d7b 81.5px,#d58e7b 92.5px,#e3b3a3 101.5px,#e1ae9e 109.5px,#d58e7b 116.5px,#d58d7b 127.5px,#e3b3a2 136.5px,#e3b4a3 137.5px)"></div><div style="height:1px;background:linear-gradient(90deg,#e0ab9a 0.5px,#d89785 13.5px,#db9d8b 24.5px,#e0ab9a 32.5px,#dda493 40.5px,#d89785 48.5px,#da9c8a 59.5px,#e0ab9a 67.5px,#dea594 75.5px,#d89785 83.5px,#da9b8a 94.5px,#e0ab9a 102.5px,#dda392 111.5px,#d89785 119.5px,#db9d8b 130.5px,#e0ab9a 137.5px)"></div><div style="height:1px;background:#9b3130"></div><div style="height:1px;background:linear-gradient(90deg,#c96e5b 0.5px,#bf6051 6.5px,#b65147 12.5px,#b9574a 23.5px,#c96e5b 31.5px,#c56957 39.5px,#b65247 46.5px,#b8564a 58.5px,#c96e5b 66.5px,#c66a57 74.5px,#b65247 82.5px,#b85549 93.5px,#c86e5a 101.5px,#c66a58 109.5px,#b65247 117.5px,#b85449 128.5px,#c96e5b 137.5px)"></div><div style="height:1px;background:linear-gradient(90deg,#cc7561 0.5px,#ca6f5c 3.5px,#b34e44 10.5px,#b44f45 22.5px,#cc7662 30.5px,#cc7662 37.5px,#b44e44 45.5px,#b34e44 57.5px,#cc7662 66.5px,#cb735f 73.5px,#b44f45 80.5px,#b24c43 91.5px,#be5e4f 96.5px,#cc7662 101.5px,#cc7461 108.5px,#b34d44 116.5px,#b34d43 127.5px,#c86d5a 134.5px,#cc7562 137.5px)"></div><div style="height:1px;background:linear-gradient(90deg,#d48a77 0.5px,#dfa998 1.5px,#e3b2a2 2.5px,#d89684 3.5px,#cb725f 4.5px,#bc5b4e 6.5px,#b04941 11.5px,#b24c43 22.5px,#bf5f50 26.5px,#c56957 27.5px,#d18370 28.5px,#dfa897 29.5px,#e3b2a2 30.5px,#cf7e6a 32.5px,#cb725e 33.5px,#cb735f 34.5px,#d1826f 35.5px,#dca08f 36.5px,#e3b4a3 37.5px,#dca190 38.5px,#ce7c69 39.5px,#c46655 40.5px,#b34e44 44.5px,#af473f 53.5px,#b65247 59.5px,#c36554 62.5px,#cd7965 63.5px,#db9e8c 64.5px,#e3b4a3 65.5px,#dda392 66.5px,#d28472 67.5px,#cb7460 68.5px,#cb725e 69.5px,#ce7c68 70.5px,#e2b1a1 72.5px,#e0aa9a 73.5px,#d28774 74.5px,#c66b58 75.5px,#b75448 78.5px,#af4740 84.5px,#b24d43 93.5px,#c16252 97.5px,#ca705c 98.5px,#e2b1a0 100.5px,#e0ab9b 101.5px,#d58d7a 102.5px,#cd7764 103.5px,#ca715d 104.5px,#cd7764 105.5px,#d58d7a 106.5px,#e0ab9b 107.5px,#e2b1a0 108.5px,#ca705c 110.5px,#bc5b4d 112.5px,#b04940 117.5px,#b24c43 128.5px,#bf6051 132.5px,#c66b58 133.5px,#d28774 134.5px,#e0aa9a 135.5px,#e2b1a1 136.5px,#d89684 137.5px)"></div><div style="height:1px;background:linear-gradient(90deg,#e6bdb0 0.5px,#afb6df 1.5px,#8f98d0 2.5px,#e4e3ed 3.5px,#d6907e 4.5px,#c26554 5.5px,#b65247 7.5px,#ad453e 12.5px,#b04840 22.5px,#be5d4f 26.5px,#cb725e 27.5px,#e5bcae 28.5px,#abb2dd 29.5px,#909ad1 30.5px,#e7e7ee 31.5px,#d89785 32.5px,#cc7460 33.5px,#cd7764 34.5px,#dda493 35.5px,#cfd2e8 36.5px,#8c96cf 37.5px,#bec3e4 38.5px,#dfa898 39.5px,#c76b59 40.5px,#bc5b4d 41.5px,#ae463f 46.5px,#af4840 57.5px,#bc5a4d 61.5px,#c56957 62.5px,#dca08e 63.5px,#cacde7 64.5px,#8c95cf 65.5px,#c3c7e5 66.5px,#e0ac9b 67.5px,#ce7a66 68.5px,#cb735f 69.5px,#d6917f 70.5px,#efeaeb 71.5px,#959dd3 72.5px,#a3abd9 73.5px,#e8c8be 74.5px,#cd7763 75.5px,#be5f50 76.5px,#b04940 80.5px,#ae453e 91.5px,#ba584b 96.5px,#c16353 97.5px,#d38976 98.5px,#f0edef 99.5px,#929bd2 100.5px,#a7aedb 101.5px,#e8c8be 102.5px,#d18370 103.5px,#cb725e 104.5px,#d18370 105.5px,#e8c8be 106.5px,#a7aedb 107.5px,#929bd2 108.5px,#f0edef 109.5px,#d38976 110.5px,#c16353 111.5px,#b34d44 114.5px,#ad443d 121.5px,#b24c43 129.5px,#be5f50 132.5px,#cd7763 133.5px,#e8c8be 134.5px,#a3abd9 135.5px,#959dd3 136.5px,#efeaeb 137.5px)"></div><div style="height:1px;background:linear-gradient(90deg,#db9f8e 0.5px,#ede1de 1.5px,#e6e5ee 2.5px,#e6bdaf 3.5px,#cf7e6b 4.5px,#c16353 5.5px,#b14b42 9.5px,#ae463f 20.5px,#b9564a 25.5px,#c76c59 27.5px,#da9b89 28.5px,#ede2e0 29.5px,#e7e6ee 30.5px,#e6beb0 31.5px,#d38875 32.5px,#cb725e 33.5px,#cc7460 34.5px,#d6907e 35.5px,#e9ccc4 36.5px,#e3e3ed 37.5px,#ead4ce 38.5px,#d58e7c 39.5px,#c56856 40.5px,#b85549 42.5px,#ae463f 47.5px,#b04941 57.5px,#bc5b4d 61.5px,#c36655 62.5px,#d38976 63.5px,#e9cdc4 64.5px,#e3e3ed 65.5px,#ead3cd 66.5px,#d89583 67.5px,#cc7662 68.5px,#cb715d 69.5px,#d18471 70.5px,#e4b6a6 71.5px,#eae9ee 72.5px,#efe8e8 73.5px,#dca190 74.5px,#c96e5b 75.5px,#be5e50 76.5px,#af4840 81.5px,#af4840 92.5px,#bb594c 96.5px,#c16252 97.5px,#ce7a66 98.5px,#e4b5a5 99.5px,#e9e8ee 100.5px,#eee6e6 101.5px,#dda493 102.5px,#ce7b68 103.5px,#ca705d 104.5px,#ce7b68 105.5px,#dda493 106.5px,#eee6e6 107.5px,#e9e8ee 108.5px,#e4b5a5 109.5px,#ce7a66 110.5px,#c16252 111.5px,#b14b42 115.5px,#ae463f 126.5px,#b9574a 131.5px,#be5e50 132.5px,#c96e5b 133.5px,#dca190 134.5px,#efe8e8 135.5px,#eae9ee 136.5px,#e4b6a6 137.5px)"></div><div style="height:1px;background:linear-gradient(90deg,#cb7460 0.5px,#ce7b68 2.5px,#bc5a4d 6.5px,#af4840 11.5px,#b14b42 22.5px,#c26454 27.5px,#cf7c69 30.5px,#c96f5b 33.5px,#ce7c69 37.5px,#bd5c4e 41.5px,#af4840 46.5px,#b14a41 57.5px,#c66a57 63.5px,#ce7c69 65.5px,#c96f5b 69.5px,#ce7c69 72.5px,#ba584b 77.5px,#af4740 82.5px,#b24c43 93.5px,#c46756 98.5px,#ce7b67 100.5px,#cc7461 102.5px,#ca705c 105.5px,#ce7b68 107.5px,#ce7b67 108.5px,#bf6051 111.5px,#b04941 116.5px,#b04940 127.5px,#c26554 133.5px,#ce7c69 136.5px,#cc7763 137.5px)"></div><div style="height:1px;background:linear-gradient(90deg,#c96f5b 0.5px,#c16252 5.5px,#b24c43 11.5px,#b44e45 22.5px,#c96e5b 30.5px,#c76c59 38.5px,#b24c43 46.5px,#b34e44 57.5px,#c96f5b 66.5px,#c66957 74.5px,#b24d43 81.5px,#b34d44 92.5px,#c96f5b 101.5px,#c66a58 109.5px,#b34d44 116.5px,#b44f45 128.5px,#c96e5b 136.5px,#c96f5b 137.5px)"></div><div style="height:1px;background:linear-gradient(90deg,#cc7662 0.5px,#bf6051 13.5px,#c36655 24.5px,#cc7662 32.5px,#c86e5a 40.5px,#bf6051 48.5px,#c36554 59.5px,#cc7662 68.5px,#c76c59 76.5px,#bf6051 84.5px,#c46756 95.5px,#cc7662 103.5px,#c86c5a 111.5px,#bf6051 119.5px,#c36655 130.5px,#cc7562 137.5px)"></div><div style="height:1px;background:linear-gradient(90deg,#d0816e 0.5px,#d0806d 27.5px,#d0816e 65.5px,#d0806d 98.5px,#d0816e 135.5px,#d0816e 137.5px)"></div><div style="height:1px;background:#d58d7b"></div><div style="height:1px;background:#db9f8d"></div><div style="height:1px;background:#e5bbac"></div><div style="height:1px;background:linear-gradient(90deg,#ede0dd 0.5px,#ede0dd 137.5px)"></div><div style="height:1px;background:linear-gradient(90deg,#abb2dd 0.5px,#afb6df 22.5px,#aeb5de 43.5px,#aeb4de 60.5px,#b0b6df 81.5px,#aeb4de 113.5px,#aeb5de 130.5px,#abb2dd 137.5px)"></div><div style="height:1px;background:linear-gradient(90deg,#7c87c7 0.5px,#8e98d0 17.5px,#7b86c7 34.5px,#8e97d0 53.5px,#7b86c7 69.5px,#8e98d0 88.5px,#7b86c7 105.5px,#8e98d0 123.5px,#7c87c8 137.5px)"></div><div style="height:1px;background:linear-gradient(90deg,#6975bc 0.5px,#7984c6 12.5px,#7a85c7 19.5px,#6975bc 31.5px,#727dc3 44.5px,#7d88c8 52.5px,#6975bc 67.5px,#737fc4 80.5px,#7c87c8 88.5px,#6975bc 102.5px,#737ec3 115.5px,#7d88c8 123.5px,#6975bc 137.5px)"></div><div style="height:1px;background:linear-gradient(90deg,#5e6bb3 0.5px,#6673ba 20.5px,#5f6cb4 38.5px,#6673ba 55.5px,#5f6cb3 73.5px,#6773ba 90.5px,#5f6cb4 109.5px,#6773ba 125.5px,#5e6bb3 137.5px)"></div><div style="height:1px;background:linear-gradient(90deg,#5663ac 0.5px,#5663ac 137.5px)"></div><div style="height:1px;background:linear-gradient(90deg,#4f5ca6 0.5px,#4f5ca6 137.5px)"></div><div style="height:1px;background:#4957a1"></div><div style="height:1px;background:#44529d"></div><div style="height:1px;background:#414f99"></div><div style="height:1px;background:#404d95"></div></div><div style="position:absolute;left:627.2px;top:199px;width:6px;height:119px;background:linear-gradient(180deg,#561218 0%,#a23432 15%,#ca705c 30%,#e4b6a6 42%,#f0eef0 50%,#b6bce2 58%,#707cc2 70%,#42509b 85%,#343e76 100%)"></div><svg width="648" height="347" style="position:absolute;left:0;top:0" font-family='"Liberation Sans", sans-serif'><text x="0.5" y="11.4" font-size="14" text-anchor="start" font-weight="bold" fill="#111">(a)</text><text x="0.5" y="186.5" font-size="14" text-anchor="start" font-weight="bold" fill="#111">(b)</text><text x="238.8" y="10.5" font-size="14" text-anchor="start" font-weight="bold" fill="#111">(c)</text><text x="441.8" y="10.5" font-size="14" text-anchor="start" font-weight="bold" fill="#111">(d)</text><text x="238.7" y="186.5" font-size="14" text-anchor="start" font-weight="bold" fill="#111">(e)</text><text x="444" y="186.7" font-size="14" text-anchor="start" font-weight="bold" fill="#111">(f)</text><line x1="221.3" y1="15" x2="221.3" y2="341.5" stroke="#222" stroke-width="1.4"/><text x="33" y="53.9" font-size="10" text-anchor="end" fill="#3a3a3a">20</text><text x="33" y="84.8" font-size="10" text-anchor="end" fill="#3a3a3a">0</text><text x="33" y="115.4" font-size="10" text-anchor="end" fill="#3a3a3a">-20</text><text x="15.5" y="80.6" font-size="11.5" text-anchor="middle" fill="#3a3a3a" transform="rotate(-90 15.5 80.6)">x (u.a.)</text><text x="64.3" y="153" font-size="10" text-anchor="middle" fill="#3a3a3a">0.2</text><text x="93.6" y="153" font-size="10" text-anchor="middle" fill="#3a3a3a">0.4</text><text x="122.9" y="153" font-size="10" text-anchor="middle" fill="#3a3a3a">0.6</text><text x="152.2" y="153" font-size="10" text-anchor="middle" fill="#3a3a3a">0.8</text><text x="108.5" y="165.5" font-size="11.5" text-anchor="middle" fill="#3a3a3a">Time (Number of Cycles)</text><text x="191.3" y="24.3" font-size="9" text-anchor="start" fill="#3a3a3a">0</text><text x="191.3" y="44.3" font-size="9" text-anchor="start" fill="#3a3a3a">-0.5</text><text x="191.3" y="64.3" font-size="9" text-anchor="start" fill="#3a3a3a">-1</text><text x="191.3" y="84.3" font-size="9" text-anchor="start" fill="#3a3a3a">-1.5</text><text x="191.3" y="104.3" font-size="9" text-anchor="start" fill="#3a3a3a">-2</text><text x="191.3" y="124.3" font-size="9" text-anchor="start" fill="#3a3a3a">-2.5</text><text x="191.3" y="143.3" font-size="9" text-anchor="start" fill="#3a3a3a">-3</text><line x1="132.5" y1="21" x2="132.5" y2="140" stroke="#f8f4f4" stroke-width="1" stroke-dasharray="2,1.2"/><line x1="153.8" y1="21" x2="153.8" y2="140" stroke="#f8f4f4" stroke-width="1" stroke-dasharray="2,1.2"/><text x="119.2" y="47.6" font-size="17" text-anchor="start" fill="#fff">t</text><text x="124.2" y="52.8" font-size="8.5" text-anchor="start" fill="#fff">I</text><text x="141.5" y="47.6" font-size="17" text-anchor="start" fill="#fff">t</text><text x="146" y="52.8" font-size="8.5" text-anchor="start" fill="#fff">P</text><polyline points="20.0,137.7 63.7,142.4 20.0,147.1" fill="none" stroke="#fff" stroke-width="0.9" clip-path="url(#ca)"/><polyline points="20.0,107.0 63.7,111.7 20.0,116.4" fill="none" stroke="#fff" stroke-width="0.9" clip-path="url(#ca)"/><polyline points="20.0,76.3 63.7,81.0 20.0,85.7" fill="none" stroke="#fff" stroke-width="0.9" clip-path="url(#ca)"/><polyline points="20.0,45.6 63.7,50.3 20.0,55.0" fill="none" stroke="#fff" stroke-width="0.9" clip-path="url(#ca)"/><polyline points="20.0,14.9 63.7,19.6 20.0,24.3" fill="none" stroke="#fff" stroke-width="0.9" clip-path="url(#ca)"/><polygon points="59.0,320.5 59.0,229.1 59.1,229.2 59.2,229.4 59.3,229.5 59.4,229.7 59.5,229.8 59.6,230.0 59.7,230.2 59.8,230.3 59.9,230.5 60.0,230.6 60.1,230.8 60.2,230.9 60.3,231.1 60.4,231.3 60.5,231.4 60.6,231.6 60.7,231.7 60.8,231.9 60.9,232.0 61.0,232.2 61.1,232.4 61.2,232.5 61.3,232.7 61.4,232.8 61.5,233.0 61.6,233.1 61.7,233.3 61.8,233.5 61.9,233.6 62.0,233.8 62.1,233.9 62.2,234.1 62.3,234.2 62.4,234.4 62.5,234.6 62.6,234.7 62.7,234.9 62.8,235.0 62.9,235.1 63.0,235.2 63.1,235.3 63.2,235.4 63.3,235.5 63.4,235.6 63.5,235.7 63.6,235.8 63.7,235.8 63.8,235.9 63.9,236.0 64.0,236.1 64.1,236.2 64.2,236.3 64.3,236.4 64.4,237.1 64.5,237.9 64.6,238.7 64.7,239.5 64.8,240.3 64.9,241.0 65.0,241.8 65.1,242.6 65.2,243.4 65.2,244.3 65.3,245.4 65.4,246.5 65.5,247.5 65.6,248.6 65.7,249.6 65.8,250.7 65.9,251.8 66.0,252.8 66.1,253.9 66.2,255.0 66.3,256.0 66.4,257.1 66.5,257.8 66.6,258.5 66.7,259.2 66.8,259.9 66.9,260.6 67.0,261.3 67.1,262.0 67.2,262.7 67.3,263.4 67.4,264.2 67.5,264.9 67.6,265.6 67.7,266.3 67.8,267.0 67.9,267.7 68.0,268.4 68.1,269.1 68.2,269.8 68.3,270.5 68.4,271.2 68.5,271.9 68.6,272.7 68.7,273.4 68.8,274.1 68.9,274.8 69.0,275.5 69.1,276.2 69.2,276.9 69.3,277.6 69.4,278.3 69.5,279.0 69.6,279.7 69.7,280.3 69.8,281.0 69.9,281.6 70.0,282.3 70.1,282.9 70.2,283.5 70.3,284.2 70.4,284.8 70.5,285.5 70.6,286.1 70.7,286.8 70.8,287.4 70.9,288.1 71.0,287.3 71.1,286.6 71.2,285.9 71.3,285.1 71.4,284.4 71.5,283.7 71.6,283.0 71.7,282.2 71.8,281.5 71.9,280.8 72.0,280.1 72.1,279.3 72.2,278.6 72.3,277.9 72.4,277.2 72.5,276.4 72.6,275.6 72.7,274.7 72.8,273.9 72.9,273.0 73.0,272.1 73.1,271.3 73.2,270.4 73.3,269.5 73.4,268.6 73.5,267.8 73.6,266.9 73.7,266.0 73.8,265.9 73.9,265.9 74.0,265.9 74.1,265.8 74.2,265.8 74.3,265.8 74.4,265.8 74.5,265.7 74.6,265.7 74.7,265.7 74.8,265.7 74.9,265.7 75.0,265.6 75.1,265.6 75.2,265.6 75.3,265.6 75.4,265.5 75.5,265.5 75.6,265.5 75.7,265.5 75.8,265.5 75.9,265.4 76.0,265.4 76.1,265.4 76.2,265.4 76.3,265.3 76.4,265.3 76.5,265.3 76.6,265.3 76.7,265.3 76.8,265.2 76.9,265.2 77.0,265.2 77.1,265.2 77.2,265.1 77.3,265.1 77.4,265.1 77.5,265.1 77.6,265.1 77.6,265.1 77.7,265.1 77.8,265.1 77.9,265.1 78.0,265.2 78.1,265.2 78.2,265.2 78.3,265.2 78.4,265.3 78.5,265.3 78.6,265.3 78.7,265.4 78.8,265.4 78.9,265.4 79.0,265.4 79.1,265.5 79.2,265.5 79.3,265.5 79.4,265.5 79.5,265.6 79.6,265.6 79.7,265.6 79.8,265.7 79.9,265.7 80.0,265.7 80.1,265.7 80.2,265.8 80.3,265.8 80.4,265.8 80.5,265.9 80.6,265.9 80.7,265.9 80.8,265.9 80.9,266.0 81.0,266.0 81.1,266.0 81.2,266.0 81.3,266.1 81.4,266.1 81.5,266.1 81.6,266.2 81.7,266.2 81.8,266.2 81.9,266.2 82.0,266.3 82.1,266.3 82.2,266.3 82.3,266.3 82.4,266.4 82.5,266.4 82.6,266.4 82.7,266.5 82.8,266.5 82.9,266.5 83.0,266.5 83.1,266.6 83.2,266.6 83.3,266.6 83.4,266.6 83.5,266.7 83.6,266.7 83.7,266.7 83.8,266.8 83.9,266.8 84.0,267.1 84.1,269.1 84.2,271.1 84.3,273.1 84.4,275.1 84.5,277.1 84.6,279.1 84.7,281.1 84.8,283.1 84.9,285.1 85.0,287.1 85.1,288.7 85.2,289.9 85.3,291.2 85.4,292.5 85.5,293.7 85.6,295.0 85.7,296.2 85.8,297.5 85.9,298.7 86.0,299.9 86.1,300.0 86.2,300.2 86.3,300.4 86.4,300.6 86.5,300.7 86.6,300.9 86.7,301.1 86.8,301.3 86.9,301.4 87.0,301.6 87.1,301.8 87.2,302.0 87.3,302.2 87.4,302.3 87.5,302.5 87.6,302.7 87.7,302.9 87.8,303.0 87.9,303.2 88.0,303.4 88.1,303.6 88.2,303.7 88.3,303.7 88.4,303.7 88.5,303.8 88.6,303.8 88.7,303.8 88.8,303.8 88.9,303.9 89.0,303.9 89.1,303.9 89.2,304.0 89.3,304.0 89.4,304.0 89.5,304.0 89.6,304.1 89.7,304.1 89.8,304.1 89.9,304.1 90.0,304.2 90.0,304.2 90.1,304.2 90.2,304.2 90.3,304.3 90.4,304.3 90.5,304.3 90.6,304.3 90.7,304.4 90.8,304.4 90.9,304.4 91.0,304.5 91.1,304.5 91.2,304.5 91.3,304.5 91.4,304.6 91.5,304.6 91.6,304.6 91.7,304.6 91.8,304.7 91.9,304.7 92.0,304.7 92.1,304.7 92.2,304.8 92.3,304.8 92.4,304.8 92.5,304.8 92.6,304.9 92.7,304.9 92.8,304.9 92.9,305.0 93.0,305.0 93.1,305.0 93.2,305.0 93.3,305.1 93.4,305.1 93.5,305.1 93.6,305.1 93.7,305.2 93.8,304.8 93.9,304.4 94.0,304.1 94.1,303.7 94.2,303.4 94.3,303.0 94.4,302.7 94.5,302.3 94.6,301.9 94.7,301.6 94.8,301.2 94.9,300.9 95.0,300.5 95.1,300.2 95.2,299.8 95.3,299.4 95.4,299.1 95.5,298.7 95.6,298.4 95.7,298.0 95.8,297.7 95.9,297.3 96.0,296.9 96.1,296.3 96.2,295.6 96.3,294.8 96.4,294.1 96.5,293.4 96.6,292.7 96.7,292.0 96.8,291.3 96.9,290.6 97.0,289.8 97.1,289.1 97.2,288.4 97.3,287.7 97.4,287.0 97.5,286.3 97.6,285.5 97.7,284.8 97.8,284.1 97.9,283.4 98.0,282.7 98.1,282.1 98.2,281.8 98.3,281.6 98.4,281.3 98.5,281.1 98.6,280.8 98.7,280.6 98.8,280.3 98.9,280.1 99.0,279.9 99.1,279.6 99.2,279.4 99.3,279.1 99.4,278.9 99.5,278.6 99.6,278.4 99.7,278.1 99.8,277.9 99.9,277.6 100.0,277.4 100.1,277.1 100.2,276.9 100.3,276.6 100.4,276.4 100.5,276.3 100.6,276.3 100.7,276.3 100.8,276.3 100.9,276.3 101.0,276.3 101.1,276.3 101.2,276.3 101.3,276.3 101.4,276.3 101.5,276.4 101.6,276.4 101.7,276.4 101.8,276.4 101.9,276.4 102.0,276.4 102.1,276.4 102.2,276.4 102.3,276.4 102.4,276.5 102.4,276.5 102.5,276.5 102.6,276.5 102.7,276.5 102.8,276.5 102.9,276.5 103.0,276.5 103.1,276.5 103.2,276.5 103.3,276.6 103.4,276.6 103.5,276.6 103.6,276.6 103.7,276.6 103.8,276.6 103.9,276.6 104.0,276.6 104.1,276.6 104.2,276.6 104.3,276.7 104.4,276.7 104.5,276.7 104.6,276.7 104.7,276.7 104.8,276.7 104.9,276.7 105.0,276.7 105.1,276.7 105.2,276.7 105.3,276.8 105.4,276.8 105.5,276.8 105.6,276.8 105.7,276.8 105.8,276.8 105.9,276.8 106.0,276.8 106.1,276.8 106.2,276.9 106.3,276.9 106.4,277.0 106.5,277.0 106.6,277.1 106.7,277.1 106.8,277.2 106.9,277.2 107.0,277.3 107.1,277.3 107.2,277.4 107.3,277.4 107.4,277.5 107.5,277.5 107.6,277.5 107.7,277.6 107.8,277.6 107.9,277.7 108.0,277.8 108.1,278.2 108.2,278.6 108.3,279.0 108.4,279.4 108.5,279.8 108.6,280.2 108.7,280.6 108.8,281.0 108.9,281.4 109.0,281.8 109.1,282.1 109.2,282.5 109.3,282.9 109.4,283.3 109.5,283.7 109.6,284.1 109.7,284.5 109.8,284.9 109.9,286.0 110.0,287.8 110.1,289.7 110.2,291.5 110.3,293.3 110.4,295.1 110.5,297.0 110.6,298.8 110.7,300.6 110.8,302.4 110.9,304.2 111.0,306.1 111.1,307.9 111.2,309.7 111.3,310.2 111.4,310.2 111.5,310.2 111.6,310.2 111.7,310.2 111.8,310.2 111.9,310.2 112.0,310.2 112.1,310.2 112.2,310.2 112.3,310.2 112.4,310.2 112.5,310.2 112.6,310.2 112.7,310.2 112.8,310.2 112.9,310.2 113.0,310.2 113.1,310.2 113.2,310.2 113.3,310.2 113.4,310.2 113.5,310.2 113.6,310.2 113.7,310.2 113.8,310.2 113.9,310.2 114.0,310.2 114.1,310.2 114.2,310.2 114.3,310.2 114.4,310.2 114.5,310.2 114.6,310.2 114.7,310.2 114.8,310.2 114.8,310.2 114.9,310.2 115.0,310.2 115.1,310.2 115.2,310.2 115.3,310.2 115.4,310.2 115.5,310.2 115.6,310.2 115.7,310.2 115.8,310.2 115.9,310.2 116.0,310.2 116.1,310.2 116.2,310.2 116.3,310.2 116.4,310.2 116.5,310.2 116.6,310.2 116.7,310.2 116.8,310.2 116.9,310.2 117.0,310.2 117.1,310.2 117.2,310.2 117.3,310.2 117.4,310.2 117.5,310.2 117.6,310.2 117.7,310.2 117.8,310.2 117.9,310.2 118.0,310.2 118.1,310.2 118.2,310.2 118.3,310.2 118.4,310.2 118.5,310.2 118.6,310.2 118.7,310.2 118.8,310.2 118.9,310.2 119.0,310.2 119.1,310.2 119.2,310.2 119.3,310.2 119.4,310.2 119.5,310.2 119.6,310.2 119.7,310.2 119.8,310.2 119.9,310.2 120.0,310.2 120.1,310.2 120.2,310.2 120.3,310.2 120.4,310.2 120.5,310.2 120.6,310.2 120.7,310.2 120.8,310.2 120.9,310.2 121.0,310.2 121.1,310.2 121.2,310.2 121.3,310.2 121.4,310.2 121.5,310.2 121.6,310.2 121.7,310.2 121.8,310.2 121.9,310.2 122.0,310.2 122.1,310.2 122.2,310.2 122.3,310.2 122.4,310.2 122.5,310.2 122.6,310.2 122.7,310.2 122.8,310.2 122.9,310.2 123.0,310.2 123.1,310.2 123.2,310.2 123.3,310.2 123.4,310.2 123.5,310.2 123.6,310.2 123.7,310.2 123.8,310.2 123.9,310.2 124.0,310.2 124.1,310.2 124.2,310.2 124.3,310.2 124.4,310.2 124.5,310.2 124.6,310.2 124.7,310.2 124.8,310.2 124.9,310.2 125.0,310.2 125.1,310.2 125.2,310.2 125.3,310.2 125.4,310.2 125.5,310.2 125.6,310.2 125.7,310.2 125.8,310.2 125.9,310.2 126.0,310.2 126.1,310.2 126.2,310.2 126.3,310.2 126.4,310.2 126.5,310.2 126.6,310.2 126.7,310.2 126.8,310.2 126.9,310.2 127.0,310.2 127.1,310.2 127.2,310.2 127.2,310.2 127.3,310.2 127.4,310.2 127.5,310.2 127.6,310.2 127.7,310.2 127.8,310.2 127.9,310.2 128.0,310.2 128.1,310.2 128.2,310.2 128.3,310.2 128.4,310.2 128.5,310.2 128.6,310.2 128.7,310.2 128.8,310.2 128.9,310.2 129.0,310.2 129.1,310.2 129.2,310.2 129.3,310.2 129.4,310.2 129.5,310.2 129.6,310.2 129.7,310.2 129.8,310.2 129.9,310.2 130.0,310.2 130.1,310.2 130.2,310.2 130.3,310.2 130.4,310.2 130.5,310.2 130.6,310.2 130.7,310.2 130.8,310.2 130.9,310.2 131.0,310.2 131.1,310.2 131.2,310.2 131.3,310.2 131.4,310.2 131.5,310.2 131.6,310.2 131.7,310.2 131.8,310.2 131.9,310.2 132.0,310.2 132.1,310.2 132.2,310.2 132.3,310.2 132.4,310.2 132.5,310.2 132.6,310.2 132.7,310.2 132.8,310.2 132.9,310.2 133.0,310.2 133.1,309.9 133.2,308.1 133.3,306.3 133.4,304.5 133.5,302.7 133.6,300.9 133.7,299.1 133.8,297.8 133.9,297.7 134.0,297.6 134.1,297.6 134.2,297.5 134.3,297.4 134.4,297.4 134.5,297.3 134.6,297.2 134.7,297.1 134.8,297.1 134.9,297.0 135.0,296.9 135.1,296.9 135.2,296.8 135.3,296.7 135.4,296.7 135.5,296.6 135.6,296.5 135.7,296.4 135.8,296.4 135.9,296.3 136.0,296.3 136.1,296.3 136.2,296.3 136.3,296.4 136.4,296.4 136.5,296.4 136.6,296.4 136.7,296.4 136.8,296.4 136.9,296.4 137.0,296.4 137.1,296.4 137.2,296.4 137.3,296.5 137.4,296.5 137.5,296.5 137.6,296.5 137.7,296.5 137.8,296.5 137.9,296.5 138.0,296.5 138.1,296.5 138.2,296.6 138.3,296.6 138.4,296.6 138.5,296.6 138.6,296.6 138.7,296.6 138.8,296.6 138.9,296.6 139.0,296.6 139.1,296.6 139.2,296.7 139.3,296.7 139.4,296.7 139.5,296.7 139.6,296.7 139.6,296.7 139.7,296.7 139.8,296.7 139.9,296.7 140.0,296.8 140.1,296.8 140.2,296.8 140.3,296.8 140.4,296.8 140.5,296.8 140.6,296.8 140.7,296.8 140.8,296.8 140.9,296.8 141.0,296.9 141.1,296.9 141.2,296.9 141.3,296.9 141.4,296.9 141.5,296.9 141.6,297.0 141.7,297.1 141.8,297.1 141.9,297.2 142.0,297.2 142.1,297.3 142.2,297.4 142.3,297.4 142.4,297.5 142.5,297.5 142.6,297.6 142.7,297.6 142.8,297.7 142.9,297.8 143.0,297.8 143.1,297.9 143.2,297.9 143.3,298.0 143.4,298.0 143.5,298.1 143.6,298.2 143.7,298.2 143.8,298.3 143.9,298.3 144.0,298.4 144.1,298.5 144.2,298.5 144.3,298.6 144.4,298.6 144.5,298.7 144.6,298.7 144.7,298.8 144.8,298.9 144.9,298.9 145.0,299.0 145.1,299.0 145.2,299.1 145.3,299.2 145.4,299.2 145.5,299.5 145.6,301.2 145.7,303.0 145.8,304.7 145.9,306.5 146.0,308.2 146.1,310.0 146.2,310.2 146.3,310.2 146.4,310.2 146.5,310.2 146.6,310.2 146.7,310.2 146.8,310.2 146.9,310.2 147.0,310.2 147.1,310.2 147.2,310.2 147.3,310.2 147.4,310.2 147.5,310.2 147.6,310.2 147.7,310.2 147.8,310.2 147.9,310.2 148.0,310.2 148.1,310.2 148.2,310.2 148.3,310.2 148.4,310.2 148.5,310.2 148.6,310.2 148.7,310.2 148.8,310.2 148.9,310.2 149.0,310.2 149.1,310.2 149.2,310.2 149.3,310.2 149.4,310.2 149.5,310.2 149.6,310.2 149.7,310.2 149.8,310.2 149.9,310.2 150.0,310.2 150.1,310.2 150.2,310.2 150.3,310.2 150.4,310.2 150.5,310.2 150.6,310.2 150.7,310.2 150.8,310.2 150.9,310.2 151.0,310.2 151.1,310.2 151.2,310.2 151.3,310.2 151.4,310.2 151.5,310.2 151.6,310.2 151.7,310.2 151.8,310.2 151.9,310.2 152.0,310.2 152.0,310.2 152.1,310.2 152.2,310.2 152.3,310.2 152.4,310.2 152.5,310.2 152.6,310.2 152.7,310.2 152.8,310.2 152.9,310.2 153.0,310.2 153.1,310.2 153.2,310.2 153.3,310.2 153.4,310.2 153.5,310.2 153.6,310.2 153.7,310.2 153.8,310.2 153.9,310.2 154.0,310.2 154.1,310.2 154.2,310.2 154.3,310.2 154.4,310.2 154.5,310.2 154.6,310.2 154.7,310.2 154.8,310.2 154.9,310.2 155.0,310.2 155.1,310.2 155.2,310.2 155.3,310.2 155.4,310.2 155.5,310.2 155.6,310.2 155.7,310.2 155.8,310.2 155.9,310.2 156.0,310.2 156.1,310.2 156.2,310.2 156.3,310.2 156.4,310.2 156.5,310.2 156.6,310.2 156.7,310.2 156.8,310.2 156.9,310.2 157.0,310.2 157.1,310.2 157.2,310.2 157.3,310.2 157.4,310.2 157.5,310.2 157.6,310.2 157.7,310.2 157.8,310.2 157.9,310.2 158.0,310.2 158.1,310.2 158.2,310.2 158.3,310.2 158.4,310.2 158.5,310.2 158.6,310.2 158.7,310.2 158.8,310.2 158.9,310.2 159.0,310.2 159.1,310.2 159.2,310.2 159.3,310.2 159.4,310.2 159.5,310.2 159.6,310.2 159.7,310.2 159.8,310.2 159.9,310.2 160.0,310.2 160.1,310.2 160.2,310.2 160.3,310.2 160.4,310.2 160.5,310.2 160.6,310.2 160.7,310.2 160.8,310.2 160.9,310.2 161.0,310.2 161.1,310.2 161.2,310.2 161.3,310.2 161.4,310.2 161.5,310.2 161.6,310.2 161.7,310.2 161.8,310.2 161.9,310.2 162.0,310.2 162.1,310.2 162.2,310.2 162.3,310.2 162.4,310.2 162.5,310.2 162.6,310.2 162.7,310.2 162.8,310.2 162.9,310.2 163.0,310.2 163.1,310.2 163.2,310.2 163.3,310.2 163.4,310.2 163.5,310.2 163.6,310.2 163.7,310.2 163.8,310.2 163.9,310.2 164.0,310.2 164.1,310.2 164.2,310.2 164.3,310.2 164.4,310.2 164.4,310.2 164.5,310.2 164.6,310.2 164.7,310.2 164.8,310.2 164.9,310.2 165.0,310.2 165.1,310.2 165.2,310.2 165.3,310.2 165.4,310.2 165.5,310.2 165.6,310.2 165.7,310.2 165.8,310.2 165.9,310.2 166.0,310.2 166.1,310.2 166.2,310.2 166.3,310.2 166.4,310.2 166.5,310.2 166.6,310.2 166.7,310.2 166.8,310.2 166.9,310.2 167.0,310.2 167.1,310.2 167.2,310.2 167.3,310.2 167.4,310.2 167.5,310.2 167.6,310.2 167.7,310.2 167.8,310.2 167.9,310.2 168.0,310.2 168.1,310.2 168.2,310.2 168.3,310.2 168.4,310.2 168.5,310.2 168.6,310.2 168.7,310.2 168.8,310.2 168.9,310.2 169.0,310.2 169.1,310.2 169.2,310.2 169.3,310.2 169.4,310.2 169.5,310.2 169.6,310.2 169.7,310.2 169.8,310.2 169.9,310.2 170.0,310.2 170.1,310.2 170.2,310.2 170.3,310.2 170.4,310.2 170.5,310.2 170.6,310.2 170.7,310.2 170.8,310.2 170.9,310.2 171.0,310.2 171.1,310.2 171.2,310.2 171.3,310.2 171.4,310.2 171.5,310.2 171.6,310.2 171.7,310.2 171.8,310.2 171.9,310.2 172.0,310.2 172.1,310.2 172.2,310.2 172.3,310.2 172.4,310.2 172.5,310.2 172.6,310.2 172.7,310.2 172.8,310.2 172.9,310.2 173.0,310.2 173.1,310.2 173.2,310.2 173.3,310.2 173.4,310.2 173.5,310.2 173.6,310.2 173.7,310.2 173.8,310.2 173.9,310.2 174.0,310.2 174.1,310.2 174.2,310.2 174.3,310.2 174.4,310.2 174.5,310.2 174.6,310.2 174.7,310.2 174.8,310.2 174.9,310.2 175.0,310.2 175.1,310.2 175.2,310.2 175.3,310.2 175.4,310.2 175.5,310.2 175.6,310.2 175.7,310.2 175.8,310.2 175.9,310.2 176.0,310.2 176.1,310.2 176.2,310.2 176.3,310.2 176.4,310.2 176.5,310.2 176.6,310.2 176.7,310.2 176.8,310.2 176.8,310.2 176.9,310.2 177.0,310.2 177.1,310.2 177.2,310.2 177.3,310.2 177.4,310.2 177.5,310.2 177.6,310.2 177.7,310.2 177.8,310.2 177.9,310.2 178.0,310.2 178.1,310.2 178.2,310.2 178.3,310.2 178.4,310.2 178.5,310.2 178.6,310.2 178.7,310.2 178.8,310.2 178.9,310.2 179.0,310.2 179.1,310.2 179.2,310.2 179.3,310.2 179.4,310.2 179.5,310.2 179.6,310.2 179.7,310.2 179.8,310.2 179.9,310.2 180.0,310.2 180.1,310.2 180.2,310.2 180.3,310.2 180.4,310.2 180.5,310.2 180.6,310.2 180.7,310.2 180.8,310.2 180.9,310.2 181.0,310.2 181.1,310.2 181.2,310.2 181.3,310.2 181.4,310.2 181.5,310.2 181.6,310.2 181.7,310.2 181.8,310.2 181.9,310.2 182.0,310.2 182.1,310.2 182.2,310.2 182.3,310.2 182.4,310.2 182.5,310.2 182.6,310.2 182.7,310.2 182.8,310.2 182.9,310.2 183.0,310.2 183.1,310.2 183.2,310.2 183.3,310.2 183.4,310.2 183.5,310.2 183.6,310.2 183.7,310.2 183.8,310.2 183.9,310.2 184.0,310.2 184.1,310.2 184.2,310.2 184.3,310.2 184.4,310.2 184.5,310.2 184.6,310.2 184.7,310.2 184.8,310.2 184.9,310.2 185.0,310.2 185.1,310.2 185.2,310.2 185.3,310.2 185.4,310.2 185.5,310.2 185.6,310.2 185.7,310.2 185.8,310.2 185.9,310.2 186.0,310.2 186.1,310.2 186.2,310.2 186.3,310.2 186.4,310.2 186.5,310.2 186.6,310.2 186.7,310.2 186.8,310.2 186.9,310.2 187.0,310.2 187.1,310.2 187.2,310.2 187.3,310.2 187.4,310.2 187.5,310.2 187.6,310.2 187.7,310.2 187.8,310.2 187.9,310.2 188.0,310.2 188.1,310.2 188.2,310.2 188.3,310.2 188.4,310.2 188.5,310.2 188.6,310.2 188.7,310.2 188.8,310.2 188.9,310.2 189.0,310.2 189.1,310.2 189.2,310.2 189.2,310.2 189.3,310.2 189.4,310.2 189.5,310.2 189.5,320.5" fill="#8c95cc" stroke="none"/><polyline points="59.0,233.4 59.1,234.8 59.2,231.2 59.3,235.8 59.4,232.4 59.5,233.8 59.6,236.3 59.7,233.0 59.8,236.8 59.9,233.9 60.0,236.9 60.1,236.9 60.2,234.5 60.3,231.5 60.4,237.1 60.5,236.5 60.6,233.5 60.7,231.2 60.8,234.2 60.9,235.8 61.0,231.5 61.1,238.8 61.2,232.7 61.3,237.2 61.4,238.5 61.5,238.9 61.6,237.6 61.7,233.8 61.8,238.9 61.9,235.9 62.0,235.7 62.1,237.9 62.2,236.7 62.3,240.5 62.4,240.7 62.5,239.8 62.6,236.3 62.7,238.4 62.8,239.4 62.9,237.4 63.0,238.5 63.1,239.8 63.2,236.1 63.3,236.9 63.4,240.5 63.5,238.0 63.6,238.5 63.7,235.9 63.8,237.1 63.9,240.6 64.0,235.4 64.1,242.1 64.2,239.9 64.3,237.4 64.4,242.7 64.5,240.9 64.6,245.2 64.7,241.1 64.8,241.2 64.9,243.4 65.0,241.9 65.1,247.0 65.2,244.9 65.2,246.6 65.3,247.7 65.4,249.7 65.5,247.9 65.6,248.1 65.7,252.8 65.8,252.4 65.9,258.1 66.0,254.2 66.1,255.7 66.2,254.1 66.3,256.5 66.4,261.7 66.5,261.6 66.6,260.1 66.7,265.8 66.8,263.2 66.9,266.1 67.0,267.2 67.1,268.4 67.2,263.6 67.3,269.2 67.4,269.0 67.5,268.6 67.6,265.7 67.7,272.4 67.8,270.3 67.9,270.3 68.0,268.4 68.1,269.6 68.2,270.0 68.3,275.2 68.4,274.8 68.5,276.0 68.6,272.7 68.7,272.8 68.8,279.7 68.9,280.2 69.0,280.5 69.1,281.2 69.2,280.0 69.3,279.9 69.4,283.1 69.5,285.8 69.6,283.3 69.7,284.3 69.8,283.4 69.9,281.1 70.0,283.7 70.1,285.7 70.2,285.6 70.3,285.8 70.4,291.2 70.5,285.4 70.6,286.9 70.7,286.8 70.8,288.1 70.9,291.8 71.0,291.0 71.1,292.6 71.2,287.8 71.3,291.5 71.4,290.7 71.5,288.9 71.6,288.5 71.7,286.4 71.8,287.9 71.9,287.6 72.0,285.7 72.1,285.3 72.2,282.6 72.3,284.5 72.4,277.2 72.5,278.5 72.6,281.2 72.7,279.6 72.8,278.0 72.9,277.0 73.0,278.0 73.1,271.5 73.2,269.5 73.3,272.7 73.4,271.7 73.5,273.9 73.6,272.9 73.7,270.2 73.8,270.7 73.9,266.3 74.0,271.4 74.1,272.4 74.2,265.3 74.3,268.5 74.4,271.4 74.5,268.4 74.6,272.3 74.7,268.4 74.8,265.0 74.9,265.8 75.0,267.1 75.1,270.4 75.2,269.6 75.3,271.1 75.4,266.4 75.5,268.2 75.6,266.3 75.7,269.7 75.8,270.5 75.9,266.0 76.0,264.6 76.1,265.6 76.2,266.0 76.3,265.9 76.4,266.4 76.5,270.3 76.6,268.1 76.7,269.3 76.8,271.8 76.9,271.8 77.0,269.8 77.1,270.0 77.2,266.6 77.3,264.6 77.4,268.5 77.5,264.7 77.6,264.3 77.6,264.5 77.7,269.1 77.8,270.2 77.9,270.2 78.0,270.4 78.1,270.4 78.2,267.2 78.3,265.1 78.4,265.6 78.5,268.4 78.6,267.1 78.7,266.0 78.8,271.5 78.9,267.1 79.0,265.2 79.1,266.3 79.2,266.5 79.3,268.6 79.4,271.0 79.5,266.3 79.6,269.8 79.7,266.3 79.8,265.0 79.9,269.4 80.0,269.4 80.1,265.3 80.2,267.0 80.3,271.3 80.4,271.6 80.5,271.5 80.6,265.7 80.7,266.5 80.8,271.6 80.9,266.4 81.0,265.3 81.1,267.8 81.2,270.1 81.3,268.6 81.4,271.9 81.5,272.8 81.6,265.5 81.7,268.0 81.8,269.0 81.9,265.9 82.0,269.7 82.1,266.4 82.2,266.8 82.3,271.5 82.4,271.2 82.5,270.9 82.6,271.4 82.7,268.7 82.8,271.3 82.9,270.1 83.0,272.3 83.1,266.4 83.2,270.7 83.3,269.9 83.4,269.0 83.5,266.5 83.6,270.3 83.7,266.5 83.8,269.7 83.9,269.5 84.0,269.8 84.1,275.7 84.2,274.5 84.3,278.4 84.4,281.8 84.5,277.7 84.6,284.5 84.7,284.2 84.8,284.3 84.9,287.6 85.0,291.3 85.1,291.5 85.2,292.5 85.3,292.0 85.4,298.4 85.5,296.2 85.6,299.9 85.7,300.9 85.8,298.4 85.9,301.6 86.0,302.3 86.1,301.0 86.2,300.0 86.3,303.8 86.4,302.7 86.5,303.7 86.6,303.8 86.7,302.6 86.8,304.6 86.9,304.1 87.0,304.7 87.1,301.4 87.2,303.4 87.3,302.2 87.4,301.9 87.5,307.3 87.6,305.2 87.7,302.4 87.8,303.4 87.9,308.9 88.0,309.2 88.1,306.9 88.2,309.9 88.3,308.7 88.4,310.0 88.5,305.4 88.6,304.6 88.7,303.7 88.8,309.4 88.9,305.2 89.0,305.6 89.1,309.6 89.2,304.0 89.3,303.3 89.4,309.1 89.5,303.5 89.6,307.8 89.7,307.1 89.8,303.3 89.9,304.5 90.0,309.7 90.0,307.7 90.1,307.0 90.2,308.4 90.3,309.6 90.4,308.6 90.5,305.6 90.6,311.0 90.7,306.9 90.8,307.8 90.9,311.1 91.0,308.7 91.1,306.5 91.2,307.4 91.3,310.8 91.4,303.8 91.5,305.3 91.6,303.9 91.7,310.6 91.8,309.4 91.9,311.2 92.0,305.5 92.1,309.5 92.2,310.6 92.3,308.3 92.4,304.6 92.5,305.3 92.6,309.7 92.7,310.5 92.8,304.7 92.9,307.4 93.0,306.4 93.1,311.1 93.2,311.4 93.3,306.6 93.4,308.6 93.5,311.3 93.6,304.7 93.7,307.1 93.8,305.4 93.9,310.6 94.0,304.3 94.1,310.0 94.2,303.5 94.3,306.3 94.4,306.8 94.5,304.8 94.6,301.6 94.7,306.3 94.8,307.0 94.9,303.6 95.0,305.5 95.1,306.1 95.2,305.3 95.3,305.8 95.4,304.3 95.5,303.1 95.6,302.8 95.7,299.0 95.8,302.2 95.9,300.3 96.0,302.4 96.1,300.4 96.2,302.2 96.3,299.7 96.4,300.8 96.5,294.6 96.6,295.3 96.7,297.3 96.8,294.4 96.9,290.2 97.0,295.8 97.1,289.6 97.2,291.9 97.3,290.7 97.4,287.4 97.5,290.0 97.6,288.4 97.7,286.3 97.8,283.4 97.9,287.6 98.0,283.1 98.1,283.5 98.2,283.7 98.3,285.3 98.4,285.5 98.5,287.5 98.6,286.6 98.7,286.8 98.8,281.5 98.9,284.9 99.0,285.4 99.1,285.7 99.2,279.7 99.3,279.2 99.4,280.5 99.5,283.2 99.6,283.3 99.7,282.7 99.8,281.1 99.9,283.2 100.0,280.7 100.1,281.9 100.2,276.3 100.3,275.9 100.4,279.0 100.5,281.2 100.6,275.6 100.7,280.7 100.8,280.3 100.9,283.1 101.0,280.2 101.1,279.5 101.2,279.3 101.3,281.6 101.4,279.3 101.5,283.1 101.6,281.1 101.7,282.5 101.8,280.1 101.9,282.9 102.0,283.0 102.1,280.9 102.2,281.4 102.3,278.7 102.4,279.2 102.4,277.5 102.5,278.2 102.6,277.8 102.7,276.5 102.8,280.3 102.9,280.8 103.0,275.8 103.1,282.2 103.2,277.8 103.3,278.4 103.4,283.0 103.5,277.0 103.6,276.5 103.7,278.6 103.8,277.8 103.9,277.2 104.0,282.3 104.1,279.4 104.2,279.6 104.3,277.0 104.4,277.3 104.5,277.1 104.6,279.0 104.7,276.6 104.8,278.3 104.9,278.2 105.0,281.7 105.1,283.3 105.2,282.5 105.3,280.8 105.4,282.7 105.5,277.2 105.6,279.3 105.7,278.8 105.8,278.8 105.9,278.4 106.0,279.9 106.1,283.6 106.2,277.6 106.3,278.0 106.4,279.9 106.5,279.7 106.6,278.8 106.7,283.4 106.8,278.3 106.9,282.1 107.0,283.5 107.1,282.1 107.2,278.6 107.3,282.6 107.4,278.6 107.5,276.8 107.6,280.5 107.7,281.4 107.8,280.8 107.9,279.2 108.0,278.7 108.1,280.3 108.2,280.5 108.3,285.2 108.4,285.1 108.5,284.6 108.6,281.3 108.7,285.0 108.8,283.4 108.9,288.1 109.0,288.1 109.1,286.9 109.2,284.2 109.3,284.4 109.4,284.9 109.5,288.3 109.6,286.9 109.7,287.7 109.8,288.1 109.9,291.9 110.0,287.8 110.1,294.9 110.2,290.8 110.3,292.9 110.4,301.8 110.5,300.2 110.6,299.3 110.7,300.0 110.8,305.8 110.9,309.0 111.0,311.2 111.1,307.4 111.2,314.9 111.3,315.9 111.4,318.5 111.5,316.2 111.6,313.7 111.7,318.5 111.8,314.5 111.9,316.3 112.0,314.1 112.1,315.2 112.2,318.0 112.3,314.0 112.4,316.5 112.5,319.2 112.6,319.3 112.7,316.4 112.8,316.7 112.9,317.5 113.0,318.5 113.1,317.3 113.2,317.5 113.3,314.4 113.4,319.3 113.5,314.9 113.6,314.4 113.7,318.6 113.8,313.9 113.9,315.1 114.0,314.0 114.1,317.6 114.2,317.1 114.3,317.0 114.4,313.4 114.5,315.8 114.6,317.2 114.7,316.8 114.8,317.7 114.8,319.0 114.9,318.7 115.0,314.4 115.1,317.6 115.2,313.8 115.3,317.8 115.4,317.8 115.5,316.3 115.6,318.2 115.7,317.1 115.8,313.7 115.9,314.1 116.0,314.5 116.1,315.6 116.2,313.9 116.3,313.8 116.4,316.1 116.5,315.1 116.6,319.0 116.7,315.0 116.8,316.7 116.9,314.9 117.0,315.5 117.1,317.6 117.2,319.0 117.3,313.9 117.4,318.6 117.5,316.5 117.6,317.3 117.7,317.6 117.8,315.0 117.9,313.6 118.0,317.8 118.1,315.4 118.2,317.5 118.3,316.0 118.4,317.0 118.5,318.3 118.6,318.4 118.7,318.1 118.8,314.0 118.9,316.4 119.0,318.0 119.1,314.0 119.2,313.4 119.3,316.7 119.4,318.5 119.5,318.2 119.6,318.8 119.7,317.3 119.8,318.8 119.9,317.9 120.0,317.8 120.1,316.0 120.2,314.1 120.3,314.9 120.4,316.9 120.5,316.9 120.6,316.2 120.7,317.1 120.8,317.3 120.9,319.0 121.0,317.7 121.1,313.6 121.2,318.6 121.3,316.3 121.4,315.6 121.5,314.2 121.6,318.0 121.7,317.7 121.8,317.9 121.9,317.0 122.0,316.7 122.1,313.7 122.2,314.3 122.3,314.2 122.4,319.2 122.5,319.1 122.6,315.1 122.7,314.0 122.8,316.5 122.9,315.9 123.0,319.3 123.1,317.0 123.2,313.9 123.3,314.4 123.4,314.3 123.5,313.6 123.6,317.9 123.7,318.7 123.8,318.4 123.9,316.2 124.0,315.3 124.1,313.8 124.2,315.1 124.3,315.5 124.4,314.8 124.5,316.6 124.6,316.1 124.7,319.1 124.8,314.7 124.9,317.9 125.0,313.9 125.1,315.5 125.2,317.5 125.3,318.6 125.4,317.8 125.5,315.6 125.6,315.2 125.7,318.7 125.8,318.9 125.9,316.2 126.0,315.9 126.1,317.0 126.2,318.0 126.3,315.8 126.4,319.3 126.5,317.5 126.6,316.6 126.7,313.7 126.8,315.5 126.9,314.1 127.0,316.5 127.1,317.9 127.2,317.9 127.2,313.7 127.3,315.2 127.4,317.5 127.5,319.2 127.6,316.4 127.7,315.3 127.8,316.8 127.9,317.8 128.0,315.4 128.1,313.9 128.2,318.0 128.3,319.1 128.4,317.3 128.5,316.8 128.6,315.3 128.7,318.2 128.8,314.6 128.9,315.0 129.0,316.3 129.1,318.1 129.2,313.6 129.3,317.5 129.4,314.5 129.5,318.0 129.6,318.0 129.7,314.8 129.8,317.6 129.9,313.7 130.0,316.4 130.1,318.2 130.2,318.0 130.3,316.9 130.4,315.4 130.5,313.7 130.6,318.5 130.7,317.0 130.8,318.1 130.9,313.6 131.0,318.5 131.1,319.0 131.2,319.0 131.3,317.0 131.4,314.0 131.5,314.1 131.6,315.0 131.7,313.4 131.8,313.8 131.9,317.4 132.0,318.2 132.1,313.8 132.2,314.9 132.3,319.1 132.4,315.4 132.5,317.1 132.6,317.1 132.7,317.4 132.8,318.3 132.9,319.3 133.0,317.7 133.1,317.2 133.2,307.6 133.3,312.2 133.4,303.9 133.5,307.9 133.6,305.0 133.7,299.6 133.8,298.2 133.9,301.2 134.0,304.0 134.1,300.7 134.2,301.4 134.3,297.2 134.4,302.7 134.5,301.3 134.6,297.1 134.7,303.7 134.8,300.7 134.9,297.6 135.0,297.8 135.1,303.3 135.2,303.3 135.3,303.0 135.4,296.4 135.5,301.4 135.6,297.6 135.7,296.3 135.8,300.6 135.9,301.0 136.0,295.8 136.1,298.4 136.2,301.1 136.3,297.6 136.4,300.7 136.5,301.0 136.6,303.1 136.7,297.4 136.8,296.2 136.9,298.3 137.0,296.0 137.1,303.0 137.2,301.4 137.3,299.6 137.4,295.9 137.5,295.9 137.6,300.3 137.7,301.4 137.8,300.0 137.9,299.5 138.0,296.2 138.1,301.9 138.2,297.2 138.3,297.7 138.4,297.0 138.5,297.4 138.6,298.7 138.7,300.9 138.8,300.9 138.9,300.6 139.0,297.4 139.1,302.8 139.2,301.9 139.3,297.7 139.4,301.6 139.5,303.0 139.6,303.2 139.6,299.3 139.7,301.0 139.8,296.0 139.9,296.7 140.0,296.0 140.1,301.5 140.2,302.9 140.3,302.8 140.4,299.8 140.5,298.1 140.6,300.2 140.7,301.8 140.8,300.4 140.9,298.9 141.0,298.5 141.1,297.9 141.2,297.2 141.3,298.6 141.4,302.8 141.5,297.3 141.6,301.5 141.7,299.5 141.8,301.0 141.9,298.3 142.0,302.5 142.1,302.2 142.2,302.3 142.3,303.0 142.4,297.5 142.5,299.9 142.6,301.9 142.7,301.4 142.8,296.9 142.9,300.7 143.0,302.8 143.1,298.5 143.2,299.7 143.3,297.2 143.4,304.0 143.5,301.2 143.6,298.7 143.7,298.6 143.8,298.1 143.9,304.8 144.0,302.9 144.1,304.3 144.2,303.8 144.3,297.9 144.4,300.9 144.5,298.3 144.6,302.7 144.7,298.9 144.8,302.2 144.9,303.7 145.0,299.8 145.1,298.6 145.2,305.1 145.3,301.4 145.4,301.2 145.5,304.6 145.6,305.2 145.7,308.7 145.8,309.9 145.9,311.3 146.0,310.4 146.1,315.5 146.2,318.1 146.3,319.3 146.4,317.4 146.5,315.3 146.6,318.2 146.7,317.5 146.8,318.1 146.9,314.6 147.0,316.1 147.1,318.9 147.2,318.7 147.3,317.0 147.4,316.1 147.5,315.5 147.6,318.8 147.7,318.4 147.8,315.2 147.9,316.9 148.0,317.6 148.1,317.5 148.2,313.7 148.3,317.5 148.4,316.0 148.5,317.2 148.6,316.9 148.7,314.2 148.8,313.4 148.9,317.2 149.0,318.2 149.1,315.0 149.2,318.1 149.3,319.3 149.4,314.0 149.5,316.8 149.6,314.5 149.7,316.9 149.8,314.1 149.9,316.6 150.0,318.4 150.1,319.2 150.2,316.1 150.3,315.5 150.4,314.0 150.5,318.8 150.6,315.6 150.7,317.1 150.8,316.3 150.9,318.5 151.0,317.6 151.1,316.2 151.2,313.9 151.3,318.7 151.4,316.4 151.5,314.6 151.6,313.6 151.7,318.2 151.8,318.6 151.9,313.8 152.0,313.6 152.0,316.5 152.1,319.0 152.2,313.9 152.3,317.0 152.4,314.0 152.5,315.7 152.6,314.5 152.7,318.4 152.8,314.7 152.9,318.0 153.0,316.9 153.1,314.3 153.2,314.4 153.3,318.2 153.4,318.0 153.5,317.0 153.6,316.3 153.7,317.1 153.8,318.6 153.9,317.9 154.0,315.0 154.1,314.0 154.2,319.1 154.3,316.0 154.4,314.9 154.5,319.1 154.6,314.4 154.7,318.6 154.8,315.8 154.9,316.1 155.0,315.6 155.1,317.5 155.2,316.8 155.3,315.9 155.4,316.8 155.5,315.4 155.6,316.7 155.7,316.7 155.8,319.2 155.9,315.7 156.0,316.4 156.1,317.9 156.2,314.8 156.3,314.7 156.4,316.6 156.5,318.3 156.6,316.5 156.7,318.7 156.8,318.6 156.9,316.8 157.0,318.8 157.1,316.7 157.2,316.3 157.3,319.1 157.4,315.6 157.5,318.8 157.6,315.0 157.7,314.7 157.8,316.3 157.9,319.0 158.0,316.3 158.1,317.1 158.2,313.7 158.3,318.5 158.4,314.3 158.5,313.4 158.6,315.0 158.7,314.5 158.8,318.2 158.9,313.5 159.0,316.4 159.1,313.7 159.2,313.9 159.3,318.3 159.4,314.7 159.5,313.8 159.6,318.9 159.7,317.2 159.8,314.9 159.9,318.4 160.0,314.0 160.1,317.7 160.2,314.5 160.3,318.5 160.4,316.4 160.5,313.9 160.6,318.1 160.7,317.8 160.8,316.3 160.9,317.4 161.0,319.1 161.1,318.2 161.2,318.4 161.3,313.8 161.4,315.3 161.5,314.0 161.6,318.3 161.7,314.7 161.8,318.6 161.9,316.2 162.0,315.6 162.1,317.2 162.2,314.2 162.3,316.0 162.4,315.9 162.5,314.1 162.6,318.7 162.7,313.5 162.8,315.6 162.9,317.0 163.0,314.6 163.1,317.8 163.2,313.5 163.3,315.9 163.4,317.2 163.5,314.8 163.6,316.7 163.7,318.3 163.8,314.9 163.9,319.0 164.0,314.5 164.1,317.8 164.2,315.5 164.3,313.5 164.4,315.9 164.4,315.4 164.5,317.5 164.6,319.3 164.7,319.1 164.8,318.4 164.9,315.7 165.0,316.8 165.1,316.3 165.2,314.0 165.3,318.5 165.4,318.0 165.5,315.5 165.6,319.2 165.7,319.3 165.8,317.2 165.9,318.7 166.0,317.2 166.1,318.0 166.2,315.9 166.3,315.8 166.4,318.1 166.5,315.6 166.6,316.5 166.7,318.5 166.8,313.8 166.9,317.9 167.0,318.4 167.1,318.8 167.2,315.6 167.3,314.2 167.4,314.7 167.5,316.9 167.6,317.8 167.7,319.3 167.8,315.5 167.9,316.0 168.0,317.3 168.1,315.5 168.2,316.7 168.3,313.8 168.4,315.0 168.5,317.9 168.6,314.0 168.7,319.1 168.8,316.2 168.9,316.9 169.0,317.9 169.1,319.0 169.2,314.7 169.3,319.2 169.4,316.1 169.5,313.8 169.6,318.5 169.7,318.1 169.8,315.7 169.9,316.3 170.0,315.5 170.1,314.5 170.2,318.3 170.3,317.5 170.4,317.5 170.5,319.0 170.6,314.1 170.7,314.7 170.8,315.1 170.9,319.3 171.0,314.3 171.1,314.9 171.2,316.6 171.3,314.9 171.4,316.7 171.5,318.0 171.6,318.7 171.7,317.9 171.8,319.1 171.9,317.3 172.0,314.9 172.1,315.2 172.2,314.3 172.3,315.1 172.4,317.8 172.5,316.1 172.6,316.7 172.7,314.7 172.8,316.2 172.9,317.8 173.0,315.5 173.1,313.6 173.2,318.0 173.3,314.1 173.4,319.2 173.5,317.8 173.6,317.9 173.7,314.9 173.8,313.7 173.9,314.9 174.0,317.4 174.1,314.1 174.2,317.4 174.3,317.9 174.4,314.0 174.5,315.6 174.6,315.2 174.7,315.4 174.8,313.5 174.9,316.5 175.0,314.4 175.1,315.2 175.2,314.3 175.3,316.7 175.4,315.0 175.5,316.0 175.6,317.5 175.7,318.1 175.8,315.6 175.9,318.9 176.0,313.9 176.1,318.5 176.2,319.2 176.3,318.7 176.4,313.8 176.5,317.3 176.6,318.5 176.7,319.2 176.8,319.1 176.8,315.2 176.9,315.6 177.0,315.2 177.1,315.0 177.2,318.9 177.3,315.8 177.4,317.2 177.5,314.5 177.6,314.5 177.7,314.1 177.8,318.9 177.9,314.2 178.0,313.9 178.1,313.7 178.2,318.7 178.3,318.1 178.4,318.7 178.5,319.1 178.6,314.3 178.7,314.5 178.8,315.6 178.9,314.5 179.0,315.6 179.1,317.6 179.2,318.7 179.3,318.7 179.4,314.9 179.5,318.1 179.6,317.4 179.7,316.8 179.8,319.2 179.9,317.8 180.0,317.7 180.1,315.1 180.2,317.1 180.3,317.4 180.4,313.6 180.5,316.3 180.6,314.3 180.7,315.7 180.8,319.1 180.9,316.9 181.0,316.7 181.1,314.8 181.2,317.3 181.3,315.2 181.4,316.1 181.5,318.0 181.6,314.2 181.7,318.8 181.8,314.5 181.9,318.3 182.0,319.3 182.1,318.1 182.2,314.8 182.3,313.6 182.4,319.3 182.5,316.4 182.6,316.4 182.7,314.6 182.8,318.2 182.9,316.4 183.0,317.3 183.1,314.4 183.2,317.8 183.3,313.8 183.4,317.6 183.5,318.1 183.6,315.2 183.7,316.4 183.8,318.7 183.9,315.6 184.0,318.8 184.1,314.7 184.2,315.2 184.3,314.7 184.4,315.6 184.5,317.2 184.6,317.0 184.7,317.0 184.8,314.1 184.9,318.8 185.0,314.1 185.1,319.2 185.2,318.1 185.3,317.8 185.4,314.0 185.5,316.4 185.6,317.1 185.7,314.1 185.8,317.9 185.9,316.6 186.0,316.2 186.1,314.9 186.2,314.9 186.3,315.5 186.4,317.3 186.5,317.4 186.6,318.4 186.7,314.3 186.8,315.4 186.9,314.9 187.0,318.3 187.1,316.7 187.2,314.8 187.3,315.9 187.4,318.6 187.5,316.6 187.6,314.1 187.7,317.9 187.8,318.2 187.9,317.5 188.0,315.2 188.1,314.3 188.2,318.4 188.3,318.4 188.4,317.9 188.5,317.4 188.6,316.2 188.7,318.4 188.8,317.4 188.9,318.2 189.0,313.6 189.1,315.0 189.2,318.7 189.2,313.6 189.3,318.7 189.4,317.1 189.5,313.5" fill="none" stroke="#283482" stroke-width="1.1"/><line x1="111.7" y1="320.5" x2="111.7" y2="300.326" stroke="#283482" stroke-width="0.8"/><line x1="114.841" y1="320.5" x2="114.841" y2="304.786" stroke="#283482" stroke-width="0.8"/><line x1="116.817" y1="320.5" x2="116.817" y2="302.27" stroke="#283482" stroke-width="0.8"/><line x1="118.599" y1="320.5" x2="118.599" y2="307.617" stroke="#283482" stroke-width="0.8"/><line x1="120.992" y1="320.5" x2="120.992" y2="309.755" stroke="#283482" stroke-width="0.8"/><line x1="123.407" y1="320.5" x2="123.407" y2="300.374" stroke="#283482" stroke-width="0.8"/><line x1="126.462" y1="320.5" x2="126.462" y2="303.974" stroke="#283482" stroke-width="0.8"/><line x1="129.384" y1="320.5" x2="129.384" y2="304.435" stroke="#283482" stroke-width="0.8"/><line x1="131.242" y1="320.5" x2="131.242" y2="302.695" stroke="#283482" stroke-width="0.8"/><line x1="148.803" y1="320.5" x2="148.803" y2="304.957" stroke="#283482" stroke-width="0.8"/><line x1="150.849" y1="320.5" x2="150.849" y2="301.227" stroke="#283482" stroke-width="0.8"/><line x1="154.309" y1="320.5" x2="154.309" y2="300.585" stroke="#283482" stroke-width="0.8"/><line x1="157.378" y1="320.5" x2="157.378" y2="299.613" stroke="#283482" stroke-width="0.8"/><line x1="160.403" y1="320.5" x2="160.403" y2="302.226" stroke="#283482" stroke-width="0.8"/><line x1="162.938" y1="320.5" x2="162.938" y2="306.297" stroke="#283482" stroke-width="0.8"/><line x1="165.851" y1="320.5" x2="165.851" y2="308.962" stroke="#283482" stroke-width="0.8"/><line x1="168.311" y1="320.5" x2="168.311" y2="300.481" stroke="#283482" stroke-width="0.8"/><line x1="171.409" y1="320.5" x2="171.409" y2="302.374" stroke="#283482" stroke-width="0.8"/><line x1="173.502" y1="320.5" x2="173.502" y2="304.927" stroke="#283482" stroke-width="0.8"/><line x1="176.039" y1="320.5" x2="176.039" y2="302.474" stroke="#283482" stroke-width="0.8"/><line x1="178.478" y1="320.5" x2="178.478" y2="301.809" stroke="#283482" stroke-width="0.8"/><line x1="182.046" y1="320.5" x2="182.046" y2="307.907" stroke="#283482" stroke-width="0.8"/><line x1="185.016" y1="320.5" x2="185.016" y2="300.533" stroke="#283482" stroke-width="0.8"/><line x1="187.41" y1="320.5" x2="187.41" y2="304.106" stroke="#283482" stroke-width="0.8"/><line x1="64.208" y1="239.316" x2="64.208" y2="222.56" stroke="#2f3c88" stroke-width="1"/><line x1="74.128" y1="268.777" x2="74.128" y2="248.815" stroke="#2f3c88" stroke-width="1"/><line x1="79.398" y1="268.488" x2="79.398" y2="243.21" stroke="#2f3c88" stroke-width="1"/><line x1="99.672" y1="281.063" x2="99.672" y2="267.4" stroke="#2f3c88" stroke-width="1"/><line x1="104.508" y1="279.623" x2="104.508" y2="261.5" stroke="#2f3c88" stroke-width="1"/><line x1="134.826" y1="299.998" x2="134.826" y2="285.395" stroke="#2f3c88" stroke-width="1"/><line x1="139.91" y1="299.686" x2="139.91" y2="270.055" stroke="#2f3c88" stroke-width="1"/><line x1="185.666" y1="313.125" x2="185.666" y2="288.05" stroke="#2f3c88" stroke-width="1"/><rect x="111.204" y="314.01" width="78.296" height="6.49" fill="#2f3c88" opacity="0.7"/><line x1="64.208" y1="202.5" x2="64.208" y2="320.5" stroke="#3a4898" stroke-width="1.1" stroke-dasharray="2.2,2.2"/><line x1="79.212" y1="202.5" x2="79.212" y2="320.5" stroke="#3a4898" stroke-width="1.1" stroke-dasharray="2.2,2.2"/><line x1="104.57" y1="202.5" x2="104.57" y2="320.5" stroke="#3a4898" stroke-width="1.1" stroke-dasharray="2.2,2.2"/><line x1="140.22" y1="202.5" x2="140.22" y2="320.5" stroke="#3a4898" stroke-width="1.1" stroke-dasharray="2.2,2.2"/><line x1="185.604" y1="202.5" x2="185.604" y2="320.5" stroke="#3a4898" stroke-width="1.1" stroke-dasharray="2.2,2.2"/><rect x="59.5" y="202.5" width="130" height="118" fill="none" stroke="#444" stroke-width="1.0"/><text x="56.5" y="206" font-size="10" text-anchor="end" fill="#3a3a3a">0</text><text x="56.5" y="235.5" font-size="10" text-anchor="end" fill="#3a3a3a">-10</text><line x1="59.5" y1="232" x2="61.1" y2="232" stroke="#555" stroke-width="0.7"/><line x1="189.5" y1="232" x2="187.9" y2="232" stroke="#555" stroke-width="0.7"/><text x="56.5" y="265" font-size="10" text-anchor="end" fill="#3a3a3a">-20</text><line x1="59.5" y1="261.5" x2="61.1" y2="261.5" stroke="#555" stroke-width="0.7"/><line x1="189.5" y1="261.5" x2="187.9" y2="261.5" stroke="#555" stroke-width="0.7"/><text x="56.5" y="294.5" font-size="10" text-anchor="end" fill="#3a3a3a">-30</text><line x1="59.5" y1="291" x2="61.1" y2="291" stroke="#555" stroke-width="0.7"/><line x1="189.5" y1="291" x2="187.9" y2="291" stroke="#555" stroke-width="0.7"/><text x="56.5" y="324" font-size="10" text-anchor="end" fill="#3a3a3a">-40</text><text x="59" y="333.2" font-size="9.6" text-anchor="middle" fill="#3a3a3a">0</text><text x="90" y="333.2" font-size="9.6" text-anchor="middle" fill="#3a3a3a">500</text><line x1="90" y1="202.5" x2="90" y2="204" stroke="#555" stroke-width="0.6"/><line x1="90" y1="320.5" x2="90" y2="319" stroke="#555" stroke-width="0.6"/><text x="121" y="333.2" font-size="9.6" text-anchor="middle" fill="#3a3a3a">1000</text><line x1="121" y1="202.5" x2="121" y2="204" stroke="#555" stroke-width="0.6"/><line x1="121" y1="320.5" x2="121" y2="319" stroke="#555" stroke-width="0.6"/><text x="152" y="333.2" font-size="9.6" text-anchor="middle" fill="#3a3a3a">1500</text><line x1="152" y1="202.5" x2="152" y2="204" stroke="#555" stroke-width="0.6"/><line x1="152" y1="320.5" x2="152" y2="319" stroke="#555" stroke-width="0.6"/><text x="183" y="333.2" font-size="9.6" text-anchor="middle" fill="#3a3a3a">2000</text><line x1="183" y1="202.5" x2="183" y2="204" stroke="#555" stroke-width="0.6"/><line x1="183" y1="320.5" x2="183" y2="319" stroke="#555" stroke-width="0.6"/><text x="124" y="346.5" font-size="11.5" text-anchor="middle" fill="#3a3a3a">Harmonic Order</text><text x="38.5" y="261" font-size="11.5" text-anchor="middle" fill="#3a3a3a" transform="rotate(-90 38.5 261)">Yield (log<tspan font-size="7.5" dy="2.5">10</tspan><tspan dy="-2.5"> scale, arb. units)</tspan></text><text x="66.1" y="189.2" font-size="9.1" text-anchor="middle" font-weight="bold" fill="#111" transform="rotate(-90 66.1 189.2)">(1,1)</text><text x="80.6" y="189.2" font-size="9.1" text-anchor="middle" font-weight="bold" fill="#111" transform="rotate(-90 80.6 189.2)">(2,2)</text><text x="107.5" y="189.2" font-size="9.1" text-anchor="middle" font-weight="bold" fill="#111" transform="rotate(-90 107.5 189.2)">(3,3)</text><text x="143.4" y="189.2" font-size="9.1" text-anchor="middle" font-weight="bold" fill="#111" transform="rotate(-90 143.4 189.2)">(4,4)</text><text x="188.8" y="189.2" font-size="9.1" text-anchor="middle" font-weight="bold" fill="#111" transform="rotate(-90 188.8 189.2)">(5,5)</text><text x="76" y="241" font-size="9.1" text-anchor="middle" font-weight="bold" fill="#111" transform="rotate(-90 76 241)">(1,3)</text><text x="100.7" y="255" font-size="9.1" text-anchor="middle" font-weight="bold" fill="#111" transform="rotate(-90 100.7 255)">(1,4)</text><text x="136.4" y="272" font-size="9.1" text-anchor="middle" font-weight="bold" fill="#111" transform="rotate(-90 136.4 272)">(3,5)</text><line x1="263.3" y1="80.3" x2="427.3" y2="80.3" stroke="#222" stroke-width="1"/><polyline points="263.3,80.3 263.8,79.2 264.4,78.1 264.9,76.9 265.5,75.8 266.0,74.7 266.6,73.6 267.1,72.5 267.7,71.3 268.2,70.2 268.8,69.1 269.3,68.0 269.9,67.0 270.4,65.9 271.0,64.8 271.5,63.7 272.1,62.6 272.6,61.6 273.2,60.5 273.7,59.5 274.3,58.5 274.8,57.4 275.4,56.4 275.9,55.4 276.5,54.4 277.0,53.5 277.6,52.5 278.1,51.5 278.7,50.6 279.2,49.7 279.8,48.8 280.3,47.9 280.9,47.0 281.4,46.1 281.9,45.2 282.5,44.4 283.0,43.6 283.6,42.8 284.1,42.0 284.7,41.2 285.2,40.4 285.8,39.7 286.3,39.0 286.9,38.3 287.4,37.6 288.0,36.9 288.5,36.3 289.1,35.6 289.6,35.0 290.2,34.4 290.7,33.9 291.3,33.3 291.8,32.8 292.4,32.3 292.9,31.8 293.5,31.3 294.0,30.9 294.6,30.5 295.1,30.1 295.7,29.7 296.2,29.3 296.8,29.0 297.3,28.7 297.9,28.4 298.4,28.2 299.0,27.9 299.5,27.7 300.0,27.5 300.6,27.3 301.1,27.2 301.7,27.1 302.2,27.0 302.8,26.9 303.3,26.8 303.9,26.8 304.4,26.8 305.0,26.8 305.5,26.9 306.1,26.9 306.6,27.0 307.2,27.1 307.7,27.3 308.3,27.4 308.8,27.6 309.4,27.8 309.9,28.0 310.5,28.3 311.0,28.6 311.6,28.9 312.1,29.2 312.7,29.5 313.2,29.9 313.8,30.3 314.3,30.7 314.9,31.1 315.4,31.6 316.0,32.0 316.5,32.5 317.1,33.1 317.6,33.6 318.1,34.2 318.7,34.7 319.2,35.3 319.8,36.0 320.3,36.6 320.9,37.3 321.4,37.9 322.0,38.6 322.5,39.3 323.1,40.1 323.6,40.8 324.2,41.6 324.7,42.4 325.3,43.2 325.8,44.0 326.4,44.8 326.9,45.7 327.5,46.5 328.0,47.4 328.6,48.3 329.1,49.2 329.7,50.1 330.2,51.1 330.8,52.0 331.3,53.0 331.9,54.0 332.4,54.9 333.0,55.9 333.5,56.9 334.1,58.0 334.6,59.0 335.2,60.0 335.7,61.1 336.2,62.1 336.8,63.2 337.3,64.2 337.9,65.3 338.4,66.4 339.0,67.5 339.5,68.6 340.1,69.7 340.6,70.8 341.2,71.9 341.7,73.0 342.3,74.1 342.8,75.2 343.4,76.4 343.9,77.5 344.5,78.6 345.0,79.7 345.6,80.9 346.1,82.0 346.7,83.1 347.2,84.2 347.8,85.4 348.3,86.5 348.9,87.6 349.4,88.7 350.0,89.8 350.5,90.9 351.1,92.0 351.6,93.1 352.2,94.2 352.7,95.3 353.3,96.4 353.8,97.4 354.4,98.5 354.9,99.5 355.4,100.6 356.0,101.6 356.5,102.6 357.1,103.7 357.6,104.7 358.2,105.7 358.7,106.6 359.3,107.6 359.8,108.6 360.4,109.5 360.9,110.5 361.5,111.4 362.0,112.3 362.6,113.2 363.1,114.1 363.7,114.9 364.2,115.8 364.8,116.6 365.3,117.4 365.9,118.2 366.4,119.0 367.0,119.8 367.5,120.5 368.1,121.3 368.6,122.0 369.2,122.7 369.7,123.3 370.3,124.0 370.8,124.6 371.4,125.3 371.9,125.9 372.5,126.4 373.0,127.0 373.5,127.5 374.1,128.1 374.6,128.6 375.2,129.0 375.7,129.5 376.3,129.9 376.8,130.3 377.4,130.7 377.9,131.1 378.5,131.4 379.0,131.7 379.6,132.0 380.1,132.3 380.7,132.6 381.2,132.8 381.8,133.0 382.3,133.2 382.9,133.3 383.4,133.5 384.0,133.6 384.5,133.7 385.1,133.7 385.6,133.8 386.2,133.8 386.7,133.8 387.3,133.8 387.8,133.7 388.4,133.6 388.9,133.5 389.5,133.4 390.0,133.3 390.6,133.1 391.1,132.9 391.6,132.7 392.2,132.4 392.7,132.2 393.3,131.9 393.8,131.6 394.4,131.3 394.9,130.9 395.5,130.5 396.0,130.1 396.6,129.7 397.1,129.3 397.7,128.8 398.2,128.3 398.8,127.8 399.3,127.3 399.9,126.7 400.4,126.2 401.0,125.6 401.5,125.0 402.1,124.3 402.6,123.7 403.2,123.0 403.7,122.3 404.3,121.6 404.8,120.9 405.4,120.2 405.9,119.4 406.5,118.6 407.0,117.8 407.6,117.0 408.1,116.2 408.7,115.4 409.2,114.5 409.7,113.6 410.3,112.7 410.8,111.8 411.4,110.9 411.9,110.0 412.5,109.1 413.0,108.1 413.6,107.1 414.1,106.2 414.7,105.2 415.2,104.2 415.8,103.2 416.3,102.1 416.9,101.1 417.4,100.1 418.0,99.0 418.5,98.0 419.1,96.9 419.6,95.8 420.2,94.7 420.7,93.6 421.3,92.6 421.8,91.5 422.4,90.4 422.9,89.3 423.5,88.1 424.0,87.0 424.6,85.9 425.1,84.8 425.7,83.7 426.2,82.5 426.8,81.4 427.3,80.3" fill="none" stroke="#c0392b" stroke-width="1.1"/><polyline points="305.4,80.3 306.5,80.3 307.5,80.2 308.5,80.2 309.5,80.1 310.6,79.9 311.6,79.8 312.6,79.6 313.6,79.4 314.7,79.2 315.7,78.9 316.7,78.6 317.7,78.3 318.8,78.0 319.8,77.6 320.8,77.2 321.8,76.8 322.9,76.4 323.9,75.9 324.9,75.5 325.9,75.0 327.0,74.4 328.0,73.9 329.0,73.4 330.0,72.8 331.0,72.2 332.1,71.6 333.1,71.0 334.1,70.4 335.1,69.8 336.2,69.1 337.2,68.5 338.2,67.8 339.2,67.1 340.3,66.5 341.3,65.8 342.3,65.1 343.3,64.4 344.4,63.7 345.4,63.0 346.4,62.3 347.4,61.6 348.5,60.9 349.5,60.2 350.5,59.6 351.5,58.9 352.6,58.2 353.6,57.6 354.6,56.9 355.6,56.3 356.6,55.6 357.7,55.0 358.7,54.4 359.7,53.8 360.7,53.2 361.8,52.7 362.8,52.1 363.8,51.6 364.8,51.1 365.9,50.6 366.9,50.1 367.9,49.7 368.9,49.2 370.0,48.8 371.0,48.5 372.0,48.1 373.0,47.8 374.1,47.5 375.1,47.2 376.1,46.9 377.1,46.7 378.1,46.5 379.2,46.3 380.2,46.2 381.2,46.0 382.2,45.9 383.3,45.9 384.3,45.8 385.3,45.8 386.3,45.8 387.4,45.9 388.4,46.0 389.4,46.1 390.4,46.2 391.5,46.4 392.5,46.5 393.5,46.8 394.5,47.0 395.6,47.3 396.6,47.6 397.6,47.9 398.6,48.2 399.7,48.6 400.7,49.0 401.7,49.4 402.7,49.9 403.7,50.4 404.8,50.9 405.8,51.4 406.8,51.9 407.8,52.5 408.9,53.0 409.9,53.6 410.9,54.2 411.9,54.9 413.0,55.5 414.0,56.2 415.0,56.8 416.0,57.5 417.1,58.2 418.1,58.9 419.1,59.6 420.1,60.4 421.2,61.1 422.2,61.9 423.2,62.6 424.2,63.3 425.3,64.1 426.3,64.9 427.3,65.6" fill="none" stroke="#3a4fa8" stroke-width="0.9"/><polyline points="306.9,80.3 308.0,80.3 309.0,80.2 310.0,80.2 311.0,80.1 312.0,80.0 313.0,79.8 314.0,79.6 315.0,79.4 316.0,79.2 317.1,79.0 318.1,78.7 319.1,78.4 320.1,78.1 321.1,77.7 322.1,77.3 323.1,76.9 324.1,76.5 325.1,76.1 326.2,75.7 327.2,75.2 328.2,74.7 329.2,74.2 330.2,73.7 331.2,73.1 332.2,72.6 333.2,72.0 334.3,71.5 335.3,70.9 336.3,70.3 337.3,69.7 338.3,69.0 339.3,68.4 340.3,67.8 341.3,67.2 342.3,66.5 343.4,65.9 344.4,65.2 345.4,64.6 346.4,64.0 347.4,63.3 348.4,62.7 349.4,62.0 350.4,61.4 351.4,60.8 352.5,60.1 353.5,59.5 354.5,58.9 355.5,58.3 356.5,57.7 357.5,57.2 358.5,56.6 359.5,56.1 360.5,55.5 361.6,55.0 362.6,54.5 363.6,54.0 364.6,53.6 365.6,53.1 366.6,52.7 367.6,52.3 368.6,51.9 369.7,51.5 370.7,51.2 371.7,50.9 372.7,50.6 373.7,50.3 374.7,50.0 375.7,49.8 376.7,49.6 377.7,49.5 378.8,49.3 379.8,49.2 380.8,49.1 381.8,49.0 382.8,49.0 383.8,49.0 384.8,49.0 385.8,49.1 386.8,49.1 387.9,49.2 388.9,49.4 389.9,49.5 390.9,49.7 391.9,49.9 392.9,50.1 393.9,50.4 394.9,50.7 395.9,51.0 397.0,51.4 398.0,51.7 399.0,52.1 400.0,52.6 401.0,53.0 402.0,53.5 403.0,54.0 404.0,54.5 405.0,55.0 406.1,55.6 407.1,56.1 408.1,56.7 409.1,57.3 410.1,58.0 411.1,58.6 412.1,59.3 413.1,60.0 414.2,60.7 415.2,61.4 416.2,62.1 417.2,62.8 418.2,63.5 419.2,64.3 420.2,65.1 421.2,65.8 422.2,66.6 423.3,67.4 424.3,68.2 425.3,68.9 426.3,69.7 427.3,70.5" fill="none" stroke="#3a4fa8" stroke-width="0.9"/><polyline points="308.4,80.3 309.4,80.3 310.4,80.2 311.4,80.2 312.4,80.1 313.4,80.0 314.4,79.8 315.4,79.7 316.4,79.5 317.4,79.2 318.4,79.0 319.4,78.7 320.4,78.5 321.4,78.1 322.4,77.8 323.4,77.5 324.4,77.1 325.4,76.7 326.4,76.3 327.4,75.9 328.4,75.4 329.4,75.0 330.4,74.5 331.4,74.0 332.4,73.5 333.4,73.0 334.4,72.4 335.4,71.9 336.4,71.3 337.4,70.8 338.4,70.2 339.4,69.6 340.4,69.1 341.4,68.5 342.4,67.9 343.4,67.3 344.4,66.7 345.4,66.1 346.4,65.5 347.4,64.9 348.4,64.3 349.4,63.7 350.4,63.1 351.4,62.6 352.4,62.0 353.4,61.4 354.4,60.9 355.4,60.3 356.4,59.8 357.4,59.3 358.4,58.7 359.4,58.2 360.4,57.7 361.4,57.3 362.4,56.8 363.4,56.4 364.4,55.9 365.4,55.5 366.4,55.2 367.4,54.8 368.4,54.4 369.4,54.1 370.4,53.8 371.4,53.5 372.4,53.3 373.4,53.0 374.4,52.8 375.4,52.6 376.4,52.5 377.4,52.3 378.4,52.2 379.4,52.1 380.4,52.1 381.4,52.0 382.4,52.0 383.4,52.0 384.4,52.1 385.3,52.2 386.3,52.3 387.3,52.4 388.3,52.5 389.3,52.7 390.3,52.9 391.3,53.2 392.3,53.4 393.3,53.7 394.3,54.0 395.3,54.4 396.3,54.7 397.3,55.1 398.3,55.5 399.3,56.0 400.3,56.4 401.3,56.9 402.3,57.4 403.3,58.0 404.3,58.5 405.3,59.1 406.3,59.7 407.3,60.3 408.3,60.9 409.3,61.6 410.3,62.2 411.3,62.9 412.3,63.6 413.3,64.3 414.3,65.1 415.3,65.8 416.3,66.6 417.3,67.3 418.3,68.1 419.3,68.9 420.3,69.7 421.3,70.5 422.3,71.3 423.3,72.1 424.3,72.9 425.3,73.7 426.3,74.5 427.3,75.3" fill="none" stroke="#3a4fa8" stroke-width="0.9"/><polyline points="309.9,80.3 310.9,80.3 311.9,80.2 312.9,80.2 313.9,80.1 314.9,80.0 315.9,79.8 316.8,79.7 317.8,79.5 318.8,79.3 319.8,79.1 320.8,78.8 321.8,78.5 322.8,78.2 323.7,77.9 324.7,77.6 325.7,77.2 326.7,76.9 327.7,76.5 328.7,76.1 329.7,75.7 330.6,75.2 331.6,74.8 332.6,74.3 333.6,73.8 334.6,73.4 335.6,72.9 336.6,72.4 337.6,71.8 338.5,71.3 339.5,70.8 340.5,70.2 341.5,69.7 342.5,69.2 343.5,68.6 344.5,68.1 345.4,67.5 346.4,67.0 347.4,66.4 348.4,65.9 349.4,65.3 350.4,64.8 351.4,64.3 352.3,63.7 353.3,63.2 354.3,62.7 355.3,62.2 356.3,61.7 357.3,61.2 358.3,60.8 359.2,60.3 360.2,59.9 361.2,59.4 362.2,59.0 363.2,58.6 364.2,58.2 365.2,57.9 366.2,57.5 367.1,57.2 368.1,56.9 369.1,56.6 370.1,56.3 371.1,56.1 372.1,55.8 373.1,55.6 374.0,55.5 375.0,55.3 376.0,55.2 377.0,55.1 378.0,55.0 379.0,54.9 380.0,54.9 380.9,54.9 381.9,54.9 382.9,55.0 383.9,55.0 384.9,55.1 385.9,55.3 386.9,55.4 387.9,55.6 388.8,55.8 389.8,56.0 390.8,56.3 391.8,56.6 392.8,56.9 393.8,57.2 394.8,57.6 395.7,58.0 396.7,58.4 397.7,58.8 398.7,59.3 399.7,59.7 400.7,60.2 401.7,60.8 402.6,61.3 403.6,61.9 404.6,62.5 405.6,63.1 406.6,63.7 407.6,64.4 408.6,65.0 409.5,65.7 410.5,66.4 411.5,67.1 412.5,67.9 413.5,68.6 414.5,69.4 415.5,70.2 416.5,70.9 417.4,71.7 418.4,72.5 419.4,73.4 420.4,74.2 421.4,75.0 422.4,75.8 423.4,76.7 424.3,77.5 425.3,78.4 426.3,79.2 427.3,80.1" fill="none" stroke="#3a4fa8" stroke-width="0.9"/><polyline points="311.4,80.3 312.4,80.3 313.4,80.3 314.4,80.2 315.3,80.1 316.3,80.0 317.3,79.9 318.2,79.7 319.2,79.5 320.2,79.3 321.2,79.1 322.1,78.9 323.1,78.6 324.1,78.3 325.1,78.0 326.0,77.7 327.0,77.4 328.0,77.0 329.0,76.7 329.9,76.3 330.9,75.9 331.9,75.5 332.9,75.1 333.8,74.6 334.8,74.2 335.8,73.7 336.7,73.3 337.7,72.8 338.7,72.3 339.7,71.8 340.6,71.4 341.6,70.9 342.6,70.4 343.6,69.9 344.5,69.4 345.5,68.9 346.5,68.4 347.5,67.9 348.4,67.3 349.4,66.9 350.4,66.4 351.4,65.9 352.3,65.4 353.3,64.9 354.3,64.4 355.2,64.0 356.2,63.5 357.2,63.1 358.2,62.7 359.1,62.3 360.1,61.9 361.1,61.5 362.1,61.1 363.0,60.7 364.0,60.4 365.0,60.1 366.0,59.8 366.9,59.5 367.9,59.2 368.9,58.9 369.9,58.7 370.8,58.5 371.8,58.3 372.8,58.2 373.7,58.0 374.7,57.9 375.7,57.8 376.7,57.7 377.6,57.7 378.6,57.6 379.6,57.6 380.6,57.7 381.5,57.7 382.5,57.8 383.5,57.9 384.5,58.0 385.4,58.2 386.4,58.3 387.4,58.5 388.4,58.8 389.3,59.0 390.3,59.3 391.3,59.6 392.2,59.9 393.2,60.3 394.2,60.7 395.2,61.1 396.1,61.5 397.1,61.9 398.1,62.4 399.1,62.9 400.0,63.4 401.0,64.0 402.0,64.6 403.0,65.1 403.9,65.7 404.9,66.4 405.9,67.0 406.9,67.7 407.8,68.4 408.8,69.1 409.8,69.8 410.7,70.5 411.7,71.3 412.7,72.0 413.7,72.8 414.6,73.6 415.6,74.4 416.6,75.2 417.6,76.0 418.5,76.9 419.5,77.7 420.5,78.6 421.5,79.4 422.4,80.3 423.4,81.2 424.4,82.0 425.4,82.9 426.3,83.8 427.3,84.7" fill="none" stroke="#3a4fa8" stroke-width="0.9"/><polyline points="312.9,80.3 313.9,80.3 314.9,80.3 315.8,80.2 316.8,80.1 317.7,80.0 318.7,79.9 319.7,79.7 320.6,79.6 321.6,79.4 322.5,79.2 323.5,79.0 324.5,78.7 325.4,78.4 326.4,78.2 327.3,77.9 328.3,77.6 329.3,77.2 330.2,76.9 331.2,76.5 332.2,76.2 333.1,75.8 334.1,75.4 335.0,75.0 336.0,74.6 337.0,74.1 337.9,73.7 338.9,73.3 339.8,72.8 340.8,72.4 341.8,71.9 342.7,71.5 343.7,71.0 344.6,70.6 345.6,70.1 346.6,69.6 347.5,69.2 348.5,68.7 349.5,68.3 350.4,67.8 351.4,67.4 352.3,66.9 353.3,66.5 354.3,66.1 355.2,65.7 356.2,65.3 357.1,64.9 358.1,64.5 359.1,64.1 360.0,63.7 361.0,63.4 361.9,63.1 362.9,62.7 363.9,62.4 364.8,62.2 365.8,61.9 366.8,61.6 367.7,61.4 368.7,61.2 369.6,61.0 370.6,60.8 371.6,60.7 372.5,60.5 373.5,60.4 374.4,60.3 375.4,60.3 376.4,60.2 377.3,60.2 378.3,60.2 379.2,60.2 380.2,60.3 381.2,60.4 382.1,60.5 383.1,60.6 384.1,60.7 385.0,60.9 386.0,61.1 386.9,61.3 387.9,61.6 388.9,61.9 389.8,62.2 390.8,62.5 391.7,62.8 392.7,63.2 393.7,63.6 394.6,64.0 395.6,64.5 396.5,64.9 397.5,65.4 398.5,66.0 399.4,66.5 400.4,67.1 401.4,67.6 402.3,68.2 403.3,68.9 404.2,69.5 405.2,70.2 406.2,70.9 407.1,71.6 408.1,72.3 409.0,73.0 410.0,73.8 411.0,74.5 411.9,75.3 412.9,76.1 413.8,76.9 414.8,77.7 415.8,78.6 416.7,79.4 417.7,80.2 418.7,81.1 419.6,82.0 420.6,82.9 421.5,83.7 422.5,84.6 423.5,85.5 424.4,86.4 425.4,87.3 426.3,88.2 427.3,89.1" fill="none" stroke="#3a4fa8" stroke-width="0.9"/><polyline points="314.4,80.3 315.4,80.3 316.3,80.3 317.3,80.2 318.2,80.1 319.2,80.0 320.1,79.9 321.1,79.8 322.0,79.6 323.0,79.4 323.9,79.2 324.9,79.0 325.8,78.8 326.8,78.5 327.7,78.3 328.7,78.0 329.6,77.7 330.6,77.4 331.5,77.1 332.4,76.8 333.4,76.4 334.3,76.1 335.3,75.7 336.2,75.3 337.2,74.9 338.1,74.5 339.1,74.1 340.0,73.7 341.0,73.3 341.9,72.9 342.9,72.5 343.8,72.1 344.8,71.7 345.7,71.3 346.7,70.8 347.6,70.4 348.6,70.0 349.5,69.6 350.5,69.2 351.4,68.8 352.4,68.4 353.3,68.0 354.3,67.6 355.2,67.3 356.2,66.9 357.1,66.5 358.1,66.2 359.0,65.9 360.0,65.5 360.9,65.2 361.9,64.9 362.8,64.7 363.7,64.4 364.7,64.1 365.6,63.9 366.6,63.7 367.5,63.5 368.5,63.3 369.4,63.2 370.4,63.0 371.3,62.9 372.3,62.8 373.2,62.7 374.2,62.7 375.1,62.6 376.1,62.6 377.0,62.6 378.0,62.6 378.9,62.7 379.9,62.8 380.8,62.9 381.8,63.0 382.7,63.2 383.7,63.3 384.6,63.5 385.6,63.8 386.5,64.0 387.5,64.3 388.4,64.6 389.4,64.9 390.3,65.2 391.3,65.6 392.2,66.0 393.2,66.4 394.1,66.9 395.1,67.3 396.0,67.8 396.9,68.3 397.9,68.9 398.8,69.4 399.8,70.0 400.7,70.6 401.7,71.2 402.6,71.8 403.6,72.5 404.5,73.2 405.5,73.9 406.4,74.6 407.4,75.3 408.3,76.1 409.3,76.8 410.2,77.6 411.2,78.4 412.1,79.2 413.1,80.0 414.0,80.9 415.0,81.7 415.9,82.6 416.9,83.4 417.8,84.3 418.8,85.2 419.7,86.1 420.7,87.0 421.6,87.9 422.6,88.8 423.5,89.7 424.5,90.7 425.4,91.6 426.4,92.5 427.3,93.4" fill="none" stroke="#3a4fa8" stroke-width="0.9"/><polyline points="315.9,80.3 316.9,80.3 317.8,80.3 318.7,80.2 319.7,80.1 320.6,80.0 321.5,79.9 322.5,79.8 323.4,79.6 324.3,79.5 325.3,79.3 326.2,79.1 327.2,78.9 328.1,78.7 329.0,78.4 330.0,78.1 330.9,77.9 331.8,77.6 332.8,77.3 333.7,77.0 334.6,76.7 335.6,76.3 336.5,76.0 337.5,75.7 338.4,75.3 339.3,74.9 340.3,74.6 341.2,74.2 342.1,73.8 343.1,73.5 344.0,73.1 344.9,72.7 345.9,72.3 346.8,72.0 347.7,71.6 348.7,71.2 349.6,70.8 350.6,70.5 351.5,70.1 352.4,69.8 353.4,69.4 354.3,69.1 355.2,68.7 356.2,68.4 357.1,68.1 358.0,67.8 359.0,67.5 359.9,67.2 360.8,66.9 361.8,66.7 362.7,66.4 363.7,66.2 364.6,66.0 365.5,65.8 366.5,65.6 367.4,65.5 368.3,65.3 369.3,65.2 370.2,65.1 371.1,65.0 372.1,64.9 373.0,64.9 374.0,64.9 374.9,64.8 375.8,64.9 376.8,64.9 377.7,65.0 378.6,65.0 379.6,65.1 380.5,65.3 381.4,65.4 382.4,65.6 383.3,65.8 384.2,66.0 385.2,66.3 386.1,66.5 387.1,66.8 388.0,67.1 388.9,67.5 389.9,67.9 390.8,68.2 391.7,68.6 392.7,69.1 393.6,69.5 394.5,70.0 395.5,70.5 396.4,71.0 397.4,71.6 398.3,72.2 399.2,72.8 400.2,73.4 401.1,74.0 402.0,74.7 403.0,75.3 403.9,76.0 404.8,76.7 405.8,77.4 406.7,78.2 407.6,79.0 408.6,79.7 409.5,80.5 410.5,81.3 411.4,82.2 412.3,83.0 413.3,83.8 414.2,84.7 415.1,85.6 416.1,86.5 417.0,87.4 417.9,88.3 418.9,89.2 419.8,90.1 420.7,91.0 421.7,91.9 422.6,92.9 423.6,93.8 424.5,94.8 425.4,95.7 426.4,96.7 427.3,97.6" fill="none" stroke="#3a4fa8" stroke-width="0.9"/><polyline points="317.4,80.3 318.3,80.3 319.3,80.3 320.2,80.2 321.1,80.1 322.0,80.1 323.0,80.0 323.9,79.8 324.8,79.7 325.7,79.5 326.7,79.4 327.6,79.2 328.5,79.0 329.4,78.8 330.3,78.5 331.3,78.3 332.2,78.0 333.1,77.8 334.0,77.5 335.0,77.2 335.9,76.9 336.8,76.6 337.7,76.3 338.7,76.0 339.6,75.7 340.5,75.4 341.4,75.0 342.4,74.7 343.3,74.4 344.2,74.0 345.1,73.7 346.0,73.3 347.0,73.0 347.9,72.7 348.8,72.3 349.7,72.0 350.7,71.7 351.6,71.3 352.5,71.0 353.4,70.7 354.4,70.4 355.3,70.1 356.2,69.8 357.1,69.5 358.0,69.3 359.0,69.0 359.9,68.8 360.8,68.5 361.7,68.3 362.7,68.1 363.6,67.9 364.5,67.7 365.4,67.6 366.4,67.4 367.3,67.3 368.2,67.2 369.1,67.1 370.1,67.0 371.0,67.0 371.9,66.9 372.8,66.9 373.7,66.9 374.7,66.9 375.6,67.0 376.5,67.1 377.4,67.1 378.4,67.2 379.3,67.4 380.2,67.5 381.1,67.7 382.1,67.9 383.0,68.1 383.9,68.4 384.8,68.6 385.7,68.9 386.7,69.2 387.6,69.6 388.5,69.9 389.4,70.3 390.4,70.7 391.3,71.1 392.2,71.6 393.1,72.1 394.1,72.6 395.0,73.1 395.9,73.6 396.8,74.2 397.8,74.8 398.7,75.4 399.6,76.0 400.5,76.6 401.4,77.3 402.4,78.0 403.3,78.7 404.2,79.4 405.1,80.2 406.1,80.9 407.0,81.7 407.9,82.5 408.8,83.3 409.8,84.1 410.7,84.9 411.6,85.8 412.5,86.6 413.4,87.5 414.4,88.4 415.3,89.3 416.2,90.2 417.1,91.1 418.1,92.0 419.0,93.0 419.9,93.9 420.8,94.9 421.8,95.8 422.7,96.8 423.6,97.7 424.5,98.7 425.5,99.7 426.4,100.6 427.3,101.6" fill="none" stroke="#3a4fa8" stroke-width="0.9"/><line x1="397.78" y1="21.5" x2="397.78" y2="139.6" stroke="#333" stroke-width="0.9" stroke-dasharray="2.5,1.6"/><line x1="407.62" y1="21.5" x2="407.62" y2="139.6" stroke="#333" stroke-width="0.9" stroke-dasharray="2.5,1.6"/><line x1="422.38" y1="21.5" x2="422.38" y2="139.6" stroke="#333" stroke-width="0.9" stroke-dasharray="2.5,1.6"/><rect x="263.3" y="21.5" width="164" height="118.1" fill="none" stroke="#444" stroke-width="1.1"/><text x="263.3" y="152.8" font-size="10" text-anchor="middle" fill="#3a3a3a">0</text><text x="296.1" y="152.8" font-size="10" text-anchor="middle" fill="#3a3a3a">0.2</text><line x1="296.1" y1="139.6" x2="296.1" y2="137.8" stroke="#555" stroke-width="0.7"/><line x1="296.1" y1="21.5" x2="296.1" y2="23.3" stroke="#555" stroke-width="0.7"/><text x="328.9" y="152.8" font-size="10" text-anchor="middle" fill="#3a3a3a">0.4</text><line x1="328.9" y1="139.6" x2="328.9" y2="137.8" stroke="#555" stroke-width="0.7"/><line x1="328.9" y1="21.5" x2="328.9" y2="23.3" stroke="#555" stroke-width="0.7"/><text x="361.7" y="152.8" font-size="10" text-anchor="middle" fill="#3a3a3a">0.6</text><line x1="361.7" y1="139.6" x2="361.7" y2="137.8" stroke="#555" stroke-width="0.7"/><line x1="361.7" y1="21.5" x2="361.7" y2="23.3" stroke="#555" stroke-width="0.7"/><text x="394.5" y="152.8" font-size="10" text-anchor="middle" fill="#3a3a3a">0.8</text><line x1="394.5" y1="139.6" x2="394.5" y2="137.8" stroke="#555" stroke-width="0.7"/><line x1="394.5" y1="21.5" x2="394.5" y2="23.3" stroke="#555" stroke-width="0.7"/><text x="427.3" y="152.8" font-size="10" text-anchor="middle" fill="#3a3a3a">1</text><text x="345" y="166" font-size="11.5" text-anchor="middle" fill="#3a3a3a">Time (Number of Cycles)</text><text x="395.3" y="15.2" font-size="14.5" text-anchor="middle" fill="#111">t</text><text x="399.1" y="19.3" font-size="8" text-anchor="middle" fill="#111">1</text><text x="407" y="15.2" font-size="14.5" text-anchor="middle" fill="#111">t</text><text x="410.8" y="19.3" font-size="8" text-anchor="middle" fill="#111">2</text><text x="420.6" y="15.2" font-size="14.5" text-anchor="middle" fill="#111">t</text><text x="424.4" y="19.3" font-size="8" text-anchor="middle" fill="#111">3</text><clipPath id="ca"><rect x="35" y="21" width="146" height="119"/></clipPath><text x="482.8" y="27.2" font-size="9.6" text-anchor="end" fill="#3a3a3a">2000</text><text x="482.8" y="50.9" font-size="9.6" text-anchor="end" fill="#3a3a3a">1500</text><text x="482.8" y="74.6" font-size="9.6" text-anchor="end" fill="#3a3a3a">1000</text><text x="482.8" y="98.3" font-size="9.6" text-anchor="end" fill="#3a3a3a">500</text><text x="482.8" y="122" font-size="9.6" text-anchor="end" fill="#3a3a3a">0</text><text x="482.8" y="145.7" font-size="9.6" text-anchor="end" fill="#3a3a3a">-500</text><text x="636" y="26.6" font-size="9" text-anchor="start" fill="#3a3a3a">0</text><text x="636" y="50.4" font-size="9" text-anchor="start" fill="#3a3a3a">-2</text><text x="636" y="74.2" font-size="9" text-anchor="start" fill="#3a3a3a">-4</text><text x="636" y="98" font-size="9" text-anchor="start" fill="#3a3a3a">-6</text><text x="636" y="121.8" font-size="9" text-anchor="start" fill="#3a3a3a">-8</text><text x="636" y="145.6" font-size="9" text-anchor="start" fill="#3a3a3a">-10</text><text x="519.5" y="155.1" font-size="10" text-anchor="middle" fill="#3a3a3a">-20</text><text x="554.8" y="155.1" font-size="10" text-anchor="middle" fill="#3a3a3a">0</text><text x="590.1" y="155.1" font-size="10" text-anchor="middle" fill="#3a3a3a">20</text><text x="554.8" y="168" font-size="11.5" text-anchor="middle" fill="#3a3a3a">x (a.u.)</text><text x="459.5" y="81.7" font-size="11.5" text-anchor="middle" fill="#3a3a3a" transform="rotate(-90 459.5 81.7)">y (a.u.)</text><text x="525.6" y="15" font-size="11" fill="#111">t<tspan font-size="7" dy="2">1</tspan><tspan dy="-2">=0.82 T</tspan></text><clipPath id="cd"><rect x="486" y="23" width="138" height="119"/></clipPath><polyline points="483.0,129.7 483.3,128.4 483.6,127.2 483.9,126.3 484.2,125.7 484.5,125.4 484.8,125.5 485.1,125.9 485.4,126.6 485.7,127.6 486.0,128.8 486.3,130.1 486.6,131.6 486.9,133.1 487.2,134.5 487.5,135.9 487.8,137.1 488.1,138.2 488.4,139.2 488.7,140.0 489.0,140.6 489.3,141.1 489.6,141.5 489.9,141.8 490.2,142.1 490.5,142.2 490.8,142.4 491.1,142.4 491.4,142.5 491.7,142.5 492.0,142.6 492.3,142.6 492.6,142.6 492.9,142.6 493.2,142.6 493.5,142.6 493.8,142.6 494.1,142.6 494.4,142.6 494.7,142.6 495.0,142.6 495.3,142.6 495.6,142.6 495.9,142.6 496.2,142.6 496.5,142.6 496.8,142.6 497.1,142.6 497.4,142.6 497.7,142.6 498.0,142.6 498.3,142.6 498.6,142.6 498.9,142.6 499.2,142.6 499.5,142.6 499.8,142.6 500.1,142.6 500.4,142.6 500.7,142.6 501.0,142.6 501.3,142.6 501.6,142.6 501.9,142.6 502.2,142.6 502.5,142.6 502.8,142.6 503.1,142.6 503.4,142.6 503.7,142.6 504.0,142.6 504.3,142.6 504.6,142.6 504.9,142.6 505.2,142.6 505.5,142.6 505.8,142.6 506.1,142.6 506.4,142.6 506.7,142.6 507.0,142.6 507.3,142.6 507.6,142.6 507.9,142.6 508.2,142.6 508.5,142.6 508.8,142.6 509.1,142.6 509.4,142.6 509.7,142.6 510.0,142.6 510.3,142.6 510.6,142.6 510.9,142.6 511.2,142.6 511.5,142.6 511.8,142.6 512.1,142.6 512.4,142.6 512.7,142.5 513.0,142.5 513.3,142.5 513.6,142.4 513.9,142.3 514.2,142.1 514.5,141.9 514.8,141.7 515.1,141.3 515.4,140.8 515.7,140.2 516.0,139.4 516.3,138.5 516.6,137.5 516.9,136.3 517.2,135.0 517.5,133.5 517.8,132.1 518.1,130.6 518.4,129.2 518.7,128.0 519.0,126.9 519.3,126.1 519.6,125.6 519.9,125.4 520.2,125.6 520.5,126.1 520.8,126.9 521.1,128.0 521.4,129.2 521.7,130.6 522.0,132.1 522.3,133.5 522.6,135.0 522.9,136.3 523.2,137.5 523.5,138.5 523.8,139.4 524.1,140.2 524.4,140.8 524.7,141.3 525.0,141.7 525.3,141.9 525.6,142.1 525.9,142.3 526.2,142.4 526.5,142.5 526.8,142.5 527.1,142.5 527.4,142.6 527.7,142.6 528.0,142.6 528.3,142.6 528.6,142.6 528.9,142.6 529.2,142.6 529.5,142.6 529.8,142.6 530.1,142.6 530.4,142.6 530.7,142.6 531.0,142.6 531.3,142.6 531.6,142.6 531.9,142.6 532.2,142.6 532.5,142.6 532.8,142.6 533.1,142.6 533.4,142.6 533.7,142.6 534.0,142.6 534.3,142.6 534.6,142.6 534.9,142.6 535.2,142.6 535.5,142.6 535.8,142.6 536.1,142.6 536.4,142.6 536.7,142.6 537.0,142.6 537.3,142.6 537.6,142.6 537.9,142.6 538.2,142.6 538.5,142.6 538.8,142.6 539.1,142.6 539.4,142.6 539.7,142.6 540.0,142.6 540.3,142.6 540.6,142.6 540.9,142.6 541.2,142.6 541.5,142.6 541.8,142.6 542.1,142.6 542.4,142.6 542.7,142.6 543.0,142.6 543.3,142.6 543.6,142.6 543.9,142.6 544.2,142.6 544.5,142.6 544.8,142.6 545.1,142.6 545.4,142.6 545.7,142.6 546.0,142.6 546.3,142.6 546.6,142.6 546.9,142.6 547.2,142.6 547.5,142.6 547.8,142.6 548.1,142.5 548.4,142.5 548.7,142.4 549.0,142.4 549.3,142.2 549.6,142.1 549.9,141.8 550.2,141.5 550.5,141.1 550.8,140.6 551.1,140.0 551.4,139.2 551.7,138.2 552.0,137.1 552.3,135.9 552.6,134.5 552.9,133.1 553.2,131.6 553.5,130.1 553.8,128.8 554.1,127.6 554.4,126.6 554.7,125.9 555.0,125.5 555.3,125.4 555.6,125.7 555.9,126.3 556.2,127.2 556.5,128.4 556.8,129.7 557.1,131.1 557.4,132.6 557.7,134.0 558.0,135.4 558.3,136.7 558.6,137.9 558.9,138.9 559.2,139.7 559.5,140.4 559.8,141.0 560.1,141.4 560.4,141.8 560.7,142.0 561.0,142.2 561.3,142.3 561.6,142.4 561.9,142.5 562.2,142.5 562.5,142.6 562.8,142.6 563.1,142.6 563.4,142.6 563.7,142.6 564.0,142.6 564.3,142.6 564.6,142.6 564.9,142.6 565.2,142.6 565.5,142.6 565.8,142.6 566.1,142.6 566.4,142.6 566.7,142.6 567.0,142.6 567.3,142.6 567.6,142.6 567.9,142.6 568.2,142.6 568.5,142.6 568.8,142.6 569.1,142.6 569.4,142.6 569.7,142.6 570.0,142.6 570.3,142.6 570.6,142.6 570.9,142.6 571.2,142.6 571.5,142.6 571.8,142.6 572.1,142.6 572.4,142.6 572.7,142.6 573.0,142.6 573.3,142.6 573.6,142.6 573.9,142.6 574.2,142.6 574.5,142.6 574.8,142.6 575.1,142.6 575.4,142.6 575.7,142.6 576.0,142.6 576.3,142.6 576.6,142.6 576.9,142.6 577.2,142.6 577.5,142.6 577.8,142.6 578.1,142.6 578.4,142.6 578.7,142.6 579.0,142.6 579.3,142.6 579.6,142.6 579.9,142.6 580.2,142.6 580.5,142.6 580.8,142.6 581.1,142.6 581.4,142.6 581.7,142.6 582.0,142.6 582.3,142.6 582.6,142.6 582.9,142.6 583.2,142.6 583.5,142.5 583.8,142.5 584.1,142.4 584.4,142.3 584.7,142.2 585.0,142.0 585.3,141.8 585.6,141.4 585.9,141.0 586.2,140.4 586.5,139.7 586.8,138.9 587.1,137.9 587.4,136.7 587.7,135.4 588.0,134.0 588.3,132.6 588.6,131.1 588.9,129.7 589.2,128.4 589.5,127.2 589.8,126.3 590.1,125.7 590.4,125.4 590.7,125.5 591.0,125.9 591.3,126.6 591.6,127.6 591.9,128.8 592.2,130.1 592.5,131.6 592.8,133.1 593.1,134.5 593.4,135.9 593.7,137.1 594.0,138.2 594.3,139.2 594.6,140.0 594.9,140.6 595.2,141.1 595.5,141.5 595.8,141.8 596.1,142.1 596.4,142.2 596.7,142.4 597.0,142.4 597.3,142.5 597.6,142.5 597.9,142.6 598.2,142.6 598.5,142.6 598.8,142.6 599.1,142.6 599.4,142.6 599.7,142.6 600.0,142.6 600.3,142.6 600.6,142.6 600.9,142.6 601.2,142.6 601.5,142.6 601.8,142.6 602.1,142.6 602.4,142.6 602.7,142.6 603.0,142.6 603.3,142.6 603.6,142.6 603.9,142.6 604.2,142.6 604.5,142.6 604.8,142.6 605.1,142.6 605.4,142.6 605.7,142.6 606.0,142.6 606.3,142.6 606.6,142.6 606.9,142.6 607.2,142.6 607.5,142.6 607.8,142.6 608.1,142.6 608.4,142.6 608.7,142.6 609.0,142.6 609.3,142.6 609.6,142.6 609.9,142.6 610.2,142.6 610.5,142.6 610.8,142.6 611.1,142.6 611.4,142.6 611.7,142.6 612.0,142.6 612.3,142.6 612.6,142.6 612.9,142.6 613.2,142.6 613.5,142.6 613.8,142.6 614.1,142.6 614.4,142.6 614.7,142.6 615.0,142.6 615.3,142.6 615.6,142.6 615.9,142.6 616.2,142.6 616.5,142.6 616.8,142.6 617.1,142.6 617.4,142.6 617.7,142.6 618.0,142.6 618.3,142.6 618.6,142.5 618.9,142.5 619.2,142.5 619.5,142.4 619.8,142.3 620.1,142.1 620.4,141.9 620.7,141.7 621.0,141.3 621.3,140.8 621.6,140.2 621.9,139.4 622.2,138.5 622.5,137.5 622.8,136.3 623.1,135.0 623.4,133.5 623.7,132.1 624.0,130.6 624.3,129.2 624.6,128.0 624.9,126.9 625.2,126.1 625.5,125.6 625.8,125.4 626.1,125.6 626.4,126.1 626.7,126.9 627.0,128.0" fill="none" stroke="#f0f0f6" stroke-width="1.4" clip-path="url(#cd)"/><text x="279.8" y="200.4" font-size="9.6" text-anchor="end" fill="#3a3a3a">2000</text><text x="279.8" y="224.1" font-size="9.6" text-anchor="end" fill="#3a3a3a">1500</text><text x="279.8" y="247.8" font-size="9.6" text-anchor="end" fill="#3a3a3a">1000</text><text x="279.8" y="271.5" font-size="9.6" text-anchor="end" fill="#3a3a3a">500</text><text x="279.8" y="295.2" font-size="9.6" text-anchor="end" fill="#3a3a3a">0</text><text x="279.8" y="318.9" font-size="9.6" text-anchor="end" fill="#3a3a3a">-500</text><text x="433" y="199.8" font-size="9" text-anchor="start" fill="#3a3a3a">0</text><text x="433" y="223.6" font-size="9" text-anchor="start" fill="#3a3a3a">-2</text><text x="433" y="247.4" font-size="9" text-anchor="start" fill="#3a3a3a">-4</text><text x="433" y="271.2" font-size="9" text-anchor="start" fill="#3a3a3a">-6</text><text x="433" y="295" font-size="9" text-anchor="start" fill="#3a3a3a">-8</text><text x="433" y="318.8" font-size="9" text-anchor="start" fill="#3a3a3a">-10</text><text x="316.5" y="328.3" font-size="10" text-anchor="middle" fill="#3a3a3a">-20</text><text x="351.8" y="328.3" font-size="10" text-anchor="middle" fill="#3a3a3a">0</text><text x="387.1" y="328.3" font-size="10" text-anchor="middle" fill="#3a3a3a">20</text><text x="351.8" y="341.2" font-size="11.5" text-anchor="middle" fill="#3a3a3a">x (a.u.)</text><text x="256.5" y="254.9" font-size="11.5" text-anchor="middle" fill="#3a3a3a" transform="rotate(-90 256.5 254.9)">y (a.u.)</text><text x="322" y="189.3" font-size="11" fill="#111">t<tspan font-size="7" dy="2">2</tspan><tspan dy="-2">=0.88 T</tspan></text><clipPath id="ce"><rect x="283" y="196.2" width="138" height="119"/></clipPath><polyline points="280.0,303.2 280.3,301.9 280.6,300.8 280.9,299.9 281.2,299.3 281.5,299.0 281.8,299.1 282.1,299.5 282.4,300.2 282.7,301.1 283.0,302.3 283.3,303.6 283.6,305.0 283.9,306.5 284.2,307.9 284.5,309.2 284.8,310.4 285.1,311.5 285.4,312.4 285.7,313.2 286.0,313.9 286.3,314.4 286.6,314.8 286.9,315.1 287.2,315.3 287.5,315.5 287.8,315.6 288.1,315.6 288.4,315.7 288.7,315.7 289.0,315.8 289.3,315.8 289.6,315.8 289.9,315.8 290.2,315.8 290.5,315.8 290.8,315.8 291.1,315.8 291.4,315.8 291.7,315.8 292.0,315.8 292.3,315.8 292.6,315.8 292.9,315.8 293.2,315.8 293.5,315.8 293.8,315.8 294.1,315.8 294.4,315.8 294.7,315.8 295.0,315.8 295.3,315.8 295.6,315.8 295.9,315.8 296.2,315.8 296.5,315.8 296.8,315.8 297.1,315.8 297.4,315.8 297.7,315.8 298.0,315.8 298.3,315.8 298.6,315.8 298.9,315.8 299.2,315.8 299.5,315.8 299.8,315.8 300.1,315.8 300.4,315.8 300.7,315.8 301.0,315.8 301.3,315.8 301.6,315.8 301.9,315.8 302.2,315.8 302.5,315.8 302.8,315.8 303.1,315.8 303.4,315.8 303.7,315.8 304.0,315.8 304.3,315.8 304.6,315.8 304.9,315.8 305.2,315.8 305.5,315.8 305.8,315.8 306.1,315.8 306.4,315.8 306.7,315.8 307.0,315.8 307.3,315.8 307.6,315.8 307.9,315.8 308.2,315.8 308.5,315.8 308.8,315.8 309.1,315.8 309.4,315.8 309.7,315.7 310.0,315.7 310.3,315.7 310.6,315.6 310.9,315.5 311.2,315.4 311.5,315.1 311.8,314.9 312.1,314.5 312.4,314.0 312.7,313.4 313.0,312.7 313.3,311.8 313.6,310.8 313.9,309.6 314.2,308.3 314.5,307.0 314.8,305.5 315.1,304.1 315.4,302.7 315.7,301.5 316.0,300.5 316.3,299.7 316.6,299.2 316.9,299.0 317.2,299.2 317.5,299.7 317.8,300.5 318.1,301.5 318.4,302.7 318.7,304.1 319.0,305.5 319.3,307.0 319.6,308.3 319.9,309.6 320.2,310.8 320.5,311.8 320.8,312.7 321.1,313.4 321.4,314.0 321.7,314.5 322.0,314.9 322.3,315.1 322.6,315.4 322.9,315.5 323.2,315.6 323.5,315.7 323.8,315.7 324.1,315.7 324.4,315.8 324.7,315.8 325.0,315.8 325.3,315.8 325.6,315.8 325.9,315.8 326.2,315.8 326.5,315.8 326.8,315.8 327.1,315.8 327.4,315.8 327.7,315.8 328.0,315.8 328.3,315.8 328.6,315.8 328.9,315.8 329.2,315.8 329.5,315.8 329.8,315.8 330.1,315.8 330.4,315.8 330.7,315.8 331.0,315.8 331.3,315.8 331.6,315.8 331.9,315.8 332.2,315.8 332.5,315.8 332.8,315.8 333.1,315.8 333.4,315.8 333.7,315.8 334.0,315.8 334.3,315.8 334.6,315.8 334.9,315.8 335.2,315.8 335.5,315.8 335.8,315.8 336.1,315.8 336.4,315.8 336.7,315.8 337.0,315.8 337.3,315.8 337.6,315.8 337.9,315.8 338.2,315.8 338.5,315.8 338.8,315.8 339.1,315.8 339.4,315.8 339.7,315.8 340.0,315.8 340.3,315.8 340.6,315.8 340.9,315.8 341.2,315.8 341.5,315.8 341.8,315.8 342.1,315.8 342.4,315.8 342.7,315.8 343.0,315.8 343.3,315.8 343.6,315.8 343.9,315.8 344.2,315.8 344.5,315.8 344.8,315.8 345.1,315.7 345.4,315.7 345.7,315.6 346.0,315.6 346.3,315.5 346.6,315.3 346.9,315.1 347.2,314.8 347.5,314.4 347.8,313.9 348.1,313.2 348.4,312.4 348.7,311.5 349.0,310.4 349.3,309.2 349.6,307.9 349.9,306.5 350.2,305.0 350.5,303.6 350.8,302.3 351.1,301.1 351.4,300.2 351.7,299.5 352.0,299.1 352.3,299.0 352.6,299.3 352.9,299.9 353.2,300.8 353.5,301.9 353.8,303.2 354.1,304.6 354.4,306.0 354.7,307.4 355.0,308.8 355.3,310.0 355.6,311.2 355.9,312.1 356.2,313.0 356.5,313.7 356.8,314.2 357.1,314.6 357.4,315.0 357.7,315.2 358.0,315.4 358.3,315.5 358.6,315.6 358.9,315.7 359.2,315.7 359.5,315.8 359.8,315.8 360.1,315.8 360.4,315.8 360.7,315.8 361.0,315.8 361.3,315.8 361.6,315.8 361.9,315.8 362.2,315.8 362.5,315.8 362.8,315.8 363.1,315.8 363.4,315.8 363.7,315.8 364.0,315.8 364.3,315.8 364.6,315.8 364.9,315.8 365.2,315.8 365.5,315.8 365.8,315.8 366.1,315.8 366.4,315.8 366.7,315.8 367.0,315.8 367.3,315.8 367.6,315.8 367.9,315.8 368.2,315.8 368.5,315.8 368.8,315.8 369.1,315.8 369.4,315.8 369.7,315.8 370.0,315.8 370.3,315.8 370.6,315.8 370.9,315.8 371.2,315.8 371.5,315.8 371.8,315.8 372.1,315.8 372.4,315.8 372.7,315.8 373.0,315.8 373.3,315.8 373.6,315.8 373.9,315.8 374.2,315.8 374.5,315.8 374.8,315.8 375.1,315.8 375.4,315.8 375.7,315.8 376.0,315.8 376.3,315.8 376.6,315.8 376.9,315.8 377.2,315.8 377.5,315.8 377.8,315.8 378.1,315.8 378.4,315.8 378.7,315.8 379.0,315.8 379.3,315.8 379.6,315.8 379.9,315.8 380.2,315.8 380.5,315.7 380.8,315.7 381.1,315.6 381.4,315.5 381.7,315.4 382.0,315.2 382.3,315.0 382.6,314.6 382.9,314.2 383.2,313.7 383.5,313.0 383.8,312.1 384.1,311.2 384.4,310.0 384.7,308.8 385.0,307.4 385.3,306.0 385.6,304.6 385.9,303.2 386.2,301.9 386.5,300.8 386.8,299.9 387.1,299.3 387.4,299.0 387.7,299.1 388.0,299.5 388.3,300.2 388.6,301.1 388.9,302.3 389.2,303.6 389.5,305.0 389.8,306.5 390.1,307.9 390.4,309.2 390.7,310.4 391.0,311.5 391.3,312.4 391.6,313.2 391.9,313.9 392.2,314.4 392.5,314.8 392.8,315.1 393.1,315.3 393.4,315.5 393.7,315.6 394.0,315.6 394.3,315.7 394.6,315.7 394.9,315.8 395.2,315.8 395.5,315.8 395.8,315.8 396.1,315.8 396.4,315.8 396.7,315.8 397.0,315.8 397.3,315.8 397.6,315.8 397.9,315.8 398.2,315.8 398.5,315.8 398.8,315.8 399.1,315.8 399.4,315.8 399.7,315.8 400.0,315.8 400.3,315.8 400.6,315.8 400.9,315.8 401.2,315.8 401.5,315.8 401.8,315.8 402.1,315.8 402.4,315.8 402.7,315.8 403.0,315.8 403.3,315.8 403.6,315.8 403.9,315.8 404.2,315.8 404.5,315.8 404.8,315.8 405.1,315.8 405.4,315.8 405.7,315.8 406.0,315.8 406.3,315.8 406.6,315.8 406.9,315.8 407.2,315.8 407.5,315.8 407.8,315.8 408.1,315.8 408.4,315.8 408.7,315.8 409.0,315.8 409.3,315.8 409.6,315.8 409.9,315.8 410.2,315.8 410.5,315.8 410.8,315.8 411.1,315.8 411.4,315.8 411.7,315.8 412.0,315.8 412.3,315.8 412.6,315.8 412.9,315.8 413.2,315.8 413.5,315.8 413.8,315.8 414.1,315.8 414.4,315.8 414.7,315.8 415.0,315.8 415.3,315.8 415.6,315.7 415.9,315.7 416.2,315.7 416.5,315.6 416.8,315.5 417.1,315.4 417.4,315.1 417.7,314.9 418.0,314.5 418.3,314.0 418.6,313.4 418.9,312.7 419.2,311.8 419.5,310.8 419.8,309.6 420.1,308.3 420.4,307.0 420.7,305.5 421.0,304.1 421.3,302.7 421.6,301.5 421.9,300.5 422.2,299.7 422.5,299.2 422.8,299.0 423.1,299.2 423.4,299.7 423.7,300.5 424.0,301.5" fill="none" stroke="#f0f0f6" stroke-width="1.4" clip-path="url(#ce)"/><text x="482.8" y="203.2" font-size="9.6" text-anchor="end" fill="#3a3a3a">2000</text><text x="482.8" y="226.9" font-size="9.6" text-anchor="end" fill="#3a3a3a">1500</text><text x="482.8" y="250.6" font-size="9.6" text-anchor="end" fill="#3a3a3a">1000</text><text x="482.8" y="274.3" font-size="9.6" text-anchor="end" fill="#3a3a3a">500</text><text x="482.8" y="298" font-size="9.6" text-anchor="end" fill="#3a3a3a">0</text><text x="482.8" y="321.7" font-size="9.6" text-anchor="end" fill="#3a3a3a">-500</text><text x="636" y="202.6" font-size="9" text-anchor="start" fill="#3a3a3a">0</text><text x="636" y="226.4" font-size="9" text-anchor="start" fill="#3a3a3a">-2</text><text x="636" y="250.2" font-size="9" text-anchor="start" fill="#3a3a3a">-4</text><text x="636" y="274" font-size="9" text-anchor="start" fill="#3a3a3a">-6</text><text x="636" y="297.8" font-size="9" text-anchor="start" fill="#3a3a3a">-8</text><text x="636" y="321.6" font-size="9" text-anchor="start" fill="#3a3a3a">-10</text><text x="519.5" y="331.1" font-size="10" text-anchor="middle" fill="#3a3a3a">-20</text><text x="554.8" y="331.1" font-size="10" text-anchor="middle" fill="#3a3a3a">0</text><text x="590.1" y="331.1" font-size="10" text-anchor="middle" fill="#3a3a3a">20</text><text x="554.8" y="344" font-size="11.5" text-anchor="middle" fill="#3a3a3a">x (a.u.)</text><text x="459.5" y="257.7" font-size="11.5" text-anchor="middle" fill="#3a3a3a" transform="rotate(-90 459.5 257.7)">y (a.u.)</text><text x="526" y="189.3" font-size="11" fill="#111">t<tspan font-size="7" dy="2">3</tspan><tspan dy="-2">=0.97 T</tspan></text><clipPath id="cf"><rect x="486" y="199" width="138" height="119"/></clipPath><polyline points="483.0,305.8 483.3,304.5 483.6,303.4 483.9,302.5 484.2,301.9 484.5,301.6 484.8,301.7 485.1,302.1 485.4,302.8 485.7,303.7 486.0,304.9 486.3,306.3 486.6,307.7 486.9,309.2 487.2,310.6 487.5,311.9 487.8,313.2 488.1,314.3 488.4,315.2 488.7,316.0 489.0,316.6 489.3,317.2 489.6,317.6 489.9,317.9 490.2,318.1 490.5,318.2 490.8,318.4 491.1,318.4 491.4,318.5 491.7,318.5 492.0,318.6 492.3,318.6 492.6,318.6 492.9,318.6 493.2,318.6 493.5,318.6 493.8,318.6 494.1,318.6 494.4,318.6 494.7,318.6 495.0,318.6 495.3,318.6 495.6,318.6 495.9,318.6 496.2,318.6 496.5,318.6 496.8,318.6 497.1,318.6 497.4,318.6 497.7,318.6 498.0,318.6 498.3,318.6 498.6,318.6 498.9,318.6 499.2,318.6 499.5,318.6 499.8,318.6 500.1,318.6 500.4,318.6 500.7,318.6 501.0,318.6 501.3,318.6 501.6,318.6 501.9,318.6 502.2,318.6 502.5,318.6 502.8,318.6 503.1,318.6 503.4,318.6 503.7,318.6 504.0,318.6 504.3,318.6 504.6,318.6 504.9,318.6 505.2,318.6 505.5,318.6 505.8,318.6 506.1,318.6 506.4,318.6 506.7,318.6 507.0,318.6 507.3,318.6 507.6,318.6 507.9,318.6 508.2,318.6 508.5,318.6 508.8,318.6 509.1,318.6 509.4,318.6 509.7,318.6 510.0,318.6 510.3,318.6 510.6,318.6 510.9,318.6 511.2,318.6 511.5,318.6 511.8,318.6 512.1,318.6 512.4,318.6 512.7,318.5 513.0,318.5 513.3,318.5 513.6,318.4 513.9,318.3 514.2,318.1 514.5,317.9 514.8,317.7 515.1,317.3 515.4,316.8 515.7,316.2 516.0,315.5 516.3,314.6 516.6,313.5 516.9,312.4 517.2,311.1 517.5,309.7 517.8,308.2 518.1,306.8 518.4,305.4 518.7,304.1 519.0,303.1 519.3,302.3 519.6,301.8 519.9,301.6 520.2,301.8 520.5,302.3 520.8,303.1 521.1,304.1 521.4,305.4 521.7,306.8 522.0,308.2 522.3,309.7 522.6,311.1 522.9,312.4 523.2,313.5 523.5,314.6 523.8,315.5 524.1,316.2 524.4,316.8 524.7,317.3 525.0,317.7 525.3,317.9 525.6,318.1 525.9,318.3 526.2,318.4 526.5,318.5 526.8,318.5 527.1,318.5 527.4,318.6 527.7,318.6 528.0,318.6 528.3,318.6 528.6,318.6 528.9,318.6 529.2,318.6 529.5,318.6 529.8,318.6 530.1,318.6 530.4,318.6 530.7,318.6 531.0,318.6 531.3,318.6 531.6,318.6 531.9,318.6 532.2,318.6 532.5,318.6 532.8,318.6 533.1,318.6 533.4,318.6 533.7,318.6 534.0,318.6 534.3,318.6 534.6,318.6 534.9,318.6 535.2,318.6 535.5,318.6 535.8,318.6 536.1,318.6 536.4,318.6 536.7,318.6 537.0,318.6 537.3,318.6 537.6,318.6 537.9,318.6 538.2,318.6 538.5,318.6 538.8,318.6 539.1,318.6 539.4,318.6 539.7,318.6 540.0,318.6 540.3,318.6 540.6,318.6 540.9,318.6 541.2,318.6 541.5,318.6 541.8,318.6 542.1,318.6 542.4,318.6 542.7,318.6 543.0,318.6 543.3,318.6 543.6,318.6 543.9,318.6 544.2,318.6 544.5,318.6 544.8,318.6 545.1,318.6 545.4,318.6 545.7,318.6 546.0,318.6 546.3,318.6 546.6,318.6 546.9,318.6 547.2,318.6 547.5,318.6 547.8,318.6 548.1,318.5 548.4,318.5 548.7,318.4 549.0,318.4 549.3,318.2 549.6,318.1 549.9,317.9 550.2,317.6 550.5,317.2 550.8,316.6 551.1,316.0 551.4,315.2 551.7,314.3 552.0,313.2 552.3,311.9 552.6,310.6 552.9,309.2 553.2,307.7 553.5,306.3 553.8,304.9 554.1,303.7 554.4,302.8 554.7,302.1 555.0,301.7 555.3,301.6 555.6,301.9 555.9,302.5 556.2,303.4 556.5,304.5 556.8,305.8 557.1,307.2 557.4,308.7 557.7,310.1 558.0,311.5 558.3,312.8 558.6,313.9 558.9,314.9 559.2,315.7 559.5,316.4 559.8,317.0 560.1,317.4 560.4,317.8 560.7,318.0 561.0,318.2 561.3,318.3 561.6,318.4 561.9,318.5 562.2,318.5 562.5,318.6 562.8,318.6 563.1,318.6 563.4,318.6 563.7,318.6 564.0,318.6 564.3,318.6 564.6,318.6 564.9,318.6 565.2,318.6 565.5,318.6 565.8,318.6 566.1,318.6 566.4,318.6 566.7,318.6 567.0,318.6 567.3,318.6 567.6,318.6 567.9,318.6 568.2,318.6 568.5,318.6 568.8,318.6 569.1,318.6 569.4,318.6 569.7,318.6 570.0,318.6 570.3,318.6 570.6,318.6 570.9,318.6 571.2,318.6 571.5,318.6 571.8,318.6 572.1,318.6 572.4,318.6 572.7,318.6 573.0,318.6 573.3,318.6 573.6,318.6 573.9,318.6 574.2,318.6 574.5,318.6 574.8,318.6 575.1,318.6 575.4,318.6 575.7,318.6 576.0,318.6 576.3,318.6 576.6,318.6 576.9,318.6 577.2,318.6 577.5,318.6 577.8,318.6 578.1,318.6 578.4,318.6 578.7,318.6 579.0,318.6 579.3,318.6 579.6,318.6 579.9,318.6 580.2,318.6 580.5,318.6 580.8,318.6 581.1,318.6 581.4,318.6 581.7,318.6 582.0,318.6 582.3,318.6 582.6,318.6 582.9,318.6 583.2,318.6 583.5,318.5 583.8,318.5 584.1,318.4 584.4,318.3 584.7,318.2 585.0,318.0 585.3,317.8 585.6,317.4 585.9,317.0 586.2,316.4 586.5,315.7 586.8,314.9 587.1,313.9 587.4,312.8 587.7,311.5 588.0,310.1 588.3,308.7 588.6,307.2 588.9,305.8 589.2,304.5 589.5,303.4 589.8,302.5 590.1,301.9 590.4,301.6 590.7,301.7 591.0,302.1 591.3,302.8 591.6,303.7 591.9,304.9 592.2,306.3 592.5,307.7 592.8,309.2 593.1,310.6 593.4,311.9 593.7,313.2 594.0,314.3 594.3,315.2 594.6,316.0 594.9,316.6 595.2,317.2 595.5,317.6 595.8,317.9 596.1,318.1 596.4,318.2 596.7,318.4 597.0,318.4 597.3,318.5 597.6,318.5 597.9,318.6 598.2,318.6 598.5,318.6 598.8,318.6 599.1,318.6 599.4,318.6 599.7,318.6 600.0,318.6 600.3,318.6 600.6,318.6 600.9,318.6 601.2,318.6 601.5,318.6 601.8,318.6 602.1,318.6 602.4,318.6 602.7,318.6 603.0,318.6 603.3,318.6 603.6,318.6 603.9,318.6 604.2,318.6 604.5,318.6 604.8,318.6 605.1,318.6 605.4,318.6 605.7,318.6 606.0,318.6 606.3,318.6 606.6,318.6 606.9,318.6 607.2,318.6 607.5,318.6 607.8,318.6 608.1,318.6 608.4,318.6 608.7,318.6 609.0,318.6 609.3,318.6 609.6,318.6 609.9,318.6 610.2,318.6 610.5,318.6 610.8,318.6 611.1,318.6 611.4,318.6 611.7,318.6 612.0,318.6 612.3,318.6 612.6,318.6 612.9,318.6 613.2,318.6 613.5,318.6 613.8,318.6 614.1,318.6 614.4,318.6 614.7,318.6 615.0,318.6 615.3,318.6 615.6,318.6 615.9,318.6 616.2,318.6 616.5,318.6 616.8,318.6 617.1,318.6 617.4,318.6 617.7,318.6 618.0,318.6 618.3,318.6 618.6,318.5 618.9,318.5 619.2,318.5 619.5,318.4 619.8,318.3 620.1,318.1 620.4,317.9 620.7,317.7 621.0,317.3 621.3,316.8 621.6,316.2 621.9,315.5 622.2,314.6 622.5,313.5 622.8,312.4 623.1,311.1 623.4,309.7 623.7,308.2 624.0,306.8 624.3,305.4 624.6,304.1 624.9,303.1 625.2,302.3 625.5,301.8 625.8,301.6 626.1,301.8 626.4,302.3 626.7,303.1 627.0,304.1" fill="none" stroke="#f0f0f6" stroke-width="1.4" clip-path="url(#cf)"/></svg></body></html>
